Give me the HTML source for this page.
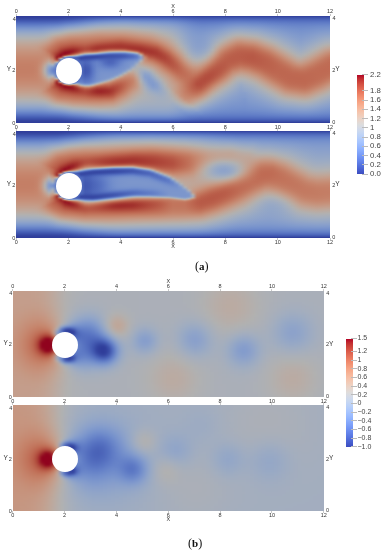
<!DOCTYPE html><html><head><meta charset="utf-8"><style>
*{margin:0;padding:0}
html,body{width:386px;height:550px;background:#fff;overflow:hidden}
body{position:relative;font-family:"Liberation Sans",Arial,sans-serif}
.fw{position:absolute;overflow:hidden}
.fi{position:absolute}
.fi i{position:absolute;left:0;right:0;display:block}
.cyl{position:absolute;background:#fff;border-radius:50%}
.t{position:absolute;white-space:nowrap}
.k{position:absolute}
.cap .p{font-size:12.2px}
.cap{position:absolute;font-family:"Liberation Serif","Times New Roman",serif;font-size:11px;line-height:11px;color:#111;white-space:nowrap}
</style></head><body>
<div class="fw" style="left:16px;top:16px;width:314px;height:107px">
<div class="fi" style="left:-3px;top:-3px;width:320px;height:113px;filter:blur(0.6px)">
<i style="top:0px;height:1px;background:linear-gradient(90deg,#2f3d9a,#2f3d9a,#2f3d9a,#2f3d9a,#2f3d9a,#2f3d9a,#2f3d9a,#2f3d9a,#2f3d9a,#2f3d9a,#2f3d9a,#2f3d9a,#2f3d9a,#2f3d9a,#2f3d9a,#2f3d9a,#2f3d9a,#2f3d9a,#2f3d9a,#2f3d9a,#2f3d9a,#2f3d9a,#2f3d9a,#2f3d9a,#2f3d9a,#2f3d9a,#2f3d9a,#2f3d9a,#2f3d9a,#2f3d9a,#2f3d9a,#2f3d9a,#2f3d9a,#2f3d9a,#2f3d9a,#2f3d9a,#2f3d9a,#2f3d9a,#2f3d9a,#2f3d9a,#2f3d9a,#2f3d9a,#2f3d9a,#2f3d9a,#2f3d9a,#2f3d9a,#2f3d9a,#2f3d9a,#2f3d9a,#2f3d9a,#2f3d9a,#2f3d9a,#2f3d9a,#2f3d9a,#2f3d9a,#2f3d9a,#2f3d9a,#2f3d9a,#2f3d9a,#2f3d9a,#2f3d9a,#2f3d9a,#2f3d9a,#2f3d9a,#2f3d9a,#2f3d9a,#2f3d9a,#2f3d9a,#2f3d9a,#2f3d9a,#2f3d9a,#2f3d9a,#2f3d9a,#2f3d9a,#2f3d9a,#2f3d9a,#2f3d9a,#2f3d9a,#2f3d9a,#2f3d9a,#2f3d9a)"></i>
<i style="top:1px;height:1px;background:linear-gradient(90deg,#2f3d9a,#2f3d9a,#2f3d9a,#2f3d9a,#2f3d9a,#2f3d9a,#2f3d9a,#2f3d9a,#2f3d9a,#2f3d9a,#2f3d9a,#2f3d9a,#2f3d9a,#2f3d9a,#2f3d9a,#2f3d9a,#2f3d9a,#2f3d9a,#2f3d9a,#2f3d9a,#2f3d9a,#2f3d9a,#2f3d9a,#2f3d9a,#2f3d9a,#2f3d9a,#2f3d9a,#2f3d9a,#2f3d9a,#2f3d9a,#2f3d9a,#2f3d9a,#2f3d9a,#2f3d9a,#2f3d9a,#2f3d9a,#2f3d9a,#2f3d9a,#2f3d9a,#2f3d9a,#2f3d9a,#2f3d9a,#2f3d9a,#2f3d9a,#2f3d9a,#2f3d9a,#2f3d9a,#2f3d9a,#2f3d9a,#2f3d9a,#2f3d9a,#2f3d9a,#2f3d9a,#2f3d9a,#2f3d9a,#2f3d9a,#2f3d9a,#2f3d9a,#2f3d9a,#2f3d9a,#2f3d9a,#2f3d9a,#2f3d9a,#2f3d9a,#2f3d9a,#2f3d9a,#2f3d9a,#2f3d9a,#2f3d9a,#2f3d9a,#2f3d9a,#2f3d9a,#2f3d9a,#2f3d9a,#2f3d9a,#2f3d9a,#2f3d9a,#2f3d9a,#2f3d9a,#2f3d9a,#2f3d9a)"></i>
<i style="top:2px;height:1px;background:linear-gradient(90deg,#2f3d9a,#2f3d9a,#2f3d9a,#2f3d9a,#2f3d9a,#2f3d9a,#2f3d9a,#2f3d9a,#2f3d9a,#2f3d9a,#2f3d9a,#2f3d9a,#2f3d9a,#2f3d9a,#2f3d9a,#2f3d9a,#2f3d9a,#2f3d9a,#2f3d9a,#2f3d9a,#2f3d9a,#2f3d9a,#2f3d9a,#2f3d9a,#2f3d9a,#2f3d9a,#2f3d9a,#2f3d9a,#2f3d9a,#2f3d9a,#2f3d9a,#2f3d9a,#2f3d9a,#2f3d9a,#2f3d9a,#2f3d9a,#2f3d9a,#2f3d9a,#2f3d9a,#2f3d9a,#2f3d9a,#2f3d9a,#2f3d9a,#2f3d9a,#2f3d9a,#2f3d9a,#2f3d9a,#2f3d9a,#2f3d9a,#2f3d9a,#2f3d9a,#2f3d9a,#2f3d9a,#2f3d9a,#2f3d9a,#2f3d9a,#2f3d9a,#2f3d9a,#2f3d9a,#2f3d9a,#2f3d9a,#2f3d9a,#2f3d9a,#2f3d9a,#2f3d9a,#2f3d9a,#2f3d9a,#2f3d9a,#2f3d9a,#2f3d9a,#2f3d9a,#2f3d9a,#2f3d9a,#2f3d9a,#2f3d9a,#2f3d9a,#2f3d9a,#2f3d9a,#2f3d9a,#2f3d9a,#2f3d9a)"></i>
<i style="top:3px;height:1px;background:linear-gradient(90deg,#303d9a,#303d9a,#303d9a,#303d9a,#303d9a,#303d9a,#303d9a,#303d9a,#303d9a,#303d9a,#303d9a,#303e9a,#303e9b,#303e9b,#313f9b,#31409c,#32409d,#32419e,#33429e,#33439f,#3444a0,#3545a1,#3546a1,#3546a2,#3647a2,#3648a3,#3648a3,#3748a3,#3748a3,#3748a3,#3648a3,#3648a3,#3648a3,#3648a3,#3648a3,#3648a3,#3648a3,#3648a3,#3648a3,#3647a3,#3647a2,#3647a2,#3546a2,#3546a1,#3545a1,#3445a0,#3444a0,#3444a0,#3444a0,#3444a0,#3444a0,#3444a0,#3444a0,#3444a0,#3444a0,#3444a0,#3445a0,#3445a0,#3444a0,#3444a0,#3444a0,#3444a0,#3444a0,#3444a0,#3444a0,#3444a0,#3444a0,#3444a0,#3444a0,#3444a0,#3444a0,#3444a0,#3444a0,#3444a0,#3444a0,#3444a0,#3444a0,#3444a0,#3444a0,#3444a0,#3444a0)"></i>
<i style="top:4px;height:1px;background:linear-gradient(90deg,#32419d,#32419d,#32419d,#32419d,#32419d,#32419d,#32419d,#32419d,#32419d,#32419d,#32419d,#32429e,#33429e,#3444a0,#3545a1,#3647a3,#3749a4,#394ca6,#3a4ea8,#3c51aa,#3e53ac,#3f55ae,#4157af,#4259b0,#435ab1,#445bb2,#445cb3,#455cb3,#455db3,#455db3,#455cb3,#445cb3,#445cb3,#445cb2,#445bb2,#445bb2,#445bb2,#435bb2,#435bb2,#435ab1,#4259b1,#4158b0,#4057af,#3f55ae,#3e54ad,#3d53ac,#3d52ab,#3c51aa,#3c51aa,#3c51aa,#3c51aa,#3c51aa,#3d52ab,#3d52ab,#3d52ab,#3d53ac,#3d53ac,#3d53ac,#3d53ac,#3d53ab,#3d52ab,#3d52ab,#3d52ab,#3d52ab,#3d51ab,#3c51aa,#3c51aa,#3c51aa,#3c51aa,#3c51aa,#3c51aa,#3c50aa,#3c50aa,#3c50aa,#3c51aa,#3c51aa,#3c51aa,#3c51aa,#3c51aa,#3c51aa,#3c51aa)"></i>
<i style="top:5px;height:1px;background:linear-gradient(90deg,#3647a2,#3647a2,#3647a2,#3647a2,#3647a2,#3647a2,#3647a2,#3647a2,#3647a2,#3647a2,#3647a3,#3648a3,#3749a4,#394ca6,#3a4ea8,#3c51aa,#3e54ac,#4057af,#435ab1,#465eb4,#4861b6,#4b64b8,#4d67ba,#4f69bc,#506abd,#526cbd,#526dbe,#536ebe,#536ebf,#536ebf,#536dbe,#526dbe,#526cbe,#526cbe,#526cbd,#516cbd,#516bbd,#516bbd,#506abd,#506abc,#4f69bc,#4d67ba,#4c65b9,#4a62b7,#4860b6,#465eb4,#455db3,#445cb2,#445bb2,#445cb2,#445cb3,#455cb3,#455db3,#455db4,#465eb4,#465fb5,#475fb5,#475fb5,#475fb5,#465eb5,#465eb4,#465eb4,#465eb4,#455db4,#455db3,#455cb3,#445cb3,#445cb3,#445bb2,#445bb2,#445bb2,#445bb2,#445bb2,#445bb2,#445bb2,#445bb2,#445bb2,#445bb2,#445cb2,#445cb2,#445cb2)"></i>
<i style="top:6px;height:1px;background:linear-gradient(90deg,#3a4ea8,#3a4ea8,#3a4ea8,#3a4ea8,#3a4ea8,#3a4ea8,#3a4ea8,#3a4ea8,#3a4ea8,#3b4fa8,#3b4fa9,#3b50a9,#3d52ab,#3f55ad,#4157af,#435ab2,#465eb4,#4962b7,#4d66ba,#506abc,#536ebf,#5672c1,#5974c2,#5b77c3,#5d79c4,#5e7ac5,#607cc6,#607cc6,#617dc6,#607cc6,#607cc6,#5f7bc6,#5f7bc5,#5e7ac5,#5e7ac5,#5d79c5,#5d79c4,#5c78c4,#5c78c4,#5b77c3,#5a75c3,#5773c1,#5570c0,#536dbe,#516bbd,#4f68bb,#4d66ba,#4c65b9,#4c65b9,#4c65b9,#4c65b9,#4d66ba,#4d67ba,#4e68bb,#4f69bc,#4f69bc,#506abc,#506abc,#5069bc,#4f69bc,#4f69bc,#4f68bb,#4e68bb,#4e67bb,#4d67ba,#4d66ba,#4c66ba,#4c65b9,#4c65b9,#4b64b9,#4b64b9,#4b64b8,#4b64b8,#4b64b8,#4b64b9,#4b64b9,#4c65b9,#4c65b9,#4c65b9,#4c65b9,#4c65b9)"></i>
<i style="top:7px;height:1px;background:linear-gradient(90deg,#4056ae,#4056ae,#4056ae,#4056ae,#4056ae,#4056ae,#4056ae,#4056ae,#4057af,#4157af,#4158af,#4258b0,#435bb2,#465eb5,#4961b7,#4c65b9,#4f69bc,#536dbe,#5772c1,#5a76c3,#5e7ac5,#627ec7,#6581c8,#6783c8,#6985c9,#6b87ca,#6c88ca,#6d89ca,#6d89ca,#6d89ca,#6c88ca,#6b87ca,#6a86c9,#6a86c9,#6985c9,#6985c9,#6884c9,#6783c9,#6783c8,#6682c8,#6480c7,#617dc6,#5e7ac5,#5b77c3,#5873c2,#5570c0,#536ebf,#526dbe,#526cbe,#526dbe,#536dbe,#536ebf,#546fbf,#5570c0,#5672c1,#5772c1,#5873c1,#5873c2,#5773c1,#5772c1,#5772c1,#5671c1,#5671c0,#5570c0,#546fbf,#546ebf,#536ebe,#536dbe,#526dbe,#526cbe,#526cbe,#516cbd,#516cbd,#516cbd,#526cbd,#526cbe,#526cbe,#526dbe,#526dbe,#536dbe,#536dbe)"></i>
<i style="top:8px;height:1px;background:linear-gradient(90deg,#465eb5,#465eb5,#465eb5,#465eb5,#465eb5,#465eb5,#465eb5,#475fb5,#475fb5,#4860b6,#4861b6,#4962b7,#4c65b9,#4f69bc,#526cbe,#5570c0,#5874c2,#5d78c4,#617dc6,#6581c8,#6985c9,#6d89ca,#708ccb,#738ecb,#7590cc,#7691cc,#7792cc,#7893cc,#7993cc,#7893cc,#7792cc,#7691cc,#7590cc,#7490cc,#748fcb,#738fcb,#728ecb,#718dcb,#708ccb,#6f8bcb,#6c88ca,#6a86c9,#6682c8,#627ec7,#5f7bc5,#5c77c4,#5975c2,#5873c2,#5873c2,#5874c2,#5974c2,#5a75c3,#5b77c3,#5c78c4,#5e7ac5,#5f7bc5,#607cc6,#607cc6,#5f7bc6,#5f7bc5,#5e7ac5,#5e7ac5,#5d79c4,#5c78c4,#5b77c3,#5a76c3,#5975c2,#5974c2,#5874c2,#5873c1,#5773c1,#5772c1,#5772c1,#5772c1,#5772c1,#5873c1,#5873c2,#5874c2,#5874c2,#5974c2,#5974c2)"></i>
<i style="top:9px;height:1px;background:linear-gradient(90deg,#4e67bb,#4e67bb,#4e67bb,#4e67bb,#4e67bb,#4e67bb,#4e67bb,#4e68bb,#4f68bb,#4f69bc,#506abc,#516bbd,#546ebf,#5873c1,#5b77c3,#5e7ac5,#627ec7,#6783c8,#6c88ca,#708ccb,#7490cc,#7893cc,#7b95cc,#7e97cc,#7f99cc,#819acc,#829bcc,#839ccc,#839ccc,#839bcc,#819acc,#8099cc,#7f99cc,#7e98cc,#7d97cc,#7c96cc,#7b95cc,#7a94cc,#7993cc,#7792cc,#7490cc,#718dcb,#6d89ca,#6985c9,#6581c8,#627ec6,#5f7bc5,#5e79c5,#5d79c5,#5e7ac5,#5f7bc5,#607cc6,#617dc6,#637fc7,#6581c8,#6682c8,#6783c8,#6783c8,#6783c8,#6682c8,#6581c8,#6581c8,#6480c7,#627ec7,#617dc6,#607cc6,#5f7bc6,#5e7ac5,#5e7ac5,#5d79c4,#5d78c4,#5c78c4,#5c78c4,#5c78c4,#5d78c4,#5d79c4,#5d79c5,#5e7ac5,#5e7ac5,#5e7ac5,#5e7ac5)"></i>
<i style="top:10px;height:1px;background:linear-gradient(90deg,#5570c0,#5570c0,#5570c0,#5570c0,#5570c0,#5570c0,#5570c0,#5570c0,#5671c0,#5772c1,#5873c2,#5975c2,#5d78c4,#617dc6,#6581c8,#6884c9,#6d89ca,#718dcb,#7691cc,#7a95cc,#7f98cc,#839ccc,#869ecb,#889fcb,#8aa0cb,#8ba1ca,#8ca2ca,#8da2ca,#8da2ca,#8ca2ca,#8ba1ca,#8aa0cb,#889fcb,#879ecb,#869dcb,#859dcc,#839ccc,#829bcc,#8099cc,#7e98cc,#7b95cc,#7892cc,#738fcb,#6f8bcb,#6a86c9,#6783c8,#6480c7,#627ec7,#627ec7,#637fc7,#6480c7,#6581c8,#6783c8,#6985c9,#6b87ca,#6d89ca,#6e8aca,#6e8aca,#6e8aca,#6d89ca,#6c88ca,#6b87ca,#6a86c9,#6985c9,#6783c8,#6682c8,#6581c8,#6480c7,#637fc7,#627ec7,#617dc6,#617dc6,#617dc6,#617dc6,#617dc6,#627ec7,#627ec7,#637fc7,#637fc7,#637fc7,#6480c7)"></i>
<i style="top:11px;height:1px;background:linear-gradient(90deg,#5c78c4,#5c78c4,#5c78c4,#5c78c4,#5c78c4,#5c78c4,#5c78c4,#5d79c4,#5e7ac5,#5f7bc6,#617dc6,#627ec7,#6682c8,#6b87ca,#6f8bcb,#738ecb,#7792cc,#7b95cc,#8099cc,#859dcc,#89a0cb,#8da2ca,#90a4c9,#91a5c8,#93a6c7,#94a7c7,#95a7c6,#96a8c6,#96a8c6,#95a7c6,#93a6c7,#92a5c8,#90a4c8,#8fa4c9,#8ea3c9,#8da2ca,#8ba1ca,#899fcb,#879ecb,#859dcc,#829bcc,#7e97cc,#7993cc,#748fcb,#6f8bcb,#6b87ca,#6884c9,#6783c8,#6783c8,#6884c9,#6985c9,#6a86c9,#6c88ca,#6f8bcb,#728dcb,#748fcb,#7590cc,#7590cc,#7490cc,#738fcb,#728ecb,#718dcb,#708ccb,#6e8aca,#6c88ca,#6b87ca,#6985c9,#6884c9,#6783c9,#6682c8,#6682c8,#6581c8,#6581c8,#6581c8,#6682c8,#6682c8,#6783c8,#6783c9,#6884c9,#6884c9,#6884c9)"></i>
<i style="top:12px;height:1px;background:linear-gradient(90deg,#6480c7,#6480c7,#6480c7,#6480c7,#6480c7,#6480c7,#6480c7,#6581c8,#6682c8,#6884c9,#6985c9,#6c88ca,#6f8bcb,#7590cc,#7994cc,#7d97cc,#819acc,#869dcb,#8aa0cb,#8fa3c9,#93a6c7,#97a8c6,#99a9c4,#9aaac4,#9cabc3,#9dabc2,#9dabc2,#9eabc2,#9eabc2,#9dabc2,#9baac3,#99a9c4,#98a9c5,#96a8c6,#95a7c6,#94a7c7,#92a5c8,#8fa4c9,#8da2ca,#8ba1ca,#879ecb,#839bcc,#7d97cc,#7893cc,#738fcb,#6f8bcb,#6c88ca,#6b87ca,#6b87ca,#6c88ca,#6d89ca,#6f8bcb,#718dcb,#7490cc,#7792cc,#7a94cc,#7b95cc,#7b95cc,#7b95cc,#7994cc,#7893cc,#7792cc,#7691cc,#748fcb,#718dcb,#708ccb,#6e8aca,#6d89ca,#6b87ca,#6a86c9,#6985c9,#6985c9,#6884c9,#6985c9,#6985c9,#6a86c9,#6b87ca,#6c88ca,#6c88ca,#6d89ca,#6d89ca)"></i>
<i style="top:13px;height:1px;background:linear-gradient(90deg,#6b87ca,#6b87ca,#6b87ca,#6b87ca,#6b87ca,#6b87ca,#6c88ca,#6c88ca,#6e8aca,#708ccb,#728ecb,#7590cc,#7994cc,#7f98cc,#849ccc,#879ecb,#8ca1ca,#8fa4c9,#94a7c7,#98a9c5,#9cabc3,#9facc1,#a2adbf,#a3adbf,#a4aebe,#a4aebd,#a5aebd,#a5aebc,#a5aebc,#a4aebd,#a3adbf,#a1adc0,#9facc1,#9dabc2,#9cabc3,#9aaac4,#98a9c5,#95a7c6,#93a6c7,#90a4c8,#8ca2ca,#889ecb,#829bcc,#7c96cc,#7792cc,#728ecb,#708ccb,#6e8aca,#6e8acb,#708ccb,#718dcb,#738fcb,#7691cc,#7994cc,#7d97cc,#8099cc,#819acc,#829bcc,#819acc,#8099cc,#7e98cc,#7d97cc,#7b95cc,#7993cc,#7691cc,#7490cc,#728ecb,#718dcb,#6f8bcb,#6e8aca,#6d89ca,#6c88ca,#6c88ca,#6c88ca,#6d89ca,#6e8aca,#6f8bcb,#708ccb,#708ccb,#718dcb,#718dcb)"></i>
<i style="top:14px;height:1px;background:linear-gradient(90deg,#738fcb,#738fcb,#738fcb,#738fcb,#738fcb,#738fcb,#738fcb,#748fcb,#7691cc,#7893cc,#7b95cc,#7e98cc,#839bcc,#899fcb,#8ea3c9,#91a5c8,#95a7c6,#99a9c5,#9dabc2,#a1adc0,#a4aebe,#a7afbb,#a9afb9,#aaafb8,#abafb7,#abafb7,#acb0b6,#acb0b6,#acb0b6,#abafb7,#a9afb9,#a7aebb,#a5aebc,#a4aebe,#a2adbf,#a0acc0,#9dabc2,#9aaac4,#98a9c5,#95a7c6,#91a5c8,#8ca1ca,#869dcb,#7f99cc,#7a94cc,#7691cc,#738ecb,#718dcb,#728ecb,#738fcb,#7590cc,#7792cc,#7b95cc,#7e98cc,#829bcc,#869dcb,#889fcb,#889fcb,#879ecb,#859dcb,#849ccc,#839bcc,#809acc,#7e97cc,#7b95cc,#7893cc,#7691cc,#7590cc,#738ecb,#718dcb,#708ccb,#6f8bcb,#6e8acb,#6f8bcb,#708ccb,#718dcb,#728ecb,#738fcb,#7490cc,#7590cc,#7590cc)"></i>
<i style="top:15px;height:1px;background:linear-gradient(90deg,#7a95cc,#7a95cc,#7a95cc,#7a95cc,#7a95cc,#7a95cc,#7a95cc,#7b95cc,#7d97cc,#819acc,#849ccc,#889fcb,#8ca1ca,#92a6c8,#97a8c5,#9aaac4,#9eacc2,#a2adbf,#a5aebd,#a9afba,#acb0b7,#aeb0b3,#b0b1b2,#b1b1b1,#b1b1b0,#b1b0b0,#b2b0af,#b2b0af,#b2b0af,#b1b1b1,#afb0b3,#adb0b5,#abafb7,#a9afb9,#a8afba,#a6aebc,#a3adbf,#9facc1,#9cabc2,#99a9c4,#95a7c6,#8fa4c9,#899fcb,#839bcc,#7d97cc,#7893cc,#7591cc,#7490cc,#7590cc,#7792cc,#7993cc,#7b95cc,#7f98cc,#839ccc,#889fcb,#8ba1ca,#8da2c9,#8ea3c9,#8da2ca,#8ba1ca,#8aa0cb,#889fcb,#869dcb,#829bcc,#7f99cc,#7d96cc,#7a95cc,#7893cc,#7691cc,#7490cc,#738ecb,#728ecb,#718dcb,#728ecb,#738ecb,#748fcb,#7591cc,#7792cc,#7892cc,#7893cc,#7993cc)"></i>
<i style="top:16px;height:1px;background:linear-gradient(90deg,#819acc,#819acc,#819acc,#819acc,#819acc,#819acc,#819acc,#829bcc,#859dcc,#899fcb,#8da2ca,#90a4c8,#95a7c6,#9baac3,#a1adc0,#a4aebe,#a7aebb,#aaafb9,#adb0b6,#afb0b2,#b2b0af,#b5aeab,#b6ada9,#b7ada8,#b7ada8,#b7ada7,#b7ada7,#b7ada7,#b7ada7,#b6ada9,#b4afac,#b2b0af,#b0b1b1,#afb0b3,#adb0b5,#abafb7,#a7afbb,#a4aebe,#a1adc0,#9dabc2,#99a9c5,#93a6c7,#8ca1ca,#859dcb,#7f99cc,#7b95cc,#7893cc,#7792cc,#7892cc,#7a94cc,#7c96cc,#7f99cc,#839ccc,#889fcb,#8da2ca,#91a5c8,#93a6c7,#93a7c7,#92a6c8,#91a5c8,#8fa4c9,#8da2ca,#8ba1ca,#879ecb,#849ccc,#819acc,#7e98cc,#7c96cc,#7994cc,#7792cc,#7691cc,#7490cc,#738fcb,#7490cc,#7591cc,#7792cc,#7993cc,#7a94cc,#7b95cc,#7c96cc,#7c96cc)"></i>
<i style="top:17px;height:1px;background:linear-gradient(90deg,#889fcb,#889fcb,#889fcb,#889fcb,#889fcb,#889fcb,#889fcb,#899fcb,#8ca1ca,#90a4c8,#95a7c6,#99a9c4,#9eabc2,#a4aebe,#a9afb9,#acafb7,#aeb0b4,#b1b1b1,#b3afad,#b6aea9,#b8aca5,#baaaa2,#bcaaa0,#bca99f,#bca99f,#bca99f,#bca99f,#bca99e,#bca99f,#bbaaa1,#b9aba4,#b7ada7,#b5aeaa,#b3afad,#b2b0b0,#afb0b2,#acb0b6,#a8afba,#a5aebd,#a1adc0,#9cabc3,#96a8c6,#8fa3c9,#889fcb,#829acc,#7d97cc,#7a94cc,#7994cc,#7a94cc,#7d96cc,#8099cc,#839bcc,#879ecb,#8ca2ca,#91a5c8,#96a8c6,#99a9c5,#99a9c4,#98a9c5,#96a8c6,#94a7c7,#92a6c8,#8fa4c9,#8ca1ca,#889fcb,#859dcc,#829bcc,#7f98cc,#7c96cc,#7a94cc,#7893cc,#7792cc,#7691cc,#7792cc,#7893cc,#7a94cc,#7c96cc,#7d97cc,#7f98cc,#8099cc,#8099cc)"></i>
<i style="top:18px;height:1px;background:linear-gradient(90deg,#8ea3c9,#8ea3c9,#8ea3c9,#8ea3c9,#8ea3c9,#8fa3c9,#8fa3c9,#8fa4c9,#92a6c8,#98a9c5,#9dabc2,#a1adbf,#a6aebc,#acb0b7,#b0b1b1,#b3b0ae,#b5aeab,#b7ada7,#b9aba4,#bbaaa0,#bda89c,#bfa699,#c0a597,#c0a597,#c0a597,#c0a597,#c0a596,#c0a596,#c0a597,#bfa699,#bda89c,#bcaaa0,#baaba3,#b8aca6,#b6ada9,#b4afac,#b0b1b2,#acb0b6,#a9afba,#a5aebd,#9facc1,#99a9c5,#91a5c8,#8aa0cb,#839ccc,#7f98cc,#7c96cc,#7b95cc,#7c96cc,#7f99cc,#839bcc,#869ecb,#8ba1ca,#91a5c8,#96a8c6,#9baac3,#9eacc1,#9facc1,#9dabc2,#9baac3,#99aac4,#97a9c5,#94a7c7,#90a4c9,#8ca1ca,#889fcb,#859dcb,#829bcc,#7f98cc,#7c96cc,#7a95cc,#7993cc,#7892cc,#7993cc,#7a95cc,#7c96cc,#7e98cc,#809acc,#829bcc,#839ccc,#839ccc)"></i>
<i style="top:19px;height:1px;background:linear-gradient(90deg,#94a7c7,#94a7c7,#94a7c7,#94a7c7,#94a7c7,#94a7c7,#95a7c7,#95a7c6,#98a9c5,#9eacc1,#a4aebe,#a9afb9,#adb0b5,#b3b0ae,#b7ada7,#b9aba4,#bbaaa1,#bda99e,#bea79b,#c0a597,#c1a394,#c2a191,#c3a08f,#c3a08f,#c3a08f,#c3a08f,#c3a08e,#c3a08e,#c2a08f,#c2a292,#c0a495,#bfa698,#bea89c,#bca99f,#baaba2,#b8aca6,#b4afac,#b0b1b2,#acb0b6,#a8afba,#a3adbf,#9baac3,#93a7c7,#8ca1ca,#859dcb,#809acc,#7e97cc,#7d97cc,#7f98cc,#829bcc,#869dcb,#8aa0cb,#8fa4c9,#95a7c6,#9baac3,#a1adc0,#a4aebe,#a4aebd,#a3adbf,#a1adc0,#9facc1,#9dabc2,#99a9c4,#94a7c7,#90a4c8,#8ca2ca,#899fcb,#859dcb,#829bcc,#7f98cc,#7d96cc,#7b95cc,#7a94cc,#7b95cc,#7d96cc,#7f98cc,#819acc,#849ccc,#859dcb,#879ecb,#879ecb)"></i>
<i style="top:20px;height:1px;background:linear-gradient(90deg,#9aaac4,#9aaac4,#9aaac4,#9aaac4,#9aaac4,#9aaac4,#9aaac4,#9baac3,#9eacc1,#a5aebd,#abafb7,#b0b1b2,#b4afac,#b9aca4,#bda89d,#bea79a,#bfa597,#c1a495,#c2a292,#c3a08f,#c49e8c,#c49b88,#c59a87,#c59a87,#c59a87,#c59a87,#c59a86,#c59a86,#c59b87,#c49d8a,#c39f8e,#c2a191,#c1a495,#bfa698,#bea79b,#bcaaa0,#b8ada7,#b3afad,#afb0b2,#abafb7,#a6aebc,#9eabc2,#96a8c6,#8ea3c9,#879ecb,#829bcc,#7f99cc,#7f98cc,#809acc,#849ccc,#889fcb,#8da2ca,#93a6c7,#99a9c4,#a0acc1,#a6aebc,#a9afb9,#aaafb9,#a8afba,#a6aebc,#a4aebe,#a2adbf,#9dabc2,#98a9c5,#94a7c7,#90a4c9,#8ca2ca,#889fcb,#859dcc,#819acc,#7f98cc,#7d97cc,#7b96cc,#7d97cc,#7f98cc,#819acc,#849ccc,#879ecb,#899fcb,#8aa0cb,#8aa0cb)"></i>
<i style="top:21px;height:1px;background:linear-gradient(90deg,#9facc1,#9facc1,#9facc1,#9facc1,#9facc1,#9facc1,#a0acc1,#a0adc0,#a4aebe,#aaafb8,#b1b1b1,#b6ada9,#baaba2,#bea79b,#c1a393,#c2a191,#c39f8e,#c49e8c,#c49c8a,#c59a86,#c59883,#c69680,#c6957f,#c6957f,#c6957f,#c6947f,#c6947e,#c6947e,#c6957f,#c59782,#c59a86,#c49d8a,#c39f8e,#c2a191,#c1a495,#bfa69a,#bbaaa1,#b7ada8,#b2b0ae,#aeb0b4,#a8afba,#a0acc0,#98a9c5,#8fa4c9,#889fcb,#839ccc,#819acc,#8099cc,#829bcc,#869ecb,#8ba1ca,#90a4c8,#96a8c6,#9dabc2,#a4aebd,#abafb8,#aeb0b4,#afb0b3,#adb0b5,#abafb7,#a9afb9,#a7aebb,#a2adbf,#9dabc2,#98a9c5,#94a7c7,#90a4c9,#8ca1ca,#879ecb,#849ccc,#819acc,#7f98cc,#7d97cc,#7f98cc,#819acc,#849ccc,#879ecb,#8aa0cb,#8ca1ca,#8da2c9,#8ea3c9)"></i>
<i style="top:22px;height:1px;background:linear-gradient(90deg,#a4aebd,#a4aebd,#a4aebd,#a4aebd,#a4aebd,#a4aebd,#a5aebd,#a6aebc,#a9afba,#afb0b3,#b7ada8,#bca99f,#bfa699,#c2a191,#c49d8a,#c49b87,#c59985,#c59883,#c59681,#c6947e,#c6927c,#c69079,#c68f78,#c68f78,#c68f78,#c68e77,#c68e77,#c68d76,#c68f77,#c6917b,#c6947e,#c59782,#c59a86,#c49d8a,#c39f8e,#c1a393,#bea79b,#baaba3,#b6aea9,#b1b1b1,#abafb7,#a3adbf,#9aaac4,#91a5c8,#8aa0cb,#849dcc,#829bcc,#829bcc,#849ccc,#889fcb,#8ea3c9,#94a7c7,#9aaac4,#a2adbf,#a9afba,#afb0b3,#b3b0ae,#b4afac,#b2b0af,#b0b1b2,#aeb0b4,#abafb7,#a7aebb,#a1adc0,#9cabc3,#97a8c5,#93a6c7,#8ea3c9,#8aa0cb,#869ecb,#839ccc,#819acc,#7f98cc,#819acc,#839ccc,#869ecb,#8aa0cb,#8da2ca,#8fa4c9,#91a5c8,#91a5c8)"></i>
<i style="top:23px;height:1px;background:linear-gradient(90deg,#a9afba,#a9afba,#a9afba,#a9afb9,#a9afb9,#a9afb9,#a9afb9,#aaafb8,#adb0b5,#b3afad,#bcaaa0,#c0a496,#c2a08f,#c49b88,#c59681,#c6947e,#c6937d,#c6927b,#c6907a,#c68f78,#c68c75,#c68a73,#c68971,#c68971,#c68870,#c6886f,#c6876e,#c6866e,#c6886f,#c68b73,#c68e77,#c6917b,#c6957f,#c59883,#c59a87,#c39f8d,#c0a495,#bda99d,#b9aca5,#b4afac,#adb0b5,#a5aebd,#9cabc3,#92a6c8,#8ba1ca,#869dcb,#839ccc,#839bcc,#859dcc,#8aa0cb,#90a4c8,#97a8c5,#9eacc1,#a6aebc,#adb0b5,#b4afad,#b8aca6,#b9aca5,#b7ada8,#b5aeab,#b3b0ae,#b0b1b2,#abafb7,#a6aebc,#a0acc0,#9baac3,#96a8c6,#91a5c8,#8da2ca,#899fcb,#859dcb,#829bcc,#819acc,#839bcc,#859dcb,#899fcb,#8ca2ca,#90a4c9,#93a6c7,#94a7c7,#95a7c6)"></i>
<i style="top:24px;height:1px;background:linear-gradient(90deg,#adb0b5,#adb0b5,#adb0b5,#adb0b5,#adb0b5,#adb0b5,#adb0b5,#aeb0b3,#b1b0b0,#b8aca6,#bfa598,#c39e8d,#c59a86,#c6957f,#c69079,#c68e77,#c68d75,#c68c74,#c68b73,#c68971,#c6876e,#c6856c,#c5836a,#c5826a,#c58269,#c58068,#c47f66,#c47e66,#c48068,#c5846b,#c6886f,#c68b74,#c68f78,#c6927c,#c69580,#c59a87,#c2a08f,#bfa598,#bcaaa0,#b7ada8,#b0b1b2,#a7afbb,#9dabc2,#94a7c7,#8ca1ca,#879ecb,#849ccc,#849ccc,#869ecb,#8ca1ca,#92a6c8,#9aaac4,#a2adbf,#aaafb8,#b1b1b0,#b8aca6,#bca99f,#bda99d,#bbaaa0,#b9aba4,#b7ada7,#b5aeab,#afb0b2,#aaafb8,#a4aebd,#9facc1,#9aaac4,#94a7c7,#8fa4c9,#8ba1ca,#879ecb,#849ccc,#829bcc,#859dcc,#889ecb,#8ba1ca,#8fa3c9,#93a6c7,#96a8c6,#98a9c5,#98a9c5)"></i>
<i style="top:25px;height:1px;background:linear-gradient(90deg,#b0b1b1,#b0b1b1,#b0b1b1,#b0b1b1,#b0b1b1,#b1b1b1,#b1b1b0,#b2b0ae,#b5aeaa,#bca99f,#c2a191,#c59884,#c6937d,#c68e77,#c68971,#c6876f,#c6866e,#c6866d,#c6856c,#c5836a,#c58168,#c47f66,#c47d64,#c37c63,#c37a62,#c37960,#c2775e,#c2765d,#c37860,#c37c63,#c48067,#c5846c,#c68870,#c68c75,#c69079,#c69580,#c49c89,#c1a292,#bea79b,#b9aba4,#b2b0af,#aaafb9,#9facc1,#95a7c6,#8da2ca,#889ecb,#859dcc,#849dcc,#879ecb,#8da2ca,#95a7c7,#9dabc2,#a6aebc,#aeb0b4,#b5aeaa,#bca99f,#c0a597,#c0a495,#bfa699,#bda89c,#bcaa9f,#b9aca4,#b4afad,#aeb0b4,#a9afba,#a3aebe,#9eabc2,#97a9c5,#92a6c8,#8ea2c9,#8aa0cb,#869ecb,#849ccc,#879ecb,#8aa0cb,#8da2c9,#92a5c8,#96a8c6,#9aaac4,#9cabc3,#9cabc3)"></i>
<i style="top:26px;height:1px;background:linear-gradient(90deg,#b4afac,#b4afac,#b4afac,#b4afac,#b4afac,#b4afac,#b5aeab,#b6ada9,#b9aba4,#bfa699,#c49c8a,#c6927c,#c68c75,#c6876f,#c5836a,#c58168,#c48067,#c48067,#c48067,#c47e65,#c37b62,#c37860,#c2765e,#c2745c,#c1725a,#c17058,#c06e56,#bf6d55,#c07058,#c2745c,#c37860,#c47d64,#c58168,#c6856d,#c68971,#c69079,#c59782,#c39e8c,#c0a496,#bca99f,#b5aeab,#acb0b7,#a1adbf,#97a8c5,#8ea3c9,#889fcb,#859dcb,#859dcb,#889fcb,#8ea3c9,#97a8c5,#a1adc0,#aaafb9,#b2b0af,#b9aba3,#bfa598,#c2a08f,#c39f8e,#c2a191,#c1a394,#bfa598,#bda89d,#b8aca6,#b2b0af,#adb0b6,#a7aebb,#a1adc0,#9baac3,#95a7c6,#90a4c9,#8ca1ca,#889fcb,#869dcb,#899fcb,#8ca1ca,#90a4c9,#94a7c7,#99a9c4,#9dabc2,#a0acc1,#a0acc0)"></i>
<i style="top:27px;height:1px;background:linear-gradient(90deg,#b7ada7,#b7ada7,#b7ada7,#b7ada7,#b7ada7,#b7ada7,#b8aca6,#baaba3,#bda99e,#c1a292,#c59782,#c68c74,#c6856d,#c58168,#c37c63,#c37a61,#c37a61,#c37a61,#c37a61,#c2785f,#c2755d,#c1725a,#c06f57,#bf6c55,#be6a53,#bd6751,#bc644e,#bc634d,#bd6750,#bf6b54,#c07058,#c2745c,#c37960,#c47e65,#c5836a,#c68a72,#c6917b,#c59a86,#c2a191,#bea79b,#b7ada7,#aeb0b4,#a3aebe,#98a9c5,#8fa4c9,#89a0cb,#869ecb,#869dcb,#899fcb,#90a4c9,#99a9c4,#a4aebe,#adb0b5,#b6aea9,#bda89d,#c2a191,#c49b88,#c59985,#c49c89,#c39e8d,#c2a190,#c0a496,#bca99f,#b6ada9,#b0b1b1,#abafb7,#a5aebd,#9eacc2,#98a9c5,#92a6c8,#8ea3c9,#8aa0cb,#879ecb,#8ba0cb,#8ea3c9,#92a6c8,#97a8c5,#9dabc2,#a1adc0,#a4aebe,#a4aebd)"></i>
<i style="top:28px;height:1px;background:linear-gradient(90deg,#baaba3,#baaba3,#baaba3,#baaba3,#baaba3,#baaba2,#bbaaa1,#bda99e,#bfa597,#c49e8c,#c6927b,#c6856d,#c47e66,#c37a62,#c2765d,#c1745b,#c1745c,#c2745c,#c2755c,#c1725a,#c06e57,#be6a53,#bd6750,#bc644e,#ba614b,#b95e49,#b85b47,#b75946,#b95d49,#bb624c,#bd6750,#bf6b54,#c17058,#c2765d,#c37b62,#c5836a,#c68b74,#c6957f,#c49d8b,#c0a596,#b9aba4,#b0b1b2,#a5aebc,#9aaac4,#90a4c8,#8aa0cb,#879ecb,#869ecb,#8aa0cb,#91a5c8,#9baac3,#a7aebb,#b1b1b1,#baaba3,#c0a496,#c49c8a,#c6957f,#c6937d,#c59681,#c59984,#c49b88,#c39f8e,#bfa698,#baaba2,#b4afab,#afb0b3,#a9afba,#a1adbf,#9baac3,#95a7c6,#90a4c8,#8ca1ca,#89a0cb,#8da2ca,#90a4c8,#95a7c6,#9aaac4,#a0acc0,#a5aebd,#a8afbb,#a8afba)"></i>
<i style="top:29px;height:1px;background:linear-gradient(90deg,#bca99e,#bca99e,#bca99e,#bca99e,#bda99e,#bda99e,#bda89c,#bfa698,#c2a191,#c59985,#c68c75,#c48067,#c2785f,#c1745c,#c06f58,#bf6d55,#c06d56,#c06f57,#c06f57,#bf6c55,#bd6750,#bb624c,#b95d49,#b75a47,#b65744,#b55442,#b35140,#b34f3f,#b55442,#b75845,#b95d49,#bb624c,#bd6750,#bf6d56,#c1735b,#c37b63,#c5846b,#c68f78,#c59985,#c2a292,#bcaaa0,#b2b0af,#a7afbb,#9babc3,#91a5c8,#8ba1ca,#879ecb,#879ecb,#8ba0cb,#92a6c8,#9eabc2,#aaafb8,#b4afab,#bda89d,#c2a08f,#c59782,#c68f78,#c68d76,#c69079,#c6937d,#c69680,#c59a87,#c2a191,#bea89b,#b8aca5,#b3b0ae,#acb0b6,#a5aebd,#9eabc2,#98a9c5,#92a6c7,#8ea3c9,#8ba1ca,#8fa3c9,#93a6c7,#98a9c5,#9dabc2,#a4aebe,#a9afba,#abafb7,#acb0b6)"></i>
<i style="top:30px;height:1px;background:linear-gradient(90deg,#bea79a,#bea79a,#bea79a,#bea79a,#bea79a,#bfa699,#bfa598,#c1a393,#c49d8b,#c6947f,#c6876e,#c37a61,#c17159,#bf6d56,#be6852,#bd664f,#bd6750,#be6852,#be6952,#bd654f,#ba5f4a,#b75846,#b55442,#b35040,#b24d3e,#b04a3c,#af483a,#ae4739,#b04a3c,#b24e3f,#b45342,#b65845,#b95d49,#bc644e,#be6a53,#c1735b,#c37c64,#c68971,#c6957f,#c39e8d,#bea89b,#b5aeab,#aaafb9,#9dabc2,#93a6c7,#8ca1ca,#889fcb,#889fcb,#8ba1ca,#93a6c7,#a0acc0,#adb0b5,#b8aca5,#c0a496,#c49b88,#c6917b,#c68971,#c6876e,#c68a72,#c68d75,#c68f79,#c6957f,#c49d8a,#c1a495,#bca99f,#b7ada8,#afb0b2,#a8afba,#a1adc0,#9baac4,#95a7c6,#90a4c8,#8da2ca,#91a5c8,#95a7c6,#9baac3,#a1adc0,#a7aebb,#acb0b6,#afb0b3,#b0b1b2)"></i>
<i style="top:31px;height:1px;background:linear-gradient(90deg,#c0a496,#c0a496,#c0a496,#c0a496,#c0a496,#c0a495,#c1a393,#c3a08f,#c59985,#c68f79,#c58169,#c2755d,#bf6b54,#bd6650,#bb614c,#b95e49,#ba5f4a,#bb614c,#bc634d,#b95e4a,#b65644,#b24f3f,#b04a3c,#ae4739,#ad4438,#ac4236,#aa4035,#aa3f34,#ac4236,#ae4639,#b04a3b,#b24e3e,#b45342,#b75a47,#bb614c,#be6a53,#c1745c,#c5826a,#c68f79,#c49b88,#c0a597,#b7ada8,#acb0b7,#9facc1,#94a7c7,#8ca2ca,#899fcb,#899fcb,#8ca2ca,#95a7c6,#a3adbf,#b0b1b1,#bca99f,#c2a08f,#c69680,#c68c74,#c5836a,#c58168,#c5836a,#c6866e,#c68971,#c68f78,#c59783,#c39f8e,#bfa698,#baaba2,#b3afae,#abafb7,#a4aebd,#9dabc2,#97a9c5,#92a6c8,#8fa4c9,#93a6c7,#98a9c5,#9eabc2,#a4aebe,#abafb8,#b0b1b2,#b3afad,#b4afac)"></i>
<i style="top:32px;height:1px;background:linear-gradient(90deg,#c1a292,#c1a292,#c1a292,#c1a292,#c1a292,#c2a292,#c2a08f,#c49d8a,#c69580,#c68a72,#c37c64,#c07058,#bc654f,#b95e4a,#b75845,#b55443,#b65644,#b75a47,#b85c48,#b65644,#b24d3e,#ad4538,#ab4136,#aa3f34,#a93d33,#a83c32,#a73a31,#a73931,#a83c32,#a93e34,#ab4136,#ad4538,#b0493b,#b35140,#b75845,#bb614c,#bf6b53,#c37b62,#c68a72,#c59782,#c1a293,#b9aba4,#aeb0b4,#a2adbf,#96a8c6,#8da2ca,#89a0cb,#89a0cb,#8da2ca,#96a8c6,#a5aebd,#b4afac,#bfa699,#c49b88,#c6907a,#c6866d,#c47d64,#c37b62,#c47d64,#c48067,#c5836a,#c68971,#c6927c,#c59a87,#c2a191,#bea89c,#b7ada8,#afb0b3,#a8afbb,#a1adc0,#9aaac4,#95a7c6,#91a5c8,#95a8c6,#9baac3,#a1adc0,#a7afbb,#aeb0b4,#b4afad,#b7ada7,#b8aca6)"></i>
<i style="top:33px;height:1px;background:linear-gradient(90deg,#c39f8e,#c39f8e,#c39f8e,#c39f8e,#c39f8e,#c39f8e,#c49e8c,#c59986,#c6917b,#c6856d,#c2775f,#bf6b54,#b95e49,#b65644,#b24e3f,#b04a3c,#b24d3e,#b45241,#b55543,#b34f3f,#ad4538,#a93d33,#a73a32,#a73931,#a73931,#a63931,#a63830,#a53730,#a63830,#a63830,#a73a31,#a93d33,#ab4135,#af483a,#b34f3f,#b65845,#bb614c,#c1735b,#c5846b,#c6927c,#c39f8e,#bcaaa0,#b0b1b2,#a4aebe,#97a9c5,#8ea3c9,#8aa0cb,#8aa0cb,#8fa3c9,#98a9c5,#a8afbb,#b7ada7,#c1a292,#c59681,#c68a73,#c48067,#c2775f,#c2755c,#c2775e,#c37961,#c37c63,#c5836a,#c68c75,#c6957f,#c49d8b,#c0a495,#baaba3,#b2b0af,#abafb8,#a4aebe,#9dabc2,#97a8c5,#94a7c7,#98a9c5,#9eabc2,#a4aebe,#abafb8,#b1b1b0,#b8ada7,#bbaaa1,#bcaa9f)"></i>
<i style="top:34px;height:1px;background:linear-gradient(90deg,#c49d8b,#c49d8b,#c49d8b,#c49d8b,#c49d8b,#c49d8b,#c49c89,#c59781,#c68e77,#c58168,#c1735b,#bd664f,#b65644,#b14c3d,#ad4437,#aa4035,#ac4337,#b04a3c,#b24f3f,#b0493b,#aa3f34,#a63830,#a63830,#a63931,#a83b32,#a83c32,#a83b32,#a73b32,#a73931,#a5362f,#a5352f,#a53730,#a73931,#ab4035,#ae473a,#b24f3f,#b75845,#bf6b54,#c47d64,#c68d76,#c49b88,#bea79b,#b3b0ae,#a6aebc,#99a9c4,#90a4c9,#8ba1ca,#8ca1ca,#90a4c8,#9aaac4,#aaafb8,#baaba2,#c49e8c,#c6917a,#c6856c,#c37a62,#c1725a,#c07058,#c17159,#c1735b,#c2765e,#c47d64,#c6866e,#c68f79,#c59883,#c2a08f,#bda89d,#b6aeaa,#aeb0b4,#a7aebb,#a0acc0,#9aaac4,#96a8c6,#9baac3,#a1adc0,#a7aebb,#aeb0b4,#b5aeab,#bbaaa1,#bea79a,#bfa699)"></i>
<i style="top:35px;height:1px;background:linear-gradient(90deg,#c49b87,#c49b87,#c49b87,#c49b87,#c49b87,#c59b87,#c59a86,#c6957f,#c68a73,#c47d64,#c06f57,#ba614b,#b24d3e,#ab4136,#a63830,#a4342e,#a73a31,#ad4438,#b14b3c,#ae4739,#a83c33,#a63730,#a83c32,#ab4035,#ae4639,#af483a,#af473a,#ae473a,#ac4437,#a83b32,#a5362f,#a4342e,#a4342e,#a73a31,#aa4035,#ae4739,#b35040,#bc634d,#c2765e,#c6886f,#c59783,#c0a597,#b5aeaa,#a9afb9,#9baac3,#91a5c8,#8da2ca,#8da2ca,#92a5c8,#9dabc2,#adb0b5,#bda89d,#c59985,#c68b74,#c47f66,#c2755d,#c06d56,#bf6b54,#bf6c55,#c06e56,#c17058,#c2775e,#c48067,#c68a72,#c6937c,#c49c89,#c0a597,#b9aca4,#b1b1b0,#aaafb8,#a3aebe,#9cabc2,#99a9c5,#9dabc2,#a4aebe,#aaafb8,#b1b1b1,#b8aca6,#bea79b,#c1a394,#c1a292)"></i>
<i style="top:36px;height:1px;background:linear-gradient(90deg,#c59884,#c59884,#c59884,#c59884,#c59884,#c59884,#c59883,#c6947e,#c6886f,#c37960,#be6a53,#b85b47,#ad4438,#a4352f,#9f2b2a,#9e2829,#a3322d,#ab4136,#b14c3d,#b0493b,#ab4135,#aa3f34,#af493b,#b45141,#b85c48,#ba604b,#ba604b,#ba604b,#b85b48,#b14c3d,#ab4035,#a63830,#a3322d,#a4352f,#a73a32,#ab4035,#af483b,#b85b48,#c06f57,#c58169,#c6937d,#c1a292,#b8aca6,#abafb7,#9dabc2,#93a6c7,#8ea3c9,#8fa3c9,#94a7c7,#a0acc1,#b0b1b2,#c0a597,#c6947e,#c6866d,#c37961,#c17058,#be6952,#bd6751,#be6851,#be6952,#bf6b54,#c1725a,#c37b62,#c5846b,#c68d76,#c59782,#c2a191,#bca99f,#b5aeab,#adb0b5,#a6aebc,#9facc1,#9baac3,#a0acc0,#a7aebb,#adb0b5,#b4afab,#bbaaa0,#c1a394,#c39e8d,#c49d8b)"></i>
<i style="top:37px;height:1px;background:linear-gradient(90deg,#c59681,#c59681,#c59681,#c59681,#c59681,#c69681,#c69680,#c6927c,#c68870,#c2765e,#bd6650,#b55443,#a73b32,#9e2829,#991f25,#992026,#a12f2c,#ad4438,#b55342,#b55443,#b24e3e,#b45141,#bb634d,#c17059,#c47f66,#c5846b,#c6866d,#c6866e,#c58269,#c07058,#b85c48,#af493b,#a4352f,#a3332e,#a5362f,#a83b32,#ac4337,#b55442,#bd6751,#c37b62,#c68e77,#c39f8d,#bbaaa1,#aeb0b4,#a0acc1,#95a7c6,#90a4c8,#91a5c8,#96a8c6,#a3adbf,#b3b0ae,#c2a292,#c68f78,#c48067,#c2745c,#bf6c54,#bd6650,#bc644e,#bc644e,#bd654f,#bd6650,#bf6d55,#c2755d,#c47e65,#c6876f,#c6927c,#c49d8b,#bfa699,#b8aca6,#b0b1b1,#a9afb9,#a2adbf,#9eacc1,#a4aebe,#aaafb8,#b1b1b1,#b8aca6,#bea79a,#c39f8e,#c59a86,#c59884)"></i>
<i style="top:38px;height:1px;background:linear-gradient(90deg,#c6947e,#c6947e,#c6947e,#c6947e,#c6947e,#c6947e,#c6937d,#c6917b,#c68971,#c2755d,#bb624c,#b24d3e,#a2312d,#981a24,#951322,#991d25,#a4342e,#b35140,#bd6650,#bf6b54,#be6a53,#c1735a,#c68870,#c59883,#c0a596,#bca99f,#baaba2,#b9aba4,#bcaaa0,#c49d8a,#c68971,#c06e56,#ab4135,#a4352f,#a4352f,#a63830,#aa3f34,#b24d3e,#ba604b,#c1745b,#c68971,#c49b88,#bda89c,#b0b1b1,#a2adbf,#97a8c5,#92a6c8,#93a6c7,#99a9c4,#a6aebc,#b6ada9,#c39e8c,#c68a72,#c37a62,#c07058,#be6851,#bc634d,#bb614c,#bb614c,#bb624c,#bb634d,#be6852,#c17058,#c37960,#c58269,#c68d76,#c59984,#c1a393,#bbaaa0,#b3afad,#acb0b6,#a5aebc,#a1adc0,#a7aebb,#adb0b5,#b4afac,#bbaaa1,#c1a394,#c49b88,#c6957f,#c6937d)"></i>
<i style="top:39px;height:1px;background:linear-gradient(90deg,#c6927b,#c6927b,#c6927b,#c6927b,#c6927b,#c6927b,#c6917b,#c69079,#c68971,#c37860,#b95d49,#ad4538,#9d2628,#930e21,#941022,#9d2829,#ad4438,#be6a53,#c6866d,#c68e77,#c6917b,#c49c8a,#b8aca5,#a9afb9,#99a9c4,#91a5c8,#8ea3c9,#8da2ca,#90a4c8,#a2adbf,#b3afad,#c49c89,#b85b47,#a73a32,#a53730,#a63730,#a83c32,#af473a,#b75946,#bf6c55,#c5846b,#c59782,#bfa597,#b3afae,#a5aebd,#9aaac4,#95a7c6,#95a7c6,#9cabc2,#aaafb9,#baaba3,#c59a86,#c6856c,#c2755d,#bf6b54,#bc654f,#bb614c,#ba5f4b,#ba5f4a,#ba5f4a,#ba5f4b,#bc654f,#bf6c54,#c1745b,#c37c64,#c6886f,#c6947e,#c39f8d,#bea79b,#b7ada8,#afb0b2,#a8afba,#a4aebd,#aaafb8,#b0b1b1,#b7ada7,#bea79b,#c3a08f,#c59681,#c68f79,#c68e77)"></i>
<i style="top:40px;height:1px;background:linear-gradient(90deg,#c69079,#c69079,#c69079,#c69079,#c69079,#c69079,#c68f79,#c68e77,#c68a72,#c37c63,#b85c48,#a83c33,#981a24,#930b20,#981c25,#aa3f34,#bc644e,#c68f78,#bda89d,#b4afac,#aeb0b4,#a0acc0,#8aa0cb,#7792cc,#6985c9,#6480c7,#627ec7,#627ec7,#6682c8,#7591cc,#879ecb,#a5aebd,#c58168,#ad4438,#a83b32,#a73931,#a83b32,#ac4337,#b45241,#bd664f,#c47e65,#c6927c,#c1a292,#b6aea9,#a8afba,#9dabc2,#98a9c5,#98a9c5,#a0acc0,#adb0b5,#bda99d,#c69680,#c48067,#c17159,#be6851,#bb624d,#ba5f4b,#b95e4a,#b95d49,#b95d49,#b95d49,#bb624c,#be6851,#c06f57,#c2775f,#c5836a,#c68f78,#c59a87,#c0a495,#baaba2,#b3b0ae,#abafb7,#a8afbb,#adb0b5,#b3afad,#bbaaa2,#c0a495,#c49b88,#c6927b,#c68a72,#c68870)"></i>
<i style="top:41px;height:1px;background:linear-gradient(90deg,#c68e77,#c68e77,#c68e77,#c68e77,#c68e77,#c68e77,#c68e76,#c68d76,#c68a72,#c48067,#b95d49,#a3332d,#940f21,#981b24,#a83c33,#bd6751,#c68f78,#b2b0b0,#91a5c8,#829bcc,#7892cc,#6a86c9,#5b76c3,#516bbd,#4b64b8,#4962b7,#4a62b7,#4b64b9,#4f69bc,#5975c2,#6581c8,#7f98cc,#c0a495,#b55342,#ab4236,#a93e34,#a83c32,#ab4135,#b24d3d,#ba604b,#c2785f,#c68d76,#c39e8d,#b8aca5,#abafb7,#a0acc0,#9baac3,#9cabc3,#a4aebe,#b1b1b0,#c0a597,#c6917a,#c37b63,#bf6c55,#bc654f,#ba604b,#b95e4a,#b95d49,#b85c48,#b85b48,#b85b48,#ba5f4b,#bc654f,#bf6b54,#c1735a,#c47e65,#c68a72,#c69680,#c2a08f,#bda89d,#b6aea9,#aeb0b3,#abafb8,#b0b1b1,#b7ada8,#bda89c,#c2a08f,#c59782,#c68d76,#c6856c,#c5836a)"></i>
<i style="top:42px;height:1px;background:linear-gradient(90deg,#c68c74,#c68c74,#c68c74,#c68c74,#c68c74,#c68c74,#c68c74,#c68c74,#c68b73,#c5846b,#bb614c,#9f2a2a,#930c21,#b24d3e,#c68a72,#c2a090,#aeb0b4,#7f98cc,#5d79c4,#536dbe,#4c65b9,#455db4,#4158b0,#3f55ae,#3e54ad,#3f55ad,#4057af,#4259b1,#465eb4,#4e68bb,#5671c1,#6884c9,#a8afba,#bd6650,#b04a3c,#ad4438,#aa3f34,#aa4035,#af493b,#b75a47,#c1725a,#c68870,#c49b88,#bbaaa0,#aeb0b4,#a4aebe,#9eacc1,#a0acc1,#a8afba,#b5aeaa,#c2a191,#c68c75,#c2775e,#be6952,#bb624d,#ba5f4a,#b95d49,#b95d49,#b85b48,#b85a47,#b75a47,#b95e49,#bb624d,#be6851,#c06e57,#c37960,#c6856c,#c6917b,#c49c89,#bfa597,#b9aba4,#b2b0b0,#aeb0b4,#b4afad,#baaba2,#c0a596,#c49c8a,#c6927c,#c68870,#c48067,#c47e65)"></i>
<i style="top:43px;height:1px;background:linear-gradient(90deg,#c68a72,#c68a72,#c68a72,#c68a72,#c68a72,#c68a72,#c68a72,#c68b73,#c68c75,#c68870,#be6851,#9a2126,#9b2327,#bfa698,#89a0cb,#859dcc,#7691cc,#506abc,#3f55ad,#3b4fa9,#394ca7,#394ba6,#3a4da7,#3b50a9,#3c51aa,#3d53ac,#3f55ad,#4158b0,#455db3,#4c65b9,#526dbe,#607cc6,#93a6c7,#c37860,#b55443,#b14c3d,#ac4337,#ab4035,#ae4639,#b55544,#bf6c55,#c5836a,#c59782,#bea89c,#b1b1b1,#a7aebb,#a2adbf,#a4aebe,#acb0b6,#b9aba4,#c49c8a,#c6876f,#c1735b,#bd6650,#ba614b,#b95e49,#b95d49,#b85c48,#b85b47,#b75a46,#b75946,#b95c48,#ba604b,#bd654f,#bf6b54,#c2755c,#c48067,#c68c75,#c59883,#c2a191,#bca99e,#b5aeab,#b1b0b0,#b7ada7,#bda89d,#c2a191,#c59883,#c68e77,#c5846b,#c37c63,#c37a61)"></i>
<i style="top:44px;height:1px;background:linear-gradient(90deg,#c68870,#c68870,#c68870,#c68870,#c68870,#c68870,#c68971,#c68a72,#c68e77,#c68e77,#c17058,#9a2026,#ba5f4a,#748fcb,#6682c8,#5974c2,#4c65b9,#3a4da7,#3648a3,#3648a3,#3749a4,#394ca6,#3b50a9,#3d53ac,#3f55ad,#4056af,#4259b1,#455db4,#4a63b8,#506abc,#5571c0,#617dc6,#8aa0cb,#c6856c,#ba5f4a,#b55543,#af493b,#ac4337,#ad4538,#b45241,#bd6750,#c47d65,#c6937d,#c0a597,#b4afac,#abafb8,#a6aebc,#a8afba,#b0b1b2,#bda89d,#c59783,#c58269,#c06f57,#bc644e,#ba5f4a,#b95d49,#b95d49,#b95c48,#b85b47,#b75946,#b75946,#b85c48,#ba5f4a,#bc634d,#be6851,#c17159,#c37c63,#c6876f,#c6937d,#c49e8b,#bfa699,#b8aca5,#b5aeaa,#baaaa2,#bfa597,#c49d8b,#c6937d,#c68971,#c47f66,#c2775f,#c2765d)"></i>
<i style="top:45px;height:1px;background:linear-gradient(90deg,#c6876e,#c6876e,#c6876e,#c6876e,#c6876e,#c6876f,#c6876f,#c68a72,#c69079,#c6947e,#c37a61,#9f2b2a,#b9aca4,#6a86c9,#6480c7,#546fbf,#465eb4,#3648a3,#384aa5,#3a4da7,#3d52ab,#4057af,#4259b0,#435ab1,#435ab1,#445cb3,#4860b6,#4d66ba,#526dbe,#5873c2,#5d79c5,#6783c9,#8da2ca,#c68b74,#be6a53,#ba5f4a,#b35040,#ae4639,#ad4538,#b34f3f,#bb624d,#c2785f,#c68f78,#c2a191,#b8aca6,#aeb0b4,#aaafb8,#acb0b6,#b4afac,#c0a496,#c6927c,#c37c64,#bf6b54,#bb624c,#b95e4a,#b95d49,#b95d49,#b95d49,#b85b48,#b75a46,#b75946,#b85b48,#b95e4a,#bb614c,#bd6650,#c06d56,#c2775f,#c5836a,#c68f78,#c59985,#c1a393,#bbaaa0,#b9aca5,#bea89c,#c2a291,#c59984,#c68f78,#c6856c,#c37b62,#c2745c,#c1725a)"></i>
<i style="top:46px;height:1px;background:linear-gradient(90deg,#c6856d,#c6856d,#c6856d,#c6856d,#c6856d,#c6866d,#c6866e,#c68a72,#c6927c,#c49b87,#c6856c,#aa4035,#7a94cc,#6985c9,#627ec6,#536dbe,#506abc,#3b50a9,#3d53ac,#4057af,#465fb5,#4c65b9,#4b64b8,#4861b6,#475fb5,#4861b6,#4e67bb,#556fc0,#5c78c4,#627ec7,#6783c8,#708ccb,#98a9c5,#c68e77,#c2745c,#be6952,#b75946,#b14c3d,#ae473a,#b24d3e,#b95e4a,#c1735b,#c68a72,#c49e8c,#bbaaa1,#b2b0af,#aeb0b4,#b0b1b1,#b9aca4,#c3a08f,#c68c75,#c2775f,#be6851,#ba604b,#b95e49,#b95d49,#b95d49,#b95e4a,#b85c48,#b75a47,#b75a46,#b85b48,#b95d49,#ba604b,#bc644e,#bf6b54,#c1735b,#c47e65,#c68a72,#c6957f,#c39f8d,#bea79a,#bca99f,#c0a496,#c49e8c,#c6947e,#c68a72,#c48067,#c2785f,#c17159,#c07058)"></i>
<i style="top:47px;height:1px;background:linear-gradient(90deg,#c5846b,#c5846b,#c5846b,#c5846b,#c5846b,#c5846c,#c6856d,#c68a72,#c69680,#c2a191,#c69079,#bd6650,#6a86c9,#6783c9,#5f7bc6,#536ebe,#536dbe,#445cb3,#445bb2,#4860b6,#516bbd,#5671c1,#536dbe,#4d66ba,#4962b7,#4b64b8,#526dbe,#5c77c4,#6581c8,#6b87ca,#6f8bcb,#7993cc,#a7aebb,#c69079,#c47e65,#c1725a,#bb614c,#b45241,#b04a3c,#b24d3e,#b85b47,#c06f57,#c6856d,#c59a86,#bea79b,#b6aeaa,#b2b0af,#b5aeab,#bda99d,#c49b88,#c6866e,#c1725a,#bc644e,#ba5f4a,#b95d49,#b95d49,#b95e4a,#ba5f4b,#b95d49,#b85b48,#b85a47,#b85b48,#b95d49,#ba604b,#bc634d,#be6852,#c17058,#c37a61,#c6856c,#c69079,#c59b87,#c1a394,#bfa699,#c2a090,#c59985,#c69079,#c6856d,#c37c63,#c2745c,#c06f57,#c06e56)"></i>
<i style="top:48px;height:1px;background:linear-gradient(90deg,#c5836a,#c5836a,#c5836a,#c5836a,#c5836a,#c5836a,#c6856c,#c68b73,#c59985,#bea79b,#c59782,#c59884,#6884c9,#6682c8,#5d79c5,#546fbf,#546ebf,#4e68bb,#4961b7,#4d67ba,#5874c2,#5f7bc5,#5974c2,#506abc,#4b63b8,#4d66ba,#5671c0,#617dc6,#6b87ca,#718dcb,#7691cc,#839bcc,#b2b0af,#c6937d,#c6866e,#c37b62,#be6a53,#b75a47,#b24e3f,#b24d3e,#b75845,#bf6b53,#c58168,#c69680,#c0a496,#b9aba4,#b6aea9,#b9aca4,#c0a496,#c69680,#c58068,#c06d56,#bb624c,#b95d49,#b95d49,#b95e4a,#ba604b,#bb624c,#ba5f4a,#b95d49,#b85b48,#b85c48,#b95d49,#ba604b,#bb624d,#bd6750,#bf6d56,#c2765d,#c48067,#c68b74,#c59681,#c39f8e,#c1a292,#c49c8a,#c6947f,#c68b73,#c58168,#c27860,#c1725a,#c06e56,#bf6c55)"></i>
<i style="top:49px;height:1px;background:linear-gradient(90deg,#c58269,#c58269,#c58269,#c58269,#c58269,#c58269,#c5846b,#c68c75,#c49d8b,#b8aca6,#c39f8e,#a6aebc,#6682c8,#6480c7,#5b77c4,#5570c0,#5570c0,#536dbe,#4b64b8,#4f69bc,#5d78c4,#6480c7,#5e79c5,#536dbe,#4c65b9,#4f68bb,#5974c2,#6581c8,#6f8bcb,#7691cc,#7a94cc,#8ea3c9,#b9aba4,#c59883,#c68e77,#c5836a,#c1735b,#bb624c,#b45342,#b24f3f,#b65744,#bd6750,#c37c63,#c6917b,#c2a090,#bda99e,#baaba3,#bda89d,#c39f8e,#c68f78,#c37b62,#be6952,#ba5f4b,#b95c48,#b95e4a,#ba5f4a,#bb624c,#bc654f,#bb624c,#ba5f4a,#b95d49,#b95d49,#b95e49,#ba604b,#bb624c,#bd654f,#bf6b54,#c1725a,#c37c63,#c6866e,#c6917b,#c49b87,#c49e8c,#c59883,#c69079,#c6866e,#c47d64,#c2755d,#c07058,#bf6c55,#bf6c54)"></i>
<i style="top:50px;height:1px;background:linear-gradient(90deg,#c58168,#c58168,#c58168,#c58168,#c58168,#c58169,#c5846b,#c68d76,#c2a191,#b0b1b2,#bcaaa0,#8099cc,#6480c7,#637fc7,#5a76c3,#5672c1,#5671c0,#546fbf,#4a63b8,#4f69bc,#5e7ac5,#6783c8,#617dc6,#5570c0,#4f69bc,#516bbd,#5b77c4,#6884c9,#728ecb,#7893cc,#7d97cc,#99a9c4,#bbaaa0,#c49d8b,#c6957f,#c68a72,#c37b62,#be6a53,#b75946,#b35141,#b65644,#bc644e,#c2785f,#c68d75,#c49d8a,#bfa598,#bda89c,#c0a496,#c59a86,#c68971,#c2755c,#bc654f,#b95d49,#b85c48,#ba5f4a,#bb614c,#bc654e,#be6851,#bd654f,#bb624d,#ba5f4b,#b95e4a,#b95e4a,#ba604b,#bb624c,#bc654e,#be6952,#c07058,#c2785f,#c58269,#c68d75,#c69680,#c59985,#c6937d,#c68b73,#c58269,#c37960,#c1725a,#c06e56,#bf6c54,#bf6b54)"></i>
<i style="top:51px;height:1px;background:linear-gradient(90deg,#c48067,#c48067,#c48067,#c48067,#c48067,#c58168,#c5846b,#c68f78,#bfa597,#a7aebb,#adb0b5,#6b87c9,#627ec7,#627ec6,#5975c2,#5772c1,#5671c1,#556fc0,#4860b6,#4d67ba,#5e7ac5,#6884c9,#6480c7,#5974c2,#526dbe,#5570c0,#5f7bc5,#6b87ca,#748fcb,#7994cc,#829bcc,#a3aebe,#baaba2,#c1a293,#c49b87,#c6917a,#c5836a,#c1725a,#ba5f4b,#b55543,#b65644,#bb614c,#c2745c,#c68870,#c59884,#c2a292,#c0a496,#c3a08f,#c6947e,#c58269,#c06f57,#bb614c,#b85b48,#b85b48,#ba604b,#bc644e,#be6851,#bf6c55,#be6952,#bd664f,#bb624d,#ba604b,#ba5f4b,#ba604b,#bb624c,#bc644e,#be6851,#bf6d56,#c2745c,#c47d64,#c68870,#c6907a,#c6947e,#c68e77,#c6866d,#c47e65,#c2755d,#c07058,#bf6d55,#bf6b54,#bf6b54)"></i>
<i style="top:52px;height:1px;background:linear-gradient(90deg,#c48067,#c48067,#c48067,#c48067,#c48067,#c48067,#c5846b,#c6907a,#bda99d,#9eabc2,#9aaac4,#607cc6,#617dc6,#617dc6,#5974c2,#5873c1,#5672c1,#556fc0,#465eb4,#4b64b8,#5d79c5,#6985c9,#6682c8,#5d79c4,#5772c1,#5975c2,#627ec7,#6d89ca,#7590cc,#7a95cc,#8aa0cb,#aaafb8,#b7ada7,#bea79b,#c2a08f,#c59782,#c68a72,#c37961,#bd6650,#b75946,#b65745,#ba604b,#c17159,#c5846b,#c6947e,#c49e8c,#c3a08f,#c49b88,#c68e77,#c37b62,#be6a53,#b95e4a,#b75a47,#b85b48,#bb614c,#bd6750,#bf6c55,#c17159,#c06e56,#be6a53,#bd664f,#bb624d,#bb614c,#bb614c,#bb624c,#bc644e,#bd6750,#bf6b54,#c17159,#c37960,#c5836a,#c68b73,#c68e77,#c68971,#c58168,#c37a61,#c1735a,#c06e56,#bf6c54,#bf6b54,#bf6a53)"></i>
<i style="top:53px;height:1px;background:linear-gradient(90deg,#c47f66,#c47f66,#c47f66,#c47f66,#c47f66,#c48067,#c5846b,#c6927b,#baaba3,#95a7c6,#889fcb,#5d79c4,#617dc6,#617dc6,#5974c2,#5873c2,#5772c1,#556fc0,#445bb2,#4962b7,#5d78c4,#6a86c9,#6985c9,#627ec7,#5d78c4,#5f7ac5,#6682c8,#708ccb,#7691cc,#7c96cc,#93a6c7,#aeb0b4,#b4afac,#b9aba4,#bfa597,#c49d8a,#c69079,#c48067,#bf6d56,#b95e4a,#b75946,#ba5f4b,#c06e56,#c47f67,#c68f78,#c59985,#c49b88,#c59681,#c6876f,#c2745c,#bc644e,#b85b48,#b75946,#b85c48,#bc634d,#bf6b54,#c17159,#c2775e,#c1735b,#c06f58,#be6953,#bd654f,#bb634d,#bb624d,#bb624d,#bc644e,#bd6650,#be6a53,#c06e56,#c2755d,#c47e66,#c6856d,#c68971,#c5846b,#c37c64,#c2765e,#c17058,#bf6d55,#bf6b54,#bf6a53,#bf6a53)"></i>
<i style="top:54px;height:1px;background:linear-gradient(90deg,#c47f66,#c47f66,#c47f66,#c47f66,#c47f66,#c47f67,#c5846b,#c6937d,#b7ada7,#8ea3c9,#7994cc,#5c77c4,#607cc6,#607cc6,#5974c2,#5873c2,#5772c1,#546fbf,#4259b0,#4760b5,#5c78c4,#6b87ca,#6c88ca,#6682c8,#627ec7,#6480c7,#6a86c9,#728ecb,#7892cc,#8099cc,#9facc1,#afb0b3,#b0b1b2,#b4afad,#bcaaa0,#c2a292,#c69580,#c6866e,#c1745c,#bc644e,#b85c48,#ba5f4b,#bf6b54,#c37c63,#c68b73,#c6957f,#c59681,#c6917a,#c58168,#c06e56,#ba604b,#b75946,#b75846,#b85c48,#bd664f,#c07058,#c2765e,#c47c64,#c37960,#c2755d,#c06e56,#be6952,#bd654f,#bc634d,#bb634d,#bc644e,#bd6650,#be6952,#bf6c55,#c1725a,#c37a61,#c48067,#c5836b,#c47f66,#c37860,#c1735b,#c06e57,#bf6c54,#bf6b54,#bf6a53,#bf6b53)"></i>
<i style="top:55px;height:1px;background:linear-gradient(90deg,#c47f66,#c47f66,#c47f66,#c47f66,#c47f66,#c47f67,#c5846b,#c6947e,#b5aeab,#899fcb,#708ccb,#5a76c3,#607cc6,#607cc6,#5974c2,#5873c2,#5772c1,#546fbf,#4158af,#465eb4,#5b77c4,#6c88ca,#6f8bcb,#6b87ca,#6884c9,#6985c9,#6e8aca,#748fcb,#7994cc,#889fcb,#aaafb9,#afb0b2,#abafb7,#aeb0b4,#b6ada8,#bfa699,#c59a86,#c68c74,#c37b62,#be6a53,#ba604b,#ba604b,#be6a53,#c2785f,#c6866e,#c69079,#c6927c,#c68b73,#c37a61,#be6851,#b85c48,#b65745,#b75845,#b95e49,#be6952,#c2755d,#c37c63,#c5836a,#c47f66,#c37b62,#c1735b,#bf6d55,#be6851,#bc654f,#bc644e,#bc644e,#bd6650,#be6851,#be6a53,#c06f57,#c2765e,#c37b62,#c47e65,#c37b62,#c2745c,#c17058,#bf6d55,#bf6b54,#bf6a53,#bf6a53,#bf6b54)"></i>
<i style="top:56px;height:1px;background:linear-gradient(90deg,#c47e66,#c47e66,#c47e66,#c47e66,#c47f66,#c47f66,#c5846b,#c6957f,#b3afad,#859dcb,#6a86c9,#5a75c3,#607cc6,#607cc6,#5974c2,#5873c2,#5672c1,#546fbf,#4057af,#455db4,#5b77c3,#6d89ca,#718dcb,#6f8bcb,#6d89ca,#6e8aca,#728dcb,#7691cc,#7d97cc,#94a7c7,#b2b0af,#b0b1b1,#a7afbb,#a8afbb,#b0b1b2,#bbaaa1,#c39e8d,#c6917a,#c58168,#c17058,#bc644e,#bb624c,#be6952,#c2755d,#c58269,#c68b73,#c68d76,#c6856c,#c1735b,#bb624d,#b75846,#b65644,#b75845,#ba604b,#bf6c55,#c37b62,#c58269,#c68970,#c6856d,#c58168,#c37860,#c17159,#bf6c54,#bd6750,#bc654f,#bc654f,#bd6650,#bd6751,#be6952,#bf6c55,#c1735a,#c2765e,#c37961,#c2775e,#c17159,#c06e56,#bf6c55,#bf6b54,#be6a53,#bf6a53,#bf6b54)"></i>
<i style="top:57px;height:1px;background:linear-gradient(90deg,#c47f66,#c47f66,#c47f66,#c47f66,#c47f66,#c47f67,#c5846b,#c6957f,#b3afae,#849ccc,#6985c9,#5a75c3,#607cc6,#607cc6,#5974c2,#5873c2,#5672c1,#546fbf,#4057af,#455db3,#5b77c4,#6e8aca,#748fcb,#728ecb,#718dcb,#728dcb,#7490cc,#7893cc,#839ccc,#a4aebe,#b8aca6,#b2b0af,#a4aebe,#a1adc0,#aaafb9,#b7ada8,#c1a293,#c69680,#c6876e,#c2775e,#be6952,#bc644e,#be6952,#c1735b,#c47e66,#c6876e,#c68870,#c47e65,#bf6c55,#b95d49,#b55644,#b55543,#b75946,#bb624d,#c17159,#c58168,#c68870,#c68f79,#c68c74,#c6876e,#c47e65,#c2765e,#c07058,#be6952,#bd6650,#bd654f,#bd6650,#bd6750,#be6851,#bf6b53,#c07058,#c1725a,#c2755d,#c1735b,#c06f57,#bf6c55,#bf6b54,#bf6a53,#bf6a53,#bf6b54,#bf6c54)"></i>
<i style="top:58px;height:1px;background:linear-gradient(90deg,#c47f66,#c47f66,#c47f66,#c47f66,#c47f66,#c48067,#c5846b,#c6957f,#b3afad,#869dcb,#6b87ca,#5a75c3,#607cc6,#607cc6,#5974c2,#5873c2,#5672c1,#546fbf,#4157af,#455db4,#5c77c4,#6e8acb,#7590cc,#7590cc,#7490cc,#7590cc,#7792cc,#7b95cc,#8fa4c9,#b3b0ae,#bda99e,#b4afac,#a2adbf,#9aaac4,#a2adbf,#b2b0ae,#bfa698,#c59a86,#c68c75,#c47d64,#c06e57,#bd6750,#be6952,#c17159,#c37b62,#c5836a,#c5836a,#c2785f,#bd6650,#b75946,#b55342,#b55543,#b85a47,#bd664f,#c2755d,#c6876f,#c68e77,#c6957f,#c6927b,#c68d75,#c5846b,#c37c63,#c2745c,#bf6c55,#be6851,#bd6650,#bd6750,#bd6750,#bd6751,#be6952,#bf6d56,#c06f57,#c17159,#c17058,#bf6d55,#bf6b54,#bf6b54,#bf6a53,#bf6a53,#bf6b54,#bf6d55)"></i>
<i style="top:59px;height:1px;background:linear-gradient(90deg,#c47f66,#c47f66,#c47f66,#c47f66,#c47f67,#c48067,#c5846c,#c6947e,#b5aeab,#89a0cb,#718dcb,#5b76c3,#607cc6,#607cc6,#5974c2,#5873c2,#5772c1,#546fbf,#4158b0,#465eb5,#5c78c4,#6f8bcb,#7792cc,#7792cc,#7792cc,#7792cc,#7993cc,#819acc,#a0acc0,#bea89c,#c0a597,#b5aeaa,#a0acc0,#95a7c6,#9aaac4,#aeb0b4,#bca99e,#c39e8c,#c6927b,#c5836a,#c1745b,#be6a53,#be6a53,#c17058,#c2785f,#c48067,#c47e65,#c17159,#ba604b,#b55543,#b45241,#b55543,#b85c48,#be6952,#c37b62,#c68c75,#c6947e,#c59a87,#c59783,#c6927c,#c68a72,#c58168,#c37960,#c07058,#be6a53,#bd6751,#bd6751,#bd6750,#bd6750,#be6852,#bf6b54,#bf6c55,#c06e56,#c06d56,#bf6b54,#bf6b53,#bf6b53,#bf6a53,#bf6b54,#bf6c55,#c06e57)"></i>
<i style="top:60px;height:1px;background:linear-gradient(90deg,#c48067,#c48067,#c48067,#c48067,#c48067,#c58068,#c6856c,#c6937d,#b7ada7,#8fa3c9,#7b95cc,#5c77c4,#607cc6,#607cc6,#5974c2,#5873c2,#5772c1,#546fbf,#4259b1,#4860b6,#5d79c5,#708ccb,#7892cc,#7993cc,#7993cc,#7993cc,#7c96cc,#8ba1ca,#b1b1b1,#c39f8d,#c2a090,#b8aca6,#a0acc0,#90a4c8,#94a7c7,#a9afb9,#b9aca4,#c2a191,#c59781,#c68970,#c37960,#c06e56,#bf6b54,#c06f58,#c2765d,#c37c63,#c37860,#bf6b53,#b85b47,#b45241,#b35141,#b55644,#ba5f4a,#c06e56,#c48067,#c6917b,#c59a86,#c39f8e,#c49d8a,#c59883,#c68f79,#c6876f,#c47e65,#c1745b,#bf6d55,#be6952,#be6851,#bd6750,#bd6750,#be6851,#be6953,#bf6a53,#bf6c54,#bf6c54,#be6a53,#be6a53,#bf6b53,#bf6b53,#bf6b54,#bf6d55,#c17058)"></i>
<i style="top:61px;height:1px;background:linear-gradient(90deg,#c58068,#c58068,#c58068,#c58068,#c58168,#c58168,#c6856c,#c6927c,#baaba2,#96a8c6,#8aa0cb,#5d79c5,#617dc6,#617dc6,#5974c2,#5873c2,#5772c1,#556fc0,#445cb2,#4a62b7,#5e7ac5,#718dcb,#7893cc,#7a94cc,#7a94cc,#7b95cc,#819acc,#9baac3,#bea79a,#c59782,#c49b88,#baaaa2,#a0adc0,#8ca2ca,#8fa4c9,#a4aebe,#b5aeaa,#c0a597,#c49b87,#c68e77,#c47e66,#c1725a,#c06d56,#c06f57,#c2745c,#c37860,#c1735b,#bc654f,#b65644,#b34f3f,#b35140,#b65745,#bb624d,#c1735b,#c6856d,#c59681,#c39f8d,#c0a495,#c2a191,#c49d8a,#c6957f,#c68d75,#c5836a,#c2785f,#c07058,#bf6b54,#be6952,#bd6751,#bd6750,#bd6751,#be6852,#be6952,#be6a53,#be6a53,#be6953,#be6a53,#bf6a53,#bf6b54,#bf6c54,#c06e57,#c1725a)"></i>
<i style="top:62px;height:1px;background:linear-gradient(90deg,#c58168,#c58168,#c58168,#c58168,#c58169,#c58269,#c6856c,#c6917b,#bda89d,#9facc1,#9cabc3,#617dc6,#627ec6,#617dc6,#5975c2,#5873c2,#5772c1,#5570c0,#465eb5,#4c65b9,#607cc6,#718dcb,#7993cc,#7b95cc,#7b95cc,#7d97cc,#8ca1ca,#aeb0b4,#c49b88,#c6917a,#c59681,#bda89d,#a2adbf,#89a0cb,#8ba1ca,#9eacc1,#b1b1b0,#bea89c,#c39e8d,#c6927c,#c5846b,#c2765e,#c07058,#c06f58,#c1735b,#c2755c,#c06d56,#ba5f4a,#b45241,#b24e3e,#b45141,#b75a47,#bd6650,#c2785f,#c68b73,#c49b88,#c1a394,#bea89c,#bfa698,#c2a191,#c59a86,#c6927c,#c6886f,#c47d64,#c1735b,#bf6d56,#be6a53,#be6851,#bd6750,#bd6751,#be6851,#be6851,#be6952,#be6952,#be6952,#be6a53,#bf6b53,#bf6b54,#bf6d55,#c17058,#c2755d)"></i>
<i style="top:63px;height:1px;background:linear-gradient(90deg,#c58269,#c58269,#c58269,#c58269,#c58269,#c5836a,#c6856d,#c69079,#bfa597,#a8afba,#aeb0b4,#6d89ca,#637fc7,#637fc7,#5a76c3,#5873c2,#5772c1,#5570c0,#4962b7,#4e68bb,#617dc6,#728ecb,#7994cc,#7b95cc,#7c96cc,#849ccc,#9eabc2,#bea79b,#c6917b,#c68b74,#c6927b,#bfa598,#a4aebe,#889fcb,#889fcb,#99a9c4,#adb0b5,#bbaaa1,#c2a291,#c59681,#c68870,#c37b62,#c1725a,#c17058,#c1725a,#c17159,#be6851,#b75a47,#b35040,#b24d3e,#b45342,#b95d49,#bf6b54,#c47e65,#c69079,#c39f8e,#bda89d,#baaba2,#bca99f,#c0a597,#c39f8d,#c59782,#c68d76,#c58169,#c2775f,#c07058,#bf6b54,#be6852,#bd6751,#bd6751,#bd6751,#be6851,#be6851,#be6852,#be6952,#be6a53,#bf6b54,#bf6c54,#c06e56,#c1735a,#c37960)"></i>
<i style="top:64px;height:1px;background:linear-gradient(90deg,#c5836b,#c5836b,#c5836b,#c5836b,#c5836b,#c5846b,#c6866d,#c68f78,#c2a191,#b1b1b1,#bca99e,#859dcb,#6581c8,#6480c7,#5c77c4,#5873c2,#5772c1,#5671c0,#4c66ba,#516bbd,#637fc7,#738ecb,#7a94cc,#7c96cc,#7f99cc,#90a4c8,#b2b0af,#c59984,#c68971,#c6866e,#c68d76,#c1a293,#a6aebc,#889fcb,#859dcb,#94a7c7,#a8afba,#b7ada7,#c0a496,#c59a86,#c68d75,#c47f66,#c2755c,#c1725a,#c17159,#bf6d56,#bc634d,#b65644,#b24e3e,#b24d3e,#b55543,#bb614c,#c17159,#c5836b,#c69580,#c1a394,#b8aca5,#b7ada8,#b9aca5,#bda99d,#c1a393,#c49c89,#c6927b,#c6866e,#c37c63,#c1735b,#bf6d56,#be6952,#be6851,#bd6751,#bd6751,#bd6751,#bd6851,#be6851,#be6952,#be6a53,#bf6b54,#bf6d55,#c07058,#c2755d,#c37c64)"></i>
<i style="top:65px;height:1px;background:linear-gradient(90deg,#c6856c,#c6856c,#c6856c,#c6856c,#c6856c,#c6856c,#c6876e,#c68e77,#c49e8c,#b8aca5,#c39e8d,#adb0b5,#6783c9,#6682c8,#5e7ac5,#5874c2,#5772c1,#5873c2,#506abc,#546fbf,#6581c8,#738fcb,#7a94cc,#7e98cc,#889fcb,#a4aebe,#c1a293,#c68b74,#c58269,#c58169,#c68972,#c3a08f,#a9afb9,#8aa0cb,#839ccc,#8fa4c9,#a4aebe,#b3afad,#bea79a,#c49d8a,#c6917a,#c5836a,#c2785f,#c1735b,#c17058,#be6952,#b95e4a,#b45241,#b14d3d,#b24e3f,#b65845,#bd6650,#c2775f,#c68971,#c59a86,#bea79a,#b5aeab,#b3b0ae,#b5aeab,#baaba3,#bea79a,#c2a090,#c59681,#c68b74,#c48067,#c2775e,#c07058,#bf6b54,#be6852,#bd6751,#bd6751,#bd6751,#bd6751,#be6851,#be6952,#be6a53,#bf6c54,#c06e56,#c1725a,#c37960,#c58068)"></i>
<i style="top:66px;height:1px;background:linear-gradient(90deg,#c6866d,#c6866d,#c6866d,#c6866d,#c6866d,#c6866e,#c6876f,#c68d76,#c59a86,#bea79a,#c59681,#c68f78,#6985c9,#6884c9,#617dc6,#5975c2,#5772c1,#5c77c4,#536ebe,#5772c1,#6783c8,#7490cc,#7c96cc,#859dcb,#98a9c5,#b8aca5,#c6917b,#c58068,#c37c63,#c47e65,#c6866e,#c49d8b,#abafb7,#8da2ca,#829bcc,#8ba1ca,#9eacc1,#b0b1b2,#bda99e,#c39f8e,#c6947e,#c6876e,#c37c63,#c2745c,#c06f58,#bd6650,#b75a47,#b35040,#b14c3d,#b35040,#b85c48,#bf6c54,#c47d65,#c68f78,#c39e8d,#bcaa9f,#b2b0af,#afb0b3,#b1b1b1,#b6ada9,#bcaaa0,#c0a495,#c49b88,#c69079,#c6856c,#c37b62,#c1725a,#bf6d55,#be6952,#be6851,#bd6851,#bd6751,#bd6751,#be6851,#be6952,#be6a53,#bf6c55,#c07058,#c2755d,#c47d64,#c6856c)"></i>
<i style="top:67px;height:1px;background:linear-gradient(90deg,#c6876f,#c6876f,#c6876f,#c6876f,#c6876f,#c6876f,#c68870,#c68d75,#c59782,#c2a191,#c69079,#b85b48,#6b87ca,#6985c9,#6480c7,#5b76c3,#5773c1,#607cc6,#5772c1,#5a76c3,#6985c9,#7792cc,#839bcc,#95a7c7,#aeb0b4,#c49b88,#c58269,#c2775f,#c2765d,#c37a62,#c5846b,#c49b88,#adb0b5,#90a4c9,#829bcc,#889fcb,#99a9c4,#acb0b6,#bbaaa1,#c2a191,#c59782,#c68a72,#c47f66,#c2765d,#c06e57,#bc634e,#b65644,#b24e3e,#b24d3e,#b45342,#ba604b,#c1725a,#c5846b,#c6947e,#c1a393,#b9aca5,#afb0b3,#abafb7,#adb0b5,#b3b0ae,#b8aca6,#bea79b,#c39f8e,#c6957f,#c68a72,#c47f66,#c2765d,#c06f57,#bf6b53,#be6852,#be6851,#be6851,#be6851,#be6851,#be6952,#bf6b54,#c06e56,#c1725a,#c37860,#c58168,#c68a72)"></i>
<i style="top:68px;height:1px;background:linear-gradient(90deg,#c68971,#c68971,#c68971,#c68971,#c68971,#c68971,#c68a72,#c68d75,#c6947e,#c49c89,#c68971,#a63931,#859dcc,#6a86c9,#6682c8,#5d79c5,#5c77c4,#6581c8,#5b76c3,#5e7ac5,#6c88ca,#7e97cc,#91a5c8,#abafb7,#c0a496,#c68971,#c2765e,#c06f58,#c17159,#c27860,#c5836a,#c59a86,#b0b1b2,#93a6c7,#839ccc,#859dcc,#95a7c7,#a9afba,#b9aca5,#c1a394,#c59986,#c68e77,#c58269,#c2775e,#c06e56,#bb614c,#b45342,#b24d3e,#b24e3e,#b65644,#bd6650,#c37860,#c68a72,#c59985,#bfa699,#b5aeaa,#acafb7,#a8afba,#aaafb8,#afb0b3,#b5aeab,#bbaaa1,#c1a394,#c59986,#c68f78,#c5846b,#c37a61,#c1725a,#bf6c55,#be6952,#be6952,#be6851,#be6851,#be6851,#be6a53,#bf6c55,#c07058,#c2745c,#c37c63,#c6856d,#c68e77)"></i>
<i style="top:69px;height:1px;background:linear-gradient(90deg,#c68b73,#c68b73,#c68b73,#c68b73,#c68b73,#c68b73,#c68b73,#c68d76,#c6927c,#c69681,#c47f66,#9d2729,#c39f8e,#6b87ca,#6884c9,#617dc6,#718dcb,#6c88ca,#617dc6,#6480c7,#7490cc,#8da2ca,#a9afba,#c0a597,#c6907a,#c37961,#bf6c54,#be6851,#bf6d56,#c2775e,#c5836a,#c59984,#b2b0ae,#96a8c6,#849ccc,#839bcc,#90a4c8,#a5aebd,#b7ada8,#c0a597,#c49b88,#c6917b,#c5846b,#c2785f,#bf6d55,#ba5f4b,#b35140,#b24d3e,#b35040,#b85b47,#bf6c55,#c47f66,#c6907a,#c39e8d,#bca99f,#b2b0af,#a8afba,#a2adbf,#a7aebb,#acb0b6,#b1b1b0,#b8aca6,#bfa699,#c49e8c,#c6937d,#c68970,#c47e65,#c2755d,#c06e57,#bf6b53,#be6a53,#be6952,#be6952,#be6952,#bf6b53,#c06e56,#c1725a,#c2785f,#c48067,#c68a72,#c6937d)"></i>
<i style="top:70px;height:1px;background:linear-gradient(90deg,#c68c75,#c68c75,#c68c75,#c68c75,#c68c75,#c68c75,#c68d75,#c68e77,#c6917a,#c6907a,#c2765d,#9b2427,#b24d3e,#819acc,#6a86c9,#738fcb,#9aaac4,#7c96cc,#6e8aca,#708ccb,#859dcb,#a7aebb,#bfa598,#c68e76,#c47e65,#bf6d55,#bb634d,#bb624d,#bf6a53,#c2765e,#c5846b,#c59883,#b5aeab,#9aaac4,#869ecb,#829bcc,#8ca2ca,#a2adbf,#b4afac,#bfa699,#c49d8b,#c6947e,#c6866e,#c37960,#bf6c55,#b95e4a,#b34f3f,#b24d3e,#b45342,#ba604b,#c1735b,#c6866d,#c59681,#c1a393,#b9aca4,#afb0b3,#a5aebc,#9facc1,#a4aebe,#a9afba,#aeb0b4,#b5aeab,#bca99f,#c2a292,#c59884,#c68d76,#c5836a,#c37960,#c17159,#bf6c55,#bf6b54,#be6a53,#be6a53,#be6952,#bf6c55,#c07058,#c2755d,#c37c63,#c6856c,#c68f78,#c59883)"></i>
<i style="top:71px;height:1px;background:linear-gradient(90deg,#c68e77,#c68e77,#c68e77,#c68e77,#c68e77,#c68e77,#c68e77,#c68f78,#c69079,#c68b74,#c06e56,#9f2b2a,#991e25,#c6927c,#a3aebe,#bea79a,#bfa69a,#98a9c5,#869dcb,#879ecb,#a1adc0,#c0a597,#c68b73,#c2765e,#c07058,#bb624c,#b85b47,#b95e49,#be6952,#c2775e,#c6856c,#c59883,#b6ada8,#9dabc2,#899fcb,#819acc,#8aa0cb,#9facc1,#b2b0af,#bea79b,#c39f8e,#c6957f,#c6886f,#c37a61,#bf6c55,#b95d49,#b34f3f,#b24e3f,#b65644,#bd664f,#c37a61,#c68d75,#c49c89,#bea79a,#b6aea9,#acafb7,#a2adbf,#9aaac4,#a0acc0,#a5aebc,#abafb8,#b1b0b0,#b9aca4,#bfa597,#c49c8a,#c6927c,#c6876f,#c47d64,#c2745c,#c06f57,#bf6d56,#bf6c55,#bf6b54,#bf6b53,#c06e56,#c1725a,#c37860,#c48067,#c68971,#c6947e,#c49c89)"></i>
<i style="top:72px;height:1px;background:linear-gradient(90deg,#c6907a,#c6907a,#c6907a,#c6907a,#c6907a,#c6907a,#c6907a,#c69079,#c68f78,#c6876f,#bd6750,#a4342e,#961523,#a63931,#bd6750,#b75946,#c58169,#b8aca5,#a7aebb,#a7aebb,#bea89c,#c6876e,#c06f58,#bc644e,#bb624c,#b65745,#b55443,#b85b47,#be6952,#c2785f,#c6876e,#c59883,#b8aca6,#a0acc0,#8ca1ca,#829bcc,#89a0cb,#9cabc3,#afb0b3,#bda89d,#c2a191,#c59681,#c68971,#c37a62,#bf6c55,#b95d49,#b35141,#b35040,#b85b47,#bf6c54,#c58168,#c6937c,#c2a090,#bbaaa0,#b2b0af,#a8afba,#9facc1,#98a9c5,#9dabc2,#a2adbf,#a7afbb,#aeb0b4,#b6aea9,#bda89d,#c2a090,#c59782,#c68c75,#c58169,#c2785f,#c1725a,#c07058,#c06e57,#bf6d55,#bf6c55,#c17058,#c2765d,#c47d64,#c6856c,#c68e77,#c59884,#c2a08f)"></i>
<i style="top:73px;height:1px;background:linear-gradient(90deg,#c6927c,#c6927c,#c6927c,#c6927c,#c6927c,#c6927c,#c6927c,#c6927b,#c68f78,#c5836a,#bb614c,#a93e33,#9a2026,#951222,#9b2327,#a12e2b,#b85b48,#c68e77,#c1a292,#c1a292,#c68971,#bd6750,#b75946,#b55442,#b55543,#b24e3f,#b34f3f,#b75a46,#be6a53,#c37a61,#c68971,#c59884,#b9aca5,#a3aebe,#8fa4c9,#849ccc,#89a0cb,#9aaac4,#adb0b5,#bca99f,#c2a191,#c59782,#c68971,#c37b62,#bf6c55,#b95e4a,#b55442,#b45342,#ba5f4b,#c1725a,#c6876f,#c59884,#c0a596,#b8aca6,#afb0b3,#a5aebc,#9dabc2,#95a7c6,#9baac4,#9facc1,#a4aebd,#abafb7,#b2b0ae,#baaba3,#c0a496,#c49b88,#c6917a,#c6866e,#c37c63,#c2755d,#c1735b,#c17159,#c06f58,#c06f57,#c1735b,#c37961,#c58168,#c68971,#c6937d,#c49d8a,#c0a495)"></i>
<i style="top:74px;height:1px;background:linear-gradient(90deg,#c6957f,#c6957f,#c6957f,#c6957f,#c6957f,#c6947f,#c6947e,#c6937d,#c68e77,#c48067,#ba5f4a,#ae4739,#9f2b2a,#961423,#951122,#9a2026,#ab4136,#bf6c55,#c5846b,#c5836a,#be6851,#b24e3f,#af483a,#ae4739,#b04a3b,#ae473a,#b24d3d,#b75a47,#bf6b54,#c47d64,#c68c75,#c59a86,#b9aba4,#a6aebc,#92a6c8,#879ecb,#8aa0cb,#98a9c5,#abafb8,#b9aba4,#c2a292,#c59782,#c68a72,#c37c63,#bf6d55,#ba5f4b,#b65744,#b65744,#bd654f,#c37960,#c68e76,#c49e8c,#bda89d,#b4afac,#abafb7,#a3adbf,#9aaac4,#93a6c7,#98a9c5,#9cabc3,#a1adc0,#a8afba,#afb0b3,#b7ada8,#bea79b,#c39f8e,#c69680,#c68b73,#c58068,#c37a61,#c2775e,#c2755c,#c1725a,#c1725a,#c2765e,#c47e65,#c6866d,#c68e77,#c59783,#c2a190,#bea79b)"></i>
<i style="top:75px;height:1px;background:linear-gradient(90deg,#c59782,#c59782,#c59782,#c59782,#c59782,#c59782,#c59681,#c6957f,#c68e77,#c37c63,#bb634d,#b34f3f,#a5362f,#9b2227,#971924,#991d25,#a4342e,#b55443,#be6952,#bd6650,#b35040,#a93e34,#a73a32,#a83b32,#aa4035,#ab4236,#b14c3d,#b85c48,#c06e56,#c48067,#c68f79,#c49c8a,#b9aba4,#a8afba,#96a8c6,#8ba1ca,#8ca1ca,#97a8c5,#a8afba,#b6ada8,#c1a292,#c59883,#c68a72,#c47d64,#c06e56,#bb614c,#b75a47,#b85b47,#bf6b54,#c48067,#c6937d,#c1a292,#baaba3,#b0b1b1,#a8afba,#a0acc1,#97a8c5,#91a5c8,#95a7c6,#99a9c4,#9eacc1,#a5aebd,#acb0b6,#b3afad,#bbaaa1,#c1a394,#c59a87,#c69079,#c6856d,#c47e66,#c37b63,#c37960,#c2765e,#c2755d,#c37a62,#c5826a,#c68b73,#c6937d,#c49c89,#c0a496,#bbaaa1)"></i>
<i style="top:76px;height:1px;background:linear-gradient(90deg,#c59985,#c59985,#c59985,#c59985,#c59985,#c59985,#c59984,#c59781,#c68e77,#c37960,#bd6751,#b65744,#aa4035,#a12f2c,#9c2628,#9b2327,#a2302c,#af473a,#b65845,#b45342,#ab4136,#a3322d,#a1302c,#a3322d,#a53730,#aa3f34,#b14c3d,#b95e4a,#c17259,#c5846b,#c6937d,#c39f8e,#b9aba4,#a9afb9,#99a9c4,#8fa4c9,#8ea3c9,#97a8c5,#a6aebb,#b4afab,#c1a393,#c59883,#c68a73,#c47d65,#c06f57,#bc644e,#b95e4a,#ba614b,#c17159,#c6866e,#c59985,#bfa699,#b6ada9,#adb0b5,#a5aebd,#9dabc2,#95a7c6,#8fa4c9,#93a6c7,#97a8c5,#9cabc3,#a2adbf,#a9afb9,#b0b1b2,#b8aca6,#bea79a,#c39e8d,#c6957f,#c68a72,#c5846b,#c48068,#c47d65,#c37b62,#c37a61,#c47f66,#c6876f,#c69079,#c59884,#c2a08f,#bea89c,#b8aca6)"></i>
<i style="top:77px;height:1px;background:linear-gradient(90deg,#c49b88,#c49b88,#c49b88,#c49b88,#c49b88,#c49b88,#c49b88,#c59884,#c68d76,#c37b62,#bf6c54,#b95d49,#b0493b,#a83c32,#a3332d,#a02d2b,#a3332d,#ac4337,#b24e3e,#af483a,#a63831,#9f2b2a,#9e2829,#a02c2b,#a3322d,#a93e34,#b34f3f,#bb624d,#c2765d,#c6886f,#c59681,#c2a191,#b9aba4,#abafb8,#9dabc2,#93a7c7,#91a5c8,#98a9c5,#a5aebd,#b3b0ae,#c0a596,#c59883,#c68b73,#c47e65,#c17159,#bd6750,#bb624d,#bd6750,#c27860,#c68d76,#c39e8c,#bca99f,#b2b0af,#aaafb9,#a1adc0,#9aaac4,#93a6c7,#8da2ca,#91a5c8,#94a7c7,#99a9c4,#9facc1,#a6aebc,#adb0b5,#b4afac,#bcaaa0,#c1a293,#c59985,#c68f78,#c68971,#c6866d,#c5836a,#c48067,#c47e66,#c5846b,#c68c75,#c6957f,#c49d8b,#c0a495,#bbaaa1,#b4afac)"></i>
<i style="top:78px;height:1px;background:linear-gradient(90deg,#c49e8c,#c49e8c,#c49e8c,#c49e8c,#c49e8c,#c49e8c,#c49d8b,#c59a86,#c68d76,#c47e65,#c07058,#bb634d,#b45241,#ae473a,#aa3f34,#a63830,#a73931,#ac4337,#b04a3b,#ac4337,#a4352f,#9e2929,#9d2628,#9f2b2a,#a2312d,#aa3f34,#b45342,#bd6751,#c37a62,#c68c74,#c59a86,#c0a495,#b9aca5,#acb0b7,#a0acc0,#98a9c5,#94a7c7,#99a9c5,#a3aebe,#b1b1b0,#bea79a,#c59883,#c68b74,#c47e66,#c1735b,#be6a53,#bd6751,#c06e56,#c47f66,#c6937d,#c1a393,#b8aca5,#afb0b3,#a6aebc,#9eacc2,#97a8c5,#91a5c8,#8ca1ca,#8fa3c9,#92a6c8,#97a8c6,#9cabc3,#a3adbf,#aaafb8,#b1b1b1,#b8aca5,#bfa699,#c49e8c,#c6947f,#c68f78,#c68b74,#c68870,#c6856c,#c5846b,#c68971,#c6927b,#c59a86,#c2a191,#bea89b,#b7ada7,#b1b1b1)"></i>
<i style="top:79px;height:1px;background:linear-gradient(90deg,#c2a08f,#c2a08f,#c2a08f,#c2a08f,#c2a08f,#c2a08f,#c39f8e,#c49b88,#c6907a,#c5826a,#c2745c,#be6851,#b85a47,#b45241,#b04a3c,#ac4337,#ab4236,#ae473a,#b04a3c,#ac4337,#a5362f,#a02c2b,#9e2929,#a12e2b,#a4342e,#ac4337,#b75846,#bf6d55,#c47f66,#c6907a,#c49d8b,#bfa699,#b8aca6,#acb0b6,#a3aebe,#9cabc3,#98a9c5,#9aaac4,#a2adbf,#b0b1b2,#bda99d,#c59984,#c68c75,#c47f67,#c2765e,#c06e57,#bf6d55,#c2755c,#c6866d,#c59985,#bea79a,#b5aeab,#abafb7,#a3adbf,#9baac3,#94a7c7,#8fa3c9,#8aa0cb,#8aa0cb,#90a4c9,#94a7c7,#9aaac4,#a0acc0,#a7aebb,#aeb0b4,#b5aeab,#bca99f,#c2a292,#c59985,#c6947e,#c6917a,#c68e77,#c68a73,#c68971,#c68e77,#c59781,#c39e8d,#bfa597,#bbaaa1,#b4afac,#aeb0b4)"></i>
<i style="top:80px;height:1px;background:linear-gradient(90deg,#c1a393,#c1a393,#c1a393,#c1a393,#c1a393,#c1a393,#c2a292,#c49d8a,#c6947e,#c6876f,#c37960,#bf6d55,#bb624c,#b85b48,#b55443,#b24e3e,#b14b3c,#b24d3e,#b24d3e,#ae4639,#a83c32,#a3332e,#a2312d,#a4352f,#a73a31,#af483a,#ba5f4a,#c1735b,#c6846c,#c6947f,#c2a08f,#bda89d,#b7ada8,#adb0b5,#a5aebc,#9facc1,#9baac3,#9cabc3,#a2adbf,#afb0b3,#bbaaa1,#c49b88,#c68d76,#c58168,#c37961,#c1735b,#c1735b,#c37c63,#c68d75,#c39e8c,#bbaaa0,#b1b1b1,#a8afba,#9facc1,#98a9c5,#92a5c8,#8da2ca,#889fcb,#889fcb,#8ea3c9,#92a6c8,#97a8c5,#9dabc2,#a4aebe,#aaafb8,#b1b0b0,#b9aca4,#bfa598,#c39e8c,#c59986,#c59681,#c6937d,#c69079,#c68f78,#c6937d,#c49b88,#c1a393,#bda99d,#b7ada7,#b0b1b1,#aaafb8)"></i>
<i style="top:81px;height:1px;background:linear-gradient(90deg,#c0a597,#c0a597,#c0a597,#c0a597,#c0a597,#c0a597,#c0a495,#c3a08e,#c59883,#c68c75,#c47e65,#c1725a,#be6851,#bc634e,#b95e4a,#b75845,#b55543,#b55543,#b45342,#b14b3d,#ac4337,#a93d33,#a73b32,#a93e34,#ab4236,#b24e3f,#bd664f,#c37961,#c68971,#c59884,#c1a394,#bbaaa0,#b5aeab,#adb0b5,#a7aebb,#a2adbf,#9eacc2,#9dabc2,#a3adbf,#adb0b5,#b9aba4,#c39f8d,#c68e77,#c5836a,#c37c64,#c2775f,#c37960,#c5836a,#c6937d,#c1a394,#b8ada7,#adb0b5,#a4aebe,#9cabc3,#95a7c6,#90a4c9,#8ba1ca,#879ecb,#879ecb,#8ca1ca,#90a4c9,#94a7c7,#9aaac4,#a0acc0,#a7aebb,#aeb0b4,#b5aeaa,#bda99e,#c1a293,#c39f8d,#c49c89,#c59984,#c69680,#c6957f,#c59984,#c2a08f,#bea69a,#b9aba4,#b3afad,#adb0b5,#a7aebb)"></i>
<i style="top:82px;height:1px;background:linear-gradient(90deg,#bea79b,#bea79b,#bea79b,#bea79b,#bea79b,#bea79b,#bfa698,#c1a393,#c49c89,#c6917b,#c5836b,#c2775f,#c06e57,#bf6b54,#bd6650,#bb614c,#b95e4a,#b95d49,#b85b47,#b45342,#b14c3d,#ae473a,#ad4538,#af483a,#b04b3c,#b65644,#c06d56,#c48067,#c68e77,#c49c89,#bfa698,#b9aba4,#b3afad,#adb0b5,#a8afba,#a4aebe,#a0adc0,#9facc1,#a3aebe,#acb0b6,#b7ada7,#c1a292,#c68f78,#c6856c,#c47f66,#c47d64,#c48067,#c68a72,#c59986,#bea79b,#b3afad,#aaafb9,#a0adc0,#99a9c4,#92a6c8,#8da2ca,#89a0cb,#859dcb,#859dcb,#8aa0cb,#8ea3c9,#92a6c8,#97a8c5,#9dabc2,#a4aebe,#abafb8,#b2b0af,#b9aba4,#bea69a,#c1a394,#c2a090,#c49e8c,#c49b88,#c59a86,#c49e8c,#c0a496,#bbaaa0,#b6aeaa,#b0b0b2,#aaafb9,#a4aebe)"></i>
<i style="top:83px;height:1px;background:linear-gradient(90deg,#bcaaa0,#bcaaa0,#bcaaa0,#bcaaa0,#bcaaa0,#bca99f,#bda89d,#bfa698,#c2a08f,#c59782,#c68971,#c47d64,#c2755c,#c1725a,#c06e56,#be6a53,#bd6750,#bd654f,#bb634d,#b85c48,#b65744,#b45241,#b35140,#b45242,#b55543,#ba5f4a,#c2755d,#c6866e,#c6937d,#c39f8e,#bda89c,#b7ada7,#b2b0b0,#adb0b5,#a9afb9,#a6aebc,#a2adbf,#a0acc0,#a4aebe,#abafb7,#b5aeaa,#c0a597,#c6927c,#c6876f,#c5836a,#c58269,#c6866e,#c6917a,#c39f8e,#baaaa2,#afb0b2,#a6aebc,#9dabc2,#96a8c6,#90a4c9,#8ba1ca,#879ecb,#849ccc,#849ccc,#889fcb,#8ca1ca,#90a4c9,#95a7c7,#9aaac4,#a0adc0,#a7afbb,#aeb0b4,#b6aea9,#bbaaa0,#bea79b,#c0a597,#c1a393,#c2a08f,#c39f8e,#c1a293,#bda89c,#b8aca6,#b2b0af,#acb0b6,#a6aebc,#a0acc0)"></i>
<i style="top:84px;height:1px;background:linear-gradient(90deg,#b9aca4,#b9aca4,#b9aca4,#b9aca4,#b9aba4,#b9aba3,#baaba2,#bda99e,#c0a496,#c49c89,#c68f78,#c5826a,#c37b63,#c37960,#c2755d,#c17159,#c06e57,#c06d56,#bf6b53,#bd654f,#bb614c,#b95e49,#b85c48,#b95e4a,#ba604b,#be6852,#c37c64,#c68c75,#c59883,#c1a293,#bbaaa0,#b5aeaa,#b0b1b2,#acb0b6,#a9afb9,#a6aebb,#a4aebe,#a2adbf,#a4aebe,#aaafb8,#b3afae,#bea89b,#c59783,#c68a72,#c6866e,#c6886f,#c68d76,#c59883,#c0a496,#b6ada9,#acafb7,#a2adbf,#99a9c4,#93a6c7,#8da2ca,#899fcb,#869dcb,#839bcc,#839bcc,#879ecb,#8aa0cb,#8ea3c9,#92a6c8,#97a8c5,#9dabc2,#a4aebe,#abafb7,#b2b0af,#b7ada7,#baaba2,#bda99e,#bea79a,#c0a496,#c0a495,#bfa699,#baaba3,#b4afac,#aeb0b4,#a8afba,#a3adbf,#9dabc2)"></i>
<i style="top:85px;height:1px;background:linear-gradient(90deg,#b6aea9,#b6aea9,#b6aea9,#b6aea9,#b6ada9,#b6ada8,#b7ada7,#baaba3,#bda89c,#c2a190,#c6957f,#c68970,#c58269,#c47f67,#c37c63,#c37860,#c2765d,#c2755c,#c1725a,#c06e56,#bf6b54,#be6952,#bd6851,#be6952,#bf6a53,#c1725a,#c5846b,#c6927b,#c49c8a,#bfa598,#b9aba4,#b3afad,#afb0b3,#acb0b6,#a9afb9,#a7aebb,#a4aebe,#a3adbf,#a4aebd,#a9afb9,#b1b1b1,#bbaaa0,#c49c8a,#c68d75,#c68a72,#c68e76,#c6947e,#c39e8c,#bda99d,#b2b0af,#a7afbb,#9eabc2,#96a8c6,#90a4c9,#8ba1ca,#879ecb,#849ccc,#819acc,#7f99cc,#859dcc,#889fcb,#8ca1ca,#90a4c9,#94a7c7,#9aaac4,#a0acc0,#a7afbb,#aeb0b4,#b3afad,#b6ada9,#b9aca5,#bbaaa1,#bda99d,#bda89c,#bbaaa0,#b6ada9,#b0b1b2,#aaafb8,#a5aebd,#9facc1,#9aaac4)"></i>
<i style="top:86px;height:1px;background:linear-gradient(90deg,#b3b0ae,#b3b0ae,#b3b0ae,#b3b0ae,#b3b0ae,#b3afad,#b4afac,#b6aea9,#baaba3,#bfa597,#c59a87,#c68f78,#c68971,#c6866e,#c5836a,#c47f66,#c47d64,#c37c63,#c37a61,#c2765e,#c2745c,#c1735b,#c1725a,#c1735b,#c2755c,#c37b62,#c68a72,#c59782,#c2a090,#bda89c,#b7ada8,#b1b1b0,#adb0b5,#abafb8,#a9afba,#a7aebb,#a4aebd,#a3aebe,#a4aebd,#a8afba,#afb0b3,#b8aca5,#c2a190,#c6917b,#c68f78,#c6937d,#c59a86,#c1a394,#b9aca5,#aeb0b5,#a3aebe,#9aaac4,#93a6c7,#8da2ca,#899fcb,#859dcc,#829bcc,#8099cc,#7e98cc,#849ccc,#869ecb,#8aa0cb,#8da2ca,#92a5c8,#97a8c5,#9dabc2,#a4aebe,#aaafb8,#afb0b3,#b2b0af,#b4afac,#b7ada8,#b9aca4,#b9aba3,#b7ada7,#b2b0af,#acb0b6,#a6aebb,#a1adc0,#9baac3,#97a8c5)"></i>
<i style="top:87px;height:1px;background:linear-gradient(90deg,#afb0b3,#afb0b3,#afb0b3,#afb0b3,#afb0b2,#b0b0b2,#b0b1b1,#b2b0af,#b6aeaa,#bca99f,#c2a08f,#c69680,#c6907a,#c68d76,#c68a72,#c6866d,#c5846b,#c5836a,#c58168,#c47e66,#c47d64,#c37c63,#c37b63,#c47d64,#c47e65,#c5836a,#c6907a,#c49b88,#c0a495,#bbaaa1,#b4afab,#afb0b3,#acafb7,#aaafb9,#a8afba,#a6aebc,#a4aebd,#a3aebe,#a4aebe,#a6aebc,#acb0b6,#b5aeab,#bfa597,#c59883,#c6937d,#c59884,#c3a08f,#bda89d,#b4afac,#a9afb9,#9facc1,#96a8c6,#90a4c9,#8ba0cb,#869ecb,#839ccc,#819acc,#7f98cc,#7d97cc,#829bcc,#849ccc,#879ecb,#8ba1ca,#8fa4c9,#94a7c7,#9aaac4,#a0acc0,#a6aebc,#abafb7,#aeb0b4,#b0b1b2,#b2b0af,#b4afab,#b5aeaa,#b3b0ae,#aeb0b4,#a8afba,#a3adbf,#9dabc2,#98a9c5,#94a7c7)"></i>
<i style="top:88px;height:1px;background:linear-gradient(90deg,#acafb7,#acafb7,#acafb7,#acafb7,#acb0b7,#acb0b6,#acb0b6,#aeb0b4,#b1b1b1,#b8aca6,#c0a597,#c49c8a,#c59883,#c6947f,#c6917a,#c68d75,#c68b73,#c68a72,#c68870,#c6866d,#c6856c,#c5846b,#c5846b,#c6856d,#c6876e,#c68b73,#c59681,#c3a08f,#bea79b,#b8aca5,#b2b0af,#adb0b5,#aaafb8,#a8afba,#a7aebb,#a6aebc,#a4aebe,#a3aebe,#a4aebe,#a6aebc,#a9afba,#b1b1b0,#bca99f,#c39f8d,#c59883,#c49d8b,#c0a597,#b8aca5,#afb0b3,#a5aebd,#9baac3,#93a6c7,#8da2ca,#889fcb,#849ccc,#819acc,#7f99cc,#7e97cc,#7c96cc,#809acc,#839bcc,#859dcb,#899fcb,#8da2ca,#91a5c8,#96a8c6,#9cabc3,#a2adbf,#a7aebb,#a9afb9,#acafb7,#aeb0b4,#b0b1b2,#b1b1b1,#aeb0b3,#aaafb8,#a4aebd,#9facc1,#99a9c4,#95a7c6,#91a5c8)"></i>
<i style="top:89px;height:1px;background:linear-gradient(90deg,#a7afbb,#a7afbb,#a7afbb,#a7afbb,#a7afbb,#a8afba,#a8afba,#aaafb9,#acb0b6,#b3afae,#bca99f,#c1a393,#c39f8d,#c49b88,#c59783,#c6937d,#c6917b,#c6907a,#c68f78,#c68d76,#c68c75,#c68c74,#c68c74,#c68d76,#c68f78,#c6927b,#c49b88,#c0a495,#bbaaa0,#b6aea9,#b0b0b2,#abafb7,#a8afba,#a6aebc,#a5aebc,#a4aebd,#a3aebe,#a3adbf,#a3aebe,#a5aebd,#a5aebd,#adb0b5,#b8ada7,#c0a596,#c49d8a,#c1a293,#bca99f,#b3afad,#aaafb8,#a0acc0,#97a8c5,#8fa4c9,#8aa0cb,#859dcb,#829bcc,#7f99cc,#7e97cc,#7c96cc,#7b95cc,#7f98cc,#819acc,#839ccc,#869ecb,#8aa0cb,#8ea3c9,#93a6c7,#99a9c4,#9eacc1,#a2adbf,#a5aebd,#a7aebb,#a9afb9,#acafb7,#acb0b6,#aaafb8,#a6aebc,#a0acc0,#9baac3,#96a8c6,#92a5c8,#8ea3c9)"></i>
<i style="top:90px;height:1px;background:linear-gradient(90deg,#a3adbf,#a3adbf,#a3adbf,#a3adbf,#a3adbf,#a3aebe,#a4aebe,#a5aebd,#a7afbb,#aeb0b4,#b7ada7,#bda89d,#c0a597,#c2a292,#c39e8c,#c59a86,#c59884,#c59782,#c69680,#c6947e,#c6937d,#c6937d,#c6937c,#c6947e,#c69680,#c59884,#c2a08f,#bea79b,#b8aca5,#b3b0ae,#adb0b5,#a9afb9,#a6aebc,#a5aebd,#a4aebe,#a3aebe,#a2adbf,#a2adbf,#a2adbf,#a3aebf,#a1adc0,#a8afba,#b2b0af,#bbaaa0,#c1a495,#bea79a,#b7ada7,#aeb0b4,#a5aebd,#9baac3,#93a6c7,#8ca2ca,#879ecb,#839ccc,#8099cc,#7e97cc,#7c96cc,#7b95cc,#7a94cc,#7d97cc,#7f99cc,#819acc,#849ccc,#889ecb,#8ca1ca,#90a4c8,#95a7c6,#9aaac4,#9eabc2,#a0acc0,#a3adbf,#a5aebd,#a7aebb,#a7afbb,#a6aebc,#a1adc0,#9cabc3,#97a8c5,#92a6c8,#8ea3c9,#8ba1ca)"></i>
<i style="top:91px;height:1px;background:linear-gradient(90deg,#9eabc2,#9eabc2,#9eabc2,#9eabc2,#9eabc2,#9eabc2,#9eacc1,#9facc1,#a2adbf,#a9afba,#b1b0b0,#b7ada7,#bbaaa1,#bea89b,#c0a496,#c2a090,#c39f8d,#c49d8b,#c49c8a,#c49b87,#c59a86,#c59985,#c59985,#c59b87,#c49c89,#c39e8c,#c0a496,#bbaaa1,#b5aeab,#b0b0b2,#abafb8,#a6aebb,#a4aebe,#a3adbf,#a2adbf,#a2adbf,#a1adc0,#a1adc0,#a1adbf,#a1adc0,#9eacc1,#a3aebe,#adb0b5,#b5aeaa,#baaba2,#baaba2,#b2b0af,#a9afba,#9facc1,#96a8c6,#8fa3c9,#899fcb,#849ccc,#809acc,#7e97cc,#7c96cc,#7b95cc,#7a94cc,#7993cc,#7c96cc,#7d97cc,#7f99cc,#829bcc,#859dcc,#899fcb,#8da2ca,#92a5c8,#96a8c6,#99aac4,#9cabc3,#9eabc2,#a0acc0,#a2adbf,#a3adbf,#a1adc0,#9dabc2,#98a9c5,#93a6c7,#8fa3c9,#8ba1ca,#889fcb)"></i>
<i style="top:92px;height:1px;background:linear-gradient(90deg,#98a9c5,#98a9c5,#98a9c5,#98a9c5,#98a9c5,#98a9c5,#99a9c4,#99aac4,#9cabc3,#a3adbf,#abafb7,#b1b1b1,#b4afac,#b8aca6,#bcaa9f,#bfa699,#c0a597,#c1a495,#c1a293,#c2a191,#c2a08f,#c39f8e,#c39f8e,#c2a090,#c2a292,#c1a394,#bda89d,#b7ada7,#b1b0b0,#acb0b6,#a8afba,#a4aebe,#a2adbf,#a1adc0,#a0acc0,#a0acc1,#9facc1,#9facc1,#a0acc0,#9facc1,#9cabc3,#9eabc2,#a7aebb,#afb0b3,#b3afad,#b5aeaa,#adb0b6,#a3aebe,#9aaac4,#92a6c8,#8ba1ca,#859dcb,#819acc,#7e98cc,#7c96cc,#7a94cc,#7994cc,#7893cc,#7892cc,#7a94cc,#7b96cc,#7d97cc,#8099cc,#829bcc,#869dcb,#8aa0cb,#8ea3c9,#92a6c8,#95a7c6,#97a8c5,#99a9c4,#9baac3,#9dabc2,#9eabc2,#9cabc3,#98a9c5,#94a7c7,#8fa4c9,#8ca1ca,#889fcb,#859dcb)"></i>
<i style="top:93px;height:1px;background:linear-gradient(90deg,#93a6c7,#93a6c7,#93a6c7,#93a6c7,#93a6c7,#93a6c7,#93a6c7,#94a7c7,#96a8c6,#9cabc3,#a4aebd,#aaafb9,#adb0b5,#b1b1b0,#b6aeaa,#baaba3,#bbaaa0,#bca99e,#bda89c,#bea79a,#bfa698,#bfa597,#c0a596,#bfa698,#bea79a,#bda89c,#b9aba3,#b3afad,#aeb0b4,#a9afb9,#a5aebd,#a1adbf,#9facc1,#9eacc1,#9eabc2,#9eabc2,#9dabc2,#9dabc2,#9eabc2,#9dabc2,#9aaac4,#98a9c5,#a0adc0,#a8afba,#acb0b6,#b0b1b2,#a7aebb,#9dabc2,#94a7c7,#8ea2c9,#879ecb,#829bcc,#7e98cc,#7c96cc,#7a94cc,#7893cc,#7792cc,#7792cc,#7691cc,#7893cc,#7a94cc,#7b95cc,#7d97cc,#8099cc,#839bcc,#869ecb,#8ba0cb,#8ea3c9,#91a5c8,#93a6c7,#94a7c7,#96a8c6,#98a9c5,#99a9c5,#97a8c5,#94a7c7,#90a4c9,#8ca1ca,#889fcb,#859dcc,#829bcc)"></i>
<i style="top:94px;height:1px;background:linear-gradient(90deg,#8da2ca,#8da2ca,#8da2ca,#8da2ca,#8da2ca,#8da2ca,#8da2ca,#8da2c9,#90a4c9,#96a8c6,#9cabc3,#a2adbf,#a5aebc,#aaafb8,#afb0b3,#b3afae,#b5aeab,#b6ada8,#b8aca6,#b9aba3,#baaba2,#bbaaa0,#bca99f,#bbaaa1,#baaba2,#b9aba4,#b5aeaa,#afb0b2,#aaafb8,#a5aebc,#a2adbf,#9eacc1,#9dabc2,#9cabc3,#9baac3,#9baac3,#9baac3,#9baac3,#9baac3,#9aaac4,#98a9c5,#94a7c7,#9aaac4,#a1adc0,#a5aebd,#a7aebb,#a1adc0,#97a8c5,#8fa4c9,#899fcb,#839ccc,#7f98cc,#7c96cc,#7994cc,#7892cc,#7691cc,#7691cc,#7590cc,#7590cc,#7791cc,#7892cc,#7993cc,#7b95cc,#7d97cc,#8099cc,#839ccc,#879ecb,#8aa0cb,#8da2ca,#8ea3c9,#90a4c9,#92a5c8,#93a6c7,#94a7c7,#92a6c8,#90a4c9,#8ca1ca,#889fcb,#849dcc,#829acc,#7f99cc)"></i>
<i style="top:95px;height:1px;background:linear-gradient(90deg,#869ecb,#869ecb,#869ecb,#869ecb,#869ecb,#869ecb,#869ecb,#879ecb,#89a0cb,#8fa3c9,#94a7c7,#99a9c4,#9dabc2,#a2adbf,#a7aebb,#acb0b7,#aeb0b4,#b0b0b2,#b1b0b0,#b3afad,#b4afab,#b6aeaa,#b6ada8,#b6aea9,#b5aeab,#b4afac,#b1b1b1,#abafb7,#a6aebc,#a2adbf,#9eacc1,#9baac3,#9aaac4,#99a9c4,#99a9c4,#99a9c5,#99a9c5,#99a9c5,#99a9c5,#98a9c5,#95a7c6,#91a5c8,#93a6c7,#99a9c4,#9dabc2,#9cabc3,#9baac3,#92a5c8,#8aa0cb,#849ccc,#7f99cc,#7b96cc,#7993cc,#7792cc,#7590cc,#7490cc,#748fcb,#738fcb,#738ecb,#7590cc,#7591cc,#7792cc,#7893cc,#7a94cc,#7d96cc,#8099cc,#839ccc,#869dcb,#889fcb,#8aa0cb,#8ba1ca,#8da2ca,#8ea3c9,#8fa3c9,#8ea2c9,#8ba1ca,#889ecb,#849ccc,#819acc,#7e98cc,#7c96cc)"></i>
<i style="top:96px;height:1px;background:linear-gradient(90deg,#7f99cc,#7f99cc,#7f99cc,#7f99cc,#7f99cc,#7f99cc,#7f99cc,#8099cc,#829bcc,#879ecb,#8ca1ca,#90a4c8,#94a7c7,#99a9c4,#9eacc1,#a4aebe,#a6aebc,#a8afba,#aaafb8,#acb0b6,#aeb0b4,#afb0b3,#b0b1b1,#b0b1b2,#afb0b3,#afb0b3,#acb0b6,#a7aebb,#a2adbf,#9dabc2,#9baac4,#98a9c5,#97a8c5,#96a8c6,#96a8c6,#96a8c6,#96a8c6,#96a8c6,#96a8c6,#95a7c6,#92a6c8,#8fa3c9,#8ca2ca,#92a6c8,#95a7c6,#94a7c7,#94a7c7,#8ca1ca,#859dcc,#8099cc,#7b96cc,#7893cc,#7691cc,#7490cc,#738fcb,#728ecb,#728dcb,#718dcb,#718dcb,#728ecb,#738fcb,#7490cc,#7691cc,#7792cc,#7994cc,#7c96cc,#7f98cc,#829bcc,#849ccc,#859dcc,#879ecb,#889fcb,#8aa0cb,#8aa0cb,#899fcb,#869ecb,#839ccc,#8099cc,#7d97cc,#7b95cc,#7994cc)"></i>
<i style="top:97px;height:1px;background:linear-gradient(90deg,#7893cc,#7893cc,#7893cc,#7893cc,#7893cc,#7893cc,#7893cc,#7993cc,#7b95cc,#7f99cc,#839ccc,#879ecb,#8ba0cb,#8fa4c9,#95a7c6,#9aaac4,#9dabc2,#a0acc1,#a2adbf,#a5aebd,#a7aebb,#a8afba,#aaafb9,#aaafb9,#a9afb9,#a9afb9,#a6aebc,#a2adbf,#9dabc2,#99a9c4,#97a8c5,#95a7c7,#93a6c7,#93a6c7,#93a6c7,#93a6c7,#93a6c7,#93a6c7,#92a6c7,#92a5c8,#8fa4c9,#8ba1ca,#879ecb,#8ba1ca,#8ea3c9,#8da2ca,#8ea3c9,#869ecb,#8099cc,#7b95cc,#7892cc,#7590cc,#738ecb,#718dcb,#708ccb,#708ccb,#6f8bcb,#6f8bcb,#6f8bcb,#708ccb,#718dcb,#728dcb,#738ecb,#7490cc,#7691cc,#7993cc,#7b95cc,#7d97cc,#7f98cc,#8099cc,#829bcc,#839ccc,#849ccc,#859dcc,#849ccc,#829acc,#7f98cc,#7c96cc,#7994cc,#7792cc,#7691cc)"></i>
<i style="top:98px;height:1px;background:linear-gradient(90deg,#718dcb,#718dcb,#718dcb,#718dcb,#718dcb,#718dcb,#718dcb,#718dcb,#738fcb,#7792cc,#7a94cc,#7d97cc,#819acc,#869dcb,#8ba1ca,#91a5c8,#93a6c7,#96a8c6,#99a9c4,#9cabc3,#9eacc1,#a1adc0,#a2adbf,#a3adbf,#a3adbf,#a2adbf,#a0acc0,#9cabc3,#98a9c5,#95a7c7,#92a6c8,#91a5c8,#90a4c9,#8fa4c9,#8fa3c9,#8fa3c9,#8fa3c9,#8fa3c9,#8fa3c9,#8ea3c9,#8ca1ca,#889fcb,#839ccc,#849ccc,#869ecb,#859dcb,#859dcc,#8099cc,#7a95cc,#7792cc,#748fcb,#718dcb,#708ccb,#6e8acb,#6e8aca,#6d89ca,#6d89ca,#6c88ca,#6c88ca,#6d89ca,#6e8aca,#6f8bcb,#708ccb,#718dcb,#738ecb,#7590cc,#7792cc,#7993cc,#7a95cc,#7b95cc,#7d96cc,#7e97cc,#7f98cc,#7f99cc,#7e98cc,#7d96cc,#7a94cc,#7892cc,#7591cc,#748fcb,#728ecb)"></i>
<i style="top:99px;height:1px;background:linear-gradient(90deg,#6985c9,#6985c9,#6985c9,#6985c9,#6985c9,#6985c9,#6985c9,#6a86c9,#6b87ca,#6e8aca,#718dcb,#748fcb,#7792cc,#7c96cc,#819acc,#869ecb,#8aa0cb,#8da2ca,#90a4c9,#93a6c7,#95a8c6,#98a9c5,#9aaac4,#9baac4,#9baac3,#9baac3,#9aaac4,#96a8c6,#93a6c7,#90a4c9,#8ea3c9,#8da2ca,#8ca1ca,#8ba1ca,#8ba1ca,#8ba1ca,#8ba1ca,#8ba1ca,#8ba1ca,#8aa0cb,#889ecb,#849ccc,#7f99cc,#7d97cc,#7f98cc,#7e98cc,#7b95cc,#7a95cc,#7590cc,#728ecb,#6f8bcb,#6e8aca,#6c88ca,#6b87ca,#6b87c9,#6a86c9,#6a86c9,#6a86c9,#6985c9,#6a86c9,#6b87ca,#6b87ca,#6c88ca,#6d89ca,#6f8bcb,#718dcb,#738ecb,#7490cc,#7591cc,#7691cc,#7792cc,#7993cc,#7a94cc,#7a94cc,#7994cc,#7892cc,#7591cc,#738fcb,#718dcb,#708ccb,#6f8bcb)"></i>
<i style="top:100px;height:1px;background:linear-gradient(90deg,#627ec6,#627ec6,#627ec6,#627ec6,#627ec6,#627ec6,#627ec6,#627ec7,#6480c7,#6682c8,#6884c9,#6a86c9,#6d89ca,#718dcb,#7792cc,#7c96cc,#7f98cc,#839bcc,#869ecb,#89a0cb,#8ca2ca,#8fa4c9,#91a5c8,#92a6c8,#93a6c7,#93a7c7,#93a6c7,#90a4c9,#8da2ca,#8aa0cb,#899fcb,#879ecb,#879ecb,#869ecb,#869ecb,#869ecb,#869ecb,#869ecb,#869ecb,#859dcb,#839bcc,#7f99cc,#7b95cc,#7792cc,#7893cc,#7792cc,#7490cc,#7490cc,#708ccb,#6d89ca,#6b87ca,#6a86c9,#6884c9,#6884c9,#6783c8,#6783c8,#6783c8,#6682c8,#6682c8,#6783c8,#6783c9,#6884c9,#6985c9,#6a86c9,#6b87ca,#6c88ca,#6e8aca,#6f8bcb,#708ccb,#718dcb,#728ecb,#738fcb,#748fcb,#7490cc,#748fcb,#728ecb,#708ccb,#6f8bcb,#6d89ca,#6c88ca,#6b87c9)"></i>
<i style="top:101px;height:1px;background:linear-gradient(90deg,#5a75c3,#5a75c3,#5a75c3,#5a75c3,#5a75c3,#5a75c3,#5a75c3,#5a76c3,#5c77c4,#5d79c4,#5f7bc5,#617dc6,#637fc7,#6783c9,#6c88ca,#718dcb,#7590cc,#7893cc,#7c96cc,#7f99cc,#839bcc,#869dcb,#889fcb,#8aa0cb,#8ba1ca,#8ca1ca,#8ba1ca,#899fcb,#869ecb,#849ccc,#839bcc,#829bcc,#819acc,#819acc,#819acc,#819acc,#819acc,#819acc,#819acc,#8099cc,#7e97cc,#7a94cc,#7691cc,#728ecb,#718dcb,#708ccb,#6e8aca,#6e8aca,#6a86c9,#6884c9,#6783c8,#6581c8,#6480c7,#6480c7,#637fc7,#637fc7,#637fc7,#637fc7,#637fc7,#637fc7,#6480c7,#6480c7,#6581c8,#6682c8,#6783c8,#6884c9,#6985c9,#6a86c9,#6b87ca,#6c88ca,#6d89ca,#6d89ca,#6e8aca,#6e8acb,#6e8aca,#6d89ca,#6b87ca,#6a86c9,#6884c9,#6783c8,#6682c8)"></i>
<i style="top:102px;height:1px;background:linear-gradient(90deg,#536dbe,#536dbe,#536dbe,#536dbe,#536dbe,#536dbe,#536dbe,#536dbe,#546fbf,#5570c0,#5671c1,#5873c1,#5a75c3,#5e7ac5,#627ec7,#6783c8,#6a86c9,#6e8aca,#718dcb,#7590cc,#7893cc,#7c96cc,#7e98cc,#8099cc,#829acc,#839bcc,#839bcc,#819acc,#7f98cc,#7d97cc,#7c96cc,#7b95cc,#7b95cc,#7b95cc,#7a95cc,#7a95cc,#7a95cc,#7a95cc,#7a95cc,#7a94cc,#7892cc,#7490cc,#718dcb,#6d89ca,#6a86c9,#6985c9,#6783c9,#6682c8,#6581c8,#637fc7,#627ec6,#617dc6,#607cc6,#5f7bc6,#5f7bc6,#5f7bc5,#5f7bc5,#5f7bc5,#5f7bc5,#5f7bc6,#5f7bc6,#607cc6,#607cc6,#617dc6,#627ec7,#637fc7,#6480c7,#6581c8,#6682c8,#6682c8,#6783c8,#6783c9,#6884c9,#6884c9,#6884c9,#6783c8,#6682c8,#6480c7,#637fc7,#627ec7,#617dc6)"></i>
<i style="top:103px;height:1px;background:linear-gradient(90deg,#4b64b9,#4b64b9,#4b64b9,#4b64b9,#4b64b9,#4b64b9,#4b65b9,#4c65b9,#4d66ba,#4d67ba,#4e68bb,#4f69bc,#516cbd,#546fbf,#5874c2,#5c78c4,#607cc6,#637fc7,#6783c8,#6a86c9,#6e8aca,#718dcb,#7490cc,#7691cc,#7893cc,#7994cc,#7994cc,#7993cc,#7792cc,#7591cc,#7490cc,#748fcb,#748fcb,#738fcb,#738fcb,#738fcb,#738fcb,#738fcb,#738fcb,#738ecb,#718dcb,#6e8aca,#6a86c9,#6783c8,#637fc7,#627ec7,#617dc6,#5f7bc5,#5f7bc5,#5d79c5,#5c78c4,#5c77c4,#5b77c3,#5b76c3,#5a76c3,#5a76c3,#5a76c3,#5a76c3,#5a76c3,#5a76c3,#5b76c3,#5b77c3,#5b77c3,#5c78c4,#5d78c4,#5d79c5,#5e7ac5,#5f7bc5,#607cc6,#607cc6,#617dc6,#617dc6,#627ec6,#627ec7,#617dc6,#617dc6,#607cc6,#5f7bc5,#5e79c5,#5d79c4,#5c78c4)"></i>
<i style="top:104px;height:1px;background:linear-gradient(90deg,#445cb3,#445cb3,#445cb3,#445cb3,#445cb3,#445cb3,#445cb3,#445cb3,#455db3,#465db4,#465eb5,#475fb5,#4962b7,#4c65b9,#5069bc,#536dbe,#5671c0,#5974c2,#5c78c4,#607cc6,#637fc7,#6783c8,#6a86c9,#6c88ca,#6d89ca,#6f8bcb,#6f8bcb,#6f8bcb,#6e8aca,#6d89ca,#6c88ca,#6c88ca,#6b87ca,#6b87ca,#6b87ca,#6b87ca,#6b87ca,#6b87ca,#6b87ca,#6b87c9,#6985c9,#6682c8,#637fc7,#607cc6,#5d78c4,#5b77c3,#5a75c3,#5873c2,#5874c2,#5772c1,#5672c1,#5671c0,#5571c0,#5570c0,#5570c0,#5570c0,#5570c0,#5570c0,#5570c0,#5570c0,#5570c0,#5571c0,#5671c0,#5671c1,#5772c1,#5773c1,#5873c2,#5974c2,#5974c2,#5975c2,#5a75c3,#5a76c3,#5b76c3,#5b76c3,#5a76c3,#5a75c3,#5975c2,#5874c2,#5873c1,#5772c1,#5672c1)"></i>
<i style="top:105px;height:1px;background:linear-gradient(90deg,#3e54ac,#3e54ac,#3e54ac,#3e54ac,#3e54ac,#3e54ac,#3e54ac,#3e54ad,#3e54ad,#3f55ad,#3f55ae,#4056ae,#4158b0,#445bb2,#475fb5,#4a63b7,#4d66ba,#5069bc,#536dbe,#5671c0,#5974c2,#5c78c4,#5f7bc5,#617dc6,#637fc7,#6480c7,#6581c8,#6581c8,#6480c7,#637fc7,#637fc7,#627ec7,#627ec7,#627ec7,#627ec7,#627ec7,#627ec7,#627ec7,#627ec7,#617dc6,#607cc6,#5e7ac5,#5b77c3,#5874c2,#5671c0,#546fbf,#536dbe,#516cbd,#526cbd,#516bbd,#506abd,#506abc,#506abc,#5069bc,#5069bc,#4f69bc,#4f69bc,#4f69bc,#4f69bc,#5069bc,#506abc,#506abc,#506abc,#506abd,#516bbd,#516bbd,#526cbd,#526cbe,#526dbe,#536dbe,#536dbe,#536ebf,#536ebf,#536ebf,#536ebf,#536dbe,#526dbe,#526cbe,#516bbd,#516bbd,#516bbd)"></i>
<i style="top:106px;height:1px;background:linear-gradient(90deg,#394ca6,#394ca6,#394ca6,#394ca6,#394ca6,#394ca6,#394ca6,#394ca6,#394ca6,#394ca7,#3a4da7,#3a4da7,#3b4fa9,#3d52ab,#3f55ad,#4158b0,#445bb2,#465eb4,#4962b7,#4c65b9,#4f68bb,#516bbd,#536ebf,#5570c0,#5772c1,#5874c2,#5974c2,#5975c2,#5974c2,#5873c2,#5873c2,#5873c1,#5773c1,#5773c1,#5773c1,#5773c1,#5773c1,#5773c1,#5773c1,#5772c1,#5671c0,#546fbf,#526dbe,#506abc,#4e68bb,#4c65b9,#4b64b8,#4a63b8,#4a63b8,#4a62b7,#4962b7,#4962b7,#4961b7,#4961b7,#4961b7,#4961b6,#4961b6,#4961b6,#4961b6,#4961b7,#4961b7,#4962b7,#4962b7,#4962b7,#4a62b7,#4a63b8,#4a63b8,#4b64b8,#4b64b8,#4b64b8,#4b64b9,#4c65b9,#4c65b9,#4c65b9,#4c65b9,#4b64b9,#4b64b8,#4a63b8,#4a63b8,#4a62b7,#4962b7)"></i>
<i style="top:107px;height:1px;background:linear-gradient(90deg,#3445a0,#3445a0,#3445a0,#3445a0,#3445a0,#3445a0,#3445a0,#3445a1,#3445a1,#3545a1,#3546a1,#3546a1,#3647a2,#3749a4,#394ba6,#3a4ea8,#3c50aa,#3e53ac,#4056ae,#4259b0,#445bb2,#465eb4,#4860b6,#4a62b7,#4b64b8,#4c65b9,#4d66ba,#4d67ba,#4d66ba,#4d66ba,#4c66ba,#4c65b9,#4c65b9,#4c65b9,#4c65b9,#4c65b9,#4c65b9,#4c65b9,#4c65b9,#4c65b9,#4b64b8,#4a62b7,#4861b6,#465fb5,#455db3,#435bb2,#435ab1,#4259b0,#4259b0,#4259b0,#4258b0,#4158b0,#4158b0,#4158b0,#4158b0,#4158b0,#4158b0,#4158b0,#4158b0,#4158b0,#4158b0,#4158b0,#4158b0,#4258b0,#4259b0,#4259b0,#4259b1,#4259b1,#4259b1,#435ab1,#435ab1,#435ab1,#435ab1,#435ab1,#435ab1,#435ab1,#435ab1,#4259b1,#4259b0,#4259b0,#4258b0)"></i>
<i style="top:108px;height:1px;background:linear-gradient(90deg,#31409c,#31409c,#31409c,#31409c,#31409c,#31409c,#31409c,#31409c,#31409c,#31409c,#31409c,#31409c,#32419d,#32429e,#33439f,#3445a1,#3546a2,#3748a3,#384aa5,#394ca6,#3a4ea8,#3b50a9,#3c51aa,#3d53ac,#3e54ac,#3f55ad,#3f55ae,#3f56ae,#3f56ae,#3f55ae,#3f55ae,#3f55ad,#3f55ad,#3f55ad,#3f55ad,#3f55ad,#3f55ad,#3f55ad,#3f55ad,#3f55ad,#3e54ad,#3e53ac,#3d52ab,#3c51aa,#3b50a9,#3b4fa8,#3a4ea8,#3a4da7,#3a4da7,#3a4da7,#3a4da7,#3a4da7,#394da7,#394da7,#394da7,#394da7,#394da7,#394da7,#394da7,#394da7,#394da7,#3a4da7,#3a4da7,#3a4da7,#3a4da7,#3a4da7,#3a4da7,#3a4ea8,#3a4ea8,#3a4ea8,#3a4ea8,#3a4ea8,#3a4ea8,#3a4ea8,#3a4ea8,#3a4ea8,#3a4ea8,#3a4da8,#3a4da7,#3a4da7,#3a4da7)"></i>
<i style="top:109px;height:1px;background:linear-gradient(90deg,#2f3d9a,#2f3d9a,#2f3d9a,#2f3d9a,#2f3d9a,#2f3d9a,#2f3d9a,#2f3d9a,#2f3d9a,#2f3d9a,#2f3d9a,#2f3d9a,#2f3d9a,#303d9a,#303e9a,#303e9b,#303e9b,#303f9b,#313f9b,#313f9c,#31409c,#31409c,#31409d,#32419d,#32419d,#32419d,#32419d,#32419d,#32419d,#32419d,#32419d,#32419d,#32419d,#32419d,#32419d,#32419d,#32419d,#32419d,#32419d,#32419d,#32419d,#32419d,#32419d,#32409d,#31409c,#31409c,#31409c,#31409c,#31409c,#31409c,#31409c,#31409c,#31409c,#31409c,#31409c,#31409c,#31409c,#31409c,#31409c,#31409c,#31409c,#31409c,#31409c,#31409c,#31409c,#31409c,#31409c,#31409c,#31409c,#31409c,#31409c,#31409c,#31409c,#31409c,#31409c,#31409c,#31409c,#31409c,#31409c,#31409c,#31409c)"></i>
<i style="top:110px;height:1px;background:linear-gradient(90deg,#2f3d9a,#2f3d9a,#2f3d9a,#2f3d9a,#2f3d9a,#2f3d9a,#2f3d9a,#2f3d9a,#2f3d9a,#2f3d9a,#2f3d9a,#2f3d9a,#2f3d9a,#2f3d9a,#2f3d9a,#2f3d9a,#2f3d9a,#2f3d9a,#2f3d9a,#2f3d9a,#2f3d9a,#2f3d9a,#2f3d9a,#2f3d9a,#2f3d9a,#2f3d9a,#2f3d9a,#2f3d9a,#2f3d9a,#2f3d9a,#2f3d9a,#2f3d9a,#2f3d9a,#2f3d9a,#2f3d9a,#2f3d9a,#2f3d9a,#2f3d9a,#2f3d9a,#2f3d9a,#2f3d9a,#2f3d9a,#2f3d9a,#2f3d9a,#2f3d9a,#2f3d9a,#2f3d9a,#2f3d9a,#2f3d9a,#2f3d9a,#2f3d9a,#2f3d9a,#2f3d9a,#2f3d9a,#2f3d9a,#2f3d9a,#2f3d9a,#2f3d9a,#2f3d9a,#2f3d9a,#2f3d9a,#2f3d9a,#2f3d9a,#2f3d9a,#2f3d9a,#2f3d9a,#2f3d9a,#2f3d9a,#2f3d9a,#2f3d9a,#2f3d9a,#2f3d9a,#2f3d9a,#2f3d9a,#2f3d9a,#2f3d9a,#2f3d9a,#2f3d9a,#2f3d9a,#2f3d9a,#2f3d9a)"></i>
<i style="top:111px;height:1px;background:linear-gradient(90deg,#2f3d9a,#2f3d9a,#2f3d9a,#2f3d9a,#2f3d9a,#2f3d9a,#2f3d9a,#2f3d9a,#2f3d9a,#2f3d9a,#2f3d9a,#2f3d9a,#2f3d9a,#2f3d9a,#2f3d9a,#2f3d9a,#2f3d9a,#2f3d9a,#2f3d9a,#2f3d9a,#2f3d9a,#2f3d9a,#2f3d9a,#2f3d9a,#2f3d9a,#2f3d9a,#2f3d9a,#2f3d9a,#2f3d9a,#2f3d9a,#2f3d9a,#2f3d9a,#2f3d9a,#2f3d9a,#2f3d9a,#2f3d9a,#2f3d9a,#2f3d9a,#2f3d9a,#2f3d9a,#2f3d9a,#2f3d9a,#2f3d9a,#2f3d9a,#2f3d9a,#2f3d9a,#2f3d9a,#2f3d9a,#2f3d9a,#2f3d9a,#2f3d9a,#2f3d9a,#2f3d9a,#2f3d9a,#2f3d9a,#2f3d9a,#2f3d9a,#2f3d9a,#2f3d9a,#2f3d9a,#2f3d9a,#2f3d9a,#2f3d9a,#2f3d9a,#2f3d9a,#2f3d9a,#2f3d9a,#2f3d9a,#2f3d9a,#2f3d9a,#2f3d9a,#2f3d9a,#2f3d9a,#2f3d9a,#2f3d9a,#2f3d9a,#2f3d9a,#2f3d9a,#2f3d9a,#2f3d9a,#2f3d9a)"></i>
<i style="top:112px;height:1px;background:linear-gradient(90deg,#2f3d9a,#2f3d9a,#2f3d9a,#2f3d9a,#2f3d9a,#2f3d9a,#2f3d9a,#2f3d9a,#2f3d9a,#2f3d9a,#2f3d9a,#2f3d9a,#2f3d9a,#2f3d9a,#2f3d9a,#2f3d9a,#2f3d9a,#2f3d9a,#2f3d9a,#2f3d9a,#2f3d9a,#2f3d9a,#2f3d9a,#2f3d9a,#2f3d9a,#2f3d9a,#2f3d9a,#2f3d9a,#2f3d9a,#2f3d9a,#2f3d9a,#2f3d9a,#2f3d9a,#2f3d9a,#2f3d9a,#2f3d9a,#2f3d9a,#2f3d9a,#2f3d9a,#2f3d9a,#2f3d9a,#2f3d9a,#2f3d9a,#2f3d9a,#2f3d9a,#2f3d9a,#2f3d9a,#2f3d9a,#2f3d9a,#2f3d9a,#2f3d9a,#2f3d9a,#2f3d9a,#2f3d9a,#2f3d9a,#2f3d9a,#2f3d9a,#2f3d9a,#2f3d9a,#2f3d9a,#2f3d9a,#2f3d9a,#2f3d9a,#2f3d9a,#2f3d9a,#2f3d9a,#2f3d9a,#2f3d9a,#2f3d9a,#2f3d9a,#2f3d9a,#2f3d9a,#2f3d9a,#2f3d9a,#2f3d9a,#2f3d9a,#2f3d9a,#2f3d9a,#2f3d9a,#2f3d9a,#2f3d9a)"></i>
</div></div>
<div class="fw" style="left:16px;top:131px;width:314px;height:107px">
<div class="fi" style="left:-3px;top:-3px;width:320px;height:113px;filter:blur(0.6px)">
<i style="top:0px;height:1px;background:linear-gradient(90deg,#2f3d9a,#2f3d9a,#2f3d9a,#2f3d9a,#2f3d9a,#2f3d9a,#2f3d9a,#2f3d9a,#2f3d9a,#2f3d9a,#2f3d9a,#2f3d9a,#2f3d9a,#2f3d9a,#2f3d9a,#2f3d9a,#2f3d9a,#2f3d9a,#2f3d9a,#2f3d9a,#2f3d9a,#2f3d9a,#2f3d9a,#2f3d9a,#2f3d9a,#2f3d9a,#2f3d9a,#2f3d9a,#2f3d9a,#2f3d9a,#2f3d9a,#2f3d9a,#2f3d9a,#2f3d9a,#2f3d9a,#2f3d9a,#2f3d9a,#2f3d9a,#2f3d9a,#2f3d9a,#2f3d9a,#2f3d9a,#2f3d9a,#2f3d9a,#2f3d9a,#2f3d9a,#2f3d9a,#2f3d9a,#2f3d9a,#2f3d9a,#2f3d9a,#2f3d9a,#2f3d9a,#2f3d9a,#2f3d9a,#2f3d9a,#2f3d9a,#2f3d9a,#2f3d9a,#2f3d9a,#2f3d9a,#2f3d9a,#2f3d9a,#2f3d9a,#2f3d9a,#2f3d9a,#2f3d9a,#2f3d9a,#2f3d9a,#2f3d9a,#2f3d9a,#2f3d9a,#2f3d9a,#2f3d9a,#2f3d9a,#2f3d9a,#2f3d9a,#2f3d9a,#2f3d9a,#2f3d9a,#2f3d9a)"></i>
<i style="top:1px;height:1px;background:linear-gradient(90deg,#2f3d9a,#2f3d9a,#2f3d9a,#2f3d9a,#2f3d9a,#2f3d9a,#2f3d9a,#2f3d9a,#2f3d9a,#2f3d9a,#2f3d9a,#2f3d9a,#2f3d9a,#2f3d9a,#2f3d9a,#2f3d9a,#2f3d9a,#2f3d9a,#2f3d9a,#2f3d9a,#2f3d9a,#2f3d9a,#2f3d9a,#2f3d9a,#2f3d9a,#2f3d9a,#2f3d9a,#2f3d9a,#2f3d9a,#2f3d9a,#2f3d9a,#2f3d9a,#2f3d9a,#2f3d9a,#2f3d9a,#2f3d9a,#2f3d9a,#2f3d9a,#2f3d9a,#2f3d9a,#2f3d9a,#2f3d9a,#2f3d9a,#2f3d9a,#2f3d9a,#2f3d9a,#2f3d9a,#2f3d9a,#2f3d9a,#2f3d9a,#2f3d9a,#2f3d9a,#2f3d9a,#2f3d9a,#2f3d9a,#2f3d9a,#2f3d9a,#2f3d9a,#2f3d9a,#2f3d9a,#2f3d9a,#2f3d9a,#2f3d9a,#2f3d9a,#2f3d9a,#2f3d9a,#2f3d9a,#2f3d9a,#2f3d9a,#2f3d9a,#2f3d9a,#2f3d9a,#2f3d9a,#2f3d9a,#2f3d9a,#2f3d9a,#2f3d9a,#2f3d9a,#2f3d9a,#2f3d9a,#2f3d9a)"></i>
<i style="top:2px;height:1px;background:linear-gradient(90deg,#2f3d9a,#2f3d9a,#2f3d9a,#2f3d9a,#2f3d9a,#2f3d9a,#2f3d9a,#2f3d9a,#2f3d9a,#2f3d9a,#2f3d9a,#2f3d9a,#2f3d9a,#2f3d9a,#2f3d9a,#2f3d9a,#2f3d9a,#2f3d9a,#2f3d9a,#2f3d9a,#2f3d9a,#2f3d9a,#2f3d9a,#2f3d9a,#2f3d9a,#2f3d9a,#2f3d9a,#2f3d9a,#2f3d9a,#2f3d9a,#2f3d9a,#2f3d9a,#2f3d9a,#2f3d9a,#2f3d9a,#2f3d9a,#2f3d9a,#2f3d9a,#2f3d9a,#2f3d9a,#2f3d9a,#2f3d9a,#2f3d9a,#2f3d9a,#2f3d9a,#2f3d9a,#2f3d9a,#2f3d9a,#2f3d9a,#2f3d9a,#2f3d9a,#2f3d9a,#2f3d9a,#2f3d9a,#2f3d9a,#2f3d9a,#2f3d9a,#2f3d9a,#2f3d9a,#2f3d9a,#2f3d9a,#2f3d9a,#2f3d9a,#2f3d9a,#2f3d9a,#2f3d9a,#2f3d9a,#2f3d9a,#2f3d9a,#2f3d9a,#2f3d9a,#2f3d9a,#2f3d9a,#2f3d9a,#2f3d9a,#2f3d9a,#2f3d9a,#2f3d9a,#2f3d9a,#2f3d9a,#2f3d9a)"></i>
<i style="top:3px;height:1px;background:linear-gradient(90deg,#303d9a,#303d9a,#303d9a,#303d9a,#303d9a,#303d9a,#303d9a,#303d9a,#303d9a,#303d9a,#303d9a,#303e9a,#303e9b,#303e9b,#313f9b,#31409c,#32419d,#32419e,#33429e,#33439f,#3444a0,#3445a0,#3546a1,#3546a2,#3647a2,#3648a3,#3648a3,#3748a3,#3748a3,#3748a3,#3748a4,#3748a4,#3749a4,#3749a4,#3749a4,#3749a4,#3749a4,#3748a4,#3748a4,#3748a3,#3748a3,#3748a3,#3648a3,#3648a3,#3648a3,#3648a3,#3648a3,#3647a3,#3647a2,#3647a2,#3547a2,#3546a2,#3546a1,#3546a1,#3546a1,#3545a1,#3545a1,#3545a1,#3545a1,#3545a1,#3545a1,#3545a1,#3545a1,#3545a1,#3545a1,#3545a1,#3545a1,#3545a1,#3545a1,#3445a1,#3445a1,#3445a1,#3445a1,#3445a1,#3445a1,#3445a1,#3445a1,#3445a1,#3445a1,#3445a1,#3445a1)"></i>
<i style="top:4px;height:1px;background:linear-gradient(90deg,#32419d,#32419d,#32419d,#32419d,#32419d,#32419d,#32419d,#32419d,#32419d,#32419d,#32419d,#32429e,#33429e,#3444a0,#3545a1,#3647a3,#374aa4,#394ca6,#3a4ea8,#3c50aa,#3d53ab,#3f55ad,#4056ae,#4158b0,#435ab1,#445bb2,#445cb3,#455db3,#455db3,#455db4,#455db4,#455db4,#455db4,#465eb4,#465eb4,#465eb4,#465eb4,#455db4,#455db4,#455db4,#455db3,#455db3,#455cb3,#445cb3,#445cb2,#445bb2,#445bb2,#435ab1,#435ab1,#4259b0,#4158b0,#4157af,#4057af,#4056ae,#3f55ae,#3f55ad,#3f55ad,#3f54ad,#3f54ad,#3f54ad,#3f55ad,#3f55ad,#3f54ad,#3f54ad,#3f54ad,#3e54ad,#3e54ad,#3e54ad,#3e54ad,#3e54ad,#3e54ad,#3e54ac,#3e54ac,#3e54ac,#3e54ac,#3e54ac,#3e54ac,#3e54ac,#3e54ac,#3e54ac,#3e54ac)"></i>
<i style="top:5px;height:1px;background:linear-gradient(90deg,#3647a2,#3647a2,#3647a2,#3647a2,#3647a2,#3647a2,#3647a2,#3647a2,#3647a2,#3647a2,#3647a3,#3648a3,#3749a4,#394ca6,#3a4ea8,#3c51aa,#3e54ad,#4157af,#435ab2,#455db4,#4860b6,#4a63b8,#4c65b9,#4e68bb,#506abc,#516cbd,#526dbe,#536ebf,#546ebf,#546ebf,#546fbf,#546fbf,#546fbf,#556fbf,#5570c0,#5570c0,#546fbf,#546fbf,#546fbf,#546ebf,#536ebf,#536ebe,#536dbe,#536dbe,#526cbe,#526cbd,#516bbd,#506abc,#4f69bc,#4f68bb,#4e67bb,#4d66ba,#4c65b9,#4b64b8,#4a63b8,#4962b7,#4962b7,#4961b7,#4961b7,#4961b7,#4961b7,#4961b7,#4961b6,#4961b6,#4861b6,#4861b6,#4861b6,#4861b6,#4860b6,#4860b6,#4860b6,#4860b6,#4860b6,#4760b5,#4760b5,#4760b5,#4760b5,#475fb5,#4760b5,#4760b5,#4760b5)"></i>
<i style="top:6px;height:1px;background:linear-gradient(90deg,#3a4ea8,#3a4ea8,#3a4ea8,#3a4ea8,#3a4ea8,#3a4ea8,#3a4ea8,#3a4ea8,#3a4ea8,#3b4fa8,#3b4fa9,#3b50a9,#3d52ab,#3f55ad,#4157af,#435bb2,#465fb5,#4a63b8,#4d67ba,#506abc,#526dbe,#5570c0,#5773c1,#5a75c3,#5c78c4,#5e7ac5,#607cc6,#617dc6,#617dc6,#617dc6,#627ec6,#627ec7,#627ec7,#637fc7,#637fc7,#637fc7,#627ec7,#627ec7,#627ec6,#617dc6,#617dc6,#607cc6,#607cc6,#5f7bc6,#5e7ac5,#5e7ac5,#5d79c4,#5c78c4,#5b76c3,#5975c2,#5873c2,#5772c1,#5671c0,#556fc0,#546fbf,#536ebf,#526dbe,#526dbe,#526cbe,#526cbe,#526cbe,#526cbe,#526cbe,#526cbe,#526cbd,#526cbd,#516bbd,#516bbd,#516bbd,#516bbd,#516bbd,#506abd,#506abd,#506abc,#506abc,#506abc,#506abc,#506abc,#506abc,#506abc,#506abc)"></i>
<i style="top:7px;height:1px;background:linear-gradient(90deg,#4056ae,#4056ae,#4056ae,#4056ae,#4056ae,#4056ae,#4056ae,#4056ae,#4057af,#4157af,#4158af,#4258b0,#435bb2,#465eb5,#4962b7,#4c65b9,#506abc,#536ebf,#5772c1,#5a75c3,#5d79c4,#607cc6,#637fc7,#6682c8,#6884c9,#6a86c9,#6c88ca,#6d89ca,#6e8aca,#6e8aca,#6e8acb,#6f8bcb,#6f8bcb,#708ccb,#708ccb,#708ccb,#6f8bcb,#6f8bcb,#6e8aca,#6e8aca,#6d89ca,#6c88ca,#6c88ca,#6b87ca,#6a86c9,#6985c9,#6884c9,#6783c8,#6581c8,#6480c7,#627ec7,#617dc6,#5f7bc6,#5e7ac5,#5d79c4,#5c78c4,#5b77c3,#5b76c3,#5a76c3,#5a76c3,#5b76c3,#5a76c3,#5a76c3,#5a75c3,#5a75c3,#5975c2,#5975c2,#5974c2,#5974c2,#5874c2,#5873c2,#5873c2,#5873c1,#5773c1,#5773c1,#5772c1,#5772c1,#5772c1,#5772c1,#5772c1,#5772c1)"></i>
<i style="top:8px;height:1px;background:linear-gradient(90deg,#465eb5,#465eb5,#465eb5,#465eb5,#465eb5,#465eb5,#465eb5,#475fb5,#475fb5,#4860b6,#4861b6,#4962b7,#4c65b9,#4f69bc,#526cbe,#5570c0,#5974c2,#5d79c5,#617dc6,#6581c8,#6884c9,#6b87ca,#6e8aca,#718dcb,#738fcb,#7691cc,#7792cc,#7993cc,#7994cc,#7a94cc,#7a94cc,#7b95cc,#7b95cc,#7c96cc,#7c96cc,#7c96cc,#7b95cc,#7b95cc,#7a94cc,#7994cc,#7993cc,#7892cc,#7792cc,#7691cc,#7590cc,#748fcb,#738ecb,#718dcb,#6f8bcb,#6d89ca,#6c88ca,#6a86c9,#6884c9,#6783c8,#6682c8,#6581c8,#637fc7,#637fc7,#637fc7,#627ec7,#637fc7,#627ec7,#627ec7,#627ec6,#617dc6,#617dc6,#617dc6,#607cc6,#607cc6,#607cc6,#5f7bc6,#5f7bc5,#5f7bc5,#5e7ac5,#5e7ac5,#5e7ac5,#5e7ac5,#5e7ac5,#5e7ac5,#5e7ac5,#5e7ac5)"></i>
<i style="top:9px;height:1px;background:linear-gradient(90deg,#4e67bb,#4e67bb,#4e67bb,#4e67bb,#4e67bb,#4e67bb,#4e67bb,#4e68bb,#4f68bb,#4f69bc,#506abc,#516bbd,#546ebf,#5873c1,#5b77c3,#5f7bc5,#637fc7,#6884c9,#6c88ca,#6f8bcb,#728ecb,#7691cc,#7993cc,#7b96cc,#7e98cc,#8099cc,#829bcc,#839ccc,#849ccc,#859dcc,#859dcb,#869dcb,#869ecb,#879ecb,#879ecb,#879ecb,#869ecb,#869dcb,#859dcc,#849ccc,#839ccc,#829bcc,#819acc,#809acc,#7e98cc,#7d97cc,#7c96cc,#7a94cc,#7893cc,#7691cc,#7490cc,#728ecb,#718dcb,#6f8bcb,#6e8aca,#6d89ca,#6b87ca,#6b87c9,#6a86c9,#6a86c9,#6a86c9,#6a86c9,#6985c9,#6985c9,#6884c9,#6884c9,#6783c9,#6783c8,#6682c8,#6682c8,#6682c8,#6581c8,#6581c8,#6581c8,#6480c7,#6480c7,#6480c7,#6480c7,#6480c7,#6480c7,#6480c7)"></i>
<i style="top:10px;height:1px;background:linear-gradient(90deg,#5570c0,#5570c0,#5570c0,#5570c0,#5570c0,#5570c0,#5570c0,#5570c0,#5671c0,#5772c1,#5873c2,#5975c2,#5d78c4,#617dc6,#6581c8,#6985c9,#6d89ca,#728ecb,#7791cc,#7a94cc,#7d97cc,#8099cc,#839bcc,#869dcb,#889fcb,#8aa0cb,#8ca1ca,#8da2ca,#8ea3c9,#8fa3c9,#8fa4c9,#90a4c9,#90a4c8,#91a5c8,#91a5c8,#91a5c8,#90a4c8,#8fa4c9,#8fa3c9,#8ea3c9,#8da2ca,#8ca1ca,#8ba1ca,#8aa0cb,#889fcb,#869ecb,#859dcc,#839bcc,#8099cc,#7e98cc,#7c96cc,#7a95cc,#7993cc,#7792cc,#7691cc,#7590cc,#738ecb,#728ecb,#718dcb,#718dcb,#718dcb,#708ccb,#6f8bcb,#6f8bcb,#6f8bcb,#6e8aca,#6e8aca,#6d89ca,#6c88ca,#6c88ca,#6b87ca,#6b87ca,#6a86c9,#6a86c9,#6a86c9,#6985c9,#6985c9,#6985c9,#6985c9,#6985c9,#6985c9)"></i>
<i style="top:11px;height:1px;background:linear-gradient(90deg,#5c78c4,#5c78c4,#5c78c4,#5c78c4,#5c78c4,#5c78c4,#5c78c4,#5d79c4,#5e7ac5,#5f7bc6,#617dc6,#627ec7,#6682c8,#6b87ca,#6f8bcb,#738fcb,#7893cc,#7d97cc,#819acc,#849ccc,#879ecb,#8aa0cb,#8ca2ca,#8fa3c9,#91a5c8,#93a6c7,#95a7c6,#96a8c6,#97a8c5,#97a9c5,#98a9c5,#99a9c4,#99a9c4,#9aaac4,#9baac4,#9aaac4,#99a9c4,#98a9c5,#97a8c5,#96a8c6,#96a8c6,#94a7c7,#93a6c7,#92a6c8,#90a4c9,#8fa3c9,#8da2ca,#8ba0cb,#889fcb,#869dcb,#849ccc,#829bcc,#8099cc,#7f98cc,#7d97cc,#7c96cc,#7a94cc,#7993cc,#7893cc,#7792cc,#7892cc,#7792cc,#7591cc,#7590cc,#7490cc,#748fcb,#738fcb,#728ecb,#728ecb,#718dcb,#718dcb,#708ccb,#6f8bcb,#6f8bcb,#6e8acb,#6e8aca,#6e8aca,#6e8aca,#6e8aca,#6e8aca,#6e8aca)"></i>
<i style="top:12px;height:1px;background:linear-gradient(90deg,#6480c7,#6480c7,#6480c7,#6480c7,#6480c7,#6480c7,#6480c7,#6581c8,#6682c8,#6884c9,#6985c9,#6c88ca,#6f8bcb,#7590cc,#7994cc,#7e97cc,#829bcc,#879ecb,#8ba1ca,#8ea3c9,#90a4c8,#93a6c7,#95a7c6,#97a9c5,#9aaac4,#9cabc3,#9dabc2,#9eacc1,#9facc1,#a0acc0,#a1adc0,#a1adc0,#a2adbf,#a3adbf,#a3aebe,#a3aebf,#a2adbf,#a1adc0,#a0acc0,#9facc1,#9eabc2,#9cabc3,#9baac3,#9aaac4,#97a8c5,#96a8c6,#94a7c7,#92a5c8,#8fa3c9,#8da2ca,#8ba1ca,#899fcb,#879ecb,#869dcb,#859dcc,#839ccc,#819acc,#7f99cc,#7e98cc,#7e97cc,#7e97cc,#7d96cc,#7b95cc,#7a95cc,#7a94cc,#7994cc,#7893cc,#7792cc,#7792cc,#7691cc,#7590cc,#7590cc,#748fcb,#738fcb,#738ecb,#728ecb,#728ecb,#728ecb,#728ecb,#728ecb,#728ecb)"></i>
<i style="top:13px;height:1px;background:linear-gradient(90deg,#6b87ca,#6b87ca,#6b87ca,#6b87ca,#6b87ca,#6b87ca,#6c88ca,#6c88ca,#6e8aca,#708ccb,#728ecb,#7590cc,#7994cc,#7f98cc,#849ccc,#889fcb,#8da2ca,#91a5c8,#95a7c6,#97a8c5,#99a9c4,#9baac3,#9eabc2,#a0acc0,#a2adbf,#a4aebe,#a5aebd,#a6aebc,#a7aebb,#a8afbb,#a8afba,#a9afb9,#aaafb9,#aaafb8,#abafb8,#aaafb8,#a9afb9,#a8afba,#a7afbb,#a6aebc,#a5aebd,#a4aebe,#a2adbf,#a1adc0,#9facc1,#9dabc2,#9baac3,#98a9c5,#95a8c6,#93a6c7,#91a5c8,#90a4c9,#8ea3c9,#8da2ca,#8ca1ca,#8aa0cb,#889fcb,#869dcb,#859dcc,#849ccc,#849ccc,#829bcc,#8099cc,#7f99cc,#7f98cc,#7e98cc,#7d97cc,#7c96cc,#7b95cc,#7a95cc,#7a94cc,#7993cc,#7892cc,#7792cc,#7691cc,#7691cc,#7691cc,#7591cc,#7691cc,#7691cc,#7691cc)"></i>
<i style="top:14px;height:1px;background:linear-gradient(90deg,#738fcb,#738fcb,#738fcb,#738fcb,#738fcb,#738fcb,#738fcb,#748fcb,#7691cc,#7893cc,#7b95cc,#7e98cc,#839bcc,#899fcb,#8ea3c9,#92a5c8,#96a8c6,#9aaac4,#9eabc2,#a0acc0,#a2adbf,#a4aebe,#a5aebc,#a7afbb,#a9afb9,#aaafb8,#acb0b7,#adb0b5,#adb0b5,#aeb0b4,#afb0b3,#afb0b2,#b0b1b2,#b1b1b1,#b1b1b0,#b1b1b1,#b0b1b2,#afb0b3,#aeb0b4,#adb0b5,#acb0b7,#aaafb8,#a9afb9,#a8afba,#a6aebc,#a3aebe,#a1adc0,#9facc1,#9cabc3,#99a9c4,#97a9c5,#96a8c6,#94a7c7,#93a6c7,#92a6c8,#91a5c8,#8ea3c9,#8ca1ca,#8ba0cb,#8aa0cb,#8aa0cb,#879ecb,#859dcb,#849ccc,#849ccc,#839bcc,#829bcc,#809acc,#7f99cc,#7f98cc,#7e97cc,#7c96cc,#7b95cc,#7a95cc,#7a94cc,#7994cc,#7993cc,#7993cc,#7993cc,#7993cc,#7993cc)"></i>
<i style="top:15px;height:1px;background:linear-gradient(90deg,#7a95cc,#7a95cc,#7a95cc,#7a95cc,#7a95cc,#7a95cc,#7a95cc,#7b95cc,#7d97cc,#819acc,#849ccc,#889ecb,#8ca1ca,#92a6c8,#97a8c5,#9baac3,#9facc1,#a3aebe,#a6aebc,#a8afba,#a9afb9,#abafb8,#acb0b6,#aeb0b4,#afb0b3,#b1b1b1,#b2b0af,#b3b0ae,#b4afad,#b4afac,#b5aeaa,#b6aea9,#b6ada8,#b7ada8,#b8ada7,#b7ada7,#b6ada9,#b5aeab,#b4afac,#b3b0ae,#b2b0b0,#b0b1b2,#afb0b3,#aeb0b4,#acb0b7,#a9afb9,#a7aebb,#a5aebd,#a2adbf,#9facc1,#9dabc2,#9cabc3,#9aaac4,#99a9c4,#99a9c4,#97a8c5,#94a7c7,#92a5c8,#90a4c8,#8fa4c9,#8fa4c9,#8ca2ca,#8aa0cb,#899fcb,#889fcb,#879ecb,#869dcb,#859dcc,#839ccc,#829bcc,#819acc,#8099cc,#7f98cc,#7e97cc,#7d97cc,#7c96cc,#7c96cc,#7c96cc,#7c96cc,#7c96cc,#7c96cc)"></i>
<i style="top:16px;height:1px;background:linear-gradient(90deg,#819acc,#819acc,#819acc,#819acc,#819acc,#819acc,#819acc,#829bcc,#859dcc,#899fcb,#8da2ca,#90a4c8,#95a7c6,#9baac3,#a1adc0,#a4aebe,#a8afba,#abafb7,#aeb0b4,#afb0b3,#b0b1b2,#b1b1b0,#b2b0ae,#b4afac,#b5aeaa,#b6ada8,#b8ada7,#b8aca5,#b9aba4,#baaba3,#bbaaa1,#bbaaa0,#bca99f,#bca99e,#bda99d,#bda99e,#bcaaa0,#bbaaa2,#b9aba3,#b8aca5,#b7ada7,#b6aeaa,#b4afac,#b3afae,#b1b1b1,#aeb0b3,#acb0b6,#aaafb8,#a7aebb,#a5aebd,#a3aebe,#a2adbf,#a0acc0,#9facc1,#9facc1,#9dabc2,#9aaac4,#97a8c5,#95a8c6,#94a7c7,#94a7c7,#91a5c8,#8ea3c9,#8da2ca,#8da2ca,#8ca1ca,#8aa0cb,#899fcb,#879ecb,#869ecb,#859dcc,#839ccc,#829bcc,#819acc,#8099cc,#7f98cc,#7e98cc,#7e98cc,#7e98cc,#7e98cc,#7e98cc)"></i>
<i style="top:17px;height:1px;background:linear-gradient(90deg,#889fcb,#889fcb,#889fcb,#889fcb,#889fcb,#889fcb,#889fcb,#899fcb,#8ca1ca,#90a4c8,#95a7c6,#99a9c4,#9eabc2,#a4aebe,#a9afb9,#acb0b6,#afb0b3,#b2b0af,#b4afab,#b5aeaa,#b6ada9,#b7ada7,#b8aca5,#b9aba3,#bbaaa2,#bcaaa0,#bda99e,#bda89c,#bea79b,#bea69a,#bfa698,#c0a597,#c0a496,#c0a495,#c1a394,#c0a495,#c0a596,#bfa699,#bea79b,#bda89d,#bca99f,#bbaaa1,#b9aba3,#b8aca6,#b6aea9,#b3afad,#b1b1b0,#afb0b3,#acb0b6,#aaafb9,#a8afba,#a7aebb,#a6aebc,#a5aebd,#a5aebd,#a3aebe,#a0acc1,#9dabc2,#9baac3,#99a9c4,#99a9c4,#95a7c6,#93a6c7,#91a5c8,#91a5c8,#8fa4c9,#8ea3c9,#8ca2ca,#8ba1ca,#8aa0cb,#889fcb,#869ecb,#859dcc,#839ccc,#829bcc,#819acc,#819acc,#819acc,#819acc,#819acc,#819acc)"></i>
<i style="top:18px;height:1px;background:linear-gradient(90deg,#8ea3c9,#8ea3c9,#8ea3c9,#8ea3c9,#8ea3c9,#8fa3c9,#8fa3c9,#8fa4c9,#92a6c8,#98a9c5,#9dabc2,#a1adbf,#a6aebc,#acb0b7,#b0b1b1,#b3afad,#b6aea9,#b8aca5,#baaba2,#bbaaa1,#bcaa9f,#bca99e,#bda89d,#bea79b,#bfa699,#bfa597,#c0a495,#c1a394,#c1a292,#c2a191,#c2a08f,#c39f8e,#c39e8d,#c39e8c,#c49d8b,#c49e8c,#c39f8d,#c2a090,#c1a292,#c1a394,#c0a596,#bfa699,#bea89b,#bda99e,#bbaaa1,#b8aca5,#b6aea9,#b3afad,#b1b1b1,#aeb0b4,#adb0b5,#acb0b6,#abafb7,#aaafb8,#aaafb8,#a8afba,#a5aebd,#a2adbf,#a0acc0,#9eacc1,#9eabc2,#99a9c4,#97a8c6,#95a7c6,#95a7c6,#93a6c7,#91a5c8,#90a4c9,#8ea3c9,#8da2ca,#8ba1ca,#899fcb,#879ecb,#869dcb,#859dcc,#849ccc,#839bcc,#839bcc,#839bcc,#839bcc,#839ccc)"></i>
<i style="top:19px;height:1px;background:linear-gradient(90deg,#94a7c7,#94a7c7,#94a7c7,#94a7c7,#94a7c7,#94a7c7,#95a7c7,#95a7c6,#98a9c5,#9eacc1,#a4aebe,#a9afb9,#adb0b5,#b2b0ae,#b7ada7,#baaba3,#bcaa9f,#bea89c,#bfa698,#bfa598,#c0a597,#c0a496,#c1a394,#c1a292,#c2a191,#c3a08f,#c39e8d,#c49d8b,#c49c89,#c49b87,#c59985,#c59884,#c59883,#c59782,#c59781,#c59782,#c59884,#c59a87,#c49c89,#c49e8c,#c39f8e,#c2a191,#c1a394,#c0a496,#bea69a,#bda99e,#baaba2,#b8aca6,#b5aeab,#b2b0af,#b1b1b0,#b0b1b2,#afb0b3,#afb0b3,#afb0b3,#adb0b5,#aaafb8,#a7aebb,#a5aebd,#a3aebe,#a2adbf,#9dabc2,#9baac4,#99a9c4,#99a9c4,#97a8c5,#95a7c6,#93a6c7,#91a5c8,#90a4c9,#8ea3c9,#8ca1ca,#8aa0cb,#889fcb,#879ecb,#869dcb,#859dcc,#859dcc,#859dcc,#859dcc,#859dcc)"></i>
<i style="top:20px;height:1px;background:linear-gradient(90deg,#9aaac4,#9aaac4,#9aaac4,#9aaac4,#9aaac4,#9aaac4,#9aaac4,#9baac3,#9eacc2,#a4aebd,#abafb7,#b0b1b2,#b4afac,#b9aca4,#bda89d,#bfa699,#c0a496,#c1a293,#c2a090,#c3a08f,#c39f8e,#c39f8d,#c39e8c,#c49d8a,#c49b88,#c59a86,#c59884,#c59782,#c69580,#c6947e,#c6927c,#c6917b,#c6907a,#c69079,#c68f78,#c69079,#c6917b,#c6947e,#c69680,#c59883,#c59985,#c49c89,#c49e8c,#c39f8e,#c1a292,#c0a597,#bea79b,#bcaaa0,#b9aca4,#b6ada9,#b5aeaa,#b4afac,#b3afad,#b3afad,#b3afad,#b1b0b0,#aeb0b4,#abafb7,#a9afb9,#a8afbb,#a6aebc,#a1adbf,#9eacc1,#9dabc2,#9dabc2,#9baac3,#99a9c4,#97a8c6,#95a7c7,#93a6c7,#91a5c8,#8ea3c9,#8ca1ca,#8aa0cb,#899fcb,#889fcb,#879ecb,#869ecb,#879ecb,#879ecb,#879ecb)"></i>
<i style="top:21px;height:1px;background:linear-gradient(90deg,#9facc1,#9facc1,#9facc1,#9facc1,#9facc1,#9facc1,#a0acc1,#a0adc0,#a4aebe,#aaafb8,#b1b1b1,#b6ada9,#baaba2,#bea79b,#c1a393,#c2a190,#c39e8d,#c49c8a,#c59a87,#c59a86,#c59986,#c59985,#c59883,#c59681,#c6957f,#c6937d,#c6917b,#c69079,#c68e77,#c68c75,#c68a72,#c68971,#c68870,#c68870,#c6876f,#c68870,#c68a72,#c68c75,#c68f78,#c6917a,#c6937d,#c69680,#c59883,#c59a86,#c49d8b,#c2a090,#c1a394,#bfa699,#bca99e,#baaba3,#b9aca5,#b8aca6,#b7ada7,#b7ada8,#b7ada7,#b5aeaa,#b2b0af,#afb0b3,#adb0b5,#acb0b7,#aaafb9,#a5aebd,#a2adbf,#a2adbf,#a1adc0,#9facc1,#9dabc2,#9aaac4,#98a9c5,#96a8c6,#93a6c7,#91a5c8,#8ea3c9,#8ca2ca,#8ba1ca,#89a0cb,#889fcb,#889fcb,#889fcb,#889fcb,#899fcb)"></i>
<i style="top:22px;height:1px;background:linear-gradient(90deg,#a4aebd,#a4aebd,#a4aebd,#a4aebd,#a4aebd,#a4aebd,#a5aebd,#a6aebc,#a9afba,#afb0b3,#b7ada8,#bca99f,#bfa699,#c2a191,#c49d8a,#c59a87,#c59884,#c59681,#c6947e,#c6947e,#c6937d,#c6937c,#c6917b,#c69079,#c68e77,#c68c74,#c68a72,#c68870,#c6866d,#c5846b,#c58169,#c48067,#c48067,#c48067,#c47f66,#c48067,#c58269,#c6856c,#c6876f,#c68a72,#c68c75,#c68f78,#c6927c,#c6957f,#c59883,#c49c89,#c39f8e,#c1a393,#bfa699,#bda99d,#bcaa9f,#bbaaa1,#baaba2,#baaba2,#baaba2,#b9aca5,#b5aeaa,#b3b0ae,#b0b1b1,#afb0b3,#adb0b5,#a9afb9,#a6aebc,#a6aebc,#a5aebd,#a3aebe,#a0acc0,#9eabc2,#9baac3,#99a9c4,#96a8c6,#93a6c7,#90a4c8,#8ea3c9,#8da2ca,#8ba1ca,#8aa0cb,#8aa0cb,#8aa0cb,#8aa0cb,#8aa0cb)"></i>
<i style="top:23px;height:1px;background:linear-gradient(90deg,#a9afba,#a9afba,#a9afba,#a9afb9,#a9afb9,#a9afb9,#a9afb9,#aaafb8,#adb0b5,#b3afad,#bcaaa0,#c0a496,#c2a08f,#c49b88,#c59681,#c6947e,#c6927b,#c69079,#c68e77,#c68e76,#c68d75,#c68c74,#c68b73,#c68870,#c6866e,#c5846b,#c58269,#c47f66,#c47d64,#c37b62,#c2785f,#c2775e,#c2775e,#c2775e,#c2775e,#c2785f,#c37a61,#c47d64,#c48067,#c5826a,#c6856c,#c68971,#c68c74,#c68f78,#c6927c,#c59782,#c49b88,#c39f8e,#c1a393,#bfa699,#bea79b,#bda89d,#bda99e,#bda99e,#bda99e,#bbaaa1,#b8aca5,#b6aea9,#b4afac,#b3b0ae,#b0b1b2,#acb0b6,#aaafb8,#aaafb9,#a9afb9,#a7aebb,#a4aebd,#a1adc0,#9eacc1,#9cabc3,#99a9c4,#95a7c6,#93a6c7,#90a4c8,#8ea3c9,#8da2ca,#8ca1ca,#8ba1ca,#8ca1ca,#8ca1ca,#8ca1ca)"></i>
<i style="top:24px;height:1px;background:linear-gradient(90deg,#adb0b5,#adb0b5,#adb0b5,#adb0b5,#adb0b5,#adb0b5,#adb0b5,#aeb0b3,#b1b1b0,#b8aca6,#bfa698,#c39f8d,#c59a86,#c6957f,#c69079,#c68d76,#c68b73,#c68971,#c6876f,#c6876e,#c6866d,#c6856c,#c5836a,#c58168,#c47e65,#c37b63,#c37960,#c2765e,#c1745b,#c17159,#c06e57,#c06d56,#c06d56,#c06e56,#c06e56,#c06f57,#c17159,#c2755c,#c2785f,#c37b62,#c47e65,#c58269,#c6856d,#c68971,#c68d76,#c6927c,#c59782,#c49c89,#c3a08f,#c1a394,#c0a597,#bfa699,#bea79a,#bea79a,#bea79a,#bda89d,#bbaaa1,#b8aca5,#b7ada8,#b6aea9,#b2b0ae,#afb0b3,#adb0b5,#aeb0b5,#adb0b5,#abafb7,#a8afba,#a5aebd,#a2adbf,#9facc1,#9baac3,#98a9c5,#95a7c6,#92a6c8,#90a4c8,#8ea3c9,#8da2ca,#8da2ca,#8da2ca,#8da2ca,#8da2ca)"></i>
<i style="top:25px;height:1px;background:linear-gradient(90deg,#b0b1b1,#b0b1b1,#b0b1b1,#b0b1b1,#b0b1b1,#b1b1b1,#b1b1b0,#b2b0ae,#b5aeaa,#bcaaa0,#c2a191,#c59984,#c6937d,#c68e77,#c68971,#c6866e,#c5846c,#c5836a,#c58168,#c48067,#c47f66,#c47d64,#c37b62,#c27860,#c2755d,#c1725a,#c06f57,#bf6c55,#be6a53,#bd6750,#bc644e,#bc634e,#bc644e,#bc654f,#bd654f,#bd6750,#be6952,#bf6d55,#c17058,#c1735b,#c2775e,#c37b62,#c47f66,#c5836a,#c6876f,#c68e77,#c6937d,#c59884,#c49d8b,#c2a191,#c1a394,#c0a596,#bfa598,#bfa598,#bfa598,#bea79a,#bda99e,#bbaaa2,#b9aba4,#b8aca5,#b5aeaa,#b2b0ae,#b1b1b1,#b1b0b0,#b1b1b1,#afb0b3,#acb0b6,#a8afba,#a5aebd,#a2adbf,#9eacc1,#9aaac4,#97a8c5,#94a7c7,#92a5c8,#90a4c9,#8fa3c9,#8ea3c9,#8fa3c9,#8fa3c9,#8fa3c9)"></i>
<i style="top:26px;height:1px;background:linear-gradient(90deg,#b4afac,#b4afac,#b4afac,#b4afac,#b4afac,#b4afac,#b5aeab,#b6ada9,#b9aba4,#bfa699,#c49d8a,#c6927c,#c68c75,#c6886f,#c5836a,#c47f66,#c47d65,#c37c63,#c37a61,#c37960,#c2775f,#c2755d,#c1735b,#c06f58,#bf6c55,#be6952,#bd664f,#bb634d,#ba604b,#b95d49,#b85a47,#b75a47,#b85b47,#b85c48,#b95d49,#ba5f4a,#bb614c,#bd654f,#be6952,#bf6c55,#c07058,#c2755c,#c37961,#c47e65,#c58269,#c68a72,#c69079,#c69680,#c49b88,#c3a08f,#c1a292,#c1a495,#c0a496,#c0a597,#c0a596,#bfa699,#bea89c,#bca99f,#bbaaa1,#bbaaa1,#b8aca6,#b6aea9,#b5aeab,#b5aeaa,#b5aeab,#b3b0ae,#afb0b2,#acb0b6,#a9afba,#a5aebd,#a1adc0,#9dabc2,#99a9c4,#96a8c6,#93a7c7,#91a5c8,#90a4c8,#90a4c9,#90a4c8,#90a4c8,#90a4c8)"></i>
<i style="top:27px;height:1px;background:linear-gradient(90deg,#b7ada7,#b7ada7,#b7ada7,#b7ada7,#b7ada7,#b7ada7,#b8aca6,#baaba3,#bda99e,#c1a292,#c59783,#c68c75,#c6866d,#c58168,#c37c63,#c37860,#c2765e,#c2755c,#c1735b,#c1725a,#c07058,#bf6d56,#be6a53,#bd6650,#bb624d,#ba5f4a,#b85c48,#b75946,#b65644,#b45342,#b35140,#b35140,#b45241,#b55442,#b55543,#b65745,#b75a47,#b95e4a,#bb624c,#bd664f,#be6952,#c06f57,#c2745c,#c37960,#c47e65,#c6866d,#c68d75,#c6937d,#c59986,#c39f8d,#c2a191,#c1a394,#c0a496,#c0a597,#c0a596,#bfa698,#bea79b,#bda89d,#bda99e,#bda99e,#baaba2,#b9aca5,#b8aca5,#b9aba4,#b9aca5,#b7ada8,#b3afad,#afb0b2,#acb0b6,#a8afba,#a4aebe,#9facc1,#9baac3,#98a9c5,#95a7c6,#93a6c7,#91a5c8,#91a5c8,#92a5c8,#92a5c8,#92a6c8)"></i>
<i style="top:28px;height:1px;background:linear-gradient(90deg,#baaba3,#baaba3,#baaba3,#baaba3,#baaba3,#baaba2,#bbaaa1,#bda99e,#bfa598,#c39e8c,#c6927c,#c6866d,#c47f66,#c37b62,#c2765d,#c17159,#c06f57,#c06e56,#bf6c55,#bf6b54,#be6851,#bc654f,#bb614c,#b95d49,#b75946,#b55543,#b45241,#b34f3f,#b24d3e,#b04a3c,#af493b,#af493b,#b04b3c,#b14c3d,#b24e3f,#b35040,#b45342,#b65845,#b85c48,#ba5f4b,#bc634e,#be6952,#c06f57,#c2755c,#c37a61,#c5836a,#c68a73,#c6927b,#c59984,#c39e8c,#c2a291,#c0a495,#bfa597,#bfa598,#bfa598,#bfa699,#bea79a,#bea79b,#bea89c,#bea79b,#bca99f,#bcaaa0,#bca99f,#bda99d,#bca99e,#baaaa2,#b7ada7,#b3afae,#afb0b3,#abafb7,#a7aebb,#a2adbf,#9eabc2,#9aaac4,#97a8c5,#95a7c7,#93a6c7,#93a6c7,#93a6c7,#93a7c7,#94a7c7)"></i>
<i style="top:29px;height:1px;background:linear-gradient(90deg,#bca99e,#bca99e,#bca99e,#bca99e,#bda99e,#bda99e,#bda89c,#bfa698,#c2a191,#c59986,#c68d76,#c48068,#c37960,#c2755c,#c06f58,#be6a53,#bd6750,#bd6650,#bd654f,#bc644e,#ba604b,#b95d49,#b75946,#b55443,#b35040,#b14c3d,#b0493b,#ae4739,#ad4538,#ac4337,#ab4136,#ab4236,#ad4438,#ae4639,#af483b,#b04b3c,#b24e3e,#b45241,#b65644,#b75a47,#b95e4a,#bc654f,#bf6b54,#c17159,#c2775e,#c58068,#c68971,#c6917a,#c59884,#c39f8d,#c1a293,#bfa597,#bea79a,#bea79b,#bea79a,#bea79b,#bea79b,#bea79b,#bea79a,#bfa699,#bea79b,#bea79b,#bfa699,#c0a597,#bfa598,#bea79b,#bbaaa1,#b7ada8,#b3b0ae,#aeb0b3,#aaafb9,#a5aebd,#a0acc0,#9cabc3,#99a9c4,#96a8c6,#95a7c6,#94a7c7,#95a7c6,#95a7c6,#95a7c6)"></i>
<i style="top:30px;height:1px;background:linear-gradient(90deg,#bea79a,#bea79a,#bea79a,#bea79a,#bea79a,#bfa699,#bfa598,#c1a393,#c49e8c,#c6957f,#c6876f,#c37b62,#c1735b,#c06f57,#be6952,#bb624c,#b95e4a,#ba5f4a,#ba5f4a,#b95d49,#b75946,#b55543,#b35140,#b14c3d,#af483b,#ad4438,#ab4136,#aa3f34,#a93e33,#a83c33,#a83b32,#a83c33,#aa3f34,#ab4136,#ad4437,#ae4639,#b0493b,#b24d3e,#b45241,#b55644,#b75a47,#bb614c,#be6851,#c06e57,#c2755c,#c47f66,#c68870,#c6917a,#c59985,#c3a08e,#c0a495,#bea79a,#bda99e,#bca99f,#bda99e,#bda99e,#bda89d,#bea79b,#bfa699,#bfa597,#bfa598,#c0a495,#c1a292,#c2a090,#c2a191,#c1a394,#bea79b,#baaba2,#b6aea9,#b2b0b0,#acb0b6,#a7aebb,#a3adbf,#9eacc1,#9baac3,#98a9c5,#96a8c6,#96a8c6,#97a8c6,#97a8c5,#97a8c5)"></i>
<i style="top:31px;height:1px;background:linear-gradient(90deg,#c0a496,#c0a496,#c0a496,#c0a496,#c0a496,#c0a495,#c1a393,#c3a08f,#c59a86,#c69079,#c58269,#c2765e,#c06e56,#be6952,#bb624c,#b75946,#b55644,#b65745,#b75846,#b65745,#b45342,#b24f3f,#b04a3c,#ae4639,#ac4236,#a93e34,#a83b32,#a63931,#a63830,#a53730,#a53730,#a63830,#a83b32,#a93e33,#ab4035,#ac4337,#ae4639,#b04a3c,#b24e3e,#b45241,#b65644,#b95e49,#bd654f,#bf6c55,#c1735b,#c47e65,#c6886f,#c6917b,#c59a86,#c2a191,#bfa699,#bca99f,#baaba3,#b9aba4,#baaba3,#baaba2,#bca99f,#bea89c,#bfa698,#c0a496,#c1a394,#c2a190,#c49d8b,#c49c89,#c49d8a,#c39f8d,#c1a394,#bda89c,#b9aba3,#b5aeab,#afb0b3,#aaafb8,#a5aebd,#a1adc0,#9dabc2,#9aaac4,#98a9c5,#98a9c5,#98a9c5,#99a9c4,#99a9c4)"></i>
<i style="top:32px;height:1px;background:linear-gradient(90deg,#c1a292,#c1a292,#c1a292,#c1a292,#c1a292,#c2a292,#c2a08f,#c49d8a,#c69680,#c68b73,#c47d64,#c17259,#be6952,#bb634d,#b75a47,#b35040,#b14d3d,#b35040,#b45342,#b45342,#b24f3f,#b04a3c,#ae4639,#ab4136,#a93d33,#a73931,#a5362f,#a4352f,#a4342e,#a4342e,#a4352f,#a5362f,#a63931,#a83b32,#a93e34,#ab4135,#ad4437,#af483a,#b14b3d,#b34f3f,#b55442,#b85b48,#bc634d,#bf6b53,#c1725a,#c47d64,#c6886f,#c6927c,#c49c89,#c1a394,#bda99e,#b9aca5,#b6aea9,#b5aeaa,#b6ada9,#b8aca6,#baaba2,#bda89d,#bfa598,#c1a394,#c2a190,#c49d8b,#c59984,#c59782,#c59783,#c59a86,#c39f8e,#c0a496,#bda99e,#b8aca6,#b2b0af,#acb0b6,#a7afbb,#a3aebe,#9facc1,#9cabc3,#9aaac4,#9aaac4,#9aaac4,#9baac3,#9baac3)"></i>
<i style="top:33px;height:1px;background:linear-gradient(90deg,#c39f8e,#c39f8e,#c39f8e,#c39f8e,#c39f8e,#c39f8e,#c49e8c,#c59a86,#c6927b,#c6866d,#c37860,#bf6d56,#bc644e,#b85c48,#b35140,#ae4739,#ad4438,#b04a3c,#b35040,#b45141,#b24d3e,#af483b,#ad4437,#aa3f34,#a83b32,#a53730,#a4352f,#a4342e,#a4342e,#a4352f,#a5362f,#a53730,#a63931,#a83b32,#a93d33,#aa4035,#ac4337,#ae4639,#b04a3c,#b24e3e,#b45241,#b75a47,#bb624c,#be6a53,#c1725a,#c47d64,#c68870,#c6937d,#c49e8c,#bfa698,#baaba3,#b5aeab,#b1b0b0,#b1b1b1,#b2b0af,#b4afac,#b8aca6,#bca99f,#bfa598,#c1a293,#c39f8d,#c59985,#c6947e,#c6927b,#c6927c,#c6957f,#c59a87,#c2a190,#bfa698,#bbaaa1,#b5aeab,#afb0b3,#aaafb8,#a5aebc,#a1adc0,#9eabc2,#9cabc3,#9cabc3,#9cabc3,#9dabc2,#9dabc2)"></i>
<i style="top:34px;height:1px;background:linear-gradient(90deg,#c49d8b,#c49d8b,#c49d8b,#c49d8b,#c49d8b,#c49d8b,#c49c89,#c59781,#c68e77,#c58168,#c2745c,#be6952,#ba5f4a,#b55443,#ae473a,#a93d33,#a83c33,#ae4639,#b35040,#b45241,#b24f3f,#b04a3b,#ad4538,#ab4035,#a83c33,#a73931,#a63830,#a63730,#a63831,#a73a32,#a83c33,#a83b32,#a83c32,#a93d33,#aa3f34,#ab4135,#ac4337,#ae4639,#b0493b,#b24d3e,#b35140,#b75946,#bb614c,#be6952,#c17159,#c47d64,#c68971,#c6957f,#c2a08f,#bda89d,#b6aea9,#b0b1b1,#acb0b6,#acafb7,#adb0b5,#b0b1b1,#b5aeaa,#bbaaa1,#bfa598,#c2a191,#c49c89,#c69580,#c68f78,#c68c75,#c68d76,#c68f78,#c69680,#c49c8a,#c1a292,#bea89c,#b8aca6,#b2b0af,#adb0b6,#a8afba,#a4aebe,#a0acc0,#9eacc1,#9eabc2,#9eacc1,#9facc1,#9facc1)"></i>
<i style="top:35px;height:1px;background:linear-gradient(90deg,#c49b87,#c49b87,#c49b87,#c49b87,#c49b87,#c59b87,#c59a86,#c6957f,#c68a73,#c47d64,#c17058,#bc654f,#b75946,#b14c3d,#a83c33,#a3332e,#a5362f,#ad4538,#b45342,#b65745,#b55442,#b24f3f,#b04a3c,#ae4639,#ac4337,#ab4236,#ab4136,#ac4236,#ad4437,#ae4639,#af483a,#ad4438,#ac4236,#ab4236,#ac4236,#ac4337,#ad4538,#ae473a,#b04a3c,#b24d3e,#b35040,#b75946,#bb614c,#be6952,#c1725a,#c47d65,#c68a73,#c59782,#c1a293,#baaba2,#b2b0af,#abafb7,#a7aebb,#a6aebc,#a8afba,#adb0b6,#b3b0ae,#b9aba3,#bfa698,#c2a090,#c59986,#c6917b,#c68971,#c6876f,#c6886f,#c68a72,#c6917a,#c59883,#c39e8c,#c0a596,#bbaaa1,#b5aeab,#afb0b3,#aaafb8,#a6aebc,#a2adbf,#a0acc0,#a0acc0,#a1adc0,#a1adc0,#a2adbf)"></i>
<i style="top:36px;height:1px;background:linear-gradient(90deg,#c59884,#c59884,#c59884,#c59884,#c59884,#c59884,#c59883,#c6947e,#c68870,#c37a61,#bf6d55,#bb614c,#b45241,#ac4236,#a2312d,#9e2a2a,#a3332d,#af473a,#b75a46,#ba604b,#b95d49,#b75946,#b55543,#b45241,#b35141,#b45342,#b55443,#b65644,#b75946,#b85c48,#b95d49,#b55443,#b24e3e,#b04a3c,#af493b,#af483a,#af483a,#b04a3b,#b14c3d,#b24e3f,#b45141,#b75946,#bb614c,#be6953,#c1725a,#c47e65,#c68c75,#c59985,#c0a597,#b7ada7,#aeb0b4,#a6aebc,#a2adbf,#a1adc0,#a3aebe,#a9afba,#b0b1b2,#b8aca5,#bfa698,#c39f8e,#c59782,#c68d76,#c6846c,#c58269,#c5826a,#c6856c,#c68c74,#c6937d,#c59a86,#c2a191,#bda89c,#b8aca6,#b2b0af,#adb0b5,#a8afba,#a4aebd,#a3adbf,#a3adbf,#a3aebe,#a4aebe,#a4aebe)"></i>
<i style="top:37px;height:1px;background:linear-gradient(90deg,#c59681,#c59681,#c59681,#c59681,#c59681,#c69681,#c69680,#c6927c,#c68870,#c2775e,#be6a53,#b95d49,#b04a3b,#a63830,#9c2528,#9b2327,#a3342e,#b24e3f,#bd654f,#c06e56,#bf6c55,#be6a53,#be6851,#be6952,#bf6c54,#c17159,#c2745c,#c2765e,#c37a61,#c47d64,#c47d64,#c06e56,#bb624c,#b75a46,#b55443,#b35040,#b24d3e,#b24d3e,#b24f3f,#b35140,#b45342,#b85b47,#bb634d,#bf6b54,#c1735b,#c48067,#c68e77,#c49c89,#bea79b,#b4afac,#aaafb9,#a1adbf,#9cabc3,#9baac3,#9eacc1,#a5aebd,#adb0b5,#b7ada7,#bfa699,#c39e8c,#c6947e,#c68971,#c48067,#c47d64,#c47e65,#c48067,#c6876e,#c68f78,#c69680,#c49e8c,#c0a597,#baaba2,#b5aeab,#afb0b3,#abafb8,#a7aebb,#a5aebd,#a5aebd,#a5aebc,#a6aebc,#a6aebc)"></i>
<i style="top:38px;height:1px;background:linear-gradient(90deg,#c6947e,#c6947e,#c6947e,#c6947e,#c6947e,#c6947e,#c6937d,#c6917b,#c68970,#c2765e,#bd6750,#b75946,#ab4135,#a02c2b,#981a24,#9a2226,#a73a31,#b85b47,#c2755d,#c48067,#c58269,#c5836a,#c6856d,#c68b73,#c6927c,#c59a86,#c49d8b,#c39f8e,#c2a191,#c1a394,#c1a292,#c69079,#c47e65,#c17058,#bd664f,#b85c48,#b55543,#b45342,#b45342,#b55443,#b65644,#b95d49,#bc654f,#bf6c55,#c2755d,#c58169,#c69079,#c39e8c,#bca99f,#b0b1b1,#a6aebc,#9dabc2,#97a8c5,#96a8c6,#9aaac4,#a1adbf,#abafb7,#b6aea9,#bfa698,#c49d8a,#c6917b,#c6856c,#c37c63,#c37960,#c37961,#c37b62,#c58269,#c68a72,#c6917b,#c59a86,#c1a292,#bda89d,#b7ada7,#b2b0af,#adb0b5,#a9afb9,#a8afbb,#a7afbb,#a8afba,#a9afba,#a9afb9)"></i>
<i style="top:39px;height:1px;background:linear-gradient(90deg,#c6927b,#c6927b,#c6927b,#c6927b,#c6927b,#c6927b,#c6917b,#c69079,#c68971,#c37961,#bc644e,#b55442,#a53730,#9a2026,#951322,#9e2929,#af473a,#c06e56,#c68b73,#c59883,#c39e8c,#c1a394,#bda89d,#b6aea9,#acb0b6,#a2adbf,#9eabc2,#9cabc2,#9aaac4,#99a9c4,#9baac3,#b3afad,#c2a090,#c68e77,#c47f66,#c06d56,#ba5f4a,#b75a47,#b75946,#b75946,#b85a47,#bb614c,#be6851,#c06f57,#c2785f,#c5846b,#c6937c,#c2a090,#baaba3,#aeb0b4,#a2adbf,#99a9c4,#94a7c7,#93a6c7,#96a8c6,#9eacc1,#aaafb9,#b5aeaa,#bfa598,#c49b87,#c68e77,#c58169,#c2785f,#c2755d,#c2755d,#c2775f,#c47e65,#c6866d,#c68d76,#c69681,#c39e8d,#bfa698,#baaba2,#b5aeab,#b0b0b2,#acb0b6,#aaafb8,#aaafb8,#abafb8,#abafb7,#acafb7)"></i>
<i style="top:40px;height:1px;background:linear-gradient(90deg,#c69079,#c69079,#c69079,#c69079,#c69079,#c69079,#c68f79,#c68e77,#c68971,#c37c63,#bd6650,#b24e3e,#a02e2b,#951322,#971823,#a73a31,#ba5f4a,#c68870,#c0a495,#b4afad,#a7aebb,#9baac4,#90a4c9,#839ccc,#7792cc,#6c88ca,#6985c9,#6985c9,#6884c9,#6884c9,#6b87ca,#869dcb,#a1adc0,#b8aca6,#c49e8c,#c5846b,#bf6d56,#bc634e,#ba604b,#ba5f4a,#ba5f4b,#bd654f,#bf6c54,#c1735b,#c37b62,#c6866e,#c6957f,#c1a393,#b8ada7,#abafb7,#9facc1,#96a8c6,#91a5c8,#90a4c9,#94a7c7,#9cabc2,#a9afba,#b5aeaa,#c0a597,#c59985,#c68b74,#c47e65,#c2745c,#c1725a,#c1725a,#c1745b,#c37a62,#c58169,#c68971,#c6927c,#c49b87,#c1a393,#bda99d,#b8ada7,#b2b0af,#aeb0b4,#adb0b6,#acb0b6,#adb0b5,#aeb0b4,#aeb0b4)"></i>
<i style="top:41px;height:1px;background:linear-gradient(90deg,#c68e77,#c68e77,#c68e77,#c68e77,#c68e77,#c68e77,#c68e76,#c68d76,#c68a72,#c47f66,#be6952,#af483b,#9c2528,#940f21,#9f2c2a,#b65845,#c58168,#bfa699,#a3aebe,#89a0cb,#748fcb,#6783c8,#5d79c4,#5570c0,#4f69bc,#4a63b8,#4962b7,#4a63b7,#4b63b8,#4b64b9,#4e68bb,#5d79c5,#738fcb,#8fa3c9,#a8afba,#c39f8e,#c47f66,#c06f57,#be6852,#bd6650,#bd664f,#bf6b54,#c17159,#c2775e,#c47e65,#c68971,#c59883,#c0a596,#b6aeaa,#a9afb9,#9dabc2,#94a7c7,#8fa4c9,#8ea3c9,#92a6c8,#9baac3,#a8afba,#b6aea9,#c0a495,#c59781,#c68870,#c37b62,#c1725a,#c07058,#c07058,#c17159,#c2775f,#c47e65,#c6856c,#c68e77,#c59782,#c39f8e,#bfa699,#baaba2,#b5aeab,#b1b1b0,#afb0b3,#afb0b3,#b0b1b2,#b0b1b1,#b1b1b1)"></i>
<i style="top:42px;height:1px;background:linear-gradient(90deg,#c68c74,#c68c74,#c68c74,#c68c74,#c68c74,#c68c74,#c68c74,#c68c74,#c68a72,#c58269,#bf6b54,#ae4639,#981c25,#a12e2b,#bc644e,#c68971,#bea79b,#99a9c4,#738ecb,#5b76c3,#4c65b9,#465eb4,#4259b0,#3f55ae,#3d53ac,#3c51aa,#3c51aa,#3e53ac,#3f55ad,#4157af,#435ab1,#4a63b8,#5570c0,#6682c8,#7d97cc,#abafb7,#c69680,#c47e65,#c1725a,#c06e56,#bf6c55,#c17159,#c2765e,#c37c63,#c58269,#c68c75,#c59a87,#bfa699,#b4afac,#a8afba,#9dabc2,#94a7c7,#8fa3c9,#8ea3c9,#92a6c8,#9cabc3,#a9afb9,#b7ada8,#c1a292,#c6947e,#c6856d,#c37960,#c07058,#c06e56,#c06e56,#c06f57,#c2745c,#c37b62,#c58168,#c68a72,#c6937d,#c49c89,#c1a394,#bda99d,#b8ada7,#b4afac,#b2b0af,#b2b0af,#b3b0ae,#b3afad,#b4afac)"></i>
<i style="top:43px;height:1px;background:linear-gradient(90deg,#c68a72,#c68a72,#c68a72,#c68a72,#c68a72,#c68a72,#c68a72,#c68b73,#c68b74,#c6856d,#bf6d55,#ab4236,#991d25,#c47f66,#aeb0b4,#a4aebd,#8fa3c9,#6581c8,#4c65b9,#4056ae,#3b4ea8,#394ca6,#384ba6,#384ba5,#384aa5,#384ba5,#394da7,#3b50a9,#3d53ac,#4056ae,#4259b0,#445cb3,#4a62b7,#516cbd,#5e79c5,#849dcc,#b9aca4,#c68f79,#c47e65,#c2775e,#c1745b,#c2775f,#c37c63,#c58168,#c6876e,#c69079,#c49d8a,#bea89c,#b3afad,#a8afba,#9dabc2,#94a7c7,#8fa4c9,#8fa3c9,#93a6c7,#9dabc2,#abafb8,#b9aca5,#c2a08f,#c6917b,#c5836a,#c2765e,#c06e56,#bf6c55,#bf6c55,#c06e56,#c1735a,#c2785f,#c47e65,#c6866e,#c68f78,#c59884,#c3a08f,#bfa699,#baaba2,#b7ada8,#b5aeab,#b5aeab,#b5aeaa,#b6ada9,#b7ada8)"></i>
<i style="top:44px;height:1px;background:linear-gradient(90deg,#c68870,#c68870,#c68870,#c68870,#c68870,#c68870,#c68971,#c68a72,#c68d75,#c68b73,#c06e56,#a83c33,#ab4136,#91a5c8,#6884c9,#6480c7,#5975c2,#435bb2,#3a4ea8,#3749a4,#3648a3,#3648a3,#3749a4,#384ba5,#394da7,#3b4fa8,#3d52ab,#3f55ae,#4259b1,#455db3,#475fb5,#465eb4,#4760b5,#4b64b8,#506abd,#6581c8,#99a9c4,#c0a495,#c68c75,#c58068,#c37b63,#c47e65,#c58269,#c6866e,#c68b73,#c6937d,#c39f8d,#bda99e,#b3b0ae,#a8afba,#9eabc2,#96a8c6,#91a5c8,#91a5c8,#95a7c6,#9facc1,#adb0b5,#bbaaa1,#c49d8b,#c68e77,#c48067,#c2745c,#bf6d55,#bf6b54,#bf6c54,#c06d56,#c17159,#c2765e,#c37b63,#c5836a,#c68b74,#c6947e,#c49c8a,#c1a394,#bda99e,#baaba3,#b8aca6,#b8aca6,#b8aca5,#b9aba4,#b9aba3)"></i>
<i style="top:45px;height:1px;background:linear-gradient(90deg,#c6876e,#c6876e,#c6876e,#c6876e,#c6876e,#c6876f,#c6876f,#c68971,#c68e77,#c6917a,#c17059,#a5362f,#c69079,#6b87ca,#6682c8,#5671c0,#465eb4,#384aa5,#3648a3,#3648a3,#384ba5,#3a4ea8,#3c50aa,#3e54ac,#4057af,#435ab1,#455db4,#4962b7,#4c66b9,#4f69bc,#506abd,#4d67ba,#4b65b9,#4b64b9,#4d66ba,#5570c0,#7691cc,#abafb8,#c49d8b,#c68c74,#c5836b,#c6856c,#c6886f,#c68b74,#c68f79,#c59681,#c2a190,#bca99f,#b2b0ae,#a9afb9,#9facc1,#98a9c5,#94a7c7,#94a7c7,#99a9c4,#a3aebe,#b0b1b1,#bea89c,#c59a86,#c68b73,#c47d64,#c1735a,#bf6c55,#bf6b53,#bf6b54,#bf6d55,#c17058,#c2745c,#c37960,#c48067,#c6886f,#c6907a,#c59984,#c2a08f,#bfa699,#bda99e,#bbaaa1,#bbaaa2,#bbaaa0,#bca99f,#bca99e)"></i>
<i style="top:46px;height:1px;background:linear-gradient(90deg,#c6856d,#c6856d,#c6856d,#c6856d,#c6856d,#c6866d,#c6866e,#c68971,#c6917a,#c59883,#c37a61,#a3332d,#92a6c8,#6a86c9,#6480c7,#536ebe,#4d66ba,#3749a4,#384aa5,#3a4ea8,#3e54ac,#4258b0,#445cb3,#4860b6,#4c65b9,#4f69bc,#526cbe,#5570c0,#5874c2,#5b77c3,#5c77c4,#5772c1,#546ebf,#516bbd,#506abc,#506abd,#5f7bc5,#899fcb,#b6ada8,#c59985,#c68c74,#c68b73,#c68d76,#c6907a,#c6947e,#c59985,#c1a293,#bbaaa0,#b3b0ae,#aaafb8,#a2adbf,#9cabc3,#98a9c5,#99a9c4,#9eabc2,#a8afba,#b5aeab,#c0a496,#c59681,#c6886f,#c37b62,#c17159,#bf6c54,#bf6a53,#bf6b54,#bf6d55,#c07058,#c1735b,#c2775f,#c47d64,#c5846c,#c68d75,#c6957f,#c49d8a,#c1a394,#bfa699,#bda89d,#bda89d,#bea79b,#bea79a,#bfa699)"></i>
<i style="top:47px;height:1px;background:linear-gradient(90deg,#c5846b,#c5846b,#c5846b,#c5846b,#c5846b,#c5846c,#c6856d,#c68a72,#c6947e,#c39e8d,#c6866e,#aa4035,#6d89ca,#6985c9,#627ec7,#536dbe,#526cbe,#3c51ab,#3c51aa,#3f56ae,#455db4,#4a63b8,#4e68bb,#536dbe,#5772c1,#5b76c3,#5e7ac5,#627ec7,#6480c7,#6783c8,#6783c8,#627ec7,#5e7ac5,#5a75c3,#5772c1,#516cbd,#5570c0,#6c88ca,#9baac3,#bea79b,#c6957f,#c6917a,#c6927c,#c6957f,#c59883,#c49c89,#c0a495,#bbaaa1,#b4afad,#acb0b6,#a5aebd,#a0acc0,#9dabc2,#9eacc1,#a4aebe,#adb0b5,#b9aba4,#c2a08f,#c6927b,#c5846b,#c37860,#c17058,#bf6b54,#bf6b53,#bf6b54,#c06d56,#c07058,#c1735b,#c2765d,#c37b62,#c58168,#c68971,#c6917b,#c59985,#c2a08f,#c1a394,#bfa597,#bfa597,#c0a596,#c0a495,#c1a394)"></i>
<i style="top:48px;height:1px;background:linear-gradient(90deg,#c5836a,#c5836a,#c5836a,#c5836a,#c5836a,#c5836a,#c6856c,#c68a72,#c59783,#c0a597,#c6927c,#c06f58,#6b87ca,#6884c9,#5f7bc6,#536ebf,#536dbe,#465eb4,#4158b0,#445cb3,#4b65b9,#516bbd,#5570c0,#5b76c3,#607cc6,#6581c8,#6985c9,#6c88ca,#6e8aca,#6f8bcb,#6f8bcb,#6c88ca,#6884c9,#6480c7,#607cc6,#5672c1,#536ebf,#5c78c4,#7c96cc,#abafb7,#c39e8d,#c59782,#c59782,#c59985,#c49b88,#c39e8c,#c0a597,#bbaaa1,#b5aeab,#aeb0b4,#a9afba,#a5aebd,#a3aebe,#a5aebd,#abafb8,#b3afad,#bea79b,#c49b88,#c68d76,#c58168,#c2765e,#c06f57,#bf6c54,#bf6b54,#bf6c55,#c06e56,#c07058,#c1725a,#c2755c,#c37960,#c47e66,#c6866d,#c68d76,#c69580,#c49d8a,#c3a08e,#c1a292,#c1a292,#c2a191,#c2a090,#c2a08f)"></i>
<i style="top:49px;height:1px;background:linear-gradient(90deg,#c58269,#c58269,#c58269,#c58269,#c58269,#c58269,#c5846b,#c68b74,#c49b88,#baaba2,#c49d8a,#c1a394,#6b87ca,#6783c8,#5d79c4,#556fbf,#546fbf,#4e68bb,#455db3,#4860b6,#4f68bb,#546fbf,#5a75c3,#607cc6,#6783c8,#6c88ca,#708ccb,#738ecb,#7490cc,#7591cc,#7591cc,#738fcb,#708ccb,#6d89ca,#6985c9,#5e7ac5,#5671c0,#5671c1,#6682c8,#8fa4c9,#bda89d,#c49d8a,#c49b88,#c49d8a,#c39e8c,#c2a08f,#bfa698,#bbaaa1,#b6ada9,#b1b1b1,#adb0b6,#aaafb9,#a9afb9,#acb0b7,#b1b1b0,#baaba3,#c1a292,#c69580,#c68870,#c47d64,#c2745c,#c06f57,#bf6c55,#bf6c55,#bf6d55,#c06f57,#c17058,#c1725a,#c2745c,#c2775f,#c37c63,#c5826a,#c68a72,#c6927b,#c59985,#c49c89,#c39f8d,#c39f8d,#c39e8c,#c49d8b,#c49d8a)"></i>
<i style="top:50px;height:1px;background:linear-gradient(90deg,#c58168,#c58168,#c58168,#c58168,#c58168,#c58169,#c5846b,#c68d75,#c39f8e,#b3b0ae,#bfa699,#9aaac4,#6985c9,#6682c8,#5b76c3,#5671c0,#5570c0,#526dbe,#465eb5,#4861b6,#5069bc,#5570c0,#5b77c3,#637fc7,#6a86c9,#708ccb,#7490cc,#7792cc,#7893cc,#7993cc,#7993cc,#7792cc,#7691cc,#738fcb,#708ccb,#6682c8,#5c78c4,#5772c1,#5b77c3,#7591cc,#b0b1b2,#c1a293,#c39f8e,#c39f8e,#c2a190,#c2a292,#bfa699,#bcaaa0,#b8aca6,#b4afac,#b1b1b1,#afb0b3,#afb0b2,#b2b0ae,#b8aca6,#bfa699,#c49c89,#c68f79,#c5846b,#c37a61,#c1735b,#c06e57,#bf6c55,#bf6d56,#c06e57,#c17058,#c17159,#c1725a,#c1745b,#c2765e,#c37a61,#c48067,#c6866e,#c68e77,#c69580,#c59884,#c49b88,#c49b88,#c59a87,#c59985,#c59985)"></i>
<i style="top:51px;height:1px;background:linear-gradient(90deg,#c48067,#c48067,#c48067,#c48067,#c48067,#c58168,#c5836b,#c68e77,#c1a495,#abafb7,#b8aca6,#7b95cc,#6783c9,#6480c7,#5975c2,#5772c1,#5671c0,#546ebf,#465eb4,#4860b6,#4f69bc,#556fc0,#5b77c3,#637fc7,#6b87ca,#728ecb,#7691cc,#7993cc,#7a94cc,#7b95cc,#7b95cc,#7a94cc,#7993cc,#7892cc,#7591cc,#6e8aca,#6480c7,#5b77c3,#5974c2,#6581c8,#9cabc3,#bda99d,#c1a393,#c1a292,#c1a393,#c1a394,#bfa699,#bca99e,#baaba3,#b7ada7,#b5aeaa,#b4afab,#b6aea9,#b9aba4,#bea79a,#c39f8e,#c6957f,#c68971,#c47f66,#c2775f,#c1725a,#c06e57,#c06d56,#c06f57,#c07058,#c17159,#c1725a,#c1735b,#c1745b,#c2755d,#c37960,#c47d64,#c5836b,#c68b73,#c6917b,#c6947e,#c59782,#c59782,#c59681,#c69680,#c69580)"></i>
<i style="top:52px;height:1px;background:linear-gradient(90deg,#c48067,#c48067,#c48067,#c48067,#c48067,#c48067,#c5836b,#c68f79,#bea79b,#a3adbf,#b4afad,#6a86c9,#6581c8,#637fc7,#5974c2,#5772c1,#5671c1,#546fbf,#455db3,#475fb5,#4e68bb,#546ebf,#5a76c3,#637fc7,#6c88ca,#738ecb,#7792cc,#7a94cc,#7b95cc,#7b95cc,#7b95cc,#7b95cc,#7b95cc,#7a94cc,#7993cc,#748fcb,#6b87ca,#617dc6,#5b77c3,#5f7bc6,#869ecb,#b5aeab,#bfa698,#c0a496,#c0a496,#c0a495,#bfa699,#bda89d,#bcaa9f,#baaaa2,#baaba3,#baaba2,#bca99f,#bfa698,#c2a08f,#c59883,#c68e77,#c5836b,#c37b62,#c2755c,#c17159,#c06f57,#c06f57,#c17159,#c1725a,#c1735b,#c1735b,#c1735b,#c1745b,#c2755d,#c2775f,#c37b63,#c58168,#c6876f,#c68d76,#c6907a,#c6937d,#c6937d,#c6937d,#c6927c,#c6927b)"></i>
<i style="top:53px;height:1px;background:linear-gradient(90deg,#c47f66,#c47f66,#c47f66,#c47f66,#c47f66,#c48067,#c5836b,#c6917a,#bbaaa1,#9aaac4,#acb0b6,#6480c7,#637fc7,#627ec6,#5974c2,#5873c1,#5671c1,#546fbf,#445bb2,#465eb4,#4d66ba,#526dbe,#5974c2,#627ec7,#6b87ca,#738ecb,#7792cc,#7a94cc,#7b95cc,#7c96cc,#7c96cc,#7c96cc,#7b96cc,#7b95cc,#7a95cc,#7792cc,#718dcb,#6985c9,#607cc6,#5f7bc6,#7591cc,#a8afba,#bda99e,#bfa698,#bfa598,#c0a496,#bfa699,#bea79a,#bea79b,#bea89c,#bea79b,#bfa699,#c1a495,#c39f8d,#c59883,#c69079,#c6876e,#c47e65,#c2775e,#c1735a,#c17058,#c06f57,#c17159,#c1735b,#c2755c,#c2755d,#c2755c,#c2745c,#c2745c,#c2755d,#c2775e,#c37a61,#c47e65,#c5846b,#c68a72,#c68d75,#c69079,#c69079,#c68f78,#c68f78,#c68e77)"></i>
<i style="top:54px;height:1px;background:linear-gradient(90deg,#c47f66,#c47f66,#c47f66,#c47f66,#c47f66,#c47f67,#c5836b,#c6927c,#b8aca6,#92a6c8,#9facc1,#627ec7,#627ec7,#617dc6,#5874c2,#5873c1,#5671c1,#546fbf,#435ab1,#455cb3,#4c65b9,#516cbd,#5873c2,#617dc6,#6b87ca,#738ecb,#7892cc,#7a94cc,#7b95cc,#7c96cc,#7c96cc,#7c96cc,#7c96cc,#7c96cc,#7b95cc,#7a94cc,#7691cc,#6f8bcb,#6783c8,#627ec7,#6d89ca,#96a8c6,#b8aca5,#bea79a,#bfa699,#c0a597,#bfa598,#bfa598,#c0a597,#c0a495,#c1a393,#c2a090,#c49d8a,#c59782,#c69079,#c68870,#c48067,#c37960,#c1745c,#c17159,#c17058,#c17058,#c1735b,#c2765e,#c37860,#c2775f,#c2775e,#c2765d,#c2755c,#c2755d,#c2765e,#c37960,#c37c64,#c58269,#c6866e,#c68971,#c68c75,#c68c75,#c68c74,#c68b74,#c68b73)"></i>
<i style="top:55px;height:1px;background:linear-gradient(90deg,#c47f66,#c47f66,#c47f66,#c47f66,#c47f66,#c47f66,#c5846b,#c6937d,#b6aeaa,#8ca1ca,#8fa3c9,#607cc6,#617dc6,#617dc6,#5874c2,#5873c1,#5671c1,#546fbf,#4259b0,#445cb2,#4b64b9,#516bbd,#5773c1,#617dc6,#6b87c9,#728ecb,#7792cc,#7a94cc,#7b95cc,#7c96cc,#7c96cc,#7c96cc,#7c96cc,#7c96cc,#7c96cc,#7b95cc,#7993cc,#7490cc,#6d89ca,#6783c8,#6b87ca,#859dcc,#b1b1b1,#bea89c,#bea79a,#c0a597,#c0a496,#c1a495,#c2a292,#c3a08f,#c49d8b,#c59a86,#c6957f,#c68e77,#c6876f,#c48067,#c37a62,#c2755c,#c17159,#c17058,#c17159,#c1725a,#c2755d,#c37a61,#c37c63,#c37a62,#c37960,#c2775f,#c2765d,#c2755d,#c2765e,#c2785f,#c37b62,#c47f66,#c5836b,#c6866d,#c68971,#c68971,#c68970,#c68870,#c68870)"></i>
<i style="top:56px;height:1px;background:linear-gradient(90deg,#c47e66,#c47e66,#c47e66,#c47e66,#c47f66,#c47f66,#c5846b,#c6947e,#b4afac,#879ecb,#8099cc,#5e79c5,#607cc6,#617dc6,#5874c2,#5873c1,#5671c1,#546fbf,#4258b0,#445bb2,#4b64b8,#506abc,#5772c1,#607cc6,#6a86c9,#728ecb,#7792cc,#7a94cc,#7b95cc,#7b95cc,#7b95cc,#7b95cc,#7b95cc,#7c96cc,#7c96cc,#7b95cc,#7a95cc,#7892cc,#728ecb,#6d89ca,#6c88ca,#7a94cc,#a5aebd,#bda99e,#bea79a,#c0a596,#c1a394,#c2a191,#c39e8d,#c49b88,#c59782,#c6927c,#c68d76,#c6866d,#c47f66,#c37961,#c2755d,#c17159,#c06f58,#c06f58,#c17259,#c2745c,#c37860,#c47e65,#c48067,#c47e65,#c37c63,#c37960,#c2775f,#c2765e,#c2765e,#c2775f,#c37a61,#c47d65,#c58168,#c5836a,#c6866d,#c6866d,#c6866d,#c6866d,#c6866d)"></i>
<i style="top:57px;height:1px;background:linear-gradient(90deg,#c47f66,#c47f66,#c47f66,#c47f66,#c47f66,#c47f67,#c5846b,#c6957f,#b3afae,#859dcc,#7993cc,#5c78c4,#607cc6,#617dc6,#5874c2,#5873c1,#5671c1,#546fbf,#4158b0,#435bb2,#4b64b8,#506abc,#5672c1,#607cc6,#6a86c9,#728ecb,#7792cc,#7994cc,#7a95cc,#7b95cc,#7a95cc,#7a95cc,#7b95cc,#7b95cc,#7b95cc,#7b95cc,#7b95cc,#7a94cc,#7691cc,#728dcb,#6f8bcb,#7590cc,#96a8c6,#baaba3,#bea69a,#c0a495,#c2a191,#c39e8d,#c59a87,#c69680,#c6917a,#c68b73,#c6856c,#c47d65,#c2775f,#c1735b,#c17159,#c06f57,#c06e57,#c07058,#c1735b,#c2775e,#c37c63,#c5826a,#c5846b,#c58269,#c47f66,#c37b63,#c37960,#c2775f,#c2775e,#c2775f,#c37960,#c37c63,#c47f66,#c58168,#c5836a,#c5846b,#c5836b,#c5836b,#c5846b)"></i>
<i style="top:58px;height:1px;background:linear-gradient(90deg,#c47f66,#c47f66,#c47f66,#c47f66,#c47f66,#c48067,#c5846b,#c6957f,#b3afad,#869dcb,#7b95cc,#5d79c4,#607cc6,#617dc6,#5874c2,#5873c1,#5671c1,#546fbf,#4158b0,#435bb2,#4b64b8,#506abc,#5672c1,#607cc6,#6a86c9,#718dcb,#7691cc,#7893cc,#7994cc,#7993cc,#7893cc,#7893cc,#7993cc,#7994cc,#7a94cc,#7a94cc,#7a95cc,#7a95cc,#7993cc,#7591cc,#738ecb,#7590cc,#899fcb,#b4afad,#bfa699,#c1a393,#c39f8e,#c49b88,#c69680,#c69079,#c68a72,#c5836a,#c47c64,#c2765d,#c17159,#c06e57,#c06e56,#bf6d56,#c06e56,#c17058,#c2755d,#c37a61,#c48067,#c6876f,#c68970,#c6866d,#c5836a,#c47e65,#c37b62,#c37960,#c2775f,#c2775f,#c37860,#c37b62,#c47d64,#c47f66,#c58168,#c58169,#c58269,#c58269,#c58269)"></i>
<i style="top:59px;height:1px;background:linear-gradient(90deg,#c47f66,#c47f66,#c47f66,#c47f66,#c47f67,#c48067,#c6846c,#c6957f,#b4afac,#899fcb,#869ecb,#5e7ac5,#607cc6,#617dc6,#5874c2,#5873c1,#5671c1,#546fbf,#4258b0,#445bb2,#4b64b8,#506abd,#5772c1,#607cc6,#6985c9,#708ccb,#7590cc,#7691cc,#7691cc,#7691cc,#7590cc,#7590cc,#7691cc,#7792cc,#7892cc,#7893cc,#7994cc,#7a95cc,#7a94cc,#7893cc,#7691cc,#7691cc,#8099cc,#a8afba,#bfa699,#c2a191,#c49d8a,#c59782,#c6917a,#c68971,#c5826a,#c37b63,#c2755d,#c06f57,#bf6c54,#bf6b53,#bf6b54,#bf6c55,#c06e56,#c1725a,#c2775f,#c47e65,#c6856c,#c68c74,#c68e77,#c68a73,#c6876e,#c58269,#c47d64,#c37a62,#c37860,#c2785f,#c37860,#c37a61,#c37c63,#c47d65,#c47f66,#c48067,#c48067,#c48068,#c58168)"></i>
<i style="top:60px;height:1px;background:linear-gradient(90deg,#c48067,#c48067,#c48067,#c48067,#c48067,#c58068,#c6856c,#c6947e,#b6ada9,#8ea3c9,#96a8c6,#617dc6,#617dc6,#617dc6,#5874c2,#5873c1,#5671c1,#546fbf,#4259b1,#445cb3,#4b65b9,#516bbd,#5772c1,#607cc6,#6884c9,#6e8aca,#718dcb,#728ecb,#728ecb,#718dcb,#6f8bcb,#6f8bcb,#718dcb,#738ecb,#7490cc,#7591cc,#7792cc,#7994cc,#7a95cc,#7a94cc,#7893cc,#7893cc,#7d97cc,#99a9c5,#bda89c,#c39f8e,#c59985,#c6937d,#c68b73,#c5836a,#c37b63,#c2745c,#c06e56,#be6953,#bd6851,#be6851,#be6a53,#bf6c55,#c06f57,#c1745b,#c37a62,#c58269,#c68971,#c6917a,#c6927c,#c68f78,#c68b74,#c6856d,#c48067,#c37c64,#c37a61,#c37860,#c37860,#c37a61,#c37b62,#c37c63,#c47e65,#c47e66,#c47f66,#c47f67,#c48067)"></i>
<i style="top:61px;height:1px;background:linear-gradient(90deg,#c58068,#c58068,#c58068,#c58068,#c58168,#c58168,#c6856c,#c6937d,#b9aca4,#95a7c6,#a5aebc,#637fc7,#627ec7,#617dc6,#5874c2,#5873c1,#5671c1,#546fbf,#435ab1,#455db3,#4c65b9,#516bbd,#5772c1,#5f7bc5,#6682c8,#6a86c9,#6c88ca,#6c88ca,#6b87ca,#6985c9,#6884c9,#6884c9,#6b87ca,#6d89ca,#6f8bcb,#718dcb,#748fcb,#7792cc,#7a94cc,#7b95cc,#7a94cc,#7994cc,#7c96cc,#8aa0cb,#b7ada7,#c49d8b,#c69680,#c68e77,#c6856d,#c37c63,#c2745c,#c06e56,#be6852,#bd654f,#bc644e,#bd6650,#be6952,#bf6c55,#c17058,#c2765e,#c47e65,#c6866e,#c68e77,#c69680,#c59782,#c6947e,#c69079,#c68a72,#c5846b,#c47f66,#c37b63,#c37961,#c37960,#c37961,#c37a62,#c37c63,#c47d64,#c47e65,#c47e65,#c47f66,#c47f66)"></i>
<i style="top:62px;height:1px;background:linear-gradient(90deg,#c58168,#c58168,#c58168,#c58168,#c58169,#c58269,#c6856c,#c6927b,#bcaa9f,#9dabc2,#afb0b2,#6581c8,#6480c7,#627ec7,#5974c2,#5773c1,#5671c1,#546fbf,#445bb2,#465eb4,#4d66ba,#516cbd,#5671c1,#5c78c4,#617dc6,#6480c7,#6480c7,#637fc7,#627ec7,#607cc6,#5f7bc6,#607cc6,#6480c7,#6783c8,#6a86c9,#6c88ca,#708ccb,#7590cc,#7993cc,#7b95cc,#7b95cc,#7a95cc,#7c96cc,#819acc,#abafb7,#c49b88,#c6917b,#c68970,#c47f66,#c2765d,#c06e57,#be6851,#bc644e,#bb614c,#bb624d,#bc654f,#be6952,#bf6d56,#c1725a,#c37961,#c58269,#c68b73,#c6937d,#c59a87,#c49c89,#c59985,#c6957f,#c68e77,#c6876f,#c58269,#c47d65,#c37b62,#c37961,#c37961,#c37a61,#c37b62,#c37c63,#c47d64,#c47e65,#c47e66,#c47f66)"></i>
<i style="top:63px;height:1px;background:linear-gradient(90deg,#c58269,#c58269,#c58269,#c58269,#c58269,#c5836a,#c6866d,#c6917a,#bea79a,#a5aebc,#b5aeab,#708ccb,#6682c8,#6480c7,#5975c2,#5772c1,#5671c0,#546ebf,#445cb2,#465eb4,#4c66ba,#506abd,#546fbf,#5873c1,#5a76c3,#5a76c3,#5a75c3,#5974c2,#5873c2,#5773c1,#5773c1,#5975c2,#5d79c5,#617dc6,#6480c7,#6783c9,#6c88ca,#728ecb,#7792cc,#7b95cc,#7b95cc,#7b95cc,#7c96cc,#7d97cc,#9baac4,#c49b87,#c68c75,#c5836a,#c37960,#c06f58,#be6952,#bc634e,#ba604b,#ba5f4a,#bb614c,#bc654e,#be6952,#c06f57,#c2755d,#c47d64,#c6866e,#c69079,#c59883,#c39f8d,#c2a090,#c39e8c,#c59a86,#c6937d,#c68c74,#c6856c,#c48067,#c37c63,#c37a61,#c37a61,#c37a61,#c37b62,#c37c63,#c47d64,#c47d65,#c47e65,#c47f66)"></i>
<i style="top:64px;height:1px;background:linear-gradient(90deg,#c5836b,#c5836b,#c5836b,#c5836b,#c5836b,#c5846b,#c6866e,#c68f79,#c1a394,#adb0b5,#baaba3,#859dcb,#6884c9,#6581c8,#5b76c3,#5671c1,#5570c0,#526dbe,#445bb2,#455db3,#4b64b8,#4e67bb,#4f69bc,#516bbd,#516bbd,#506abd,#5069bc,#5069bc,#506abc,#516bbd,#536dbe,#5571c0,#5975c2,#5d79c4,#607cc6,#6480c7,#6985c9,#708ccb,#7691cc,#7b95cc,#7c96cc,#7c96cc,#7c96cc,#7c96cc,#8ca1ca,#c39e8c,#c6876f,#c47d64,#c1735b,#be6a53,#bc644e,#ba604b,#b95e49,#b95d49,#ba604b,#bc654f,#be6a53,#c17159,#c2785f,#c58168,#c68b73,#c6947e,#c49c8a,#c1a394,#c0a597,#c1a393,#c39e8d,#c59883,#c69079,#c68971,#c5836a,#c47e65,#c37b62,#c37a61,#c37a62,#c37b62,#c37c63,#c47d64,#c47d65,#c47e65,#c47f66)"></i>
<i style="top:65px;height:1px;background:linear-gradient(90deg,#c6856c,#c6856c,#c6856c,#c6856c,#c6856c,#c6856c,#c6876e,#c68e77,#c39f8e,#b5aeab,#c1a394,#abafb7,#6a86c9,#6783c8,#5d78c4,#5570c0,#546fbf,#4f69bc,#4158b0,#4259b1,#475fb5,#4861b6,#4861b6,#4860b6,#4760b5,#465fb5,#475fb5,#4961b6,#4b64b8,#4f68bb,#536dbe,#5672c1,#5a75c3,#5d79c4,#607cc6,#637fc7,#6884c9,#6f8bcb,#7590cc,#7b95cc,#7c96cc,#7c96cc,#7c96cc,#7c96cc,#829bcc,#bfa698,#c58169,#c2775e,#bf6d56,#bd654f,#ba604b,#b95d49,#b85c48,#b95d49,#ba614c,#bd664f,#bf6c55,#c1735b,#c37c63,#c6856d,#c68f79,#c59985,#c2a190,#bea79a,#bda99d,#bea79a,#c1a393,#c49c8a,#c6957f,#c68d76,#c6866d,#c48067,#c47c64,#c37b62,#c37b62,#c37b62,#c37c63,#c47d64,#c47e65,#c47e66,#c47f66)"></i>
<i style="top:66px;height:1px;background:linear-gradient(90deg,#c6866d,#c6866d,#c6866d,#c6866d,#c6866d,#c6866e,#c6886f,#c68e77,#c49c89,#bcaaa0,#c59986,#c6917a,#6b87ca,#6985c9,#5f7bc6,#546fbf,#536ebe,#475fb5,#3d53ac,#3e54ac,#4157af,#4158af,#4057af,#4056ae,#4056ae,#4057af,#435ab1,#475fb5,#4c66ba,#536ebe,#5a76c3,#607cc6,#627ec7,#6480c7,#6783c8,#6884c9,#6c88ca,#718dcb,#7691cc,#7c96cc,#7c96cc,#7c96cc,#7c96cc,#7c96cc,#7e98cc,#b4afab,#c47d64,#c17159,#be6851,#bb614c,#b95d49,#b85b48,#b85b48,#b95d49,#bb614c,#bd6751,#c06e57,#c2775e,#c48067,#c68a72,#c6947e,#c49d8b,#c0a596,#bbaaa0,#b9aba4,#bbaaa1,#bea79a,#c2a191,#c59985,#c6917b,#c68971,#c5836a,#c47e65,#c37c63,#c37c63,#c37c63,#c37c63,#c47d64,#c47e65,#c47f66,#c48067)"></i>
<i style="top:67px;height:1px;background:linear-gradient(90deg,#c6876f,#c6876f,#c6876f,#c6876f,#c6876f,#c6876f,#c68970,#c68d76,#c59884,#c0a495,#c68d76,#b75846,#6c88ca,#6a86c9,#627ec6,#536ebe,#526cbe,#3d52ab,#394ca6,#394da7,#3b4fa8,#3b4fa8,#3b4fa8,#3b50a9,#3d52ab,#4056ae,#455db3,#4e67bb,#5773c1,#6480c7,#708ccb,#7792cc,#7893cc,#7893cc,#7b95cc,#7994cc,#7994cc,#7b95cc,#7e98cc,#819acc,#7f98cc,#7d97cc,#7c96cc,#7c96cc,#7d97cc,#a9afba,#c37960,#bf6b54,#bc634e,#b95e49,#b85b47,#b85a47,#b85b48,#b95e49,#bc634d,#be6a53,#c17259,#c37a62,#c5846b,#c68e77,#c59884,#c2a191,#bda89c,#b8aca6,#b5aeaa,#b7ada7,#bbaaa1,#bfa597,#c39e8c,#c69680,#c68d76,#c6856d,#c48067,#c47d64,#c47d64,#c47d64,#c47d64,#c47e65,#c47f66,#c48067,#c48067)"></i>
<i style="top:68px;height:1px;background:linear-gradient(90deg,#c68971,#c68971,#c68971,#c68971,#c68971,#c68971,#c68a72,#c68d76,#c69680,#c49e8c,#c48067,#a63831,#7591cc,#6b87ca,#6480c7,#536dbe,#506abd,#3749a4,#3648a3,#3648a3,#3748a4,#374aa4,#394ca6,#3c51aa,#4157af,#4860b6,#536dbe,#617dc6,#738fcb,#869dcb,#94a7c7,#9cabc3,#9cabc3,#9cabc3,#9dabc2,#98a9c5,#95a8c6,#93a6c7,#93a6c7,#92a6c8,#89a0cb,#849ccc,#7f98cc,#7d97cc,#819acc,#a7aebb,#c2745c,#bd6650,#ba604b,#b85c48,#b75a47,#b75a47,#b85c48,#ba5f4a,#bc654f,#bf6c55,#c2755d,#c47e66,#c68870,#c6937d,#c49d8a,#c0a597,#baaba2,#b4afac,#b1b1b0,#b3b0ae,#b7ada8,#bda99e,#c1a292,#c59a86,#c6917a,#c68970,#c58269,#c47f66,#c47e65,#c47e65,#c47e65,#c47f66,#c48067,#c58068,#c58169)"></i>
<i style="top:69px;height:1px;background:linear-gradient(90deg,#c68b73,#c68b73,#c68b73,#c68b73,#c68b73,#c68b73,#c68b74,#c68e76,#c6937d,#c59681,#c2755d,#a5362f,#aeb0b4,#6b87ca,#6581c8,#546fbf,#4a63b8,#394ca6,#384aa5,#3749a4,#3749a4,#394ca7,#3e53ac,#465eb4,#516cbd,#607cc6,#728ecb,#879ecb,#9baac3,#acb0b6,#b7ada8,#bcaaa0,#bca99f,#bca99f,#bca99f,#b9aca5,#b6ada9,#b4afac,#b1b1b1,#aeb0b4,#a2adbf,#95a7c6,#8aa0cb,#859dcc,#90a4c8,#b7ada8,#c06f57,#bb624d,#b95d49,#b75a47,#b75946,#b85a47,#b95d49,#bb614c,#bd6851,#c07058,#c37960,#c5836a,#c68d76,#c59782,#c2a190,#bda89d,#b7ada8,#b0b1b2,#adb0b5,#afb0b3,#b3b0ae,#b9aca5,#bfa699,#c39e8c,#c6957f,#c68c75,#c6856c,#c58168,#c48067,#c47f66,#c47f66,#c48067,#c58168,#c58269,#c5836a)"></i>
<i style="top:70px;height:1px;background:linear-gradient(90deg,#c68c75,#c68c75,#c68c75,#c68c75,#c68c75,#c68c75,#c68d75,#c68e77,#c6917b,#c69079,#c06f57,#a83c33,#c07058,#6f8bcb,#6783c8,#5874c2,#536ebe,#4860b6,#4158b0,#3f55ad,#3f54ad,#445cb3,#506abc,#617dc6,#7590cc,#89a0cb,#9eabc2,#afb0b3,#bca99f,#c39f8d,#c69680,#c6917a,#c6917a,#c6907a,#c6917a,#c6947e,#c69680,#c59782,#c49c89,#c39f8d,#bda89d,#b1b1b0,#a3aebe,#99a9c4,#acafb7,#c59883,#be6952,#ba5f4a,#b85b48,#b75946,#b75946,#b85b48,#ba5f4a,#bc644e,#bf6b54,#c2745c,#c47e65,#c6886f,#c6927b,#c49b89,#c0a496,#baaba2,#b3afae,#adb0b5,#aaafb9,#abafb8,#afb0b3,#b5aeab,#bca99f,#c1a292,#c59985,#c69079,#c6886f,#c5846b,#c58269,#c58168,#c58168,#c58169,#c5826a,#c5846b,#c6856c)"></i>
<i style="top:71px;height:1px;background:linear-gradient(90deg,#c68e77,#c68e77,#c68e77,#c68e77,#c68e77,#c68e77,#c68e77,#c68f78,#c69079,#c68a72,#c06e56,#ac4337,#a4342e,#b5aeaa,#7b95cc,#7d97cc,#839ccc,#6e8aca,#5d79c4,#5772c1,#5671c1,#627ec7,#7691cc,#8da2ca,#a2adbf,#b2b0b0,#bea79a,#c59a87,#c68f78,#c5846b,#c37c63,#c2785f,#c37860,#c37961,#c37a62,#c47c64,#c47e65,#c48067,#c6856c,#c68870,#c6917a,#c49c89,#bfa699,#b6aeaa,#c39f8e,#c47d64,#bc644e,#b95d49,#b75a47,#b75946,#b75a47,#b95d49,#bb614c,#bd6750,#c06f57,#c37860,#c5826a,#c68c75,#c59681,#c39f8e,#bea79b,#b7ada8,#afb0b2,#a9afb9,#a6aebc,#a7aebb,#abafb7,#b1b1b1,#b8aca5,#bfa698,#c49d8a,#c6937d,#c68b73,#c6876e,#c6856c,#c5836b,#c5836a,#c5846b,#c6856c,#c6866d,#c6876e)"></i>
<i style="top:72px;height:1px;background:linear-gradient(90deg,#c6907a,#c6907a,#c6907a,#c6907a,#c6907a,#c6907a,#c6907a,#c6907a,#c68f78,#c6866d,#bf6d55,#af483a,#9d2728,#b65644,#c59884,#c0a496,#b9aca5,#a1adc0,#89a0cb,#8099cc,#819acc,#90a4c9,#a4aebe,#b4afac,#c0a496,#c59883,#c68a72,#c47d64,#c1725a,#be6a53,#bc644e,#bb634d,#bc644e,#bd6650,#be6952,#bf6b54,#c06e56,#c17159,#c2765e,#c37a62,#c58168,#c6866e,#c68d76,#c59782,#c5846b,#c06d56,#ba614c,#b85b47,#b75a46,#b75a46,#b85b47,#ba5f4a,#bc644e,#bf6b54,#c1735b,#c47d65,#c6876f,#c6917a,#c59a87,#c1a394,#bbaaa1,#b3afad,#acb0b6,#a6aebc,#a3adbf,#a3aebe,#a7aebb,#adb0b5,#b5aeab,#bda99e,#c2a090,#c59782,#c68f78,#c68a72,#c6886f,#c6866e,#c6856c,#c6866d,#c6876f,#c68870,#c68971)"></i>
<i style="top:73px;height:1px;background:linear-gradient(90deg,#c6927c,#c6927c,#c6927c,#c6927c,#c6927c,#c6927c,#c6927c,#c6927b,#c68e77,#c5836a,#bf6b53,#b14b3c,#a12e2b,#9a2026,#ac4337,#be6953,#c6866e,#c1a394,#afb0b3,#a8afba,#abafb7,#b6ada9,#c0a495,#c59782,#c68870,#c37a61,#bf6c55,#bb614c,#b75946,#b55442,#b35140,#b45141,#b55443,#b65845,#b85b48,#ba5f4a,#bc634d,#be6851,#c06f57,#c2745c,#c37a61,#c37b62,#c47d64,#c58168,#c2745c,#be6851,#ba5f4a,#b85a47,#b75a47,#b85b47,#b95d49,#bb614c,#bd6751,#c06f57,#c37860,#c5826a,#c68c75,#c69680,#c39e8c,#bfa699,#b8aca6,#b0b1b1,#a9afb9,#a3aebf,#9facc1,#a0acc0,#a4aebe,#aaafb9,#b1b1b1,#baaba3,#c0a495,#c49b87,#c6927c,#c68e77,#c68b73,#c68971,#c68870,#c68971,#c68a72,#c68b74,#c68c75)"></i>
<i style="top:74px;height:1px;background:linear-gradient(90deg,#c6957f,#c6957f,#c6957f,#c6957f,#c6957f,#c6947f,#c6947e,#c6937d,#c68e77,#c47f67,#be6851,#b45141,#a63830,#971824,#9a2026,#ac4236,#bb624d,#c68870,#c2a08f,#c0a597,#c2a190,#c59782,#c68b73,#c37c63,#bf6d55,#b95e4a,#b45342,#b04a3c,#ae4639,#ac4337,#ac4236,#ad4538,#b0493b,#b24e3e,#b45241,#b65745,#b85c48,#bb624c,#be6a53,#c17159,#c2775e,#c2775e,#c2775f,#c2775f,#c06f57,#bd6650,#b95e4a,#b75a47,#b85b47,#b85c48,#ba5f4a,#bc644e,#bf6b54,#c2745c,#c47e65,#c6886f,#c6917b,#c59a86,#c2a292,#bca99e,#b5aeaa,#adb0b5,#a6aebc,#a0acc0,#9dabc2,#9dabc2,#a0acc0,#a6aebc,#aeb0b4,#b6ada8,#bea79a,#c39e8d,#c69681,#c6927b,#c68f78,#c68d75,#c68b74,#c68c75,#c68d76,#c68f78,#c69079)"></i>
<i style="top:75px;height:1px;background:linear-gradient(90deg,#c59782,#c59782,#c59782,#c59782,#c59782,#c59782,#c59681,#c6957f,#c68e76,#c47d64,#bd6650,#b65845,#ab4135,#9b2226,#971824,#a12f2c,#b04a3c,#c17058,#c68b74,#c6917b,#c68b73,#c48067,#c1745c,#bd664f,#b65644,#b0493b,#ab4135,#a73b32,#a63831,#a63830,#a63831,#a93d33,#ac4236,#af483a,#b24d3e,#b45342,#b75846,#ba5f4a,#bd6751,#c06f57,#c2755d,#c2755d,#c2755d,#c2755c,#c06d56,#bd6650,#b95e4a,#b85b47,#b85c48,#b95e4a,#bb624c,#be6851,#c17058,#c37961,#c5836a,#c68d76,#c59681,#c39e8c,#bfa597,#baaba3,#b2b0af,#abafb8,#a4aebe,#9eabc2,#9aaac4,#9baac4,#9eabc2,#a3aebe,#abafb8,#b3afad,#bcaa9f,#c2a292,#c59a86,#c69680,#c6937c,#c6907a,#c68f78,#c69079,#c6917a,#c6927c,#c6937d)"></i>
<i style="top:76px;height:1px;background:linear-gradient(90deg,#c59985,#c59985,#c59985,#c59985,#c59985,#c59985,#c59984,#c59681,#c68d76,#c37961,#be6952,#b95d49,#af493b,#9f2c2a,#992026,#9d2829,#a93e34,#b95e4a,#c37960,#c47f66,#c37860,#c06e56,#bb624c,#b55443,#ae473a,#a83c33,#a4352f,#a2312d,#a2302c,#a2312d,#a3332d,#a63830,#aa3f34,#ad4538,#b04b3c,#b35140,#b65745,#b95e49,#bd6650,#c06f57,#c2755c,#c2755c,#c2755c,#c2745c,#c06d56,#bd6650,#ba5f4b,#b85c48,#b95e4a,#bb614c,#bd664f,#bf6c55,#c2755d,#c47f66,#c68970,#c6927c,#c49b87,#c1a292,#bda89c,#b7ada8,#afb0b2,#a8afba,#a1adc0,#9baac3,#98a9c5,#98a9c5,#9baac3,#a0acc0,#a8afba,#b0b1b1,#b9aca4,#c0a597,#c49e8b,#c59985,#c59781,#c6947e,#c6937c,#c6937d,#c6957f,#c69680,#c59782)"></i>
<i style="top:77px;height:1px;background:linear-gradient(90deg,#c49b88,#c49b88,#c49b88,#c49b88,#c49b88,#c49b88,#c49b87,#c59883,#c68d75,#c37a61,#bf6c54,#bb614c,#b35140,#a5362f,#9e2a2a,#9f2a2a,#a73931,#b45342,#be6952,#c07058,#be6952,#ba604b,#b55543,#b04a3b,#a93e34,#a4352f,#a12f2c,#a02d2b,#a02d2b,#a12f2c,#a2312d,#a53730,#a93e34,#ad4538,#b04b3c,#b35141,#b65745,#b95e4a,#bd6750,#c06f57,#c2755c,#c2755c,#c2755c,#c2745c,#c06e57,#bd6851,#bb614c,#b95e49,#ba604b,#bc654e,#be6a53,#c17259,#c37b62,#c6856c,#c68e77,#c59782,#c39f8d,#bfa598,#bbaaa1,#b4afac,#adb0b5,#a6aebc,#9facc1,#9aaac4,#96a8c6,#97a8c5,#99a9c4,#9eacc1,#a5aebd,#aeb0b4,#b6ada9,#bea89b,#c2a191,#c49d8b,#c59a87,#c59884,#c59781,#c59783,#c59884,#c59a86,#c49b87)"></i>
<i style="top:78px;height:1px;background:linear-gradient(90deg,#c49e8c,#c49e8c,#c49e8c,#c49e8c,#c49e8c,#c49e8c,#c49d8b,#c59985,#c68c75,#c47d64,#c06f57,#bd664f,#b65845,#ab4135,#a5362f,#a3332d,#a73a32,#b14c3d,#b95e4a,#bc644e,#ba5f4a,#b65644,#b24e3e,#ad4438,#a73a32,#a3332e,#a12f2c,#a12e2b,#a12f2c,#a2312d,#a4342e,#a73a31,#ab4035,#ae4739,#b24d3e,#b45342,#b75946,#ba604b,#be6851,#c07058,#c2755d,#c2755d,#c2755d,#c2755d,#c06f58,#be6952,#bc634d,#ba604b,#bc644e,#be6952,#c06f57,#c2775e,#c58168,#c68a73,#c6937d,#c49c89,#c1a393,#bda89d,#b8aca6,#b1b1b1,#aaafb8,#a3aebe,#9dabc2,#98a9c5,#95a7c6,#95a7c6,#98a9c5,#9cabc3,#a3aebf,#abafb7,#b3afad,#bbaaa0,#c0a496,#c2a191,#c39e8d,#c49c89,#c59a87,#c49b88,#c49c8a,#c49d8b,#c39e8d)"></i>
<i style="top:79px;height:1px;background:linear-gradient(90deg,#c2a08f,#c2a08f,#c2a08f,#c2a08f,#c2a08f,#c2a08f,#c39f8e,#c59a87,#c68f78,#c58168,#c1735b,#be6a53,#b95e4a,#b14b3c,#ab4236,#a83c33,#aa3f34,#b04b3c,#b65744,#b85c48,#b75846,#b45241,#b14b3c,#ac4337,#a83c32,#a5362f,#a3342e,#a3332e,#a4352f,#a53730,#a73931,#aa3f34,#ad4538,#b04a3c,#b35040,#b65644,#b85c48,#bb624d,#be6a53,#c17159,#c2775e,#c2775e,#c2775e,#c2765e,#c17159,#bf6b54,#bd664f,#bc634d,#be6851,#c06d56,#c2745c,#c47d64,#c6876e,#c69079,#c59884,#c2a08f,#bfa699,#baaba2,#b5aeab,#aeb0b4,#a8afba,#a1adc0,#9baac3,#97a8c5,#94a7c7,#94a7c7,#96a8c6,#9aaac4,#a1adc0,#a9afb9,#b1b1b1,#b9aca5,#bea79b,#c0a496,#c1a292,#c3a08f,#c39e8d,#c39f8e,#c2a08f,#c2a191,#c1a292)"></i>
<i style="top:80px;height:1px;background:linear-gradient(90deg,#c1a393,#c1a393,#c1a393,#c1a393,#c1a393,#c1a293,#c2a191,#c49c89,#c6937d,#c6856c,#c2785f,#c06e57,#bc644e,#b55543,#b14c3d,#ae4739,#ae4639,#b14d3d,#b55442,#b75946,#b65644,#b45141,#b14c3d,#ae4639,#ab4135,#a83d33,#a83b32,#a83b32,#a83d33,#aa3f34,#ab4135,#ad4538,#b04a3c,#b35040,#b55543,#b85a47,#ba5f4b,#bd654f,#bf6c55,#c1735b,#c2785f,#c2785f,#c2785f,#c2785f,#c1735b,#c06e56,#be6952,#bd6750,#bf6c55,#c1735b,#c37a62,#c5836a,#c68d75,#c69580,#c49d8b,#c0a495,#bca99f,#b7ada7,#b2b0b0,#acb0b6,#a5aebc,#9facc1,#9aaac4,#95a8c6,#93a6c7,#93a6c7,#95a7c6,#99a9c4,#9facc1,#a6aebb,#aeb0b4,#b6aea9,#bbaaa0,#bea89b,#bfa598,#c1a394,#c1a292,#c1a393,#c1a495,#c0a496,#bfa597)"></i>
<i style="top:81px;height:1px;background:linear-gradient(90deg,#c0a597,#c0a597,#c0a597,#c0a597,#c0a597,#c0a597,#c1a394,#c39f8e,#c59782,#c68a72,#c47d64,#c1735b,#be6a53,#b95e4a,#b65745,#b45141,#b24f3f,#b45141,#b55543,#b75946,#b65745,#b55442,#b35040,#b14c3d,#af483a,#ad4538,#ad4438,#ad4438,#ae4639,#af473a,#b0493b,#b24d3e,#b45241,#b65644,#b85b47,#ba5f4a,#bc644e,#be6952,#c06f57,#c2755d,#c37a61,#c37a61,#c37a61,#c37a61,#c2765d,#c17159,#bf6d56,#bf6c54,#c1725a,#c37960,#c58168,#c68971,#c6927c,#c59a87,#c2a191,#bea79b,#b9aba4,#b4afac,#afb0b3,#a9afb9,#a3aebe,#9dabc2,#98a9c5,#94a7c7,#92a6c8,#93a6c7,#94a7c7,#98a9c5,#9dabc2,#a4aebd,#acb0b6,#b3afad,#b8aca5,#bbaaa1,#bda89d,#bea79a,#bfa598,#bfa699,#bea79a,#bea89c,#bda89d)"></i>
<i style="top:82px;height:1px;background:linear-gradient(90deg,#bea79b,#bea79b,#bea79b,#bea79b,#bea79b,#bea79b,#bfa698,#c1a292,#c49b87,#c68f78,#c5836a,#c37960,#c07058,#bd6650,#bb614c,#b85c48,#b75845,#b65845,#b75846,#b85c48,#b85b48,#b75946,#b65644,#b45342,#b35040,#b24e3f,#b24e3e,#b24e3f,#b35040,#b35141,#b45342,#b65644,#b75a46,#b95d49,#bb614c,#bc654f,#be6852,#bf6d56,#c1735a,#c27860,#c37c63,#c37c63,#c37c63,#c37c63,#c37960,#c2755d,#c1725a,#c17159,#c2785f,#c47f66,#c6876e,#c68f78,#c59783,#c39f8e,#bfa597,#bbaaa1,#b6aea9,#b1b1b1,#acb0b6,#a7aebb,#a1adc0,#9baac3,#97a8c5,#93a7c7,#91a5c8,#92a6c8,#94a7c7,#97a8c5,#9cabc3,#a3adbf,#aaafb9,#b0b1b1,#b5aeaa,#b8aca6,#baaba2,#bcaa9f,#bda99d,#bca99e,#bcaaa0,#bbaaa1,#baaba2)"></i>
<i style="top:83px;height:1px;background:linear-gradient(90deg,#bcaaa0,#bcaaa0,#bcaaa0,#bcaaa0,#bcaa9f,#bca99f,#bda89d,#bfa597,#c39f8e,#c6957f,#c68971,#c47f66,#c2765e,#c06e56,#be6a53,#bd654f,#bb614c,#ba5f4b,#b95e4a,#bb614c,#bb614c,#ba604b,#b95e4a,#b85c48,#b75a47,#b75946,#b75846,#b75946,#b75a47,#b85b48,#b95d49,#ba5f4a,#bb624d,#bc654f,#be6851,#bf6b54,#c06e56,#c1725a,#c2765e,#c37b63,#c47f66,#c47f66,#c47f66,#c47f66,#c47d64,#c37a61,#c2775f,#c2775e,#c47e65,#c6856d,#c68d76,#c6957f,#c49c8a,#c1a394,#bda99d,#b8aca6,#b2b0ae,#aeb0b4,#a9afb9,#a4aebd,#9facc1,#9aaac4,#96a8c6,#93a6c7,#91a5c8,#91a5c8,#93a6c7,#96a8c6,#9baac4,#a1adc0,#a7afbb,#aeb0b4,#b2b0af,#b5aeab,#b7ada8,#b9aca5,#baaba3,#b9aba4,#b8aca5,#b8ada6,#b7ada8)"></i>
<i style="top:84px;height:1px;background:linear-gradient(90deg,#b9aca4,#b9aca4,#b9aca4,#b9aca4,#b9aba4,#b9aba3,#bbaaa1,#bda89d,#c1a394,#c59a87,#c69079,#c6856c,#c37c63,#c2755d,#c1725a,#c06e56,#be6a53,#bd6851,#bd654f,#be6851,#be6851,#bd6751,#bd6650,#bc654f,#bc644e,#bb634d,#bb634d,#bc634d,#bc644e,#bd654f,#bd6750,#be6852,#bf6a53,#bf6d55,#c06f57,#c17159,#c1745b,#c2775e,#c37b62,#c47f66,#c58269,#c58269,#c58269,#c5826a,#c58168,#c47f66,#c47d64,#c47d64,#c5846c,#c68c74,#c6937d,#c59a86,#c2a191,#bea79a,#baaba3,#b4afab,#afb0b3,#abafb8,#a6aebc,#a2adbf,#9cabc2,#98a9c5,#94a7c7,#92a5c8,#90a4c8,#91a5c8,#92a6c8,#95a7c6,#99a9c4,#9facc1,#a5aebd,#abafb7,#afb0b3,#b1b0b0,#b3afad,#b5aeaa,#b6ada8,#b6aea9,#b5aeab,#b4afac,#b3afad)"></i>
<i style="top:85px;height:1px;background:linear-gradient(90deg,#b6aea9,#b6aea9,#b6aea9,#b6aea9,#b6ada9,#b7ada8,#b8ada7,#baaba2,#bea79a,#c3a08f,#c59681,#c68c74,#c5836a,#c37c63,#c37961,#c2765e,#c1735a,#c07058,#bf6d55,#c06f57,#c06f58,#c06f57,#c06e57,#c06d56,#bf6d55,#bf6c55,#bf6c55,#bf6d56,#c06e56,#c06f57,#c17058,#c17159,#c1735b,#c2745c,#c2765e,#c2785f,#c37a61,#c47c64,#c48067,#c5836a,#c6866d,#c6866d,#c6866e,#c6866e,#c6856d,#c5846b,#c5836b,#c5846b,#c68b73,#c6927b,#c59984,#c39f8d,#bfa597,#bbaaa0,#b6ada9,#b1b1b1,#acb0b6,#a8afba,#a3aebe,#9facc1,#9aaac4,#96a8c6,#93a6c7,#91a5c8,#8fa4c9,#90a4c8,#92a5c8,#94a7c7,#98a9c5,#9dabc2,#a3adbf,#a8afba,#acb0b6,#aeb0b4,#b0b1b2,#b2b0af,#b3afae,#b2b0af,#b2b0b0,#b1b1b1,#b0b1b2)"></i>
<i style="top:86px;height:1px;background:linear-gradient(90deg,#b3b0ae,#b3b0ae,#b3b0ae,#b3b0ae,#b3b0ae,#b3afad,#b4afac,#b7ada8,#bbaaa1,#c0a597,#c49d8a,#c6937c,#c68971,#c5836b,#c58168,#c47e65,#c37b62,#c2775f,#c2755c,#c2765e,#c2775e,#c2775e,#c2765e,#c2765d,#c2755d,#c2755d,#c2755d,#c2765e,#c2775e,#c2785f,#c37960,#c37a61,#c37b62,#c37c63,#c47d65,#c47f66,#c48067,#c5826a,#c6856c,#c68870,#c68a72,#c68a72,#c68a73,#c68b73,#c68b73,#c68a72,#c68a72,#c68a73,#c6917a,#c59883,#c39e8c,#c1a394,#bda99e,#b8aca6,#b2b0ae,#aeb0b4,#a9afb9,#a5aebd,#a0adc0,#9dabc2,#98a9c5,#95a7c6,#92a5c8,#90a4c9,#8fa3c9,#8fa4c9,#91a5c8,#93a6c7,#97a8c5,#9baac3,#a0acc0,#a6aebc,#a9afb9,#abafb7,#adb0b5,#aeb0b3,#afb0b2,#afb0b3,#aeb0b4,#adb0b5,#adb0b5)"></i>
<i style="top:87px;height:1px;background:linear-gradient(90deg,#afb0b3,#afb0b3,#afb0b3,#afb0b3,#afb0b2,#b0b0b2,#b0b1b1,#b3b0ae,#b7ada8,#bcaa9f,#c1a293,#c59985,#c69079,#c68b73,#c68870,#c6856d,#c58269,#c47f66,#c47c64,#c47e65,#c47e65,#c47e65,#c47e65,#c47d65,#c47d64,#c47d64,#c47e65,#c47e66,#c47f66,#c48067,#c58168,#c58269,#c5836a,#c5846b,#c6856c,#c6866d,#c6876e,#c68870,#c68b73,#c68d76,#c68f78,#c68f78,#c68f78,#c69079,#c69079,#c69079,#c69079,#c6917a,#c59782,#c49d8b,#c1a293,#bea79b,#b9aba4,#b4afac,#afb0b3,#aaafb8,#a5aebc,#a1adc0,#9dabc2,#9aaac4,#96a8c6,#93a6c7,#91a5c8,#8fa3c9,#8ea3c9,#8fa3c9,#90a4c8,#92a6c8,#95a7c6,#99a9c4,#9eacc1,#a3adbf,#a6aebc,#a8afba,#aaafb9,#abafb7,#acb0b6,#acafb7,#abafb7,#aaafb8,#aaafb9)"></i>
<i style="top:88px;height:1px;background:linear-gradient(90deg,#acafb7,#acafb7,#acafb7,#acafb7,#acb0b7,#acb0b6,#adb0b6,#aeb0b4,#b2b0af,#b7ada8,#bea89c,#c39f8e,#c59782,#c6927c,#c68f79,#c68d75,#c68972,#c6866e,#c5846b,#c6856c,#c6856c,#c6856c,#c6856c,#c6856c,#c6846c,#c6856c,#c6856d,#c6866d,#c6876e,#c6886f,#c68870,#c68971,#c68a72,#c68b73,#c68b74,#c68c75,#c68d76,#c68e77,#c69079,#c6927c,#c6937d,#c6947e,#c6947e,#c6957f,#c69580,#c69580,#c69681,#c59782,#c49c8a,#c2a292,#bea79a,#baaba2,#b5aeaa,#b0b1b2,#abafb7,#a7aebb,#a2adbf,#9eacc2,#9baac4,#97a9c5,#94a7c7,#91a5c8,#8fa4c9,#8ea2c9,#8da2ca,#8ea3c9,#8fa3c9,#91a5c8,#94a7c7,#97a8c5,#9cabc3,#a0acc0,#a3adbf,#a5aebd,#a6aebc,#a8afba,#a9afba,#a8afba,#a7afbb,#a7aebb,#a6aebc)"></i>
<i style="top:89px;height:1px;background:linear-gradient(90deg,#a7afbb,#a7afbb,#a7afbb,#a7afbb,#a7afbb,#a8afba,#a8afba,#aaafb8,#adb0b5,#b1b1b0,#b9aca5,#bfa597,#c49d8b,#c59985,#c59781,#c6947e,#c6917a,#c68e76,#c68b74,#c68c74,#c68c74,#c68c74,#c68c74,#c68b74,#c68b74,#c68c74,#c68c75,#c68d76,#c68e77,#c68f78,#c68f78,#c69079,#c6917a,#c6917b,#c6927b,#c6927c,#c6937d,#c6947e,#c69680,#c59782,#c59884,#c59984,#c59985,#c59986,#c59a87,#c49b87,#c49c89,#c49d8a,#c2a191,#bfa699,#bbaaa1,#b7ada8,#b1b0b0,#acb0b6,#a8afba,#a3aebe,#9eacc1,#9baac3,#98a9c5,#95a7c6,#92a6c8,#90a4c9,#8ea3c9,#8ca2ca,#8ca1ca,#8da2ca,#8ea3c9,#90a4c9,#92a6c8,#95a8c6,#99a9c4,#9dabc2,#9facc1,#a1adc0,#a3adbf,#a4aebd,#a5aebd,#a5aebd,#a4aebe,#a3aebe,#a3adbf)"></i>
<i style="top:90px;height:1px;background:linear-gradient(90deg,#a3adbf,#a3adbf,#a3adbf,#a3adbf,#a3adbf,#a3aebe,#a4aebe,#a5aebd,#a8afba,#acb0b6,#b3afad,#bbaaa1,#c1a495,#c2a08f,#c49d8b,#c59a87,#c59783,#c6947f,#c6927c,#c6927c,#c6927c,#c6927c,#c6927c,#c6927c,#c6927b,#c6927c,#c6937c,#c6937d,#c6947e,#c6957f,#c69680,#c59681,#c59782,#c59782,#c59883,#c59884,#c59985,#c59a86,#c49b88,#c49c8a,#c49d8b,#c49e8c,#c39e8c,#c39e8d,#c39f8e,#c3a08f,#c2a190,#c1a292,#bfa698,#bcaaa0,#b7ada7,#b2b0ae,#aeb0b4,#a9afba,#a4aebe,#9facc1,#9baac3,#98a9c5,#95a7c6,#93a6c7,#90a4c8,#8ea3c9,#8ca2ca,#8ba1ca,#8aa0cb,#8ba1ca,#8da2ca,#8ea3c9,#91a5c8,#93a6c7,#97a8c5,#9aaac4,#9cabc3,#9eabc2,#9facc1,#a1adc0,#a1adbf,#a1adc0,#a0acc0,#a0acc1,#9facc1)"></i>
<i style="top:91px;height:1px;background:linear-gradient(90deg,#9eabc2,#9eabc2,#9eabc2,#9eabc2,#9eabc2,#9eabc2,#9eacc1,#a0acc1,#a2adbf,#a6aebc,#adb0b5,#b5aeaa,#bca99f,#bfa699,#c0a495,#c2a191,#c39e8c,#c49b88,#c59985,#c59985,#c59985,#c59984,#c59884,#c59884,#c59883,#c59884,#c59984,#c59985,#c59a86,#c49b87,#c49b88,#c49c89,#c49d8a,#c49d8b,#c49d8b,#c39e8c,#c39e8d,#c39f8e,#c2a08f,#c2a191,#c2a292,#c1a292,#c1a393,#c1a394,#c0a495,#c0a496,#bfa598,#bea79a,#bcaa9f,#b8ada7,#b3afae,#aeb0b4,#aaafb9,#a5aebd,#a0acc0,#9cabc3,#98a9c5,#95a7c7,#92a6c8,#90a4c8,#8ea3c9,#8ca1ca,#8ba0cb,#89a0cb,#899fcb,#8aa0cb,#8ba1ca,#8da2ca,#8fa3c9,#91a5c8,#94a7c7,#97a8c5,#99a9c4,#9aaac4,#9cabc3,#9dabc2,#9eabc2,#9dabc2,#9dabc2,#9cabc3,#9baac3)"></i>
<i style="top:92px;height:1px;background:linear-gradient(90deg,#98a9c5,#98a9c5,#98a9c5,#98a9c5,#98a9c5,#98a9c5,#99a9c4,#9aaac4,#9cabc3,#a0acc1,#a7aebb,#afb0b3,#b6ada9,#b9aba4,#bca99f,#bea79a,#c0a496,#c2a191,#c39f8e,#c39f8e,#c39f8d,#c39f8d,#c39e8c,#c39e8c,#c49e8c,#c49e8c,#c39e8d,#c39f8d,#c39f8e,#c2a08f,#c2a190,#c2a191,#c2a292,#c1a292,#c1a393,#c1a394,#c1a394,#c0a495,#c0a597,#bfa598,#bfa699,#bfa699,#bea79a,#bea79b,#bda89c,#bda99d,#bca99f,#bbaaa1,#b8aca6,#b3afad,#afb0b3,#aaafb8,#a6aebc,#a1adc0,#9cabc3,#98a9c5,#94a7c7,#91a5c8,#8fa4c9,#8da2c9,#8ca1ca,#8aa0cb,#899fcb,#889ecb,#879ecb,#889fcb,#89a0cb,#8ba1ca,#8da2ca,#8fa3c9,#92a5c8,#94a7c7,#96a8c6,#97a8c5,#98a9c5,#99a9c4,#9aaac4,#99aac4,#99a9c4,#98a9c5,#98a9c5)"></i>
<i style="top:93px;height:1px;background:linear-gradient(90deg,#93a6c7,#93a6c7,#93a6c7,#93a6c7,#93a6c7,#93a6c7,#93a6c7,#94a7c7,#95a7c6,#99a9c4,#a0acc1,#a8afba,#afb0b3,#b2b0ae,#b6aeaa,#b9aca5,#bcaaa0,#bea79b,#bfa597,#c0a597,#c0a596,#c0a496,#c0a495,#c1a394,#c1a394,#c1a394,#c1a495,#c0a495,#c0a496,#c0a597,#bfa598,#bfa699,#bfa699,#bea79a,#bea79b,#bea89b,#bda89c,#bda89d,#bda99e,#bca99f,#bbaaa0,#bbaaa1,#bbaaa1,#baaba2,#b9aba4,#b9aca5,#b8aca6,#b6ada9,#b3afad,#afb0b3,#abafb8,#a6aebc,#a1adc0,#9cabc3,#98a9c5,#94a7c7,#91a5c8,#8ea3c9,#8da2ca,#8ba1ca,#89a0cb,#889fcb,#869ecb,#869dcb,#859dcb,#869ecb,#879ecb,#899fcb,#8aa0cb,#8da2ca,#8fa3c9,#91a5c8,#92a6c8,#93a7c7,#95a7c7,#96a8c6,#96a8c6,#96a8c6,#95a7c6,#95a7c6,#94a7c7)"></i>
<i style="top:94px;height:1px;background:linear-gradient(90deg,#8da2ca,#8da2ca,#8da2ca,#8da2ca,#8da2ca,#8da2ca,#8da2ca,#8ea3c9,#8fa3c9,#92a6c8,#98a9c5,#a1adc0,#a7afbb,#abafb7,#aeb0b3,#b2b0af,#b5aeaa,#b9aca5,#bbaaa1,#bbaaa0,#bcaa9f,#bca99f,#bda99e,#bda89d,#bda89c,#bda89c,#bda89d,#bda99d,#bda99e,#bca99f,#bcaaa0,#bbaaa0,#bbaaa1,#baaba2,#baaba3,#baaba3,#b9aba4,#b9aca5,#b8aca6,#b8ada7,#b7ada7,#b7ada8,#b6ada8,#b6aea9,#b5aeab,#b4afac,#b3afae,#b1b0b0,#afb0b3,#aaafb8,#a6aebc,#a1adbf,#9dabc2,#98a9c5,#94a7c7,#91a5c8,#8ea2c9,#8ba1ca,#8aa0cb,#889fcb,#879ecb,#859dcb,#849ccc,#839ccc,#839ccc,#849ccc,#859dcc,#869ecb,#889fcb,#8aa0cb,#8ca1ca,#8ea3c9,#8fa3c9,#90a4c8,#91a5c8,#92a5c8,#92a6c8,#92a6c8,#92a5c8,#91a5c8,#91a5c8)"></i>
<i style="top:95px;height:1px;background:linear-gradient(90deg,#869ecb,#869ecb,#869ecb,#869ecb,#869ecb,#869ecb,#869ecb,#879ecb,#889fcb,#8ba1ca,#91a5c8,#99a9c4,#9facc1,#a3adbf,#a7aebb,#abafb8,#aeb0b4,#b2b0af,#b4afac,#b5aeaa,#b6aea9,#b7ada8,#b7ada7,#b8aca6,#b9aca5,#b9aca5,#b9aca5,#b8aca5,#b8aca6,#b7ada7,#b7ada8,#b6ada8,#b6aea9,#b6aeaa,#b5aeaa,#b5aeab,#b4afac,#b4afac,#b3afad,#b3b0ae,#b2b0af,#b2b0af,#b1b0b0,#b1b1b0,#b0b1b2,#afb0b3,#aeb0b4,#adb0b5,#aaafb8,#a6aebc,#a1adc0,#9dabc2,#98a9c5,#94a7c7,#90a4c8,#8da2ca,#8aa0cb,#889fcb,#869ecb,#859dcc,#849ccc,#839bcc,#829bcc,#819acc,#819acc,#829bcc,#839bcc,#849ccc,#859dcb,#879ecb,#899fcb,#8ba0cb,#8ca1ca,#8ca2ca,#8da2ca,#8ea3c9,#8fa3c9,#8ea3c9,#8ea3c9,#8da2c9,#8da2ca)"></i>
<i style="top:96px;height:1px;background:linear-gradient(90deg,#7f99cc,#7f99cc,#7f99cc,#7f99cc,#7f99cc,#7f99cc,#7f99cc,#8099cc,#819acc,#839ccc,#899fcb,#90a4c8,#96a8c6,#99a9c4,#9eabc2,#a2adbf,#a7aebb,#abafb8,#adb0b5,#aeb0b4,#afb0b2,#b0b1b1,#b1b1b0,#b2b0af,#b3afae,#b3afad,#b3afad,#b3b0ae,#b2b0ae,#b2b0af,#b1b0b0,#b1b1b1,#b1b1b1,#b0b1b2,#b0b1b2,#afb0b2,#afb0b3,#afb0b3,#aeb0b4,#aeb0b4,#adb0b5,#adb0b5,#adb0b6,#acb0b6,#abafb7,#aaafb8,#a9afb9,#a8afbb,#a5aebd,#a0adc0,#9cabc3,#98a9c5,#94a7c7,#90a4c9,#8ca1ca,#899fcb,#869ecb,#849ccc,#839ccc,#829bcc,#819acc,#8099cc,#7f99cc,#7f98cc,#7f98cc,#7f99cc,#8099cc,#819acc,#829bcc,#849ccc,#859dcb,#879ecb,#889fcb,#899fcb,#89a0cb,#8aa0cb,#8ba1ca,#8aa0cb,#8aa0cb,#8aa0cb,#89a0cb)"></i>
<i style="top:97px;height:1px;background:linear-gradient(90deg,#7893cc,#7893cc,#7893cc,#7893cc,#7893cc,#7893cc,#7893cc,#7993cc,#7994cc,#7c96cc,#809acc,#879ecb,#8ca2ca,#90a4c9,#94a7c7,#99a9c4,#9eabc2,#a2adbf,#a5aebc,#a7aebb,#a8afba,#aaafb9,#abafb8,#acb0b6,#adb0b5,#adb0b5,#adb0b5,#adb0b5,#adb0b5,#acb0b6,#acb0b6,#abafb7,#abafb7,#abafb8,#aaafb8,#aaafb8,#aaafb9,#a9afb9,#a9afba,#a8afba,#a8afba,#a7afbb,#a7aebb,#a7aebb,#a6aebc,#a5aebd,#a4aebe,#a2adbf,#9facc1,#9baac3,#97a8c5,#93a6c7,#8fa3c9,#8ba1ca,#889fcb,#859dcc,#829bcc,#819acc,#7f99cc,#7e98cc,#7e97cc,#7d97cc,#7c96cc,#7c96cc,#7c96cc,#7c96cc,#7d97cc,#7e98cc,#7f98cc,#809acc,#829bcc,#839ccc,#849ccc,#859dcc,#859dcb,#869dcb,#869ecb,#869ecb,#869dcb,#859dcb,#859dcc)"></i>
<i style="top:98px;height:1px;background:linear-gradient(90deg,#718dcb,#718dcb,#718dcb,#718dcb,#718dcb,#718dcb,#718dcb,#718dcb,#728dcb,#748fcb,#7893cc,#7e97cc,#829bcc,#869dcb,#8ba0cb,#8fa4c9,#94a7c7,#99a9c4,#9cabc3,#9eacc1,#a0acc0,#a2adbf,#a3aebe,#a5aebd,#a6aebc,#a7aebb,#a7aebb,#a7aebb,#a7aebb,#a6aebc,#a6aebc,#a5aebd,#a5aebd,#a5aebd,#a4aebe,#a4aebe,#a3aebe,#a3aebe,#a3adbf,#a2adbf,#a2adbf,#a1adbf,#a1adc0,#a1adc0,#a0acc1,#9facc1,#9eabc2,#9cabc3,#99aac4,#95a7c6,#92a5c8,#8ea3c9,#8aa0cb,#869ecb,#839ccc,#8099cc,#7e98cc,#7d96cc,#7c96cc,#7b95cc,#7a95cc,#7a94cc,#7994cc,#7993cc,#7993cc,#7994cc,#7a94cc,#7b95cc,#7b96cc,#7d97cc,#7e98cc,#7f98cc,#8099cc,#8099cc,#819acc,#829acc,#829bcc,#829bcc,#819acc,#819acc,#819acc)"></i>
<i style="top:99px;height:1px;background:linear-gradient(90deg,#6985c9,#6985c9,#6985c9,#6985c9,#6985c9,#6985c9,#6985c9,#6985c9,#6a86c9,#6c88ca,#6f8bcb,#7490cc,#7893cc,#7c96cc,#8099cc,#859dcc,#8aa0cb,#8fa4c9,#93a6c7,#95a7c6,#97a8c5,#99a9c4,#9baac3,#9dabc2,#9eacc1,#9facc1,#a0acc1,#a0acc0,#9facc1,#9facc1,#9facc1,#9eacc1,#9eabc2,#9eabc2,#9dabc2,#9dabc2,#9cabc2,#9cabc3,#9cabc3,#9baac3,#9baac3,#9baac3,#9aaac4,#9aaac4,#99a9c4,#98a9c5,#97a8c5,#96a8c6,#93a6c7,#90a4c9,#8ca1ca,#889fcb,#859dcc,#819acc,#7e98cc,#7c96cc,#7a94cc,#7893cc,#7892cc,#7792cc,#7691cc,#7691cc,#7591cc,#7590cc,#7590cc,#7691cc,#7691cc,#7792cc,#7892cc,#7993cc,#7a94cc,#7b95cc,#7b95cc,#7c96cc,#7c96cc,#7d97cc,#7d97cc,#7d97cc,#7d96cc,#7c96cc,#7c96cc)"></i>
<i style="top:100px;height:1px;background:linear-gradient(90deg,#627ec6,#627ec6,#627ec6,#627ec6,#627ec6,#627ec6,#627ec6,#627ec7,#627ec7,#6480c7,#6783c8,#6b87ca,#6e8aca,#718dcb,#7691cc,#7b95cc,#8099cc,#859dcb,#899fcb,#8ba1ca,#8ea3c9,#90a4c8,#92a6c8,#94a7c7,#96a8c6,#97a8c5,#98a9c5,#98a9c5,#98a9c5,#97a9c5,#97a8c5,#97a8c5,#96a8c6,#96a8c6,#96a8c6,#95a8c6,#95a7c6,#95a7c6,#95a7c7,#94a7c7,#94a7c7,#94a7c7,#93a6c7,#93a6c7,#92a6c8,#92a5c8,#91a5c8,#8fa3c9,#8da2ca,#89a0cb,#869dcb,#829bcc,#7f98cc,#7c96cc,#7993cc,#7792cc,#7590cc,#748fcb,#738fcb,#738ecb,#728ecb,#728ecb,#718dcb,#718dcb,#718dcb,#728ecb,#728ecb,#738ecb,#738fcb,#7490cc,#7590cc,#7691cc,#7691cc,#7792cc,#7792cc,#7892cc,#7893cc,#7892cc,#7892cc,#7792cc,#7792cc)"></i>
<i style="top:101px;height:1px;background:linear-gradient(90deg,#5a75c3,#5a75c3,#5a75c3,#5a75c3,#5a75c3,#5a75c3,#5a75c3,#5a76c3,#5a76c3,#5c77c4,#5e7ac5,#617dc6,#6480c7,#6783c9,#6b87ca,#708ccb,#7590cc,#7a95cc,#7e98cc,#819acc,#849ccc,#879ecb,#89a0cb,#8ca1ca,#8da2c9,#8fa3c9,#8fa4c9,#90a4c9,#90a4c9,#8fa4c9,#8fa4c9,#8fa3c9,#8fa3c9,#8ea3c9,#8ea3c9,#8ea3c9,#8ea2c9,#8da2ca,#8da2ca,#8da2ca,#8da2ca,#8ca2ca,#8ca1ca,#8ca1ca,#8ba1ca,#8aa0cb,#89a0cb,#889fcb,#869dcb,#829bcc,#7f99cc,#7c96cc,#7993cc,#7691cc,#738fcb,#718dcb,#708ccb,#6f8bcb,#6f8bcb,#6e8aca,#6e8aca,#6d89ca,#6d89ca,#6d89ca,#6d89ca,#6d89ca,#6e8aca,#6e8aca,#6f8bcb,#6f8bcb,#708ccb,#718dcb,#718dcb,#718dcb,#728ecb,#728ecb,#728ecb,#728ecb,#728ecb,#728ecb,#728ecb)"></i>
<i style="top:102px;height:1px;background:linear-gradient(90deg,#536dbe,#536dbe,#536dbe,#536dbe,#536dbe,#536dbe,#536dbe,#536dbe,#536dbe,#546fbf,#5671c1,#5873c2,#5b76c3,#5d79c5,#617dc6,#6682c8,#6b87ca,#708ccb,#738fcb,#7691cc,#7994cc,#7c96cc,#7f99cc,#829bcc,#849ccc,#859dcb,#869ecb,#879ecb,#879ecb,#879ecb,#869ecb,#869ecb,#869dcb,#869dcb,#859dcb,#859dcb,#859dcc,#859dcc,#859dcc,#849ccc,#849ccc,#849ccc,#849ccc,#839ccc,#839ccc,#829bcc,#819acc,#8099cc,#7e98cc,#7b95cc,#7893cc,#7590cc,#728ecb,#708ccb,#6e8aca,#6c88ca,#6a86c9,#6a86c9,#6985c9,#6985c9,#6985c9,#6884c9,#6884c9,#6884c9,#6884c9,#6884c9,#6985c9,#6985c9,#6985c9,#6a86c9,#6b87ca,#6b87ca,#6b87ca,#6c88ca,#6c88ca,#6c88ca,#6d89ca,#6c88ca,#6c88ca,#6c88ca,#6c88ca)"></i>
<i style="top:103px;height:1px;background:linear-gradient(90deg,#4b64b9,#4b64b9,#4b64b9,#4b64b9,#4b64b9,#4b64b9,#4b65b9,#4b65b9,#4c65b9,#4d66ba,#4e68bb,#506abc,#526cbe,#546fbf,#5773c1,#5c77c4,#607cc6,#6581c8,#6985c9,#6c88ca,#6f8bcb,#728ecb,#7590cc,#7792cc,#7a94cc,#7b95cc,#7c96cc,#7d97cc,#7d97cc,#7d97cc,#7d97cc,#7d96cc,#7c96cc,#7c96cc,#7c96cc,#7c96cc,#7c96cc,#7b95cc,#7b95cc,#7b95cc,#7b95cc,#7b95cc,#7b95cc,#7a95cc,#7a94cc,#7994cc,#7893cc,#7792cc,#7691cc,#738fcb,#708ccb,#6e8aca,#6b87ca,#6985c9,#6783c8,#6581c8,#6480c7,#6480c7,#637fc7,#637fc7,#637fc7,#637fc7,#637fc7,#627ec7,#627ec7,#637fc7,#637fc7,#637fc7,#6480c7,#6480c7,#6581c8,#6581c8,#6581c8,#6581c8,#6682c8,#6682c8,#6682c8,#6682c8,#6682c8,#6682c8,#6682c8)"></i>
<i style="top:104px;height:1px;background:linear-gradient(90deg,#445cb3,#445cb3,#445cb3,#445cb3,#445cb3,#445cb3,#445cb3,#445cb3,#445cb3,#455db3,#465eb5,#4860b6,#4962b7,#4c65b9,#4f68bb,#526dbe,#5671c1,#5b76c3,#5e7ac5,#617dc6,#6480c7,#6783c9,#6a86c9,#6d89ca,#6f8bcb,#718dcb,#728ecb,#738ecb,#738ecb,#738ecb,#728ecb,#728ecb,#728ecb,#728ecb,#728ecb,#728dcb,#728dcb,#718dcb,#718dcb,#718dcb,#718dcb,#718dcb,#718dcb,#718dcb,#708ccb,#708ccb,#6f8bcb,#6e8aca,#6c88ca,#6a86c9,#6884c9,#6682c8,#6480c7,#627ec6,#607cc6,#5f7ac5,#5e79c5,#5d79c4,#5d79c4,#5d78c4,#5c78c4,#5c78c4,#5c78c4,#5c78c4,#5c78c4,#5c78c4,#5d78c4,#5d79c4,#5d79c4,#5d79c5,#5e7ac5,#5e7ac5,#5e7ac5,#5e7ac5,#5f7bc5,#5f7bc5,#5f7bc5,#5f7bc5,#5f7bc5,#5f7bc5,#5f7bc5)"></i>
<i style="top:105px;height:1px;background:linear-gradient(90deg,#3e54ac,#3e54ac,#3e54ac,#3e54ac,#3e54ac,#3e54ac,#3e54ac,#3e54ac,#3e54ac,#3f54ad,#3f56ae,#4057af,#4158b0,#435bb2,#465eb4,#4962b7,#4d66ba,#516bbd,#546ebf,#5672c1,#5975c2,#5c78c4,#5f7bc5,#617dc6,#6480c7,#6581c8,#6783c8,#6783c9,#6783c9,#6783c9,#6783c9,#6783c8,#6783c8,#6783c8,#6783c8,#6783c8,#6783c8,#6682c8,#6682c8,#6682c8,#6682c8,#6682c8,#6682c8,#6682c8,#6682c8,#6581c8,#6581c8,#6480c7,#627ec7,#617dc6,#5f7bc5,#5d79c4,#5b77c3,#5975c2,#5873c2,#5772c1,#5671c1,#5671c0,#5671c0,#5570c0,#5570c0,#5570c0,#5570c0,#5570c0,#5570c0,#5570c0,#5570c0,#5671c0,#5671c0,#5671c1,#5671c1,#5672c1,#5772c1,#5772c1,#5772c1,#5772c1,#5772c1,#5772c1,#5772c1,#5772c1,#5772c1)"></i>
<i style="top:106px;height:1px;background:linear-gradient(90deg,#394ca6,#394ca6,#394ca6,#394ca6,#394ca6,#394ca6,#394ca6,#394ca6,#394ca6,#394ca6,#3a4da7,#3a4ea8,#3b4fa9,#3c51aa,#3e54ad,#4157af,#445bb2,#475fb5,#4a63b7,#4c66ba,#4f69bc,#516cbd,#546ebf,#5671c0,#5873c1,#5975c2,#5a76c3,#5b77c3,#5b77c3,#5b77c3,#5b77c3,#5b77c3,#5b76c3,#5b76c3,#5b76c3,#5b76c3,#5b76c3,#5a76c3,#5a76c3,#5a76c3,#5a76c3,#5a76c3,#5a76c3,#5a76c3,#5a75c3,#5a75c3,#5974c2,#5874c2,#5773c1,#5671c0,#556fc0,#536ebf,#526cbe,#516bbd,#506abc,#4f69bc,#4e68bb,#4e68bb,#4e68bb,#4e67bb,#4e67bb,#4e67bb,#4e67bb,#4e67bb,#4e67bb,#4e67bb,#4e67bb,#4e68bb,#4e68bb,#4e68bb,#4f68bb,#4f68bb,#4f68bb,#4f69bc,#4f69bc,#4f69bc,#4f69bc,#4f69bc,#4f69bc,#4f69bc,#4f69bc)"></i>
<i style="top:107px;height:1px;background:linear-gradient(90deg,#3445a0,#3445a0,#3445a0,#3445a0,#3445a0,#3445a0,#3445a0,#3445a0,#3445a0,#3545a1,#3546a1,#3546a2,#3647a2,#3749a4,#384ba5,#3a4ea8,#3c51aa,#3e54ad,#4057af,#4259b1,#445cb2,#465eb4,#4860b6,#4a63b7,#4b65b9,#4d66ba,#4e67bb,#4e68bb,#4e68bb,#4e68bb,#4e68bb,#4e68bb,#4e68bb,#4e68bb,#4e68bb,#4e68bb,#4e68bb,#4e68bb,#4e67bb,#4e67bb,#4e67bb,#4e67bb,#4e67bb,#4e67bb,#4e67bb,#4d67ba,#4d66ba,#4c66ba,#4c65b9,#4b64b8,#4a62b7,#4961b6,#4860b6,#475fb5,#465eb4,#455db4,#455db3,#455db3,#455cb3,#455cb3,#455cb3,#455cb3,#455cb3,#445cb3,#455cb3,#455cb3,#455cb3,#455cb3,#455db3,#455db3,#455db3,#455db3,#455db4,#455db4,#455db4,#455db4,#455db4,#455db4,#455db4,#455db4,#455db4)"></i>
<i style="top:108px;height:1px;background:linear-gradient(90deg,#31409c,#31409c,#31409c,#31409c,#31409c,#31409c,#31409c,#31409c,#31409c,#31409c,#31409c,#31409d,#32419d,#32429e,#33439f,#3445a0,#3647a2,#3749a4,#384aa5,#394ca6,#3a4ea8,#3b50a9,#3c51aa,#3d53ac,#3e54ad,#3f55ad,#4056ae,#4056ae,#4056ae,#4056ae,#4056ae,#4056ae,#4056ae,#4056ae,#4056ae,#4056ae,#4056ae,#4056ae,#4056ae,#4056ae,#4056ae,#4056ae,#4056ae,#4056ae,#4056ae,#4056ae,#3f55ae,#3f55ad,#3f55ad,#3e54ad,#3e53ac,#3d52ab,#3d52ab,#3c51aa,#3c50aa,#3c50a9,#3b50a9,#3b50a9,#3b50a9,#3b50a9,#3b4fa9,#3b4fa9,#3b4fa9,#3b4fa9,#3b4fa9,#3b4fa9,#3b50a9,#3b50a9,#3b50a9,#3b50a9,#3b50a9,#3b50a9,#3b50a9,#3b50a9,#3c50a9,#3c50aa,#3c50aa,#3c50aa,#3c50a9,#3c50a9,#3c50a9)"></i>
<i style="top:109px;height:1px;background:linear-gradient(90deg,#2f3d9a,#2f3d9a,#2f3d9a,#2f3d9a,#2f3d9a,#2f3d9a,#2f3d9a,#2f3d9a,#2f3d9a,#2f3d9a,#2f3d9a,#2f3d9a,#2f3d9a,#303d9a,#303e9a,#303e9a,#303e9b,#303f9b,#313f9b,#313f9c,#31409c,#31409c,#31409d,#32419d,#32419d,#32419d,#32419d,#32419d,#32419d,#32419d,#32419d,#32419d,#32419d,#32419d,#32419d,#32419d,#32419d,#32419d,#32419d,#32419d,#32419d,#32419d,#32419d,#32419d,#32419d,#32419d,#32419d,#32419d,#32419d,#32419d,#32419d,#32419d,#32419d,#32409d,#31409d,#31409d,#31409c,#31409c,#31409c,#31409c,#31409c,#31409c,#31409c,#31409c,#31409c,#31409c,#31409c,#31409c,#31409c,#31409c,#31409c,#31409c,#31409c,#31409d,#31409d,#31409d,#31409d,#31409d,#31409d,#31409d,#31409d)"></i>
<i style="top:110px;height:1px;background:linear-gradient(90deg,#2f3d9a,#2f3d9a,#2f3d9a,#2f3d9a,#2f3d9a,#2f3d9a,#2f3d9a,#2f3d9a,#2f3d9a,#2f3d9a,#2f3d9a,#2f3d9a,#2f3d9a,#2f3d9a,#2f3d9a,#2f3d9a,#2f3d9a,#2f3d9a,#2f3d9a,#2f3d9a,#2f3d9a,#2f3d9a,#2f3d9a,#2f3d9a,#2f3d9a,#2f3d9a,#2f3d9a,#2f3d9a,#2f3d9a,#2f3d9a,#2f3d9a,#2f3d9a,#2f3d9a,#2f3d9a,#2f3d9a,#2f3d9a,#2f3d9a,#2f3d9a,#2f3d9a,#2f3d9a,#2f3d9a,#2f3d9a,#2f3d9a,#2f3d9a,#2f3d9a,#2f3d9a,#2f3d9a,#2f3d9a,#2f3d9a,#2f3d9a,#2f3d9a,#2f3d9a,#2f3d9a,#2f3d9a,#2f3d9a,#2f3d9a,#2f3d9a,#2f3d9a,#2f3d9a,#2f3d9a,#2f3d9a,#2f3d9a,#2f3d9a,#2f3d9a,#2f3d9a,#2f3d9a,#2f3d9a,#2f3d9a,#2f3d9a,#2f3d9a,#2f3d9a,#2f3d9a,#2f3d9a,#2f3d9a,#2f3d9a,#2f3d9a,#2f3d9a,#2f3d9a,#2f3d9a,#2f3d9a,#2f3d9a)"></i>
<i style="top:111px;height:1px;background:linear-gradient(90deg,#2f3d9a,#2f3d9a,#2f3d9a,#2f3d9a,#2f3d9a,#2f3d9a,#2f3d9a,#2f3d9a,#2f3d9a,#2f3d9a,#2f3d9a,#2f3d9a,#2f3d9a,#2f3d9a,#2f3d9a,#2f3d9a,#2f3d9a,#2f3d9a,#2f3d9a,#2f3d9a,#2f3d9a,#2f3d9a,#2f3d9a,#2f3d9a,#2f3d9a,#2f3d9a,#2f3d9a,#2f3d9a,#2f3d9a,#2f3d9a,#2f3d9a,#2f3d9a,#2f3d9a,#2f3d9a,#2f3d9a,#2f3d9a,#2f3d9a,#2f3d9a,#2f3d9a,#2f3d9a,#2f3d9a,#2f3d9a,#2f3d9a,#2f3d9a,#2f3d9a,#2f3d9a,#2f3d9a,#2f3d9a,#2f3d9a,#2f3d9a,#2f3d9a,#2f3d9a,#2f3d9a,#2f3d9a,#2f3d9a,#2f3d9a,#2f3d9a,#2f3d9a,#2f3d9a,#2f3d9a,#2f3d9a,#2f3d9a,#2f3d9a,#2f3d9a,#2f3d9a,#2f3d9a,#2f3d9a,#2f3d9a,#2f3d9a,#2f3d9a,#2f3d9a,#2f3d9a,#2f3d9a,#2f3d9a,#2f3d9a,#2f3d9a,#2f3d9a,#2f3d9a,#2f3d9a,#2f3d9a,#2f3d9a)"></i>
<i style="top:112px;height:1px;background:linear-gradient(90deg,#2f3d9a,#2f3d9a,#2f3d9a,#2f3d9a,#2f3d9a,#2f3d9a,#2f3d9a,#2f3d9a,#2f3d9a,#2f3d9a,#2f3d9a,#2f3d9a,#2f3d9a,#2f3d9a,#2f3d9a,#2f3d9a,#2f3d9a,#2f3d9a,#2f3d9a,#2f3d9a,#2f3d9a,#2f3d9a,#2f3d9a,#2f3d9a,#2f3d9a,#2f3d9a,#2f3d9a,#2f3d9a,#2f3d9a,#2f3d9a,#2f3d9a,#2f3d9a,#2f3d9a,#2f3d9a,#2f3d9a,#2f3d9a,#2f3d9a,#2f3d9a,#2f3d9a,#2f3d9a,#2f3d9a,#2f3d9a,#2f3d9a,#2f3d9a,#2f3d9a,#2f3d9a,#2f3d9a,#2f3d9a,#2f3d9a,#2f3d9a,#2f3d9a,#2f3d9a,#2f3d9a,#2f3d9a,#2f3d9a,#2f3d9a,#2f3d9a,#2f3d9a,#2f3d9a,#2f3d9a,#2f3d9a,#2f3d9a,#2f3d9a,#2f3d9a,#2f3d9a,#2f3d9a,#2f3d9a,#2f3d9a,#2f3d9a,#2f3d9a,#2f3d9a,#2f3d9a,#2f3d9a,#2f3d9a,#2f3d9a,#2f3d9a,#2f3d9a,#2f3d9a,#2f3d9a,#2f3d9a,#2f3d9a)"></i>
</div></div>
<div class="cyl" style="left:56px;top:57.65px;width:26px;height:26px"></div>
<div class="cyl" style="left:56px;top:172.65px;width:26px;height:26px"></div>
<div class="k" style="left:15.70px;top:13.80px;width:1px;height:2.2px;background:#c8c8c8"></div>
<div class="t" style="left:16.20px;top:12.00px;font-size:5.5px;line-height:5.5px;color:#333;transform:translate(-50%,-50%);">0</div>
<div class="k" style="left:68.00px;top:13.80px;width:1px;height:2.2px;background:#c8c8c8"></div>
<div class="t" style="left:68.50px;top:12.00px;font-size:5.5px;line-height:5.5px;color:#333;transform:translate(-50%,-50%);">2</div>
<div class="k" style="left:120.30px;top:13.80px;width:1px;height:2.2px;background:#c8c8c8"></div>
<div class="t" style="left:120.80px;top:12.00px;font-size:5.5px;line-height:5.5px;color:#333;transform:translate(-50%,-50%);">4</div>
<div class="k" style="left:172.60px;top:13.80px;width:1px;height:2.2px;background:#c8c8c8"></div>
<div class="t" style="left:173.10px;top:12.00px;font-size:5.5px;line-height:5.5px;color:#333;transform:translate(-50%,-50%);">6</div>
<div class="k" style="left:224.90px;top:13.80px;width:1px;height:2.2px;background:#c8c8c8"></div>
<div class="t" style="left:225.40px;top:12.00px;font-size:5.5px;line-height:5.5px;color:#333;transform:translate(-50%,-50%);">8</div>
<div class="k" style="left:277.20px;top:13.80px;width:1px;height:2.2px;background:#c8c8c8"></div>
<div class="t" style="left:277.70px;top:12.00px;font-size:5.5px;line-height:5.5px;color:#333;transform:translate(-50%,-50%);">10</div>
<div class="k" style="left:329.50px;top:13.80px;width:1px;height:2.2px;background:#c8c8c8"></div>
<div class="t" style="left:330.00px;top:12.00px;font-size:5.5px;line-height:5.5px;color:#333;transform:translate(-50%,-50%);">12</div>
<div class="t" style="left:173.10px;top:6.90px;font-size:5.5px;line-height:5.5px;color:#333;transform:translate(-50%,-50%);">X</div>
<div class="k" style="left:15.70px;top:128.80px;width:1px;height:2.2px;background:#c8c8c8"></div>
<div class="t" style="left:16.20px;top:127.60px;font-size:5.5px;line-height:5.5px;color:#333;transform:translate(-50%,-50%);">0</div>
<div class="k" style="left:68.00px;top:128.80px;width:1px;height:2.2px;background:#c8c8c8"></div>
<div class="t" style="left:68.50px;top:127.60px;font-size:5.5px;line-height:5.5px;color:#333;transform:translate(-50%,-50%);">2</div>
<div class="k" style="left:120.30px;top:128.80px;width:1px;height:2.2px;background:#c8c8c8"></div>
<div class="t" style="left:120.80px;top:127.60px;font-size:5.5px;line-height:5.5px;color:#333;transform:translate(-50%,-50%);">4</div>
<div class="k" style="left:172.60px;top:128.80px;width:1px;height:2.2px;background:#c8c8c8"></div>
<div class="t" style="left:173.10px;top:127.60px;font-size:5.5px;line-height:5.5px;color:#333;transform:translate(-50%,-50%);">6</div>
<div class="k" style="left:224.90px;top:128.80px;width:1px;height:2.2px;background:#c8c8c8"></div>
<div class="t" style="left:225.40px;top:127.60px;font-size:5.5px;line-height:5.5px;color:#333;transform:translate(-50%,-50%);">8</div>
<div class="k" style="left:277.20px;top:128.80px;width:1px;height:2.2px;background:#c8c8c8"></div>
<div class="t" style="left:277.70px;top:127.60px;font-size:5.5px;line-height:5.5px;color:#333;transform:translate(-50%,-50%);">10</div>
<div class="k" style="left:329.50px;top:128.80px;width:1px;height:2.2px;background:#c8c8c8"></div>
<div class="t" style="left:330.00px;top:127.60px;font-size:5.5px;line-height:5.5px;color:#333;transform:translate(-50%,-50%);">12</div>
<div class="k" style="left:15.70px;top:237.70px;width:1px;height:2.2px;background:#c8c8c8"></div>
<div class="t" style="left:16.20px;top:243.20px;font-size:5.5px;line-height:5.5px;color:#333;transform:translate(-50%,-50%);">0</div>
<div class="k" style="left:68.00px;top:237.70px;width:1px;height:2.2px;background:#c8c8c8"></div>
<div class="t" style="left:68.50px;top:243.20px;font-size:5.5px;line-height:5.5px;color:#333;transform:translate(-50%,-50%);">2</div>
<div class="k" style="left:120.30px;top:237.70px;width:1px;height:2.2px;background:#c8c8c8"></div>
<div class="t" style="left:120.80px;top:243.20px;font-size:5.5px;line-height:5.5px;color:#333;transform:translate(-50%,-50%);">4</div>
<div class="k" style="left:172.60px;top:237.70px;width:1px;height:2.2px;background:#c8c8c8"></div>
<div class="t" style="left:173.10px;top:243.20px;font-size:5.5px;line-height:5.5px;color:#333;transform:translate(-50%,-50%);">6</div>
<div class="k" style="left:224.90px;top:237.70px;width:1px;height:2.2px;background:#c8c8c8"></div>
<div class="t" style="left:225.40px;top:243.20px;font-size:5.5px;line-height:5.5px;color:#333;transform:translate(-50%,-50%);">8</div>
<div class="k" style="left:277.20px;top:237.70px;width:1px;height:2.2px;background:#c8c8c8"></div>
<div class="t" style="left:277.70px;top:243.20px;font-size:5.5px;line-height:5.5px;color:#333;transform:translate(-50%,-50%);">10</div>
<div class="k" style="left:329.50px;top:237.70px;width:1px;height:2.2px;background:#c8c8c8"></div>
<div class="t" style="left:330.00px;top:243.20px;font-size:5.5px;line-height:5.5px;color:#333;transform:translate(-50%,-50%);">12</div>
<div class="t" style="left:173.10px;top:246.90px;font-size:5.5px;line-height:5.5px;color:#333;transform:translate(-50%,-50%);">X</div>
<div class="t" style="left:15.80px;top:19.60px;font-size:5.5px;line-height:5.5px;color:#333;transform:translate(-100%,-50%);">4</div>
<div class="t" style="left:15.20px;top:70.95px;font-size:5.5px;line-height:5.5px;color:#333;transform:translate(-100%,-50%);">2</div>
<div class="t" style="left:11.20px;top:68.95px;font-size:6.5px;line-height:6.5px;color:#333;transform:translate(-100%,-50%);">Y</div>
<div class="t" style="left:15.20px;top:123.80px;font-size:5.5px;line-height:5.5px;color:#333;transform:translate(-100%,-50%);">0</div>
<div class="t" style="left:332.50px;top:18.90px;font-size:5.5px;line-height:5.5px;color:#333;transform:translate(0,-50%);">4</div>
<div class="t" style="left:332.20px;top:71.05px;font-size:5.5px;line-height:5.5px;color:#333;transform:translate(0,-50%);">2</div>
<div class="t" style="left:335.20px;top:69.25px;font-size:6.5px;line-height:6.5px;color:#333;transform:translate(0,-50%);">Y</div>
<div class="t" style="left:332.20px;top:123.00px;font-size:5.5px;line-height:5.5px;color:#333;transform:translate(0,-50%);">0</div>
<div class="t" style="left:15.80px;top:134.60px;font-size:5.5px;line-height:5.5px;color:#333;transform:translate(-100%,-50%);">4</div>
<div class="t" style="left:15.20px;top:185.95px;font-size:5.5px;line-height:5.5px;color:#333;transform:translate(-100%,-50%);">2</div>
<div class="t" style="left:11.20px;top:183.95px;font-size:6.5px;line-height:6.5px;color:#333;transform:translate(-100%,-50%);">Y</div>
<div class="t" style="left:15.20px;top:238.80px;font-size:5.5px;line-height:5.5px;color:#333;transform:translate(-100%,-50%);">0</div>
<div class="t" style="left:332.50px;top:133.90px;font-size:5.5px;line-height:5.5px;color:#333;transform:translate(0,-50%);">4</div>
<div class="t" style="left:332.20px;top:186.05px;font-size:5.5px;line-height:5.5px;color:#333;transform:translate(0,-50%);">2</div>
<div class="t" style="left:335.20px;top:184.25px;font-size:6.5px;line-height:6.5px;color:#333;transform:translate(0,-50%);">Y</div>
<div class="t" style="left:332.20px;top:238.00px;font-size:5.5px;line-height:5.5px;color:#333;transform:translate(0,-50%);">0</div>
<div class="k" style="left:357px;top:74.7px;width:7px;height:99.3px;background:linear-gradient(180deg,#b40426,#ba162b,#c0282f,#c63434,#cb3f38,#d0483d,#d55143,#da5948,#de614e,#e26953,#e67159,#e9795e,#ec8064,#ef876a,#f18e70,#f39576,#f49c7d,#f6a283,#f7a889,#f7ad8f,#f7b396,#f7b89c,#f7bda2,#f6c1a9,#f4c6af,#f2cab5,#f0cdbb,#edd1c2,#ead4c8,#e7d7ce,#e3d9d4,#dfdcda,#dbdcdf,#d7dbe4,#d3dae8,#ced9ec,#c9d8f0,#c4d6f3,#bfd3f6,#bad1f8,#b5cefa,#b0cafc,#aac7fe,#a5c3ff,#9fbfff,#9abaff,#94b6ff,#8eb1fe,#89acfd,#83a6fb,#7ea1f9,#789bf7,#7295f5,#6d8ff1,#6889ee,#6383ea,#5d7ce6,#5876e1,#526fdc,#4d68d7,#4961d2,#445acc,#4053c6,#3b4cc0)"></div>
<div class="k" style="left:362.00px;top:74.20px;width:5.5px;height:1px;background:#bbb"></div>
<div class="t" style="left:370.00px;top:74.70px;font-size:7.8px;line-height:7.8px;color:#444;transform:translate(0,-50%);">2.2</div>
<div class="k" style="left:362.00px;top:90.37px;width:5.5px;height:1px;background:#bbb"></div>
<div class="t" style="left:370.00px;top:90.87px;font-size:7.8px;line-height:7.8px;color:#444;transform:translate(0,-50%);">1.8</div>
<div class="k" style="left:362.00px;top:99.60px;width:5.5px;height:1px;background:#bbb"></div>
<div class="t" style="left:370.00px;top:100.10px;font-size:7.8px;line-height:7.8px;color:#444;transform:translate(0,-50%);">1.6</div>
<div class="k" style="left:362.00px;top:108.84px;width:5.5px;height:1px;background:#bbb"></div>
<div class="t" style="left:370.00px;top:109.34px;font-size:7.8px;line-height:7.8px;color:#444;transform:translate(0,-50%);">1.4</div>
<div class="k" style="left:362.00px;top:118.08px;width:5.5px;height:1px;background:#bbb"></div>
<div class="t" style="left:370.00px;top:118.58px;font-size:7.8px;line-height:7.8px;color:#444;transform:translate(0,-50%);">1.2</div>
<div class="k" style="left:362.00px;top:127.31px;width:5.5px;height:1px;background:#bbb"></div>
<div class="t" style="left:370.00px;top:127.81px;font-size:7.8px;line-height:7.8px;color:#444;transform:translate(0,-50%);">1</div>
<div class="k" style="left:362.00px;top:136.55px;width:5.5px;height:1px;background:#bbb"></div>
<div class="t" style="left:370.00px;top:137.05px;font-size:7.8px;line-height:7.8px;color:#444;transform:translate(0,-50%);">0.8</div>
<div class="k" style="left:362.00px;top:145.79px;width:5.5px;height:1px;background:#bbb"></div>
<div class="t" style="left:370.00px;top:146.29px;font-size:7.8px;line-height:7.8px;color:#444;transform:translate(0,-50%);">0.6</div>
<div class="k" style="left:362.00px;top:155.03px;width:5.5px;height:1px;background:#bbb"></div>
<div class="t" style="left:370.00px;top:155.53px;font-size:7.8px;line-height:7.8px;color:#444;transform:translate(0,-50%);">0.4</div>
<div class="k" style="left:362.00px;top:164.26px;width:5.5px;height:1px;background:#bbb"></div>
<div class="t" style="left:370.00px;top:164.76px;font-size:7.8px;line-height:7.8px;color:#444;transform:translate(0,-50%);">0.2</div>
<div class="k" style="left:362.00px;top:173.50px;width:5.5px;height:1px;background:#bbb"></div>
<div class="t" style="left:370.00px;top:174.00px;font-size:7.8px;line-height:7.8px;color:#444;transform:translate(0,-50%);">0.0</div>
<div class="cap" style="left:195px;top:261px"><span class="p">(</span><b>a</b><span class="p">)</span></div>
<div class="fw" style="left:13px;top:291px;width:311px;height:106px">
<div class="fi" style="left:-3px;top:-3px;width:317px;height:112px;filter:blur(0.9px)">
<i style="top:0px;height:2px;background:linear-gradient(90deg,#c39e8c,#c39e8c,#c39e8c,#c39e8c,#c39e8d,#c39f8d,#c39f8e,#c2a090,#c1a292,#c0a495,#bea79a,#bca99f,#b8aca5,#b5aeaa,#b2b0af,#b0b1b2,#aeb0b4,#adb0b5,#acb0b6,#acb0b7,#abafb7,#abafb7,#abafb7,#abafb7,#abafb7,#abafb7,#abafb7,#abafb7,#abafb7,#abafb7,#abafb7,#abafb7,#abafb7,#abafb8,#abafb8,#abafb8,#abafb8,#abafb8,#abafb8,#abafb8,#abafb8,#abafb7,#abafb7,#abafb7,#acafb7,#acb0b6,#adb0b5,#aeb0b4,#afb0b3,#b0b1b2,#b1b0b0,#b3b0ae,#b4afac,#b5aeaa,#b6aea9,#b7ada8,#b7ada8,#b6ada9,#b5aeaa,#b4afac,#b3b0ae,#b1b0b0,#b0b1b2,#afb0b3,#adb0b5,#acb0b6,#acb0b7,#abafb7,#abafb8,#aaafb8,#aaafb8,#aaafb9,#aaafb9,#a9afb9,#a9afb9,#a9afb9,#aaafb9,#aaafb9,#aaafb9,#aaafb9,#aaafb9)"></i>
<i style="top:2px;height:2px;background:linear-gradient(90deg,#c39e8c,#c39e8c,#c39e8c,#c39e8c,#c39e8d,#c39f8d,#c39f8e,#c2a090,#c2a292,#c0a495,#bea79a,#bca99f,#b8aca5,#b5aeaa,#b2b0af,#b0b1b2,#aeb0b4,#adb0b5,#acb0b6,#acb0b7,#abafb7,#abafb7,#abafb7,#abafb7,#abafb7,#abafb7,#abafb7,#abafb7,#abafb7,#abafb7,#abafb7,#abafb7,#abafb7,#abafb8,#abafb8,#abafb8,#abafb8,#abafb8,#abafb8,#abafb8,#abafb8,#abafb7,#abafb7,#abafb7,#acafb7,#acb0b6,#adb0b5,#aeb0b4,#afb0b3,#b0b1b2,#b1b0b0,#b3b0ae,#b4afac,#b5aeaa,#b6ada9,#b7ada8,#b7ada8,#b6ada8,#b6aeaa,#b4afab,#b3afad,#b2b0b0,#b0b1b2,#afb0b3,#adb0b5,#acb0b6,#acb0b7,#abafb7,#abafb8,#aaafb8,#aaafb9,#aaafb9,#aaafb9,#a9afb9,#a9afb9,#a9afb9,#a9afb9,#aaafb9,#aaafb9,#aaafb9,#aaafb9)"></i>
<i style="top:4px;height:2px;background:linear-gradient(90deg,#c39e8c,#c39e8c,#c39e8c,#c39e8c,#c39e8c,#c39e8d,#c39f8e,#c2a08f,#c2a292,#c0a495,#bfa69a,#bca99f,#b9aca5,#b5aeaa,#b2b0af,#b0b1b2,#aeb0b4,#adb0b5,#acb0b6,#acafb7,#abafb7,#abafb7,#abafb7,#abafb7,#abafb7,#abafb7,#abafb7,#abafb7,#abafb7,#abafb7,#abafb7,#abafb7,#abafb7,#abafb8,#abafb8,#abafb8,#abafb8,#abafb8,#abafb8,#abafb8,#abafb8,#abafb7,#abafb7,#abafb7,#acb0b7,#acb0b6,#adb0b5,#aeb0b4,#afb0b3,#b0b1b1,#b2b0af,#b3afad,#b5aeab,#b6aea9,#b7ada8,#b7ada7,#b8ada7,#b7ada7,#b6ada9,#b5aeaa,#b4afad,#b2b0af,#b0b1b1,#afb0b3,#aeb0b4,#adb0b6,#acb0b7,#abafb7,#aaafb8,#aaafb8,#aaafb9,#a9afb9,#a9afb9,#a9afb9,#a9afb9,#a9afb9,#a9afb9,#a9afb9,#a9afb9,#a9afb9,#a9afb9)"></i>
<i style="top:6px;height:2px;background:linear-gradient(90deg,#c49e8c,#c49e8c,#c49e8c,#c39e8c,#c39e8c,#c39e8d,#c39f8e,#c2a08f,#c2a191,#c1a495,#bfa699,#bca99f,#b9aca5,#b5aeaa,#b2b0af,#b0b0b2,#aeb0b4,#adb0b5,#acb0b6,#abafb7,#abafb7,#abafb7,#abafb7,#abafb7,#abafb7,#abafb7,#abafb7,#abafb7,#abafb7,#abafb7,#abafb7,#abafb7,#abafb7,#abafb8,#abafb8,#abafb8,#abafb8,#abafb8,#abafb8,#abafb8,#abafb8,#abafb7,#abafb7,#abafb7,#acb0b7,#acb0b6,#adb0b5,#aeb0b4,#afb0b3,#b1b1b1,#b2b0af,#b4afac,#b5aeaa,#b7ada8,#b8aca6,#b8aca6,#b8aca5,#b8aca6,#b7ada8,#b6aea9,#b4afac,#b2b0ae,#b1b1b1,#afb0b3,#aeb0b4,#adb0b5,#acb0b6,#abafb7,#aaafb8,#aaafb8,#a9afb9,#a9afb9,#a9afb9,#a9afb9,#a9afb9,#a9afb9,#a9afb9,#a9afb9,#a9afb9,#a9afb9,#a9afb9)"></i>
<i style="top:8px;height:2px;background:linear-gradient(90deg,#c49e8c,#c49e8c,#c49e8c,#c49e8c,#c39e8c,#c39e8c,#c39f8d,#c3a08f,#c2a191,#c1a394,#bfa699,#bca99e,#b9aca4,#b5aeaa,#b2b0af,#b0b0b2,#aeb0b4,#acb0b6,#acafb7,#abafb7,#abafb8,#abafb8,#abafb8,#abafb8,#abafb8,#abafb7,#abafb7,#abafb7,#abafb7,#abafb7,#abafb7,#abafb7,#abafb7,#abafb8,#abafb8,#abafb8,#abafb8,#abafb8,#abafb8,#abafb8,#abafb8,#abafb7,#abafb7,#abafb7,#acb0b6,#acb0b6,#adb0b5,#aeb0b4,#afb0b2,#b1b1b1,#b3b0ae,#b4afab,#b6aea9,#b7ada7,#b8aca5,#b9aca5,#b9aca4,#b8aca5,#b8ada7,#b6ada9,#b5aeab,#b3afae,#b1b1b0,#b0b0b2,#aeb0b4,#adb0b5,#acb0b6,#abafb7,#aaafb8,#aaafb9,#a9afb9,#a9afb9,#a9afb9,#a9afb9,#a9afb9,#a9afb9,#a9afb9,#a9afb9,#a9afb9,#a9afb9,#a9afb9)"></i>
<i style="top:10px;height:2px;background:linear-gradient(90deg,#c49e8c,#c49e8c,#c49e8c,#c49e8b,#c49e8c,#c49e8c,#c39e8d,#c39f8e,#c2a190,#c1a394,#bfa698,#bda99e,#b9aba4,#b5aeaa,#b2b0af,#afb0b2,#adb0b5,#acb0b6,#abafb7,#abafb8,#aaafb8,#aaafb8,#aaafb8,#abafb8,#abafb8,#abafb7,#abafb7,#abafb7,#abafb7,#abafb7,#abafb7,#abafb7,#abafb7,#abafb8,#abafb8,#abafb8,#abafb8,#abafb8,#abafb8,#abafb8,#abafb8,#abafb7,#abafb7,#abafb7,#acb0b6,#acb0b6,#adb0b5,#aeb0b4,#b0b1b2,#b1b1b0,#b3afae,#b5aeab,#b6ada8,#b8aca6,#b9aca5,#b9aba4,#b9aba4,#b9aca4,#b8aca6,#b7ada8,#b5aeaa,#b3afad,#b1b0b0,#b0b1b2,#aeb0b4,#adb0b5,#acb0b7,#abafb8,#aaafb8,#a9afb9,#a9afb9,#a9afba,#a8afba,#a8afba,#a9afba,#a9afb9,#a9afb9,#a9afb9,#a9afb9,#a9afb9,#a9afb9)"></i>
<i style="top:12px;height:2px;background:linear-gradient(90deg,#c49d8b,#c49d8b,#c49d8b,#c49d8b,#c49d8b,#c49d8b,#c39e8c,#c39f8d,#c2a08f,#c1a293,#bfa597,#bda99d,#b9aba4,#b6aeaa,#b2b0af,#afb0b2,#adb0b5,#acb0b7,#abafb8,#aaafb8,#aaafb9,#aaafb9,#aaafb8,#aaafb8,#abafb8,#abafb8,#abafb7,#abafb7,#abafb7,#abafb7,#abafb7,#abafb7,#abafb7,#abafb8,#abafb8,#abafb8,#abafb8,#abafb8,#abafb8,#abafb8,#abafb8,#abafb7,#abafb7,#abafb7,#acb0b6,#acb0b6,#adb0b5,#aeb0b4,#b0b1b2,#b1b0b0,#b3afad,#b5aeab,#b7ada8,#b8aca6,#b9aba4,#baaba3,#baaba3,#b9aba4,#b8aca5,#b7ada7,#b5aeaa,#b3afad,#b2b0b0,#b0b1b2,#aeb0b4,#adb0b5,#acb0b7,#abafb8,#aaafb9,#a9afb9,#a8afba,#a8afba,#a8afba,#a8afba,#a8afba,#a8afba,#a9afb9,#a9afb9,#a9afb9,#a9afb9,#a9afb9)"></i>
<i style="top:14px;height:2px;background:linear-gradient(90deg,#c49d8b,#c49d8b,#c49d8b,#c49d8b,#c49d8b,#c49d8b,#c49d8b,#c39e8c,#c3a08e,#c2a292,#c0a597,#bda89d,#baaba3,#b6aea9,#b2b0af,#afb0b3,#adb0b5,#abafb7,#aaafb8,#a9afb9,#a9afb9,#a9afb9,#a9afb9,#aaafb9,#aaafb8,#abafb8,#abafb7,#abafb7,#abafb7,#abafb7,#abafb7,#abafb7,#abafb7,#abafb8,#abafb8,#abafb8,#abafb8,#abafb8,#abafb8,#abafb8,#abafb8,#abafb7,#abafb7,#abafb7,#acb0b7,#acb0b6,#adb0b5,#aeb0b4,#b0b1b2,#b1b0b0,#b3afad,#b5aeaa,#b7ada8,#b8aca5,#b9aba4,#baaba3,#baaba2,#baaba3,#b9aca5,#b7ada7,#b6aeaa,#b4afad,#b2b0af,#b0b1b2,#aeb0b4,#adb0b5,#abafb7,#aaafb8,#a9afb9,#a8afba,#a8afbb,#a7aebb,#a7aebb,#a7aebb,#a8afbb,#a8afba,#a8afba,#a9afb9,#a9afb9,#a9afb9,#a9afb9)"></i>
<i style="top:16px;height:2px;background:linear-gradient(90deg,#c49d8b,#c49d8b,#c49d8b,#c49d8a,#c49c8a,#c49c8a,#c49d8a,#c49d8b,#c39f8d,#c2a191,#c0a496,#bea89c,#baaba2,#b6aea9,#b2b0af,#afb0b3,#acb0b6,#aaafb8,#a9afb9,#a8afba,#a7afbb,#a8afba,#a8afba,#a9afb9,#aaafb8,#abafb8,#abafb7,#acb0b7,#acb0b7,#abafb7,#abafb7,#abafb7,#abafb7,#abafb8,#abafb8,#abafb8,#abafb8,#abafb8,#abafb8,#abafb8,#abafb8,#abafb7,#abafb7,#abafb7,#acafb7,#acb0b6,#adb0b5,#aeb0b4,#b0b0b2,#b1b0b0,#b3afad,#b5aeaa,#b7ada7,#b8aca5,#b9aba3,#baaba2,#baaba2,#baaba3,#b9aca5,#b7ada7,#b6aeaa,#b4afac,#b2b0af,#b0b1b2,#aeb0b4,#adb0b6,#abafb7,#aaafb9,#a9afba,#a7afbb,#a7aebb,#a6aebc,#a6aebc,#a6aebc,#a7aebb,#a7afbb,#a8afba,#a9afba,#a9afb9,#a9afb9,#a9afb9)"></i>
<i style="top:18px;height:2px;background:linear-gradient(90deg,#c49d8b,#c49d8b,#c49d8a,#c49c89,#c49c89,#c49c89,#c49c89,#c49c8a,#c49e8c,#c2a08f,#c1a394,#bea79b,#baaba2,#b6ada9,#b2b0af,#aeb0b4,#abafb7,#a9afb9,#a7aebb,#a6aebc,#a6aebc,#a6aebc,#a7aebb,#a8afba,#aaafb9,#abafb7,#acb0b6,#acb0b6,#acb0b6,#acb0b6,#abafb7,#abafb7,#abafb7,#abafb8,#abafb8,#abafb8,#abafb8,#abafb8,#abafb8,#abafb8,#abafb8,#abafb8,#abafb7,#abafb7,#abafb7,#acb0b6,#adb0b5,#aeb0b4,#afb0b3,#b1b1b0,#b3afad,#b5aeaa,#b7ada8,#b8aca5,#b9aba3,#baaba2,#baaba2,#baaba3,#b9aca5,#b7ada7,#b6aeaa,#b4afac,#b2b0af,#b0b1b2,#aeb0b4,#acb0b6,#abafb8,#a9afb9,#a8afba,#a7aebb,#a6aebc,#a5aebd,#a5aebd,#a5aebd,#a6aebc,#a7aebb,#a7afbb,#a8afba,#a9afba,#a9afb9,#a9afb9)"></i>
<i style="top:20px;height:2px;background:linear-gradient(90deg,#c49d8a,#c49d8a,#c49c89,#c49c89,#c49b88,#c49b87,#c49b87,#c49b88,#c49d8a,#c39f8e,#c1a293,#bfa699,#bbaaa1,#b6ada8,#b2b0af,#aeb0b4,#aaafb8,#a7afbb,#a5aebd,#a4aebe,#a3aebe,#a4aebe,#a5aebd,#a7aebb,#a9afb9,#abafb7,#adb0b5,#adb0b5,#adb0b5,#adb0b6,#acb0b6,#abafb7,#abafb7,#abafb8,#abafb8,#abafb8,#abafb8,#abafb8,#abafb8,#abafb8,#abafb8,#abafb8,#abafb8,#abafb8,#abafb7,#abafb7,#acb0b6,#adb0b5,#afb0b3,#b1b1b1,#b3b0ae,#b5aeab,#b7ada8,#b8aca5,#b9aba4,#baaba3,#baaba2,#baaba3,#b9aca5,#b7ada7,#b6aeaa,#b4afad,#b2b0b0,#b0b1b2,#aeb0b4,#acb0b6,#aaafb8,#a9afba,#a7aebb,#a5aebc,#a4aebd,#a4aebe,#a4aebe,#a4aebe,#a5aebd,#a6aebc,#a7aebb,#a8afba,#a8afba,#a9afb9,#a9afb9)"></i>
<i style="top:22px;height:2px;background:linear-gradient(90deg,#c49c8a,#c49c8a,#c49c89,#c49b88,#c59a86,#c59986,#c59985,#c59a86,#c49b88,#c49e8c,#c2a191,#bfa698,#bbaaa0,#b7ada8,#b1b0b0,#adb0b5,#a9afba,#a5aebd,#a2adbf,#a1adc0,#a0acc0,#a1adc0,#a3aebe,#a6aebc,#a9afb9,#acb0b7,#aeb0b4,#afb0b3,#afb0b3,#aeb0b4,#acb0b6,#abafb7,#abafb7,#abafb8,#abafb8,#abafb8,#abafb8,#abafb8,#abafb8,#abafb8,#abafb8,#abafb8,#abafb8,#aaafb8,#abafb8,#abafb7,#acafb7,#adb0b6,#aeb0b4,#b0b1b2,#b2b0af,#b4afab,#b6ada8,#b8aca6,#b9aba4,#baaba3,#baaba3,#b9aba4,#b8aca5,#b7ada7,#b5aeaa,#b3afad,#b1b0b0,#afb0b2,#aeb0b4,#acb0b7,#aaafb9,#a8afba,#a6aebc,#a4aebe,#a3adbf,#a2adbf,#a2adbf,#a2adbf,#a4aebe,#a5aebd,#a6aebc,#a7afbb,#a8afba,#a9afba,#a9afb9)"></i>
<i style="top:24px;height:2px;background:linear-gradient(90deg,#c49c89,#c49c89,#c49b88,#c59a86,#c59985,#c59884,#c59883,#c59884,#c59986,#c49c89,#c2a08f,#c0a596,#bca99f,#b7ada8,#b1b1b1,#acb0b7,#a7aebb,#a2adbf,#9facc1,#9dabc2,#9cabc3,#9eabc2,#a0acc0,#a4aebe,#a8afba,#adb0b6,#b0b1b2,#b1b1b0,#b1b1b1,#afb0b3,#adb0b5,#acb0b6,#abafb7,#abafb8,#abafb8,#aaafb8,#abafb8,#abafb8,#abafb8,#abafb8,#abafb8,#aaafb8,#aaafb8,#aaafb8,#aaafb8,#aaafb8,#abafb8,#acb0b7,#adb0b5,#afb0b3,#b1b0b0,#b4afac,#b6aea9,#b8ada7,#b9aca5,#b9aba4,#b9aba4,#b9aca4,#b8aca6,#b7ada8,#b5aeab,#b3afad,#b1b1b0,#afb0b3,#adb0b5,#abafb7,#a9afb9,#a7aebb,#a5aebd,#a2adbf,#a1adc0,#a0acc0,#a0acc0,#a1adc0,#a2adbf,#a4aebe,#a5aebc,#a7aebb,#a8afba,#a9afba,#a9afba)"></i>
<i style="top:26px;height:2px;background:linear-gradient(90deg,#c49c89,#c49b88,#c59a87,#c59985,#c59883,#c59782,#c59681,#c59681,#c59783,#c59a87,#c39e8d,#c1a495,#bda99e,#b7ada8,#b0b1b1,#aaafb8,#a4aebd,#9facc1,#9baac3,#98a9c5,#98a9c5,#99a9c4,#9dabc2,#a2adbf,#a8afba,#aeb0b4,#b2b0af,#b4afac,#b3afad,#b1b1b1,#aeb0b4,#acb0b6,#abafb7,#aaafb8,#aaafb8,#aaafb8,#aaafb8,#aaafb8,#abafb8,#abafb8,#aaafb8,#aaafb8,#aaafb9,#a9afb9,#a9afb9,#a9afb9,#a9afb9,#aaafb8,#acb0b6,#aeb0b4,#b1b1b1,#b3afae,#b5aeaa,#b7ada8,#b8aca6,#b9aca5,#b9aca5,#b8aca5,#b7ada7,#b6aea9,#b4afac,#b3b0ae,#b1b1b1,#afb0b3,#adb0b5,#abafb8,#a8afba,#a6aebc,#a3aebe,#a1adc0,#9facc1,#9dabc2,#9eabc2,#9facc1,#a0acc0,#a2adbf,#a4aebd,#a6aebc,#a7afbb,#a8afba,#a8afba)"></i>
<i style="top:28px;height:2px;background:linear-gradient(90deg,#c49b88,#c49b87,#c59a86,#c59884,#c59681,#c6957f,#c6947e,#c6947e,#c6957f,#c59883,#c49d8a,#c1a293,#bda89d,#b7ada8,#afb0b2,#a8afba,#a1adc0,#9aaac4,#96a8c6,#93a6c7,#92a6c8,#94a7c7,#99a9c4,#a0acc1,#a8afbb,#afb0b3,#b5aeab,#b7ada7,#b6ada9,#b3b0ae,#afb0b3,#acb0b6,#abafb8,#aaafb8,#aaafb9,#aaafb9,#aaafb8,#aaafb8,#aaafb8,#aaafb8,#aaafb8,#aaafb8,#a9afb9,#a9afba,#a8afba,#a7afbb,#a8afba,#a9afba,#abafb8,#adb0b5,#afb0b2,#b2b0af,#b4afac,#b6ada9,#b7ada7,#b8aca6,#b8aca6,#b7ada7,#b7ada8,#b5aeaa,#b4afad,#b2b0af,#b0b1b2,#aeb0b4,#acb0b6,#aaafb8,#a7afbb,#a5aebd,#a1adbf,#9eacc1,#9cabc3,#9baac3,#9baac3,#9cabc3,#9eacc1,#a1adc0,#a3aebe,#a5aebc,#a7aebb,#a8afba,#a8afba)"></i>
<i style="top:30px;height:2px;background:linear-gradient(90deg,#c49b87,#c59a87,#c59984,#c59782,#c6957f,#c6937d,#c6927b,#c6917b,#c6927c,#c69680,#c59a87,#c2a190,#bea89b,#b7ada8,#aeb0b4,#a5aebd,#9cabc3,#95a7c6,#90a4c9,#8da2ca,#8ca1ca,#8fa3c9,#94a7c7,#9dabc2,#a7aebb,#b0b1b1,#b7ada7,#baaba2,#b9aba4,#b5aeab,#b0b1b1,#adb0b6,#aaafb8,#a9afb9,#a9afb9,#a9afb9,#a9afb9,#aaafb9,#aaafb8,#aaafb8,#aaafb8,#a9afb9,#a9afba,#a8afbb,#a6aebc,#a6aebc,#a6aebc,#a7aebb,#a8afba,#abafb7,#aeb0b4,#b1b1b1,#b3afad,#b5aeaa,#b6ada8,#b7ada7,#b7ada7,#b7ada8,#b6aeaa,#b4afac,#b3b0ae,#b1b1b0,#b0b0b2,#aeb0b4,#acb0b6,#a9afb9,#a7aebb,#a3aebe,#a0acc0,#9cabc3,#9aaac4,#98a9c5,#99a9c5,#9aaac4,#9cabc2,#9facc1,#a2adbf,#a5aebd,#a7aebb,#a8afba,#a8afba)"></i>
<i style="top:32px;height:2px;background:linear-gradient(90deg,#c59a86,#c59a86,#c59883,#c69680,#c6937d,#c6917a,#c68f78,#c68e77,#c68f79,#c6937c,#c59884,#c39f8e,#bea79a,#b6ada9,#acb0b6,#a0acc0,#96a8c6,#8ea3c9,#899fcb,#859dcb,#859dcc,#889fcb,#8fa4c9,#99aac4,#a6aebc,#b1b1b0,#baaba3,#bda99d,#bcaaa0,#b7ada8,#b1b1b0,#adb0b6,#aaafb9,#a8afba,#a8afbb,#a8afba,#a8afba,#a9afb9,#aaafb9,#aaafb8,#aaafb9,#a9afb9,#a8afba,#a6aebc,#a5aebd,#a4aebe,#a3aebe,#a4aebe,#a6aebc,#a9afb9,#acb0b6,#afb0b2,#b2b0af,#b4afac,#b5aeaa,#b6aea9,#b6aea9,#b5aeaa,#b4afac,#b3afad,#b2b0b0,#b0b1b1,#afb0b3,#adb0b5,#abafb7,#a9afba,#a6aebc,#a2adbf,#9eacc2,#9aaac4,#97a8c5,#96a8c6,#96a8c6,#98a9c5,#9aaac4,#9eabc2,#a1adc0,#a4aebe,#a6aebc,#a8afba,#a8afba)"></i>
<i style="top:34px;height:2px;background:linear-gradient(90deg,#c59985,#c59985,#c59782,#c6947e,#c6917b,#c68e77,#c68c75,#c68b73,#c68c74,#c68f78,#c69580,#c49d8b,#bfa699,#b4afac,#a7aebb,#98a9c5,#8ca2ca,#859dcc,#8099cc,#7d97cc,#7d97cc,#819acc,#8aa0cb,#96a8c6,#a4aebe,#b1b0b0,#bbaaa1,#bea79a,#bda89c,#b8aca5,#b2b0b0,#acb0b6,#a9afba,#a7aebb,#a6aebc,#a6aebc,#a7aebb,#a8afba,#a9afb9,#aaafb9,#a9afb9,#a9afba,#a7aebb,#a5aebd,#a3adbf,#a1adc0,#a0acc0,#a1adc0,#a3aebe,#a7aebb,#aaafb8,#aeb0b4,#b1b1b1,#b3b0ae,#b4afac,#b5aeab,#b5aeab,#b4afac,#b3b0ae,#b2b0b0,#b0b1b1,#afb0b3,#aeb0b4,#acb0b6,#abafb8,#a8afba,#a5aebd,#a1adc0,#9cabc3,#98a9c5,#95a7c6,#93a7c7,#94a7c7,#95a8c6,#99a9c4,#9cabc2,#a0acc0,#a4aebe,#a6aebc,#a7afbb,#a8afba)"></i>
<i style="top:36px;height:2px;background:linear-gradient(90deg,#c59985,#c59884,#c69680,#c6937c,#c68f78,#c68c74,#c68971,#c6876f,#c6886f,#c68b73,#c6917b,#c49b88,#bea79a,#aaafb8,#97a8c6,#889fcb,#7d97cc,#7993cc,#7792cc,#7590cc,#7691cc,#7a95cc,#849ccc,#91a5c8,#a1adbf,#b0b1b1,#bbaaa0,#bfa698,#bea79b,#b9aca4,#b2b0b0,#acafb7,#a7aebb,#a4aebd,#a3aebe,#a4aebe,#a5aebd,#a7aebb,#a9afba,#a9afb9,#a9afb9,#a8afba,#a6aebc,#a4aebe,#a1adc0,#9eacc2,#9dabc2,#9dabc2,#a0acc0,#a4aebe,#a8afba,#acb0b6,#afb0b3,#b2b0b0,#b3b0ae,#b3afad,#b3afae,#b2b0af,#b1b1b1,#b0b1b2,#afb0b3,#aeb0b4,#adb0b5,#acafb7,#aaafb9,#a7aebb,#a4aebe,#a0acc1,#9baac3,#96a8c6,#93a6c7,#91a5c8,#91a5c8,#93a7c7,#97a8c5,#9baac3,#9facc1,#a3adbf,#a5aebc,#a7aebb,#a7afbb)"></i>
<i style="top:38px;height:2px;background:linear-gradient(90deg,#c59884,#c59783,#c6957f,#c6917b,#c68d76,#c68971,#c6866d,#c5836a,#c5836a,#c6856d,#c68d75,#c59985,#bbaaa1,#8ea3c9,#718dcb,#6682c8,#6682c8,#6b87ca,#6d89ca,#6d89ca,#6e8aca,#738fcb,#7d97cc,#8ca2ca,#9dabc2,#aeb0b4,#baaba2,#bfa699,#bea89b,#b8aca5,#b1b1b1,#aaafb8,#a5aebd,#a1adc0,#a0acc1,#a1adc0,#a3aebe,#a6aebc,#a8afba,#a9afb9,#a9afba,#a7afbb,#a5aebd,#a2adbf,#9eacc1,#9baac3,#99a9c4,#9aaac4,#9cabc3,#a1adc0,#a6aebc,#aaafb8,#aeb0b4,#b0b1b2,#b1b0b0,#b2b0af,#b1b1b0,#b0b1b2,#afb0b3,#aeb0b4,#adb0b5,#acb0b6,#abafb7,#abafb8,#a9afb9,#a6aebc,#a3aebe,#9eacc1,#9aaac4,#95a7c6,#91a5c8,#8fa4c9,#90a4c9,#92a5c8,#96a8c6,#9aaac4,#9facc1,#a2adbf,#a5aebd,#a7aebb,#a7afbb)"></i>
<i style="top:40px;height:2px;background:linear-gradient(90deg,#c59783,#c59782,#c6937d,#c69079,#c68b73,#c6866e,#c58269,#c47e65,#c37c63,#c47e65,#c6866d,#c59985,#adb0b5,#6581c8,#4057af,#384aa5,#4860b6,#5d79c4,#637fc7,#6581c8,#6783c8,#6c88ca,#7792cc,#869ecb,#98a9c5,#aaafb8,#b7ada7,#bda99d,#bca99e,#b7ada7,#b0b1b2,#a8afba,#a2adbf,#9dabc2,#9baac3,#9dabc2,#a0acc0,#a4aebe,#a7aebb,#a8afba,#a8afba,#a7aebb,#a4aebe,#a0acc0,#9cabc3,#98a9c5,#96a8c6,#96a8c6,#99a9c4,#9eabc2,#a3aebe,#a8afba,#acb0b6,#afb0b3,#b0b1b2,#b0b1b2,#afb0b3,#aeb0b4,#acb0b6,#abafb7,#aaafb8,#aaafb8,#aaafb8,#a9afb9,#a8afba,#a6aebc,#a2adbf,#9eabc2,#99a9c5,#94a7c7,#90a4c9,#8ea3c9,#8ea3c9,#91a5c8,#95a7c7,#99a9c4,#9eabc2,#a2adbf,#a5aebd,#a7aebb,#a7aebb)"></i>
<i style="top:42px;height:2px;background:linear-gradient(90deg,#c59782,#c69681,#c6927c,#c68e77,#c68971,#c5836b,#c47e65,#c2785f,#c1735b,#c1725a,#c37b62,#c49c8a,#92a5c8,#526cbe,#2f3d9a,#2f3d9a,#33429e,#516cbd,#5b77c3,#5f7bc5,#617dc6,#6682c8,#708ccb,#7f98cc,#91a5c8,#a4aebe,#b2b0af,#b9aba4,#baaba3,#b5aeaa,#aeb0b4,#a6aebc,#9facc1,#99a9c4,#97a8c5,#98a9c5,#9dabc2,#a2adbf,#a6aebc,#a8afba,#a8afba,#a6aebc,#a3aebe,#9facc1,#99aac4,#95a7c6,#92a6c8,#92a6c8,#95a7c6,#9baac4,#a1adc0,#a6aebc,#abafb8,#adb0b5,#aeb0b4,#aeb0b4,#adb0b5,#abafb7,#a9afb9,#a8afba,#a7afbb,#a8afbb,#a8afba,#a8afba,#a7aebb,#a5aebd,#a2adbf,#9dabc2,#98a9c5,#93a6c7,#8fa4c9,#8da2ca,#8da2ca,#90a4c9,#94a7c7,#99a9c4,#9eabc2,#a2adbf,#a5aebd,#a7aebb,#a7aebb)"></i>
<i style="top:44px;height:2px;background:linear-gradient(90deg,#c59681,#c69580,#c6917b,#c68c75,#c6876e,#c48068,#c37961,#c17159,#bd6751,#bb624d,#bf6b54,#c49b87,#839ccc,#6783c8,#435bb2,#2f3d9a,#303e9b,#4b64b8,#5571c0,#5a75c3,#5b77c4,#607cc6,#6884c9,#7691cc,#889fcb,#9baac3,#abafb7,#b4afac,#b6aea9,#b2b0af,#acafb7,#a4aebe,#9baac3,#94a7c7,#92a5c8,#94a7c7,#99a9c4,#a0acc0,#a5aebd,#a7afbb,#a8afba,#a6aebc,#a2adbf,#9dabc2,#97a9c5,#92a6c8,#8fa4c9,#8fa4c9,#92a6c8,#98a9c5,#9eacc1,#a5aebd,#a9afb9,#acb0b6,#adb0b5,#acb0b6,#aaafb8,#a8afba,#a5aebc,#a4aebe,#a4aebe,#a5aebd,#a6aebc,#a6aebb,#a6aebc,#a5aebd,#a1adbf,#9dabc2,#98a9c5,#93a6c7,#8fa3c9,#8da2ca,#8da2ca,#90a4c9,#94a7c7,#99a9c4,#9eabc2,#a2adbf,#a5aebd,#a7aebb,#a7aebb)"></i>
<i style="top:46px;height:2px;background:linear-gradient(90deg,#c69680,#c6957f,#c6907a,#c68b73,#c6856c,#c47d65,#c2755c,#be6851,#b65745,#b14b3d,#b45342,#c68971,#9eabc2,#92a6c8,#6f8bcb,#3e54ac,#3c51aa,#4b64b8,#536ebe,#5671c1,#5772c1,#5a75c3,#607cc6,#6c88ca,#7d97cc,#90a4c8,#a2adbf,#adb0b5,#b1b1b1,#afb0b3,#a9afb9,#a1adc0,#98a9c5,#90a4c8,#8da2ca,#8fa4c9,#96a8c6,#9eabc2,#a4aebe,#a7aebb,#a7afbb,#a6aebc,#a2adbf,#9cabc3,#96a8c6,#90a4c8,#8da2ca,#8da2ca,#90a4c9,#96a8c6,#9cabc2,#a3aebe,#a8afba,#aaafb8,#abafb7,#aaafb9,#a7aebb,#a4aebe,#a1adc0,#a0acc1,#a0acc0,#a1adc0,#a3aebe,#a5aebd,#a5aebd,#a4aebe,#a1adc0,#9dabc2,#98a9c5,#93a6c7,#8fa4c9,#8da2ca,#8ea3c9,#90a4c8,#94a7c7,#99a9c4,#9eabc2,#a2adbf,#a5aebd,#a7aebb,#a7aebb)"></i>
<i style="top:48px;height:2px;background:linear-gradient(90deg,#c6957f,#c6947e,#c68f79,#c68a72,#c5836a,#c37b62,#c07058,#b95e4a,#ad4538,#a02e2b,#a4342e,#be6851,#c1a495,#b0b1b2,#8ea2c9,#5f7bc6,#4e67bb,#4f69bc,#536ebf,#546fbf,#546ebf,#546fbf,#5873c2,#617dc6,#6f8bcb,#839ccc,#97a8c5,#a5aebd,#acafb7,#abafb7,#a7aebb,#9eacc1,#95a7c6,#8da2ca,#89a0cb,#8ca1ca,#93a7c7,#9cabc3,#a3aebe,#a7aebb,#a7afbb,#a6aebc,#a2adbf,#9cabc3,#95a7c6,#8fa3c9,#8ba1ca,#8ba1ca,#8ea3c9,#94a7c7,#9baac3,#a2adbf,#a6aebc,#a9afb9,#a9afb9,#a7afbb,#a4aebe,#a0acc0,#9cabc3,#9baac3,#9baac3,#9eabc2,#a1adc0,#a3aebe,#a4aebd,#a4aebe,#a1adc0,#9dabc2,#99a9c4,#94a7c7,#90a4c8,#8fa3c9,#8fa3c9,#91a5c8,#95a7c6,#9aaac4,#9eacc1,#a2adbf,#a5aebd,#a7aebb,#a7afbb)"></i>
<i style="top:50px;height:2px;background:linear-gradient(90deg,#c6957f,#c6937d,#c68f78,#c68971,#c58169,#c37860,#bf6b54,#b55442,#a12f2c,#90031e,#90031e,#ad4437,#c6866d,#bda99d,#9cabc3,#748fcb,#5c78c4,#5570c0,#5570c0,#546ebf,#516bbd,#4f69bc,#5069bc,#546fbf,#617dc6,#7590cc,#8ba1ca,#9cabc3,#a6aebc,#a8afba,#a4aebd,#9dabc2,#93a6c7,#8aa0cb,#869ecb,#8aa0cb,#92a5c8,#9baac3,#a3aebf,#a7aebb,#a8afba,#a6aebc,#a2adbf,#9cabc3,#95a7c6,#8fa3c9,#8ba0cb,#8aa0cb,#8da2ca,#93a6c7,#9aaac4,#a1adc0,#a5aebc,#a8afba,#a7afbb,#a5aebd,#a0adc0,#9babc3,#97a9c5,#96a8c6,#97a8c5,#9aaac4,#9eabc2,#a1adbf,#a3aebe,#a4aebe,#a2adbf,#9eacc1,#9aaac4,#95a8c6,#92a6c8,#90a4c8,#91a5c8,#93a6c7,#96a8c6,#9baac3,#9facc1,#a3adbf,#a6aebc,#a7afbb,#a8afbb)"></i>
<i style="top:52px;height:2px;background:linear-gradient(90deg,#c6947f,#c6937d,#c68e77,#c68870,#c48067,#c2775e,#bd6751,#b04b3c,#951222,#90031e,#90031e,#9c2527,#c1735b,#c1a394,#a3aebe,#809acc,#6884c9,#5d78c4,#5873c2,#546ebf,#4f69bc,#4a63b8,#475fb5,#4860b6,#526cbe,#6581c8,#7e97cc,#93a6c7,#a0acc0,#a5aebd,#a3adbf,#9cabc3,#92a6c8,#89a0cb,#869dcb,#899fcb,#91a5c8,#9baac3,#a3aebe,#a7aebb,#a8afba,#a6aebc,#a2adbf,#9cabc3,#95a7c6,#8fa3c9,#8ba1ca,#8aa0cb,#8da2ca,#93a6c7,#9aaac4,#a0acc0,#a5aebd,#a6aebc,#a6aebc,#a2adbf,#9dabc2,#97a8c5,#93a6c7,#91a5c8,#92a6c8,#96a8c6,#9baac3,#a0acc0,#a3adbf,#a3aebe,#a2adbf,#9facc1,#9baac3,#97a8c5,#94a7c7,#93a6c7,#93a6c7,#95a7c6,#98a9c5,#9cabc3,#a0acc0,#a4aebe,#a6aebc,#a8afbb,#a8afba)"></i>
<i style="top:54px;height:2px;background:linear-gradient(90deg,#c6947e,#c6937d,#c68e77,#c6876f,#c48067,#c2755d,#bc654f,#ad4438,#90031e,#90031e,#90031e,#90031e,#be6952,#c39f8e,#a8afba,#889fcb,#708ccb,#627ec7,#5b76c3,#546fbf,#4e67bb,#465eb4,#3f54ad,#3c51aa,#435bb2,#5671c1,#718dcb,#8ba0ca,#9baac3,#a2adbf,#a2adbf,#9cabc3,#93a6c7,#8aa0cb,#879ecb,#8aa0cb,#92a6c8,#9cabc3,#a4aebe,#a8afba,#a9afba,#a7aebb,#a3aebe,#9dabc2,#96a8c6,#90a4c8,#8ca1ca,#8ba1ca,#8ea3c9,#93a6c7,#9aaac4,#a0acc0,#a4aebe,#a6aebc,#a4aebd,#a0acc0,#9aaac4,#93a7c7,#8ea3c9,#8ca2ca,#8ea3c9,#93a6c7,#99a9c4,#9eacc1,#a2adbf,#a4aebe,#a3adbf,#a0acc0,#9dabc2,#9aaac4,#97a8c5,#95a7c6,#96a8c6,#97a8c5,#9aaac4,#9eacc2,#a2adbf,#a4aebd,#a7aebb,#a8afba,#a8afba)"></i>
<i style="top:56px;height:2px;background:linear-gradient(90deg,#c6947e,#c6937d,#c68e77,#c6876f,#c47f67,#c2755d,#bc644e,#ac4236,#90031e,#90031e,#90031e,#90031e,#bd654f,#c39e8c,#aaafb8,#8ca1ca,#7490cc,#6682c8,#5d79c4,#5570c0,#4d66ba,#4259b1,#384ba5,#33439f,#384aa5,#4a62b7,#6682c8,#839bcc,#97a8c5,#a0acc0,#a1adc0,#9cabc3,#94a7c7,#8da2ca,#8aa0cb,#8da2ca,#94a7c7,#9eabc2,#a5aebd,#a9afba,#aaafb9,#a8afba,#a4aebe,#9facc1,#98a9c5,#92a6c8,#8ea3c9,#8da2ca,#90a4c9,#95a7c7,#9baac4,#a0acc0,#a4aebe,#a5aebd,#a3aebe,#9eacc1,#97a8c5,#90a4c8,#8ba0ca,#889fcb,#8ba0cb,#90a4c9,#97a8c5,#9dabc2,#a2adbf,#a4aebe,#a4aebe,#a2adbf,#9facc1,#9cabc3,#9aaac4,#98a9c5,#99a9c4,#9aaac4,#9dabc2,#a0acc0,#a3aebe,#a5aebc,#a7aebb,#a8afba,#a8afba)"></i>
<i style="top:58px;height:2px;background:linear-gradient(90deg,#c6947e,#c6937d,#c68e77,#c6876f,#c48067,#c2755d,#bc654f,#ad4538,#90031e,#90031e,#90031e,#90031e,#be6851,#c39e8c,#aaafb8,#8ca2ca,#7490cc,#6682c8,#5e7ac5,#5671c1,#4d67ba,#4057af,#3444a0,#2f3d9a,#2f3d9a,#4056ae,#5d79c5,#7d97cc,#93a7c7,#9facc1,#a1adbf,#9eabc2,#97a8c5,#90a4c8,#8ea3c9,#91a5c8,#98a9c5,#a0acc0,#a6aebc,#aaafb9,#abafb8,#a9afb9,#a6aebc,#a1adc0,#9aaac4,#95a7c6,#91a5c8,#90a4c8,#92a6c8,#96a8c6,#9cabc3,#a1adc0,#a4aebe,#a4aebd,#a2adbf,#9dabc2,#95a8c6,#8ea3c9,#889fcb,#859dcb,#889fcb,#8ea3c9,#95a7c6,#9cabc3,#a1adbf,#a4aebe,#a5aebd,#a4aebe,#a1adc0,#9facc1,#9dabc2,#9cabc3,#9cabc3,#9dabc2,#9facc1,#a2adbf,#a5aebd,#a6aebc,#a8afba,#a9afb9,#a9afb9)"></i>
<i style="top:60px;height:2px;background:linear-gradient(90deg,#c6947f,#c6937d,#c68e77,#c68870,#c48068,#c2775e,#bd6751,#b14b3c,#951322,#90031e,#90031e,#9b2327,#c17058,#c2a090,#a8afba,#899fcb,#718dcb,#6581c8,#5e7ac5,#5873c2,#4f68bb,#4057af,#32419d,#2f3d9a,#2f3d9a,#3a4ea8,#5873c2,#7994cc,#92a5c8,#9eacc1,#a2adbf,#a0acc1,#9aaac4,#95a7c6,#93a6c7,#95a7c6,#9baac3,#a3adbf,#a8afba,#abafb7,#acb0b7,#aaafb8,#a7afbb,#a3adbf,#9dabc2,#98a9c5,#94a7c7,#93a6c7,#95a7c6,#99a9c4,#9dabc2,#a2adbf,#a4aebe,#a4aebd,#a2adbf,#9cabc3,#94a7c7,#8ca2ca,#869dcb,#849ccc,#869ecb,#8da2ca,#95a7c7,#9cabc3,#a2adbf,#a5aebd,#a6aebc,#a5aebd,#a4aebe,#a2adbf,#a0acc0,#9facc1,#9facc1,#a0adc0,#a2adbf,#a4aebd,#a6aebc,#a7afbb,#a9afba,#a9afb9,#a9afb9)"></i>
<i style="top:62px;height:2px;background:linear-gradient(90deg,#c6957f,#c6947e,#c68f78,#c68971,#c58169,#c37960,#bf6b54,#b55443,#a1302c,#90031e,#90031e,#aa4035,#c47f66,#c0a597,#a4aebe,#819acc,#6a86c9,#617dc6,#5f7bc5,#5a75c3,#516bbd,#4259b1,#33439f,#2f3d9a,#2f3d9a,#394ca6,#5671c1,#7892cc,#91a5c8,#9eacc1,#a3aebf,#a2adbf,#9dabc2,#99a9c4,#98a9c5,#9aaac4,#9facc1,#a5aebc,#aaafb8,#acb0b6,#adb0b5,#acb0b6,#a9afb9,#a5aebd,#a0acc0,#9cabc3,#98a9c5,#97a8c5,#98a9c5,#9baac3,#9facc1,#a3adbf,#a5aebd,#a4aebd,#a1adc0,#9babc3,#94a7c7,#8ca1ca,#859dcb,#839ccc,#869dcb,#8da2ca,#94a7c7,#9cabc3,#a2adbf,#a5aebc,#a7aebb,#a7aebb,#a6aebc,#a5aebd,#a3aebe,#a3adbf,#a3adbf,#a4aebe,#a5aebd,#a6aebc,#a8afbb,#a9afba,#a9afb9,#aaafb9,#aaafb9)"></i>
<i style="top:64px;height:2px;background:linear-gradient(90deg,#c6957f,#c6947e,#c68f79,#c68a72,#c5836a,#c37b62,#c07058,#b95e4a,#ad4538,#a12e2b,#a3332d,#b95d49,#c59781,#b7ada7,#99a9c4,#718dcb,#5e7ac5,#5e7ac5,#5f7bc6,#5d79c4,#5570c0,#475fb5,#3749a4,#2f3d9a,#2f3d9a,#3c50a9,#5874c2,#7994cc,#92a5c8,#9facc1,#a4aebe,#a4aebe,#a1adc0,#9eabc2,#9dabc2,#9facc1,#a3aebe,#a8afba,#acb0b7,#aeb0b4,#aeb0b4,#adb0b5,#abafb7,#a8afba,#a4aebe,#9facc1,#9cabc3,#9baac3,#9cabc3,#9eacc1,#a1adc0,#a4aebe,#a5aebd,#a5aebd,#a2adbf,#9cabc3,#94a7c7,#8ca2ca,#869ecb,#849ccc,#879ecb,#8da2ca,#95a7c6,#9dabc2,#a3adbf,#a6aebc,#a8afba,#a8afba,#a8afba,#a7aebb,#a6aebc,#a6aebc,#a6aebc,#a7aebb,#a7afbb,#a8afba,#a9afb9,#aaafb9,#aaafb8,#aaafb8,#aaafb8)"></i>
<i style="top:66px;height:2px;background:linear-gradient(90deg,#c69680,#c6957f,#c6907a,#c68b73,#c6856c,#c47e65,#c2755c,#be6851,#b65845,#b14b3d,#b45241,#c37961,#b3afae,#9facc1,#8099cc,#536dbe,#4e67bb,#5c78c4,#617dc6,#617dc6,#5a76c3,#4f68bb,#3f55ad,#3445a0,#3445a0,#435ab1,#5e7ac5,#7d97cc,#94a7c7,#a0acc0,#a5aebd,#a6aebc,#a4aebe,#a2adbf,#a2adbf,#a4aebe,#a7aebb,#abafb8,#adb0b5,#afb0b3,#b0b1b2,#afb0b3,#adb0b5,#aaafb8,#a7aebb,#a3aebe,#a0acc0,#9facc1,#9facc1,#a1adc0,#a3aebe,#a5aebd,#a6aebc,#a5aebd,#a2adbf,#9cabc2,#95a7c6,#8ea3c9,#889fcb,#869ecb,#899fcb,#8fa3c9,#97a8c6,#9eabc2,#a4aebe,#a7afbb,#a9afb9,#aaafb8,#aaafb8,#aaafb9,#a9afb9,#a9afb9,#a9afb9,#a9afb9,#aaafb9,#aaafb8,#abafb8,#abafb8,#abafb8,#abafb8,#abafb8)"></i>
<i style="top:68px;height:2px;background:linear-gradient(90deg,#c59681,#c69580,#c6917b,#c68d75,#c6876e,#c58068,#c37961,#c17159,#bd6751,#bb624c,#be6952,#c68d76,#98a9c5,#7b95cc,#5570c0,#31409c,#3e53ac,#5d79c4,#6581c8,#6682c8,#627ec6,#5773c1,#4a63b8,#4056ae,#4056ae,#4e68bb,#6783c8,#829bcc,#96a8c6,#a2adbf,#a6aebc,#a7afbb,#a6aebc,#a5aebc,#a5aebc,#a7aebb,#aaafb9,#adb0b6,#afb0b3,#b0b1b1,#b1b1b0,#b0b1b1,#afb0b3,#adb0b5,#aaafb9,#a7aebb,#a4aebe,#a3adbf,#a2adbf,#a4aebe,#a5aebd,#a6aebc,#a7aebb,#a6aebc,#a3adbf,#9eabc2,#97a8c5,#90a4c8,#8ba1ca,#8aa0cb,#8ca1ca,#91a5c8,#98a9c5,#9facc1,#a5aebd,#a9afba,#abafb8,#acafb7,#acb0b6,#acb0b6,#acb0b6,#acb0b6,#acb0b6,#acb0b6,#acb0b6,#acb0b6,#acb0b6,#acb0b7,#abafb7,#abafb7,#abafb7)"></i>
<i style="top:70px;height:2px;background:linear-gradient(90deg,#c59782,#c69681,#c6927c,#c68e77,#c68971,#c5836b,#c47e65,#c2785f,#c1735b,#c1725a,#c37961,#c6947e,#9baac3,#6985c9,#3b4fa8,#2f3d9a,#3e54ac,#6480c7,#6c88ca,#6d89ca,#6a86c9,#627ec7,#5772c1,#4f69bc,#4f69bc,#5c77c4,#728dcb,#899fcb,#99aac4,#a3aebe,#a8afbb,#a9afba,#a8afba,#a8afba,#a8afba,#aaafb8,#acb0b6,#aeb0b4,#b0b1b1,#b2b0af,#b2b0ae,#b2b0af,#b1b1b1,#afb0b3,#acb0b6,#aaafb9,#a7aebb,#a6aebc,#a5aebd,#a6aebc,#a7aebb,#a7afbb,#a7afbb,#a6aebc,#a4aebe,#9facc1,#99a9c4,#93a6c7,#8fa3c9,#8da2ca,#8fa4c9,#94a7c7,#9baac3,#a1adc0,#a6aebc,#aaafb9,#acb0b6,#adb0b5,#aeb0b4,#aeb0b4,#aeb0b4,#aeb0b4,#aeb0b4,#aeb0b4,#aeb0b4,#aeb0b4,#adb0b5,#adb0b6,#acb0b6,#abafb7,#abafb7)"></i>
<i style="top:72px;height:2px;background:linear-gradient(90deg,#c59783,#c59782,#c6947d,#c69079,#c68b73,#c6866e,#c58269,#c47e65,#c37c63,#c47d64,#c5846b,#c69580,#b1b1b0,#7c96cc,#4a63b8,#435ab1,#5570c0,#6f8bcb,#748fcb,#7590cc,#738fcb,#6e8aca,#6682c8,#5f7bc6,#607cc6,#6b87ca,#7d97cc,#8fa4c9,#9dabc2,#a5aebd,#a9afba,#aaafb9,#aaafb8,#aaafb8,#abafb8,#acb0b6,#aeb0b4,#b0b1b2,#b2b0af,#b3afad,#b4afac,#b4afad,#b3b0ae,#b1b1b1,#afb0b3,#acb0b6,#aaafb8,#a8afba,#a8afba,#a8afba,#a8afba,#a8afba,#a8afba,#a7aebb,#a5aebd,#a1adc0,#9babc3,#96a8c6,#93a6c7,#91a5c8,#93a6c7,#98a9c5,#9dabc2,#a3aebf,#a7afbb,#abafb8,#adb0b5,#aeb0b4,#afb0b3,#b0b1b2,#b0b1b1,#b0b1b1,#b0b1b1,#b0b1b2,#b0b1b2,#afb0b3,#aeb0b4,#adb0b5,#adb0b6,#acb0b6,#acb0b7)"></i>
<i style="top:74px;height:2px;background:linear-gradient(90deg,#c59884,#c59783,#c6957f,#c6917b,#c68d76,#c68971,#c6866d,#c5836a,#c58269,#c6856c,#c68b73,#c59681,#bea79b,#9dabc2,#7994cc,#728ecb,#7490cc,#7c96cc,#7d97cc,#7e97cc,#7d97cc,#7a94cc,#7490cc,#708ccb,#718dcb,#7a94cc,#889fcb,#96a8c6,#a0acc0,#a6aebb,#a9afb9,#aaafb8,#abafb7,#abafb7,#acb0b6,#adb0b5,#afb0b3,#b1b1b0,#b3afae,#b4afac,#b5aeab,#b5aeab,#b4afac,#b3b0ae,#b1b1b1,#aeb0b4,#acb0b6,#abafb8,#aaafb9,#a9afb9,#a9afb9,#a9afb9,#a9afb9,#a8afba,#a6aebc,#a2adbf,#9eacc2,#9aaac4,#96a8c6,#96a8c6,#97a8c5,#9baac3,#a0acc0,#a5aebd,#a9afb9,#acb0b6,#aeb0b4,#afb0b2,#b1b1b1,#b2b0b0,#b2b0af,#b2b0ae,#b2b0af,#b2b0af,#b1b1b0,#b0b1b1,#afb0b3,#aeb0b4,#adb0b5,#acb0b6,#acb0b6)"></i>
<i style="top:76px;height:2px;background:linear-gradient(90deg,#c59985,#c59884,#c69680,#c6937d,#c68f79,#c68c74,#c68971,#c6876f,#c6876f,#c68a72,#c69079,#c59984,#c0a495,#b1b1b0,#9eacc1,#94a7c7,#8ca1ca,#889fcb,#879ecb,#869ecb,#869dcb,#849dcc,#829acc,#7f98cc,#8099cc,#879ecb,#91a5c8,#9baac3,#a3aebe,#a8afba,#aaafb8,#abafb7,#acafb7,#acb0b6,#adb0b5,#afb0b3,#b0b1b1,#b2b0af,#b4afac,#b5aeaa,#b6ada9,#b6ada9,#b6aeaa,#b4afac,#b2b0ae,#b0b1b1,#aeb0b4,#adb0b6,#abafb7,#abafb8,#aaafb8,#aaafb8,#a9afb9,#a8afba,#a7aebb,#a4aebe,#a0acc0,#9dabc2,#9aaac4,#9aaac4,#9baac3,#9eacc1,#a2adbf,#a6aebc,#aaafb8,#adb0b5,#afb0b3,#b1b1b1,#b2b0af,#b3afad,#b4afac,#b4afac,#b4afac,#b4afad,#b3b0ae,#b2b0b0,#b0b1b1,#afb0b3,#aeb0b4,#acb0b6,#acb0b6)"></i>
<i style="top:78px;height:2px;background:linear-gradient(90deg,#c59986,#c59985,#c59782,#c6947e,#c6917b,#c68f78,#c68c75,#c68b73,#c68c74,#c68f78,#c6947e,#c49b88,#c0a495,#b8aca5,#adb0b5,#a2adbf,#98a9c5,#92a6c8,#8fa4c9,#8ea3c9,#8ea3c9,#8ea3c9,#8da2ca,#8ca1ca,#8da2ca,#92a5c8,#99a9c4,#a0acc0,#a6aebc,#a9afb9,#abafb8,#abafb7,#acb0b6,#adb0b5,#aeb0b4,#afb0b2,#b1b1b0,#b3afad,#b5aeab,#b6ada9,#b7ada7,#b7ada7,#b7ada8,#b6aea9,#b4afac,#b2b0af,#b0b1b2,#aeb0b4,#adb0b5,#acb0b7,#abafb7,#abafb8,#aaafb8,#a9afb9,#a7afbb,#a5aebd,#a3adbf,#a0acc0,#9eabc2,#9dabc2,#9facc1,#a1adc0,#a5aebd,#a8afba,#abafb7,#aeb0b5,#b0b1b2,#b2b0b0,#b3afad,#b4afab,#b5aeaa,#b6aea9,#b6aeaa,#b5aeab,#b4afac,#b3b0ae,#b1b1b0,#afb0b2,#aeb0b4,#adb0b5,#adb0b6)"></i>
<i style="top:80px;height:2px;background:linear-gradient(90deg,#c59a86,#c59a86,#c59883,#c69680,#c6937d,#c6917a,#c68f78,#c68e77,#c68f78,#c6927c,#c59782,#c49d8b,#c0a596,#baaba3,#b1b1b0,#a8afba,#a0acc0,#9aaac4,#96a8c6,#95a7c6,#95a7c6,#96a8c6,#95a7c6,#95a7c6,#96a8c6,#9aaac4,#9facc1,#a4aebe,#a7afbb,#aaafb9,#abafb7,#acb0b7,#acb0b6,#adb0b5,#afb0b3,#b0b1b2,#b2b0af,#b4afac,#b6aeaa,#b7ada7,#b8aca6,#b8aca5,#b8aca6,#b7ada8,#b5aeaa,#b3afad,#b1b1b0,#afb0b3,#aeb0b4,#adb0b6,#acb0b7,#abafb7,#aaafb8,#a9afb9,#a8afba,#a7aebb,#a4aebd,#a2adbf,#a1adc0,#a1adc0,#a2adbf,#a4aebe,#a6aebc,#a9afb9,#acb0b6,#aeb0b4,#b0b1b1,#b2b0ae,#b4afac,#b6aeaa,#b7ada8,#b7ada7,#b7ada8,#b6ada9,#b5aeaa,#b3afad,#b2b0af,#b0b1b2,#aeb0b3,#adb0b5,#adb0b5)"></i>
<i style="top:82px;height:2px;background:linear-gradient(90deg,#c49b87,#c59a87,#c59985,#c59782,#c6957f,#c6937d,#c6927b,#c6917b,#c6927c,#c6957f,#c59a86,#c39f8e,#bfa698,#baaba3,#b3b0ae,#acb0b7,#a5aebd,#9facc1,#9cabc3,#9baac3,#9baac3,#9cabc3,#9cabc3,#9cabc2,#9dabc2,#a0acc0,#a3aebe,#a6aebc,#a9afba,#aaafb8,#abafb7,#acb0b6,#adb0b5,#aeb0b4,#afb0b3,#b1b1b1,#b2b0ae,#b4afab,#b6ada9,#b8aca6,#b9aca5,#b9aba4,#b9aca4,#b8aca6,#b6ada9,#b4afac,#b2b0af,#b0b1b2,#aeb0b3,#adb0b5,#acb0b6,#abafb7,#abafb8,#aaafb8,#a9afb9,#a8afbb,#a6aebc,#a5aebd,#a4aebe,#a3aebe,#a4aebe,#a6aebc,#a8afba,#aaafb8,#adb0b5,#afb0b3,#b1b1b1,#b3afad,#b5aeab,#b6ada8,#b8ada7,#b8aca6,#b8aca6,#b7ada7,#b6aea9,#b4afac,#b2b0ae,#b0b1b1,#afb0b3,#adb0b5,#adb0b5)"></i>
<i style="top:84px;height:2px;background:linear-gradient(90deg,#c49b88,#c49b88,#c59a86,#c59884,#c59781,#c6957f,#c6947e,#c6947e,#c6957f,#c59883,#c49c89,#c2a191,#bea79a,#b9aba3,#b3afad,#adb0b5,#a8afba,#a4aebe,#a1adc0,#9facc1,#a0acc0,#a0adc0,#a1adc0,#a2adbf,#a3adbf,#a4aebe,#a6aebc,#a8afba,#aaafb9,#abafb8,#abafb7,#acb0b6,#adb0b5,#aeb0b4,#afb0b3,#b1b1b1,#b3b0ae,#b5aeab,#b7ada8,#b8aca5,#b9aba4,#baaba3,#b9aba3,#b9aca5,#b7ada7,#b5aeaa,#b3afae,#b1b1b1,#afb0b3,#aeb0b4,#acb0b6,#acb0b7,#abafb7,#aaafb8,#a9afb9,#a8afba,#a7aebb,#a6aebc,#a5aebc,#a5aebc,#a6aebc,#a7afbb,#a9afb9,#abafb7,#adb0b5,#afb0b2,#b1b0b0,#b4afad,#b6aeaa,#b7ada7,#b8aca5,#b9aca5,#b9aca5,#b8aca6,#b7ada8,#b5aeab,#b3b0ae,#b1b1b1,#afb0b3,#adb0b5,#adb0b5)"></i>
<i style="top:86px;height:2px;background:linear-gradient(90deg,#c49c89,#c49b88,#c59a87,#c59985,#c59883,#c59782,#c59681,#c59681,#c59782,#c59a86,#c49e8c,#c1a393,#bea89b,#b9aca4,#b4afac,#afb0b3,#aaafb8,#a7aebb,#a4aebd,#a3aebe,#a3aebe,#a4aebe,#a5aebd,#a5aebd,#a6aebc,#a7aebb,#a8afba,#a9afb9,#aaafb8,#abafb7,#acafb7,#acb0b6,#adb0b5,#aeb0b4,#afb0b2,#b1b1b0,#b3afad,#b5aeaa,#b7ada7,#b9aca5,#baaba3,#baaba2,#baaba3,#b9aca4,#b8ada7,#b6aeaa,#b3afad,#b1b0b0,#afb0b2,#aeb0b4,#adb0b5,#acb0b6,#abafb7,#aaafb8,#aaafb9,#a9afb9,#a8afba,#a7afbb,#a7aebb,#a7aebb,#a8afbb,#a9afba,#aaafb8,#acb0b6,#aeb0b4,#b0b1b2,#b2b0af,#b4afac,#b6aea9,#b8aca6,#b9aca5,#b9aba4,#b9aba4,#b8aca5,#b7ada7,#b5aeaa,#b3afad,#b1b1b0,#afb0b3,#aeb0b4,#adb0b5)"></i>
<i style="top:88px;height:2px;background:linear-gradient(90deg,#c49c89,#c49c89,#c49b88,#c59a86,#c59985,#c59884,#c59883,#c59884,#c59985,#c49c89,#c39f8e,#c0a495,#bda89d,#b9aca5,#b4afac,#afb0b2,#acb0b7,#a9afb9,#a7aebb,#a6aebc,#a6aebc,#a6aebc,#a7aebb,#a7afbb,#a8afba,#a9afba,#a9afb9,#aaafb8,#abafb8,#abafb7,#acb0b7,#acb0b6,#adb0b5,#aeb0b4,#afb0b2,#b1b1b0,#b3afad,#b5aeaa,#b7ada7,#b9aca4,#baaba2,#baaba2,#baaba2,#b9aba4,#b8aca6,#b6aea9,#b4afac,#b2b0b0,#b0b1b2,#aeb0b4,#adb0b5,#acb0b6,#abafb7,#abafb8,#aaafb8,#a9afb9,#a9afb9,#a8afba,#a8afba,#a8afba,#a9afba,#aaafb9,#abafb8,#acb0b6,#aeb0b4,#b0b1b2,#b2b0af,#b4afac,#b6ada9,#b8aca6,#b9aba4,#baaba3,#b9aba3,#b9aca5,#b7ada7,#b5aeaa,#b3afad,#b1b1b0,#afb0b2,#aeb0b4,#adb0b5)"></i>
<i style="top:90px;height:2px;background:linear-gradient(90deg,#c49c8a,#c49c8a,#c49c89,#c49b88,#c59a87,#c59a86,#c59985,#c59a86,#c49b88,#c49d8b,#c2a190,#c0a597,#bca99e,#b8aca6,#b4afad,#b0b1b2,#adb0b5,#aaafb8,#a9afba,#a8afba,#a8afba,#a8afba,#a8afba,#a9afb9,#a9afb9,#aaafb9,#aaafb8,#abafb8,#abafb7,#abafb7,#acb0b7,#acb0b6,#adb0b5,#aeb0b4,#afb0b2,#b1b1b0,#b3afad,#b5aeaa,#b7ada7,#b9aca4,#baaba2,#baaaa2,#baaba2,#b9aba3,#b8aca6,#b6ada9,#b4afac,#b2b0af,#b0b1b2,#aeb0b4,#adb0b5,#acb0b6,#abafb7,#abafb8,#aaafb8,#aaafb9,#a9afb9,#a9afb9,#a9afb9,#a9afb9,#a9afb9,#aaafb8,#abafb7,#adb0b6,#aeb0b4,#b0b1b2,#b2b0af,#b4afac,#b6ada8,#b8aca6,#b9aba4,#baaba3,#baaba3,#b9aca5,#b7ada7,#b6aeaa,#b3afad,#b1b0b0,#afb0b2,#aeb0b4,#adb0b5)"></i>
<i style="top:92px;height:2px;background:linear-gradient(90deg,#c49d8a,#c49d8a,#c49c89,#c49c89,#c49b88,#c49b87,#c49b87,#c49b88,#c49d8a,#c39f8d,#c1a292,#bfa699,#bcaaa0,#b8ada7,#b3afad,#b0b1b2,#adb0b5,#abafb7,#aaafb8,#a9afb9,#a9afb9,#a9afb9,#a9afb9,#aaafb9,#aaafb8,#aaafb8,#abafb8,#abafb8,#abafb7,#abafb7,#acb0b7,#acb0b6,#adb0b5,#aeb0b4,#afb0b2,#b1b1b0,#b3afad,#b5aeaa,#b7ada7,#b9aca4,#baaba3,#baaba2,#baaba2,#b9aba4,#b8aca6,#b6aea9,#b4afac,#b2b0af,#b0b1b2,#aeb0b4,#adb0b5,#acb0b6,#abafb7,#abafb8,#aaafb8,#aaafb8,#aaafb9,#aaafb9,#a9afb9,#aaafb9,#aaafb8,#abafb8,#acafb7,#adb0b5,#aeb0b4,#b0b1b2,#b2b0af,#b4afac,#b6ada9,#b8aca6,#b9aba4,#baaba3,#b9aba3,#b9aca5,#b7ada7,#b5aeaa,#b3afad,#b1b1b0,#afb0b3,#aeb0b4,#adb0b5)"></i>
<i style="top:94px;height:2px;background:linear-gradient(90deg,#c49d8b,#c49d8b,#c49d8a,#c49c89,#c49c89,#c49c89,#c49c89,#c49c8a,#c49e8c,#c2a08f,#c1a394,#bea79a,#bbaaa1,#b7ada7,#b3afad,#b0b1b2,#aeb0b4,#acb0b6,#abafb7,#aaafb8,#aaafb8,#aaafb8,#aaafb8,#aaafb8,#aaafb8,#abafb8,#abafb8,#abafb7,#abafb7,#abafb7,#acb0b7,#acb0b6,#adb0b5,#aeb0b4,#afb0b2,#b1b1b0,#b3afae,#b5aeaa,#b7ada7,#b9aca5,#baaba3,#baaba2,#baaba3,#b9aba4,#b8aca6,#b6aea9,#b4afac,#b2b0b0,#b0b1b2,#aeb0b4,#adb0b5,#acb0b6,#abafb7,#abafb8,#aaafb8,#aaafb8,#aaafb8,#aaafb8,#aaafb9,#aaafb8,#aaafb8,#abafb7,#acb0b7,#adb0b5,#aeb0b4,#b0b1b2,#b2b0af,#b4afac,#b6aea9,#b8aca6,#b9aca4,#b9aba4,#b9aba4,#b8aca5,#b7ada7,#b5aeaa,#b3afad,#b1b1b0,#afb0b3,#aeb0b4,#adb0b5)"></i>
<i style="top:96px;height:2px;background:linear-gradient(90deg,#c49d8b,#c49d8b,#c49d8b,#c49d8a,#c49c8a,#c49c8a,#c49d8a,#c49d8b,#c39f8d,#c2a191,#c0a495,#bea79b,#baaaa2,#b7ada8,#b3afad,#b0b1b2,#aeb0b4,#acb0b6,#abafb7,#abafb7,#abafb8,#abafb8,#abafb8,#abafb8,#abafb8,#abafb8,#abafb7,#abafb7,#abafb7,#abafb7,#acb0b7,#acb0b6,#adb0b5,#aeb0b4,#afb0b3,#b1b1b1,#b3b0ae,#b5aeab,#b7ada8,#b8aca6,#b9aba4,#baaba3,#b9aba3,#b9aca5,#b7ada7,#b5aeaa,#b3afad,#b1b0b0,#b0b1b2,#aeb0b4,#adb0b5,#acb0b6,#abafb7,#abafb7,#abafb8,#aaafb8,#aaafb8,#aaafb8,#aaafb8,#aaafb8,#abafb8,#abafb7,#acb0b6,#adb0b5,#aeb0b4,#b0b1b2,#b2b0af,#b4afac,#b6aeaa,#b7ada7,#b8aca5,#b9aca4,#b9aca5,#b8aca6,#b7ada8,#b5aeab,#b3b0ae,#b1b1b1,#afb0b3,#adb0b5,#adb0b5)"></i>
<i style="top:98px;height:2px;background:linear-gradient(90deg,#c49d8b,#c49d8b,#c49d8b,#c49d8b,#c49d8b,#c49d8b,#c49d8b,#c39e8c,#c3a08e,#c2a292,#c0a596,#bda89c,#baaba2,#b6ada8,#b3b0ae,#b0b1b2,#aeb0b4,#adb0b5,#acb0b6,#abafb7,#abafb7,#abafb7,#abafb8,#abafb8,#abafb7,#abafb7,#abafb7,#abafb7,#abafb7,#abafb7,#acb0b7,#acb0b6,#adb0b5,#aeb0b4,#afb0b3,#b1b1b1,#b2b0ae,#b4afac,#b6ada9,#b8ada6,#b9aca5,#b9aca4,#b9aca4,#b8aca6,#b7ada8,#b5aeaa,#b3afad,#b1b1b0,#afb0b2,#aeb0b4,#adb0b5,#acb0b6,#abafb7,#abafb8,#abafb8,#aaafb8,#aaafb8,#aaafb8,#aaafb8,#aaafb8,#abafb8,#abafb7,#acb0b6,#adb0b5,#aeb0b4,#b0b0b2,#b1b0b0,#b3afad,#b5aeaa,#b7ada8,#b8aca6,#b8aca5,#b8aca6,#b7ada7,#b6ada9,#b4afab,#b2b0ae,#b1b1b1,#afb0b3,#adb0b5,#adb0b5)"></i>
<i style="top:100px;height:2px;background:linear-gradient(90deg,#c49d8b,#c49d8b,#c49d8b,#c49d8b,#c49d8b,#c49d8b,#c39e8c,#c39f8d,#c2a08f,#c1a293,#bfa597,#bda89d,#baaba3,#b6aea9,#b3b0ae,#b0b1b2,#aeb0b4,#adb0b5,#acb0b6,#abafb7,#abafb7,#abafb7,#abafb7,#abafb7,#abafb7,#abafb7,#abafb7,#abafb7,#abafb7,#abafb7,#acafb7,#acb0b6,#adb0b5,#aeb0b4,#afb0b3,#b0b1b1,#b2b0af,#b4afac,#b5aeaa,#b7ada8,#b8aca6,#b8aca5,#b8aca6,#b7ada7,#b6ada9,#b4afab,#b3b0ae,#b1b1b1,#afb0b3,#aeb0b4,#adb0b5,#acb0b6,#abafb7,#abafb8,#abafb8,#aaafb8,#aaafb8,#aaafb8,#aaafb8,#aaafb8,#abafb8,#abafb7,#acb0b6,#adb0b5,#aeb0b4,#afb0b2,#b1b1b1,#b3b0ae,#b5aeab,#b6aea9,#b7ada7,#b8ada7,#b7ada7,#b7ada8,#b5aeaa,#b4afac,#b2b0af,#b0b1b2,#aeb0b3,#adb0b5,#adb0b5)"></i>
<i style="top:102px;height:2px;background:linear-gradient(90deg,#c49e8c,#c49e8c,#c49e8c,#c49e8c,#c49e8c,#c39e8c,#c39e8d,#c39f8e,#c2a190,#c1a394,#bfa698,#bda99e,#b9aba4,#b6aea9,#b2b0ae,#b0b1b2,#aeb0b4,#adb0b5,#acb0b6,#acb0b7,#abafb7,#abafb7,#abafb7,#abafb7,#abafb7,#abafb7,#abafb7,#abafb7,#abafb7,#abafb7,#acafb7,#acb0b6,#adb0b6,#adb0b5,#aeb0b3,#b0b1b2,#b1b0b0,#b3afad,#b5aeab,#b6ada9,#b7ada7,#b7ada7,#b7ada7,#b7ada8,#b5aeaa,#b4afac,#b2b0af,#b0b1b1,#afb0b3,#aeb0b5,#acb0b6,#acb0b7,#abafb7,#abafb8,#abafb8,#aaafb8,#aaafb8,#aaafb8,#aaafb8,#aaafb8,#abafb8,#abafb7,#acb0b7,#acb0b6,#aeb0b4,#afb0b3,#b1b1b1,#b2b0af,#b4afac,#b5aeaa,#b6ada9,#b7ada8,#b7ada8,#b6aea9,#b5aeab,#b3afad,#b1b0b0,#b0b1b2,#aeb0b4,#adb0b5,#adb0b6)"></i>
<i style="top:104px;height:2px;background:linear-gradient(90deg,#c49e8c,#c49e8c,#c49e8c,#c49e8c,#c39e8c,#c39e8c,#c39f8d,#c3a08f,#c2a191,#c1a394,#bfa699,#bca99e,#b9aca4,#b6aeaa,#b2b0ae,#b0b1b2,#aeb0b4,#adb0b5,#acb0b6,#acb0b7,#abafb7,#abafb7,#abafb7,#abafb7,#abafb7,#abafb7,#abafb7,#abafb7,#abafb7,#abafb7,#abafb7,#acb0b6,#acb0b6,#adb0b5,#aeb0b4,#afb0b2,#b1b1b1,#b2b0ae,#b4afac,#b5aeaa,#b6ada9,#b6ada8,#b6ada9,#b6aeaa,#b4aeab,#b3afad,#b1b0b0,#b0b1b2,#aeb0b3,#adb0b5,#acb0b6,#acb0b7,#abafb7,#abafb8,#abafb8,#aaafb8,#aaafb8,#aaafb8,#aaafb8,#aaafb8,#abafb8,#abafb7,#acafb7,#acb0b6,#adb0b5,#afb0b3,#b0b1b2,#b2b0b0,#b3afad,#b4afac,#b5aeaa,#b6aea9,#b6aeaa,#b5aeab,#b4afac,#b2b0ae,#b1b1b1,#afb0b3,#aeb0b4,#adb0b6,#acb0b6)"></i>
<i style="top:106px;height:2px;background:linear-gradient(90deg,#c49e8c,#c49e8c,#c49e8c,#c39e8c,#c39e8c,#c39e8d,#c39f8e,#c2a08f,#c2a191,#c1a495,#bfa699,#bca99f,#b9aca4,#b5aeaa,#b2b0af,#b0b1b2,#aeb0b4,#adb0b5,#acb0b6,#acb0b6,#abafb7,#abafb7,#abafb7,#abafb7,#abafb7,#abafb7,#abafb7,#abafb7,#abafb7,#abafb7,#abafb7,#acb0b6,#acb0b6,#adb0b5,#aeb0b4,#afb0b3,#b0b1b1,#b2b0af,#b3afad,#b4afac,#b5aeaa,#b5aeaa,#b5aeaa,#b5aeab,#b4afad,#b2b0af,#b1b1b1,#afb0b2,#aeb0b4,#adb0b5,#acb0b6,#abafb7,#abafb7,#abafb8,#abafb8,#aaafb8,#aaafb8,#aaafb8,#aaafb8,#aaafb8,#abafb8,#abafb7,#abafb7,#acb0b6,#adb0b5,#aeb0b4,#afb0b2,#b1b1b1,#b2b0af,#b3afad,#b4afac,#b5aeab,#b5aeab,#b4afac,#b3afae,#b2b0b0,#b0b1b2,#afb0b3,#adb0b5,#acb0b6,#acb0b6)"></i>
<i style="top:108px;height:2px;background:linear-gradient(90deg,#c49e8c,#c39e8c,#c39e8c,#c39e8c,#c39e8c,#c39e8d,#c39f8e,#c2a08f,#c2a292,#c0a495,#bfa699,#bca99f,#b9aca5,#b5aeaa,#b2b0af,#b0b1b2,#aeb0b4,#adb0b5,#acb0b6,#acb0b6,#acafb7,#abafb7,#abafb7,#abafb7,#abafb7,#abafb7,#abafb7,#abafb7,#abafb7,#abafb7,#abafb7,#acb0b7,#acb0b6,#adb0b5,#aeb0b4,#afb0b3,#b0b1b2,#b1b1b0,#b2b0ae,#b4afad,#b4afac,#b5aeab,#b4afab,#b4afac,#b3b0ae,#b2b0b0,#b0b1b1,#afb0b3,#aeb0b4,#adb0b5,#acb0b6,#abafb7,#abafb7,#abafb8,#abafb8,#aaafb8,#aaafb8,#aaafb8,#aaafb8,#aaafb8,#abafb8,#abafb7,#abafb7,#acb0b6,#adb0b5,#aeb0b4,#afb0b3,#b0b1b1,#b2b0b0,#b3b0ae,#b3afad,#b4afac,#b4afac,#b3afad,#b2b0af,#b1b1b1,#b0b1b2,#aeb0b4,#adb0b5,#acb0b6,#acb0b6)"></i>
<i style="top:110px;height:2px;background:linear-gradient(90deg,#c49e8c,#c39e8c,#c39e8c,#c39e8c,#c39e8c,#c39e8d,#c39f8e,#c2a08f,#c2a292,#c0a495,#bfa699,#bca99f,#b9aca5,#b5aeaa,#b2b0af,#b0b1b2,#aeb0b4,#adb0b5,#acb0b6,#acb0b6,#acafb7,#abafb7,#abafb7,#abafb7,#abafb7,#abafb7,#abafb7,#abafb7,#abafb7,#abafb7,#abafb7,#acb0b7,#acb0b6,#adb0b5,#aeb0b4,#afb0b3,#b0b1b2,#b1b1b0,#b2b0ae,#b3afad,#b4afac,#b5aeab,#b4afab,#b4afac,#b3b0ae,#b2b0b0,#b0b1b1,#afb0b3,#aeb0b4,#adb0b5,#acb0b6,#abafb7,#abafb7,#abafb8,#abafb8,#aaafb8,#aaafb8,#aaafb8,#aaafb8,#aaafb8,#abafb8,#abafb7,#abafb7,#acb0b6,#adb0b5,#aeb0b4,#afb0b3,#b0b1b1,#b2b0b0,#b3b0ae,#b3afad,#b4afac,#b4afad,#b3afad,#b2b0af,#b1b1b1,#b0b1b2,#aeb0b4,#adb0b5,#acb0b6,#acb0b6)"></i>
</div></div>
<div class="fw" style="left:13px;top:405px;width:311px;height:106px">
<div class="fi" style="left:-3px;top:-3px;width:317px;height:112px;filter:blur(0.9px)">
<i style="top:0px;height:2px;background:linear-gradient(90deg,#c59681,#c59681,#c59782,#c59782,#c59883,#c59985,#c59a87,#c49d8a,#c39f8e,#c1a394,#bea79b,#baaba2,#b5aeaa,#b1b1b1,#acb0b6,#a9afb9,#a6aebc,#a4aebe,#a2adbf,#a1adc0,#a0acc1,#9facc1,#9eacc1,#9eacc2,#9eabc2,#9eabc2,#9eacc1,#9eacc1,#9facc1,#9facc1,#9facc1,#a0acc0,#a0acc0,#a1adc0,#a1adc0,#a1adc0,#a2adbf,#a2adbf,#a2adbf,#a2adbf,#a2adbf,#a2adbf,#a2adbf,#a2adbf,#a2adbf,#a2adbf,#a2adbf,#a2adbf,#a2adbf,#a2adbf,#a3adbf,#a3aebe,#a4aebe,#a5aebd,#a6aebc,#a6aebc,#a7aebb,#a8afbb,#a8afba,#a9afba,#a9afb9,#aaafb9,#aaafb8,#aaafb8,#aaafb8,#aaafb8,#aaafb8,#aaafb8,#aaafb9,#a9afb9,#a9afb9,#a8afba,#a8afba,#a7afbb,#a7aebb,#a6aebc,#a6aebc,#a5aebc,#a5aebd,#a5aebd,#a4aebd)"></i>
<i style="top:2px;height:2px;background:linear-gradient(90deg,#c59681,#c59681,#c59782,#c59782,#c59883,#c59985,#c59a87,#c49d8a,#c39f8e,#c1a394,#bea79b,#baaba2,#b5aeaa,#b1b1b1,#acb0b6,#a9afb9,#a6aebc,#a4aebe,#a2adbf,#a0adc0,#9facc1,#9facc1,#9eacc1,#9eabc2,#9eabc2,#9eabc2,#9eacc1,#9eacc1,#9facc1,#9facc1,#9facc1,#a0acc0,#a0acc0,#a1adc0,#a1adc0,#a1adc0,#a2adbf,#a2adbf,#a2adbf,#a2adbf,#a2adbf,#a2adbf,#a2adbf,#a2adbf,#a2adbf,#a2adbf,#a2adbf,#a2adbf,#a2adbf,#a2adbf,#a3adbf,#a3aebe,#a4aebe,#a5aebd,#a6aebc,#a6aebc,#a7aebb,#a8afba,#a8afba,#a9afba,#a9afb9,#aaafb9,#aaafb8,#aaafb8,#aaafb8,#aaafb8,#aaafb8,#aaafb8,#aaafb9,#a9afb9,#a9afb9,#a8afba,#a8afba,#a7afbb,#a7aebb,#a6aebc,#a6aebc,#a5aebc,#a5aebd,#a5aebd,#a4aebd)"></i>
<i style="top:4px;height:2px;background:linear-gradient(90deg,#c59681,#c59681,#c59781,#c59782,#c59883,#c59984,#c59a87,#c49d8a,#c39f8e,#c1a394,#bea79a,#baaba2,#b5aeaa,#b1b1b1,#acb0b6,#a9afba,#a6aebc,#a3aebe,#a1adc0,#a0acc0,#9facc1,#9eacc2,#9dabc2,#9dabc2,#9dabc2,#9dabc2,#9dabc2,#9eabc2,#9eacc1,#9facc1,#9facc1,#9facc1,#a0acc0,#a0acc0,#a1adc0,#a1adc0,#a1adbf,#a2adbf,#a2adbf,#a2adbf,#a2adbf,#a2adbf,#a2adbf,#a2adbf,#a2adbf,#a2adbf,#a1adc0,#a1adc0,#a1adc0,#a2adbf,#a2adbf,#a3aebf,#a4aebe,#a5aebd,#a6aebc,#a6aebc,#a7aebb,#a8afba,#a8afba,#a9afb9,#a9afb9,#aaafb9,#aaafb8,#aaafb8,#aaafb8,#aaafb8,#aaafb8,#aaafb8,#aaafb8,#aaafb9,#a9afb9,#a9afba,#a8afba,#a8afbb,#a7aebb,#a6aebc,#a6aebc,#a5aebc,#a5aebd,#a5aebd,#a5aebd)"></i>
<i style="top:6px;height:2px;background:linear-gradient(90deg,#c59681,#c59681,#c59781,#c59782,#c59883,#c59984,#c59a86,#c49c8a,#c39f8e,#c1a393,#bea79a,#baaba2,#b6aeaa,#b1b1b1,#acb0b6,#a8afba,#a5aebd,#a3adbf,#a1adc0,#9facc1,#9eabc2,#9dabc2,#9cabc3,#9cabc3,#9cabc3,#9cabc3,#9cabc2,#9dabc2,#9dabc2,#9eacc2,#9facc1,#9facc1,#a0acc1,#a0acc0,#a0adc0,#a1adc0,#a1adc0,#a2adbf,#a2adbf,#a2adbf,#a2adbf,#a2adbf,#a2adbf,#a2adbf,#a2adbf,#a1adc0,#a1adc0,#a1adc0,#a1adc0,#a1adc0,#a2adbf,#a3adbf,#a4aebe,#a5aebd,#a6aebc,#a6aebc,#a7aebb,#a8afba,#a8afba,#a9afb9,#aaafb9,#aaafb8,#aaafb8,#abafb8,#abafb8,#abafb8,#abafb8,#aaafb8,#aaafb8,#aaafb9,#a9afb9,#a9afb9,#a8afba,#a8afba,#a7aebb,#a7aebb,#a6aebc,#a6aebc,#a5aebd,#a5aebd,#a5aebd)"></i>
<i style="top:8px;height:2px;background:linear-gradient(90deg,#c59681,#c59681,#c59681,#c59782,#c59783,#c59884,#c59a86,#c49c89,#c39f8e,#c1a393,#bea79a,#baaaa2,#b6aeaa,#b1b1b1,#acb0b6,#a8afba,#a5aebd,#a2adbf,#a0acc0,#9eacc2,#9dabc2,#9cabc3,#9baac3,#9baac3,#9baac3,#9baac3,#9baac3,#9cabc3,#9dabc2,#9dabc2,#9eabc2,#9facc1,#9facc1,#a0acc0,#a0acc0,#a1adc0,#a1adc0,#a1adbf,#a2adbf,#a2adbf,#a2adbf,#a2adbf,#a2adbf,#a2adbf,#a1adbf,#a1adc0,#a0acc0,#a0acc0,#a0acc0,#a0acc0,#a1adc0,#a2adbf,#a3aebe,#a5aebd,#a6aebc,#a6aebb,#a7afbb,#a8afba,#a9afba,#a9afb9,#aaafb9,#aaafb8,#abafb8,#abafb8,#abafb7,#abafb7,#abafb8,#abafb8,#aaafb8,#aaafb8,#aaafb9,#a9afb9,#a8afba,#a8afba,#a7afbb,#a7aebb,#a6aebc,#a6aebc,#a5aebd,#a5aebd,#a5aebd)"></i>
<i style="top:10px;height:2px;background:linear-gradient(90deg,#c59681,#c59681,#c59681,#c59781,#c59782,#c59883,#c59986,#c49c89,#c39f8d,#c1a293,#bea69a,#bbaaa1,#b6aeaa,#b0b1b1,#acb0b6,#a8afba,#a4aebd,#a1adc0,#9facc1,#9dabc2,#9baac3,#9aaac4,#99aac4,#99a9c4,#99a9c4,#99aac4,#9aaac4,#9baac3,#9cabc3,#9cabc2,#9dabc2,#9eacc1,#9facc1,#9facc1,#a0acc0,#a1adc0,#a1adc0,#a1adc0,#a2adbf,#a2adbf,#a2adbf,#a2adbf,#a2adbf,#a2adbf,#a1adc0,#a0adc0,#a0acc0,#9facc1,#9facc1,#a0acc0,#a1adc0,#a2adbf,#a3aebe,#a4aebd,#a5aebc,#a7aebb,#a7afbb,#a8afba,#a9afb9,#a9afb9,#aaafb8,#aaafb8,#abafb8,#abafb7,#abafb7,#abafb7,#abafb7,#abafb8,#abafb8,#aaafb8,#aaafb9,#a9afb9,#a9afba,#a8afba,#a7afbb,#a7aebb,#a6aebc,#a6aebc,#a5aebd,#a5aebd,#a5aebd)"></i>
<i style="top:12px;height:2px;background:linear-gradient(90deg,#c69681,#c69681,#c59681,#c59681,#c59782,#c59883,#c59985,#c49b88,#c39e8c,#c1a292,#bfa699,#bbaaa1,#b6aea9,#b0b1b1,#acb0b7,#a7afbb,#a4aebe,#a0acc0,#9eabc2,#9baac3,#9aaac4,#98a9c5,#98a9c5,#97a8c5,#97a8c5,#98a9c5,#99a9c5,#99aac4,#9baac4,#9cabc3,#9dabc2,#9eabc2,#9eacc1,#9facc1,#a0acc0,#a0acc0,#a1adc0,#a1adc0,#a1adbf,#a2adbf,#a2adbf,#a2adbf,#a2adbf,#a1adc0,#a1adc0,#a0acc0,#9facc1,#9facc1,#9facc1,#9facc1,#a0acc0,#a1adc0,#a3adbf,#a4aebe,#a5aebc,#a7aebb,#a7afbb,#a8afba,#a9afb9,#aaafb9,#aaafb8,#aaafb8,#abafb8,#abafb7,#abafb7,#abafb7,#abafb7,#abafb7,#abafb8,#aaafb8,#aaafb9,#a9afb9,#a9afb9,#a8afba,#a7afbb,#a7aebb,#a6aebc,#a6aebc,#a5aebd,#a5aebd,#a5aebd)"></i>
<i style="top:14px;height:2px;background:linear-gradient(90deg,#c69680,#c69680,#c69680,#c69681,#c59681,#c59782,#c59884,#c49b87,#c49e8c,#c2a191,#bfa698,#bbaaa0,#b6aea9,#b1b1b1,#acafb7,#a7aebb,#a3adbf,#9facc1,#9cabc3,#9aaac4,#98a9c5,#96a8c6,#95a7c6,#95a7c6,#95a7c6,#96a8c6,#97a8c5,#98a9c5,#99a9c4,#9baac4,#9cabc3,#9dabc2,#9eacc2,#9facc1,#a0acc0,#a0acc0,#a1adc0,#a1adc0,#a1adc0,#a2adbf,#a2adbf,#a2adbf,#a1adbf,#a1adc0,#a0adc0,#a0acc1,#9facc1,#9eacc1,#9eacc1,#9eacc1,#9facc1,#a1adc0,#a2adbf,#a4aebe,#a5aebc,#a7aebb,#a7afbb,#a8afba,#a9afb9,#aaafb9,#aaafb8,#abafb8,#abafb7,#abafb7,#abafb7,#abafb7,#abafb7,#abafb7,#abafb8,#aaafb8,#aaafb8,#a9afb9,#a9afb9,#a8afba,#a8afbb,#a7aebb,#a6aebc,#a6aebc,#a5aebd,#a5aebd,#a5aebd)"></i>
<i style="top:16px;height:2px;background:linear-gradient(90deg,#c69680,#c69680,#c69680,#c69680,#c69680,#c59781,#c59883,#c59a86,#c49d8b,#c2a190,#bfa597,#bcaaa0,#b6ada9,#b1b1b1,#abafb7,#a6aebc,#a2adbf,#9eabc2,#9baac4,#98a9c5,#95a8c6,#94a7c7,#93a6c7,#92a6c8,#93a6c7,#93a7c7,#95a7c6,#96a8c6,#98a9c5,#99aac4,#9baac3,#9cabc2,#9eabc2,#9facc1,#a0acc0,#a0acc0,#a1adc0,#a1adc0,#a1adc0,#a1adc0,#a1adbf,#a1adbf,#a1adc0,#a1adc0,#a0acc0,#9facc1,#9eacc1,#9eabc2,#9eabc2,#9eacc2,#9facc1,#a0adc0,#a2adbf,#a4aebe,#a5aebd,#a7aebb,#a8afbb,#a8afba,#a9afb9,#aaafb9,#aaafb8,#abafb8,#abafb7,#abafb7,#abafb7,#abafb7,#abafb7,#abafb7,#abafb8,#aaafb8,#aaafb8,#a9afb9,#a9afb9,#a8afba,#a8afba,#a7aebb,#a6aebc,#a6aebc,#a5aebd,#a5aebd,#a5aebd)"></i>
<i style="top:18px;height:2px;background:linear-gradient(90deg,#c69580,#c69580,#c69580,#c6957f,#c69580,#c69680,#c59782,#c59985,#c49c89,#c2a08f,#c0a596,#bca99f,#b7ada8,#b1b1b1,#abafb7,#a6aebc,#a1adc0,#9cabc2,#99a9c4,#95a8c6,#93a6c7,#91a5c8,#90a4c9,#8fa4c9,#90a4c9,#91a5c8,#92a6c8,#94a7c7,#96a8c6,#98a9c5,#9aaac4,#9cabc3,#9eabc2,#9facc1,#a0acc0,#a1adc0,#a1adc0,#a1adc0,#a1adc0,#a1adc0,#a1adc0,#a1adc0,#a1adc0,#a0adc0,#a0acc0,#9facc1,#9eacc2,#9dabc2,#9dabc2,#9eabc2,#9facc1,#a0acc0,#a2adbf,#a4aebe,#a5aebd,#a6aebb,#a8afbb,#a8afba,#a9afb9,#aaafb9,#aaafb8,#abafb8,#abafb7,#abafb7,#abafb7,#abafb7,#abafb7,#abafb7,#abafb8,#aaafb8,#aaafb8,#aaafb9,#a9afb9,#a8afba,#a8afba,#a7aebb,#a6aebc,#a6aebc,#a5aebc,#a5aebd,#a5aebd)"></i>
<i style="top:20px;height:2px;background:linear-gradient(90deg,#c6957f,#c6957f,#c6957f,#c6957f,#c6947f,#c6957f,#c69680,#c59883,#c49b87,#c39f8d,#c0a495,#bda99e,#b7ada7,#b1b1b1,#abafb7,#a5aebd,#a0acc0,#9baac3,#96a8c6,#93a6c7,#90a4c9,#8da2ca,#8ca1ca,#8ca1ca,#8ca2ca,#8ea2c9,#90a4c9,#92a6c8,#94a7c7,#97a8c5,#99a9c4,#9cabc3,#9eabc2,#a0acc1,#a1adc0,#a1adc0,#a1adc0,#a1adc0,#a1adc0,#a1adc0,#a1adc0,#a1adc0,#a1adc0,#a0acc0,#9facc1,#9facc1,#9eabc2,#9dabc2,#9dabc2,#9dabc2,#9eacc1,#a0acc0,#a2adbf,#a4aebe,#a5aebd,#a6aebc,#a7afbb,#a8afba,#a9afb9,#aaafb9,#aaafb8,#abafb8,#abafb7,#abafb7,#abafb7,#abafb7,#abafb7,#abafb7,#abafb8,#aaafb8,#aaafb8,#aaafb9,#a9afb9,#a8afba,#a8afba,#a7aebb,#a6aebb,#a6aebc,#a5aebc,#a5aebd,#a5aebd)"></i>
<i style="top:22px;height:2px;background:linear-gradient(90deg,#c6957f,#c6957f,#c6947e,#c6947e,#c6947e,#c6947e,#c6957f,#c59681,#c59985,#c49e8c,#c1a393,#bda89c,#b8aca6,#b1b1b0,#abafb7,#a5aebd,#9eacc1,#99a9c4,#94a7c7,#90a4c9,#8ca2ca,#89a0cb,#889fcb,#879ecb,#889fcb,#8aa0cb,#8da2ca,#90a4c9,#93a6c7,#96a8c6,#99a9c5,#9babc3,#9eacc1,#a0adc0,#a2adbf,#a2adbf,#a2adbf,#a1adc0,#a1adc0,#a1adc0,#a0acc0,#a0acc0,#a0acc0,#a0acc1,#9facc1,#9eacc1,#9dabc2,#9dabc2,#9dabc2,#9dabc2,#9eacc1,#a0acc0,#a2adbf,#a4aebe,#a5aebd,#a6aebc,#a7afbb,#a8afba,#a9afb9,#aaafb9,#aaafb8,#abafb8,#abafb8,#abafb7,#abafb7,#abafb7,#abafb7,#abafb8,#abafb8,#aaafb8,#aaafb8,#a9afb9,#a9afb9,#a8afba,#a8afba,#a7aebb,#a6aebb,#a6aebc,#a5aebc,#a5aebd,#a5aebd)"></i>
<i style="top:24px;height:2px;background:linear-gradient(90deg,#c6947f,#c6947e,#c6947e,#c6937d,#c6927c,#c6927c,#c6937d,#c6957f,#c59883,#c49c89,#c2a191,#bea79b,#b8aca5,#b2b0b0,#abafb8,#a4aebe,#9dabc2,#97a8c5,#91a5c8,#8ca2ca,#889fcb,#859dcc,#839bcc,#829bcc,#839ccc,#869dcb,#89a0cb,#8da2ca,#90a4c8,#94a7c7,#98a9c5,#9babc3,#9facc1,#a2adbf,#a3aebe,#a4aebe,#a3adbf,#a2adbf,#a1adc0,#a0acc0,#a0acc0,#a0acc1,#9facc1,#9facc1,#9eacc1,#9eabc2,#9dabc2,#9dabc2,#9dabc2,#9dabc2,#9eacc1,#a0acc0,#a2adbf,#a4aebe,#a5aebd,#a6aebc,#a7afbb,#a8afba,#a9afb9,#aaafb9,#aaafb8,#aaafb8,#abafb8,#abafb8,#abafb8,#abafb8,#abafb8,#abafb8,#aaafb8,#aaafb8,#aaafb9,#a9afb9,#a9afb9,#a8afba,#a8afba,#a7aebb,#a6aebb,#a6aebc,#a5aebc,#a5aebd,#a5aebd)"></i>
<i style="top:26px;height:2px;background:linear-gradient(90deg,#c6947e,#c6947e,#c6937d,#c6927c,#c6917b,#c6917a,#c6917b,#c6937d,#c69680,#c59a87,#c2a08f,#bfa699,#b9aba4,#b2b0af,#abafb8,#a3aebf,#9baac3,#94a7c7,#8ea3c9,#899fcb,#839ccc,#8099cc,#7d97cc,#7d97cc,#7e98cc,#819acc,#859dcb,#8aa0cb,#8ea3c9,#93a6c7,#97a8c5,#9cabc3,#a0acc0,#a4aebe,#a5aebd,#a5aebd,#a4aebe,#a2adbf,#a1adc0,#a0acc0,#9facc1,#9facc1,#9eacc1,#9eacc1,#9eabc2,#9eabc2,#9dabc2,#9dabc2,#9dabc2,#9dabc2,#9eacc1,#a0acc0,#a2adbf,#a3aebe,#a5aebd,#a6aebc,#a7aebb,#a8afba,#a9afb9,#a9afb9,#aaafb8,#aaafb8,#aaafb8,#aaafb8,#aaafb8,#aaafb8,#aaafb8,#aaafb8,#aaafb8,#aaafb8,#aaafb9,#a9afb9,#a9afb9,#a8afba,#a8afba,#a7aebb,#a6aebc,#a6aebc,#a5aebc,#a5aebd,#a5aebd)"></i>
<i style="top:28px;height:2px;background:linear-gradient(90deg,#c6937d,#c6937d,#c6927c,#c6917a,#c69079,#c68f78,#c68f78,#c6917a,#c6947d,#c59884,#c39e8d,#c0a597,#baaba2,#b2b0ae,#aaafb8,#a2adbf,#99a9c4,#92a5c8,#8ba1ca,#849ccc,#7e98cc,#7a94cc,#7892cc,#7792cc,#7993cc,#7c96cc,#819acc,#869ecb,#8ca1ca,#91a5c8,#97a8c6,#9cabc3,#a2adbf,#a6aebc,#a8afbb,#a7aebb,#a5aebd,#a3adbf,#a1adc0,#9facc1,#9eacc1,#9eabc2,#9dabc2,#9dabc2,#9dabc2,#9dabc2,#9dabc2,#9dabc2,#9dabc2,#9eabc2,#9facc1,#a0acc0,#a2adbf,#a3aebe,#a5aebd,#a6aebc,#a7aebb,#a8afba,#a9afba,#a9afb9,#aaafb9,#aaafb8,#aaafb8,#aaafb8,#aaafb8,#aaafb9,#aaafb9,#aaafb9,#aaafb9,#a9afb9,#a9afb9,#a9afb9,#a9afba,#a8afba,#a8afbb,#a7aebb,#a6aebc,#a6aebc,#a5aebc,#a5aebd,#a5aebd)"></i>
<i style="top:30px;height:2px;background:linear-gradient(90deg,#c6937d,#c6927c,#c6917b,#c69079,#c68e77,#c68d76,#c68d75,#c68e77,#c6917a,#c69680,#c49c8a,#c1a394,#bbaaa1,#b3b0ae,#aaafb8,#a0acc0,#97a8c6,#8ea3c9,#879ecb,#8099cc,#7994cc,#7490cc,#728dcb,#718dcb,#738fcb,#7792cc,#7d97cc,#839ccc,#89a0cb,#90a4c9,#96a8c6,#9dabc2,#a3aebe,#a8afba,#aaafb8,#a9afb9,#a7aebb,#a4aebe,#a1adc0,#9facc1,#9dabc2,#9cabc3,#9cabc3,#9cabc3,#9cabc2,#9dabc2,#9dabc2,#9dabc2,#9eabc2,#9eacc1,#9facc1,#a0acc0,#a2adbf,#a3aebe,#a4aebd,#a5aebc,#a6aebc,#a7afbb,#a8afba,#a9afb9,#a9afb9,#a9afb9,#a9afb9,#a9afb9,#a9afb9,#a9afb9,#a9afb9,#a9afb9,#a9afb9,#a9afb9,#a9afb9,#a9afb9,#a8afba,#a8afba,#a7afbb,#a7aebb,#a6aebc,#a6aebc,#a5aebd,#a5aebd,#a5aebd)"></i>
<i style="top:32px;height:2px;background:linear-gradient(90deg,#c6927c,#c6927b,#c69079,#c68e77,#c68c75,#c68b73,#c68a72,#c68b73,#c68e77,#c6937d,#c59a86,#c2a292,#bca99f,#b3afad,#a9afb9,#9dabc2,#93a6c7,#8aa0cb,#829bcc,#7b95cc,#748fcb,#6e8acb,#6b87ca,#6b87ca,#6e8aca,#728ecb,#7893cc,#7f99cc,#879ecb,#8ea3c9,#95a7c6,#9dabc2,#a5aebd,#aaafb8,#acb0b6,#abafb7,#a8afba,#a4aebe,#a0acc0,#9eabc2,#9cabc3,#9baac3,#9aaac4,#9baac3,#9baac3,#9cabc3,#9dabc2,#9dabc2,#9eacc2,#9facc1,#a0acc1,#a1adc0,#a2adbf,#a3adbf,#a4aebe,#a5aebd,#a6aebc,#a7aebb,#a8afba,#a8afba,#a9afb9,#a9afb9,#a9afb9,#a9afba,#a8afba,#a8afba,#a8afba,#a8afba,#a8afba,#a8afba,#a8afba,#a8afba,#a8afba,#a8afba,#a7afbb,#a7aebb,#a6aebc,#a6aebc,#a5aebd,#a5aebd,#a5aebd)"></i>
<i style="top:34px;height:2px;background:linear-gradient(90deg,#c6927b,#c6917a,#c68f78,#c68d75,#c68a72,#c68870,#c6876f,#c6886f,#c68a72,#c68f79,#c59782,#c3a08e,#bda89d,#b3afad,#a7aebb,#99a9c5,#8da2ca,#849ccc,#7d97cc,#7591cc,#6e8aca,#6884c9,#6581c8,#6581c8,#6884c9,#6d89ca,#7490cc,#7c96cc,#849ccc,#8ca2ca,#95a7c7,#9dabc2,#a6aebc,#acb0b6,#aeb0b4,#adb0b5,#a9afb9,#a5aebd,#a0acc0,#9dabc2,#9aaac4,#99a9c4,#99a9c4,#99a9c4,#9aaac4,#9cabc3,#9dabc2,#9eabc2,#9facc1,#9facc1,#a0acc0,#a1adc0,#a2adbf,#a2adbf,#a3aebe,#a4aebe,#a5aebd,#a6aebc,#a7aebb,#a8afba,#a8afba,#a8afba,#a8afba,#a8afba,#a7afbb,#a7aebb,#a7aebb,#a7aebb,#a7afbb,#a8afba,#a8afba,#a8afba,#a8afba,#a8afba,#a7aebb,#a7aebb,#a6aebc,#a6aebc,#a5aebd,#a5aebd,#a5aebd)"></i>
<i style="top:36px;height:2px;background:linear-gradient(90deg,#c6917a,#c6907a,#c68e77,#c68b73,#c68870,#c6866d,#c5846b,#c5846b,#c6866e,#c68b74,#c6937d,#c49d8b,#bea79a,#b3b0ae,#a1adc0,#8fa4c9,#849ccc,#7c96cc,#7792cc,#708ccb,#6985c9,#637fc7,#5f7bc6,#5f7bc6,#627ec7,#6884c9,#708ccb,#7993cc,#819acc,#8ba0cb,#94a7c7,#9dabc2,#a7aebb,#adb0b5,#b0b1b2,#aeb0b4,#aaafb8,#a5aebd,#a0acc1,#9cabc3,#99a9c4,#97a9c5,#97a8c5,#98a9c5,#99a9c4,#9baac3,#9dabc2,#9eacc1,#9facc1,#a0acc0,#a1adc0,#a1adc0,#a1adbf,#a2adbf,#a2adbf,#a3aebf,#a4aebe,#a5aebd,#a6aebc,#a7aebb,#a7afbb,#a7afbb,#a7aebb,#a7aebb,#a6aebc,#a6aebc,#a6aebc,#a6aebc,#a6aebc,#a7aebb,#a7afbb,#a8afbb,#a8afbb,#a7afbb,#a7aebb,#a7aebb,#a6aebc,#a6aebc,#a5aebd,#a5aebd,#a5aebd)"></i>
<i style="top:38px;height:2px;background:linear-gradient(90deg,#c69079,#c68f79,#c68d75,#c68971,#c6866d,#c5836a,#c48067,#c48067,#c58168,#c6866e,#c68f78,#c59a86,#bfa699,#adb0b5,#8fa3c9,#7a94cc,#7591cc,#728ecb,#708ccb,#6b87ca,#637fc7,#5d79c4,#5a75c3,#5a75c3,#5d79c5,#6480c7,#6c88ca,#7591cc,#7f98cc,#899fcb,#92a6c8,#9cabc2,#a6aebc,#adb0b5,#b0b1b2,#afb0b3,#aaafb8,#a5aebd,#9facc1,#9baac3,#98a9c5,#96a8c6,#95a7c6,#96a8c6,#98a9c5,#9aaac4,#9dabc2,#9eacc1,#a0acc1,#a0adc0,#a1adc0,#a1adc0,#a1adc0,#a1adc0,#a1adc0,#a2adbf,#a3adbf,#a4aebe,#a5aebd,#a6aebc,#a7aebb,#a7aebb,#a6aebc,#a5aebc,#a5aebd,#a4aebd,#a4aebd,#a5aebd,#a5aebd,#a6aebc,#a7aebb,#a7aebb,#a7aebb,#a7aebb,#a7aebb,#a6aebb,#a6aebc,#a6aebc,#a5aebd,#a5aebd,#a5aebd)"></i>
<i style="top:40px;height:2px;background:linear-gradient(90deg,#c68f79,#c68f78,#c68b74,#c6886f,#c5846b,#c48067,#c47c64,#c37b62,#c37b62,#c47f66,#c68870,#c6957f,#bfa699,#9aaac4,#6985c9,#5570c0,#5e79c5,#6682c8,#6985c9,#6682c8,#5e7ac5,#5873c2,#5570c0,#5570c0,#5974c2,#607cc6,#6985c9,#738ecb,#7c96cc,#869ecb,#90a4c8,#9baac3,#a5aebd,#acb0b6,#afb0b2,#aeb0b4,#aaafb8,#a4aebe,#9eacc1,#9aaac4,#96a8c6,#94a7c7,#94a7c7,#95a7c7,#97a8c5,#9aaac4,#9dabc2,#9facc1,#a0acc0,#a1adc0,#a1adc0,#a1adc0,#a0adc0,#a0acc0,#a0acc1,#a0acc0,#a1adc0,#a2adbf,#a4aebe,#a5aebd,#a6aebc,#a6aebc,#a5aebd,#a4aebe,#a3aebe,#a3adbf,#a3adbf,#a3aebe,#a4aebe,#a5aebd,#a6aebc,#a6aebc,#a7aebb,#a7aebb,#a7aebb,#a6aebc,#a6aebc,#a5aebc,#a5aebd,#a5aebd,#a5aebd)"></i>
<i style="top:42px;height:2px;background:linear-gradient(90deg,#c68f78,#c68e77,#c68a72,#c6866d,#c58168,#c47c64,#c37860,#c2755c,#c1735a,#c2755c,#c47e65,#c68e77,#bfa698,#7f98cc,#4b64b8,#3648a3,#3c51ab,#5873c1,#637fc7,#617dc6,#5a76c3,#546fbf,#516bbd,#516cbd,#5570c0,#5d78c4,#6682c8,#708ccb,#7a94cc,#849ccc,#8ea3c9,#98a9c5,#a3adbf,#aaafb8,#aeb0b4,#adb0b5,#a9afb9,#a3aebe,#9eabc2,#99a9c4,#95a7c6,#93a6c7,#92a6c8,#93a6c7,#96a8c6,#99aac4,#9dabc2,#9facc1,#a1adc0,#a1adbf,#a1adbf,#a1adc0,#a0acc0,#9facc1,#9eabc2,#9eacc2,#9facc1,#a1adc0,#a2adbf,#a4aebe,#a5aebd,#a4aebd,#a4aebe,#a3adbf,#a2adbf,#a1adc0,#a1adc0,#a1adbf,#a3adbf,#a4aebe,#a5aebd,#a6aebc,#a6aebc,#a6aebb,#a6aebc,#a6aebc,#a6aebc,#a5aebc,#a5aebd,#a5aebd,#a4aebd)"></i>
<i style="top:44px;height:2px;background:linear-gradient(90deg,#c68e77,#c68d76,#c68971,#c5846b,#c47f66,#c37961,#c1745b,#c06e56,#bd6751,#bd6650,#c06f58,#c5846b,#c2a191,#849ccc,#5671c0,#3444a0,#2f3d9a,#4d66ba,#5f7bc5,#5d79c5,#5672c1,#516bbd,#4e67bb,#4e68bb,#536dbe,#5a76c3,#6480c7,#6e8aca,#7892cc,#819acc,#8ba1ca,#95a7c6,#9facc1,#a7aebb,#abafb7,#abafb8,#a7afbb,#a3adbf,#9dabc2,#99a9c5,#95a7c6,#92a6c8,#91a5c8,#93a6c7,#96a8c6,#99a9c4,#9dabc2,#a0acc1,#a1adc0,#a2adbf,#a2adbf,#a1adc0,#9facc1,#9dabc2,#9cabc3,#9cabc3,#9dabc2,#9facc1,#a1adc0,#a3adbf,#a3aebe,#a3aebe,#a2adbf,#a1adc0,#a0acc0,#9facc1,#9facc1,#a0acc1,#a1adc0,#a3adbf,#a4aebe,#a5aebd,#a6aebc,#a6aebc,#a6aebc,#a6aebc,#a6aebc,#a5aebd,#a5aebd,#a4aebd,#a4aebd)"></i>
<i style="top:46px;height:2px;background:linear-gradient(90deg,#c68d76,#c68c75,#c68870,#c5836a,#c47d64,#c2765e,#c06f57,#bd654f,#b75946,#b45141,#b75a47,#c2755c,#c59783,#a4aebe,#7c96cc,#4b64b8,#2f3d9a,#4d66ba,#5d78c4,#5b76c3,#546fbf,#4e68bb,#4b64b8,#4c65b9,#516bbd,#5874c2,#627ec7,#6c88ca,#7590cc,#7e98cc,#879ecb,#91a5c8,#9aaac4,#a3adbf,#a7aebb,#a8afba,#a6aebc,#a2adbf,#9dabc2,#99a9c5,#95a7c6,#92a6c8,#91a5c8,#92a6c8,#95a7c6,#99a9c4,#9dabc2,#a0acc0,#a2adbf,#a2adbf,#a2adbf,#a0acc0,#9eacc1,#9cabc3,#9aaac4,#9aaac4,#9baac3,#9dabc2,#9facc1,#a1adc0,#a2adbf,#a2adbf,#a1adc0,#9facc1,#9eabc2,#9dabc2,#9dabc2,#9eabc2,#9facc1,#a1adc0,#a3aebe,#a4aebd,#a5aebd,#a6aebc,#a6aebc,#a6aebc,#a6aebc,#a5aebd,#a5aebd,#a4aebd,#a4aebd)"></i>
<i style="top:48px;height:2px;background:linear-gradient(90deg,#c68d75,#c68c74,#c6876f,#c58168,#c37b62,#c1735b,#be6a53,#b85b48,#ae473a,#a53730,#a93e34,#ba614c,#c68c74,#b8aca6,#96a8c6,#6884c9,#455db3,#5570c0,#5d78c4,#5974c2,#526cbe,#4c65b9,#4a62b7,#4b64b8,#506abc,#5772c1,#617dc6,#6a86c9,#738ecb,#7b95cc,#839bcc,#8ba1ca,#94a7c7,#9dabc2,#a2adbf,#a4aebd,#a3aebe,#a1adc0,#9dabc2,#99a9c4,#96a8c6,#93a6c7,#92a5c8,#93a6c7,#96a8c6,#9aaac4,#9eabc2,#a1adc0,#a2adbf,#a3adbf,#a2adbf,#a0acc0,#9dabc2,#9aaac4,#98a9c5,#98a9c5,#99a9c4,#9baac3,#9eabc2,#a0acc0,#a1adc0,#a1adc0,#a0acc1,#9eabc2,#9cabc3,#9baac3,#9baac3,#9cabc3,#9eabc2,#a0acc0,#a2adbf,#a4aebe,#a5aebd,#a5aebc,#a6aebc,#a6aebc,#a5aebc,#a5aebd,#a5aebd,#a4aebd,#a4aebd)"></i>
<i style="top:50px;height:2px;background:linear-gradient(90deg,#c68c75,#c68b73,#c6866e,#c48067,#c37960,#c17159,#bd654f,#b45141,#a3332e,#920a20,#951322,#af493b,#c48067,#bfa698,#a2adbf,#7d96cc,#617dc6,#5f7bc6,#5e7ac5,#5974c2,#516bbd,#4b64b9,#4962b7,#4b63b8,#506abc,#5772c1,#607cc6,#6985c9,#708ccb,#7792cc,#7d97cc,#859dcc,#8ea3c9,#96a8c6,#9dabc2,#a1adc0,#a1adbf,#a0acc0,#9eabc2,#9baac4,#97a8c5,#94a7c7,#93a6c7,#94a7c7,#97a8c5,#9aaac4,#9eacc1,#a1adc0,#a3adbf,#a3aebf,#a2adbf,#a0acc1,#9cabc2,#99a9c4,#97a8c5,#96a8c6,#97a8c5,#99a9c4,#9cabc3,#9facc1,#a0acc0,#a0acc1,#9eacc1,#9cabc3,#9baac4,#99aac4,#99aac4,#9baac4,#9dabc2,#9facc1,#a1adc0,#a3aebe,#a4aebd,#a5aebd,#a5aebc,#a5aebc,#a5aebd,#a5aebd,#a5aebd,#a4aebd,#a4aebe)"></i>
<i style="top:52px;height:2px;background:linear-gradient(90deg,#c68c74,#c68b73,#c6866d,#c47f66,#c2785f,#c06f57,#bb614c,#af483a,#971924,#90031e,#90031e,#a2302c,#c2755c,#c2a191,#a8afba,#899fcb,#718dcb,#6783c8,#617dc6,#5974c2,#516bbd,#4b65b9,#4962b7,#4b64b9,#506abd,#5773c1,#607cc6,#6884c9,#6e8aca,#738ecb,#7892cc,#7e98cc,#879ecb,#90a4c9,#97a8c5,#9dabc2,#9facc1,#a0acc0,#9facc1,#9dabc2,#99aac4,#97a8c6,#95a7c6,#96a8c6,#98a9c5,#9cabc3,#9facc1,#a2adbf,#a3aebe,#a3aebe,#a2adbf,#9facc1,#9cabc3,#98a9c5,#95a8c6,#94a7c7,#95a8c6,#98a9c5,#9baac3,#9eabc2,#9facc1,#9facc1,#9dabc2,#9baac3,#99a9c4,#98a9c5,#98a9c5,#99a9c4,#9baac3,#9eabc2,#a0acc0,#a3adbf,#a4aebe,#a5aebd,#a5aebd,#a5aebd,#a5aebd,#a5aebd,#a4aebd,#a4aebe,#a4aebe)"></i>
<i style="top:54px;height:2px;background:linear-gradient(90deg,#c68c74,#c68a73,#c6856c,#c47f66,#c2775e,#c06d56,#b95e4a,#ab4136,#90031e,#90031e,#90031e,#961523,#bf6c54,#c39e8d,#acafb7,#8fa4c9,#7994cc,#6c88ca,#637fc7,#5a75c3,#526cbe,#4c66ba,#4b64b8,#4d66ba,#526cbe,#5974c2,#607cc6,#6783c8,#6c88ca,#6e8acb,#718dcb,#7792cc,#7f98cc,#899fcb,#92a6c8,#99a9c4,#9eacc2,#a0acc0,#a1adc0,#9facc1,#9dabc2,#9aaac4,#98a9c5,#98a9c5,#9aaac4,#9dabc2,#a0acc0,#a3adbf,#a4aebe,#a4aebe,#a2adbf,#9facc1,#9cabc3,#98a9c5,#95a7c6,#94a7c7,#94a7c7,#97a8c5,#9aaac4,#9dabc2,#9eacc1,#9eabc2,#9cabc3,#9aaac4,#98a9c5,#97a8c5,#97a8c5,#98a9c5,#9aaac4,#9dabc2,#a0acc0,#a2adbf,#a4aebe,#a5aebd,#a5aebd,#a5aebd,#a5aebd,#a5aebd,#a4aebd,#a4aebe,#a4aebe)"></i>
<i style="top:56px;height:2px;background:linear-gradient(90deg,#c68c74,#c68a72,#c6856c,#c47e66,#c2775e,#bf6d55,#b95d49,#a93e34,#90031e,#90031e,#90031e,#91051f,#be6851,#c49d8a,#adb0b5,#92a6c8,#7d97cc,#6f8bcb,#6480c7,#5b76c3,#536ebe,#4e68bb,#4d66ba,#4f69bc,#546ebf,#5a76c3,#617dc6,#6682c8,#6985c9,#6a86c9,#6b87ca,#6f8bcb,#7792cc,#829bcc,#8da2ca,#96a8c6,#9dabc2,#a1adc0,#a3adbf,#a2adbf,#a0acc0,#9dabc2,#9baac3,#9baac4,#9cabc3,#9facc1,#a1adc0,#a4aebe,#a4aebd,#a4aebd,#a3adbf,#a0acc1,#9cabc3,#97a9c5,#94a7c7,#93a6c7,#94a7c7,#97a8c6,#9aaac4,#9cabc2,#9eabc2,#9dabc2,#9cabc3,#99a9c4,#97a8c5,#96a8c6,#96a8c6,#97a8c5,#9aaac4,#9cabc2,#9facc1,#a2adbf,#a3aebe,#a4aebd,#a5aebd,#a5aebd,#a5aebd,#a5aebd,#a4aebd,#a4aebe,#a4aebe)"></i>
<i style="top:58px;height:2px;background:linear-gradient(90deg,#c68c74,#c68a72,#c6856c,#c47e66,#c2775e,#bf6d56,#b95e49,#aa4035,#90031e,#90031e,#90031e,#930d21,#be6a53,#c49d8b,#acb0b6,#91a5c8,#7c96cc,#6e8acb,#6581c8,#5c78c4,#5570c0,#516bbd,#5069bc,#526cbe,#5671c1,#5d78c4,#637fc7,#6682c8,#6783c9,#6682c8,#6682c8,#6884c9,#708ccb,#7b95cc,#889fcb,#94a7c7,#9cabc3,#a2adbf,#a5aebd,#a5aebc,#a4aebe,#a1adc0,#9facc1,#9eabc2,#9eacc1,#a0acc0,#a3adbf,#a4aebd,#a5aebd,#a5aebd,#a3aebe,#a0acc0,#9cabc3,#98a9c5,#95a7c6,#93a6c7,#94a7c7,#97a8c5,#9aaac4,#9cabc3,#9dabc2,#9dabc2,#9baac3,#99a9c4,#97a8c5,#95a8c6,#95a8c6,#97a8c5,#99a9c4,#9cabc3,#9facc1,#a1adc0,#a3aebf,#a4aebe,#a5aebd,#a5aebd,#a5aebd,#a4aebd,#a4aebe,#a4aebe,#a4aebe)"></i>
<i style="top:60px;height:2px;background:linear-gradient(90deg,#c68c74,#c68a73,#c6856d,#c47f66,#c2775f,#c06e57,#ba604b,#ad4539,#940e21,#90031e,#90031e,#9d2729,#c17159,#c2a08f,#aaafb9,#8ca2ca,#7691cc,#6b87ca,#6581c8,#5e7ac5,#5773c1,#546ebf,#536dbe,#5570c0,#5a75c3,#5f7bc6,#6480c7,#6783c8,#6682c8,#637fc7,#607cc6,#627ec7,#6a86c9,#7691cc,#849dcc,#92a5c8,#9cabc3,#a3aebe,#a7aebb,#a8afba,#a7afbb,#a5aebd,#a2adbf,#a1adc0,#a1adc0,#a2adbf,#a4aebe,#a5aebd,#a6aebc,#a5aebd,#a4aebe,#a1adc0,#9dabc2,#99a9c5,#95a8c6,#94a7c7,#95a7c6,#97a8c5,#9aaac4,#9cabc3,#9dabc2,#9dabc2,#9baac3,#99a9c4,#97a8c5,#95a7c6,#95a7c6,#97a8c5,#99a9c4,#9cabc3,#9facc1,#a1adc0,#a3adbf,#a4aebe,#a4aebd,#a5aebd,#a4aebd,#a4aebd,#a4aebe,#a4aebe,#a4aebe)"></i>
<i style="top:62px;height:2px;background:linear-gradient(90deg,#c68c75,#c68b73,#c6866d,#c48067,#c37960,#c17058,#bc644e,#b24e3e,#9f2b2a,#90031e,#90031e,#ab4135,#c37c63,#c0a495,#a5aebd,#839bcc,#6985c9,#6581c8,#6480c7,#607cc6,#5b76c3,#5772c1,#5672c1,#5974c2,#5d79c5,#627ec7,#6682c8,#6783c9,#6581c8,#607cc6,#5d78c4,#5d79c5,#6581c8,#728ecb,#829acc,#90a4c8,#9cabc3,#a4aebd,#a9afb9,#abafb7,#aaafb8,#a8afba,#a5aebd,#a3aebe,#a3aebe,#a4aebe,#a5aebd,#a6aebc,#a6aebc,#a6aebc,#a4aebe,#a1adc0,#9eabc2,#9aaac4,#97a8c5,#95a7c6,#96a8c6,#98a9c5,#9baac3,#9dabc2,#9eabc2,#9dabc2,#9baac3,#99a9c4,#97a8c5,#96a8c6,#96a8c6,#97a8c5,#99a9c4,#9cabc3,#9facc1,#a1adc0,#a3adbf,#a4aebe,#a4aebd,#a4aebd,#a4aebd,#a4aebe,#a4aebe,#a4aebe,#a4aebe)"></i>
<i style="top:64px;height:2px;background:linear-gradient(90deg,#c68d75,#c68b74,#c6876e,#c58168,#c37a61,#c1735a,#be6852,#b65845,#ab4135,#9f2b2a,#a3332d,#b75946,#c6876f,#bcaaa0,#9cabc3,#728ecb,#526dbe,#5d79c4,#6480c7,#637fc7,#5e7ac5,#5b77c3,#5b76c3,#5d79c4,#617dc6,#6682c8,#6985c9,#6985c9,#6581c8,#5f7bc6,#5a76c3,#5a76c3,#627ec6,#6f8bcb,#8099cc,#90a4c9,#9cabc3,#a5aebc,#abafb7,#adb0b5,#adb0b5,#abafb8,#a8afba,#a6aebc,#a5aebd,#a5aebc,#a6aebc,#a7aebb,#a7aebb,#a6aebc,#a5aebd,#a2adbf,#9facc1,#9baac3,#98a9c5,#97a8c5,#98a9c5,#99a9c4,#9cabc3,#9dabc2,#9eacc1,#9dabc2,#9cabc3,#99a9c4,#97a9c5,#96a8c6,#96a8c6,#97a9c5,#9aaac4,#9cabc3,#9facc1,#a1adc0,#a3adbf,#a4aebe,#a4aebe,#a4aebd,#a4aebd,#a4aebe,#a4aebe,#a4aebe,#a4aebe)"></i>
<i style="top:66px;height:2px;background:linear-gradient(90deg,#c68d76,#c68c74,#c6886f,#c58269,#c37c63,#c2755d,#c06d56,#bb624c,#b45342,#af493b,#b35140,#c06e57,#c6937d,#adb0b5,#889fcb,#5772c1,#3445a1,#546ebf,#6480c7,#6581c8,#627ec7,#607cc6,#5f7bc6,#627ec7,#6682c8,#6a86c9,#6c88ca,#6b87ca,#6682c8,#5f7bc6,#5a75c3,#5a75c3,#617dc6,#6e8aca,#7f98cc,#8fa4c9,#9cabc2,#a6aebc,#acb0b6,#afb0b3,#afb0b3,#adb0b5,#aaafb8,#a8afba,#a7aebb,#a7aebb,#a7aebb,#a8afba,#a8afba,#a7aebb,#a6aebc,#a3aebe,#a0acc0,#9dabc2,#9aaac4,#99a9c4,#99aac4,#9baac3,#9dabc2,#9eacc1,#9facc1,#9eabc2,#9cabc3,#9aaac4,#98a9c5,#97a8c5,#97a8c5,#98a9c5,#9aaac4,#9dabc2,#9facc1,#a1adc0,#a3adbf,#a4aebe,#a4aebe,#a4aebe,#a4aebe,#a4aebe,#a4aebe,#a4aebe,#a4aebe)"></i>
<i style="top:68px;height:2px;background:linear-gradient(90deg,#c68e77,#c68d75,#c68970,#c5846b,#c47e65,#c37860,#c1725a,#bf6b54,#bc634d,#ba604b,#be6952,#c47f66,#c39e8d,#8fa3c9,#637fc7,#3b4fa9,#2f3d9a,#516bbd,#6783c8,#6985c9,#6783c8,#6480c7,#6480c7,#6682c8,#6a86c9,#6d89ca,#6f8bcb,#6e8aca,#6985c9,#617dc6,#5b77c4,#5b77c3,#627ec7,#6f8bcb,#8099cc,#90a4c9,#9dabc2,#a7aebb,#adb0b5,#b0b0b2,#b0b1b2,#aeb0b4,#acb0b7,#a9afb9,#a8afba,#a8afba,#a8afba,#a8afba,#a8afba,#a8afba,#a6aebc,#a4aebd,#a2adbf,#9facc1,#9cabc2,#9baac3,#9baac3,#9dabc2,#9eacc1,#9facc1,#9facc1,#9facc1,#9dabc2,#9baac3,#99a9c4,#98a9c5,#98a9c5,#99a9c4,#9baac3,#9dabc2,#9facc1,#a1adc0,#a3adbf,#a3aebe,#a4aebe,#a4aebe,#a4aebe,#a4aebe,#a4aebe,#a4aebe,#a4aebe)"></i>
<i style="top:70px;height:2px;background:linear-gradient(90deg,#c68e77,#c68e76,#c68a72,#c6856d,#c48068,#c37b63,#c2775e,#c1725a,#c06f57,#c17058,#c37a61,#c68b73,#c0a597,#7c96cc,#4a63b8,#3444a0,#3647a2,#5974c2,#6b87ca,#6d89ca,#6b87ca,#6985c9,#6985c9,#6b87ca,#6e8aca,#718dcb,#738ecb,#718dcb,#6c88ca,#6581c8,#5f7bc5,#5e7ac5,#6581c8,#718dcb,#819acc,#91a5c8,#9dabc2,#a7aebb,#adb0b5,#b0b1b2,#b0b1b1,#afb0b3,#adb0b6,#abafb8,#a9afb9,#a9afb9,#a9afb9,#a9afb9,#a9afb9,#a8afba,#a7aebb,#a5aebd,#a3aebf,#a0adc0,#9eacc1,#9dabc2,#9dabc2,#9eacc1,#9facc1,#a0acc0,#a0acc0,#9facc1,#9eabc2,#9cabc3,#9aaac4,#99aac4,#99aac4,#9aaac4,#9cabc3,#9eabc2,#a0acc0,#a1adbf,#a3adbf,#a3aebe,#a4aebe,#a4aebe,#a4aebe,#a4aebe,#a4aebe,#a3aebe,#a3aebe)"></i>
<i style="top:72px;height:2px;background:linear-gradient(90deg,#c68f78,#c68e77,#c68b73,#c6876f,#c5836a,#c47e66,#c37b62,#c37960,#c37860,#c37c63,#c6856c,#c6937d,#bfa699,#90a4c8,#5c78c4,#4a63b8,#5672c1,#6783c9,#718dcb,#728ecb,#708ccb,#6e8aca,#6e8aca,#708ccb,#738ecb,#7590cc,#7691cc,#7590cc,#708ccb,#6985c9,#6480c7,#6480c7,#6a86c9,#7590cc,#849ccc,#92a6c8,#9eabc2,#a7aebb,#adb0b6,#afb0b2,#b0b1b2,#afb0b3,#adb0b5,#abafb7,#aaafb8,#a9afb9,#a9afb9,#a9afb9,#a9afb9,#a9afba,#a8afba,#a6aebc,#a4aebe,#a2adbf,#a0acc0,#9facc1,#9facc1,#a0acc0,#a1adc0,#a1adc0,#a1adc0,#a0acc0,#9facc1,#9dabc2,#9cabc3,#9baac3,#9baac3,#9cabc3,#9dabc2,#9facc1,#a0acc0,#a2adbf,#a3adbf,#a3aebe,#a4aebe,#a4aebe,#a4aebe,#a4aebe,#a4aebe,#a3aebe,#a3aebe)"></i>
<i style="top:74px;height:2px;background:linear-gradient(90deg,#c69079,#c68f78,#c68c75,#c68971,#c6856c,#c58269,#c47f66,#c47e65,#c47f66,#c5846b,#c68d75,#c59884,#bfa698,#a9afb9,#859dcc,#718dcb,#728ecb,#7590cc,#7892cc,#7792cc,#7490cc,#738ecb,#738ecb,#7490cc,#7792cc,#7994cc,#7a95cc,#7993cc,#7590cc,#6f8bcb,#6a86c9,#6a86c9,#708ccb,#7a94cc,#879ecb,#94a7c7,#9eacc1,#a7aebb,#acb0b6,#afb0b3,#afb0b2,#afb0b3,#adb0b5,#abafb7,#aaafb8,#aaafb8,#aaafb8,#aaafb8,#aaafb9,#a9afb9,#a8afba,#a7aebb,#a5aebd,#a4aebe,#a2adbf,#a1adc0,#a1adc0,#a1adc0,#a2adbf,#a2adbf,#a2adbf,#a1adc0,#9facc1,#9eacc1,#9dabc2,#9cabc3,#9cabc3,#9dabc2,#9eabc2,#9facc1,#a1adc0,#a2adbf,#a3adbf,#a3aebe,#a4aebe,#a4aebe,#a4aebe,#a4aebe,#a3aebe,#a3aebe,#a3aebe)"></i>
<i style="top:76px;height:2px;background:linear-gradient(90deg,#c6917a,#c69079,#c68e76,#c68a73,#c6876f,#c6856c,#c5836a,#c5826a,#c6856c,#c68a72,#c6927b,#c49c89,#bfa699,#b2b0af,#9eabc2,#8ca1ca,#839ccc,#7f99cc,#7e98cc,#7c96cc,#7994cc,#7792cc,#7792cc,#7993cc,#7b95cc,#7d97cc,#7e98cc,#7d97cc,#7a94cc,#7590cc,#718dcb,#718dcb,#7691cc,#8099cc,#8ba1ca,#96a8c6,#9facc1,#a6aebc,#abafb7,#aeb0b4,#aeb0b3,#aeb0b4,#adb0b5,#abafb7,#abafb8,#aaafb8,#aaafb8,#aaafb8,#aaafb8,#aaafb9,#a9afba,#a8afbb,#a6aebc,#a5aebd,#a4aebe,#a3adbf,#a2adbf,#a2adbf,#a3adbf,#a3adbf,#a2adbf,#a1adbf,#a0acc0,#9facc1,#9eacc2,#9dabc2,#9dabc2,#9eabc2,#9facc1,#a0acc0,#a1adc0,#a2adbf,#a3aebf,#a3aebe,#a4aebe,#a4aebe,#a4aebe,#a4aebe,#a3aebe,#a3aebe,#a3aebe)"></i>
<i style="top:78px;height:2px;background:linear-gradient(90deg,#c6917b,#c6917a,#c68f78,#c68c75,#c68a72,#c6876f,#c6866d,#c6866e,#c68971,#c68e77,#c69680,#c39f8d,#bea89c,#b4afac,#a7aebb,#98a9c5,#8da2ca,#879ecb,#849ccc,#819acc,#7e97cc,#7c96cc,#7c96cc,#7d97cc,#7f98cc,#819acc,#829bcc,#819acc,#7f98cc,#7b95cc,#7993cc,#7993cc,#7d97cc,#859dcc,#8fa3c9,#98a9c5,#9facc1,#a6aebc,#aaafb8,#acb0b6,#adb0b5,#adb0b5,#acb0b6,#abafb7,#abafb8,#aaafb8,#aaafb8,#aaafb8,#aaafb8,#aaafb9,#a9afb9,#a8afba,#a7aebb,#a6aebc,#a5aebd,#a4aebe,#a3aebe,#a3aebe,#a3aebe,#a3aebe,#a3adbf,#a2adbf,#a1adc0,#a0acc0,#9facc1,#9facc1,#9facc1,#9facc1,#a0acc0,#a1adc0,#a2adbf,#a3adbf,#a3aebe,#a3aebe,#a4aebe,#a4aebe,#a4aebe,#a3aebe,#a3aebe,#a3aebe,#a3aebe)"></i>
<i style="top:80px;height:2px;background:linear-gradient(90deg,#c6927c,#c6927b,#c69079,#c68e77,#c68c74,#c68a72,#c68971,#c68a72,#c68d75,#c6927b,#c59985,#c2a191,#bda99e,#b4afac,#a9afb9,#9eabc2,#94a7c7,#8da2ca,#899fcb,#859dcc,#829bcc,#8099cc,#8099cc,#819acc,#839bcc,#849ccc,#869dcb,#859dcb,#849ccc,#819acc,#8099cc,#8099cc,#849ccc,#8aa0cb,#92a5c8,#99a9c4,#a0acc0,#a5aebd,#a9afb9,#abafb7,#acb0b6,#acb0b6,#acb0b7,#abafb7,#abafb8,#abafb8,#abafb8,#abafb8,#aaafb8,#aaafb8,#a9afb9,#a9afba,#a7afbb,#a6aebc,#a5aebc,#a5aebd,#a4aebd,#a4aebe,#a4aebe,#a4aebe,#a3aebe,#a3adbf,#a2adbf,#a1adc0,#a0acc0,#a0acc1,#a0acc1,#a0acc0,#a1adc0,#a1adc0,#a2adbf,#a3adbf,#a3aebe,#a3aebe,#a4aebe,#a4aebe,#a3aebe,#a3aebe,#a3aebe,#a3aebe,#a3aebe)"></i>
<i style="top:82px;height:2px;background:linear-gradient(90deg,#c6937c,#c6927c,#c6917a,#c68f78,#c68e76,#c68c75,#c68c74,#c68d76,#c69079,#c6957f,#c49b88,#c1a393,#bbaaa0,#b3afad,#aaafb8,#a1adc0,#98a9c5,#91a5c8,#8da2ca,#899fcb,#869dcb,#849ccc,#849ccc,#859dcc,#869ecb,#889fcb,#899fcb,#89a0cb,#889fcb,#879ecb,#869dcb,#879ecb,#8aa0cb,#8fa3c9,#95a7c6,#9baac3,#a0acc0,#a5aebd,#a8afba,#aaafb8,#abafb7,#abafb7,#abafb7,#abafb8,#abafb8,#abafb8,#abafb8,#abafb8,#abafb8,#aaafb8,#aaafb9,#a9afb9,#a8afba,#a7aebb,#a6aebc,#a5aebc,#a5aebd,#a5aebd,#a4aebd,#a4aebe,#a4aebe,#a3aebf,#a2adbf,#a2adbf,#a1adc0,#a1adc0,#a0adc0,#a1adc0,#a1adc0,#a2adbf,#a2adbf,#a3adbf,#a3aebe,#a3aebe,#a3aebe,#a3aebe,#a3aebe,#a3aebe,#a3aebe,#a3aebe,#a3aebe)"></i>
<i style="top:84px;height:2px;background:linear-gradient(90deg,#c6937d,#c6937d,#c6927b,#c6907a,#c68f78,#c68e77,#c68e77,#c69079,#c6937c,#c59783,#c49e8c,#c0a496,#baaaa2,#b3b0ae,#abafb8,#a3adbf,#9baac3,#94a7c7,#90a4c9,#8ca1ca,#89a0cb,#889fcb,#889ecb,#889fcb,#89a0cb,#8ba1ca,#8ca1ca,#8ca2ca,#8ca2ca,#8ca1ca,#8ba1ca,#8ca2ca,#8fa3c9,#93a6c7,#98a9c5,#9cabc3,#a1adc0,#a4aebd,#a7aebb,#a9afb9,#aaafb8,#aaafb8,#aaafb8,#aaafb8,#abafb8,#abafb8,#abafb8,#abafb8,#abafb8,#aaafb8,#aaafb9,#a9afb9,#a8afba,#a7afbb,#a7aebb,#a6aebc,#a5aebd,#a5aebd,#a5aebd,#a4aebd,#a4aebe,#a3aebe,#a3adbf,#a2adbf,#a2adbf,#a1adc0,#a1adc0,#a1adbf,#a2adbf,#a2adbf,#a3adbf,#a3aebf,#a3aebe,#a3aebe,#a3aebe,#a3aebe,#a3aebe,#a3aebe,#a3aebe,#a3aebe,#a3aebf)"></i>
<i style="top:86px;height:2px;background:linear-gradient(90deg,#c6947e,#c6937d,#c6937c,#c6927b,#c6917a,#c6907a,#c6917a,#c6927c,#c6957f,#c59a86,#c39f8e,#bfa698,#b9aba3,#b2b0af,#abafb7,#a4aebe,#9dabc2,#97a8c5,#92a6c8,#8fa3c9,#8da2ca,#8ba1ca,#8ba1ca,#8ba1ca,#8ca2ca,#8da2ca,#8ea3c9,#8fa4c9,#8fa4c9,#8fa4c9,#90a4c9,#91a5c8,#93a6c7,#96a8c6,#9aaac4,#9eabc2,#a1adc0,#a4aebe,#a6aebc,#a8afba,#a9afb9,#aaafb9,#aaafb8,#aaafb8,#aaafb8,#abafb8,#abafb8,#abafb8,#abafb8,#aaafb8,#aaafb9,#a9afb9,#a8afba,#a8afbb,#a7aebb,#a6aebc,#a6aebc,#a5aebd,#a5aebd,#a4aebd,#a4aebe,#a4aebe,#a3aebe,#a3adbf,#a2adbf,#a2adbf,#a2adbf,#a2adbf,#a2adbf,#a3adbf,#a3adbf,#a3aebe,#a3aebe,#a3aebe,#a3aebe,#a3aebe,#a3aebe,#a3aebe,#a3aebe,#a3aebf,#a3aebf)"></i>
<i style="top:88px;height:2px;background:linear-gradient(90deg,#c6947e,#c6947e,#c6937d,#c6937c,#c6927c,#c6927c,#c6927c,#c6947e,#c59782,#c49c89,#c2a191,#bea79a,#b9aca5,#b2b0af,#abafb7,#a4aebd,#9eacc1,#99a9c4,#95a7c6,#91a5c8,#8fa4c9,#8ea3c9,#8ea3c9,#8ea3c9,#8fa3c9,#90a4c9,#91a5c8,#92a5c8,#92a6c8,#92a6c8,#93a6c7,#94a7c7,#96a8c6,#99a9c4,#9cabc3,#9facc1,#a1adc0,#a4aebe,#a6aebc,#a7aebb,#a8afba,#a9afb9,#a9afb9,#aaafb8,#aaafb8,#aaafb8,#abafb8,#abafb8,#abafb8,#aaafb8,#aaafb9,#a9afb9,#a8afba,#a8afba,#a7aebb,#a6aebc,#a6aebc,#a5aebd,#a5aebd,#a4aebd,#a4aebe,#a4aebe,#a3aebe,#a3adbf,#a3adbf,#a2adbf,#a2adbf,#a2adbf,#a3adbf,#a3adbf,#a3aebf,#a3aebe,#a3aebe,#a3aebe,#a3aebe,#a3aebe,#a3aebe,#a3aebe,#a3aebf,#a3adbf,#a3adbf)"></i>
<i style="top:90px;height:2px;background:linear-gradient(90deg,#c6957f,#c6947f,#c6947e,#c6937d,#c6937d,#c6937d,#c6947e,#c69680,#c59985,#c49d8b,#c1a293,#bea89c,#b8aca6,#b1b0b0,#abafb7,#a5aebd,#9facc1,#9baac4,#97a8c5,#94a7c7,#92a5c8,#91a5c8,#90a4c8,#90a4c8,#91a5c8,#92a5c8,#93a6c7,#94a7c7,#94a7c7,#95a7c6,#96a8c6,#97a8c5,#99a9c5,#9baac3,#9dabc2,#9facc1,#a2adbf,#a4aebe,#a5aebd,#a7aebb,#a8afba,#a8afba,#a9afb9,#aaafb9,#aaafb8,#aaafb8,#abafb8,#abafb8,#aaafb8,#aaafb8,#aaafb9,#a9afb9,#a8afba,#a8afba,#a7aebb,#a6aebc,#a6aebc,#a5aebd,#a5aebd,#a5aebd,#a4aebe,#a4aebe,#a3aebe,#a3aebe,#a3adbf,#a3adbf,#a3adbf,#a3adbf,#a3adbf,#a3adbf,#a3aebe,#a3aebe,#a3aebe,#a3aebe,#a3aebe,#a3aebe,#a3aebe,#a3aebe,#a3aebf,#a3adbf,#a3adbf)"></i>
<i style="top:92px;height:2px;background:linear-gradient(90deg,#c6957f,#c6957f,#c6957f,#c6947e,#c6947e,#c6957f,#c69680,#c59783,#c59a87,#c39e8d,#c1a394,#bda99d,#b7ada7,#b1b1b0,#abafb7,#a6aebc,#a0acc0,#9cabc3,#99a9c5,#96a8c6,#94a7c7,#93a6c7,#93a6c7,#93a6c7,#93a6c7,#94a7c7,#95a7c6,#95a8c6,#96a8c6,#97a8c5,#98a9c5,#99a9c4,#9aaac4,#9cabc3,#9eacc1,#a0acc0,#a2adbf,#a4aebe,#a5aebd,#a6aebc,#a7aebb,#a8afba,#a9afb9,#a9afb9,#aaafb9,#aaafb8,#aaafb8,#aaafb8,#aaafb8,#aaafb8,#aaafb9,#a9afb9,#a8afba,#a8afba,#a7aebb,#a6aebc,#a6aebc,#a5aebd,#a5aebd,#a4aebd,#a4aebe,#a4aebe,#a4aebe,#a3aebe,#a3aebe,#a3adbf,#a3adbf,#a3adbf,#a3adbf,#a3aebf,#a3aebe,#a3aebe,#a3aebe,#a3aebe,#a3aebe,#a3aebe,#a3aebe,#a3aebf,#a3adbf,#a3adbf,#a3adbf)"></i>
<i style="top:94px;height:2px;background:linear-gradient(90deg,#c69580,#c69580,#c6957f,#c6957f,#c6957f,#c69680,#c59781,#c59984,#c49c89,#c3a08e,#c0a496,#bca99e,#b7ada8,#b1b1b1,#abafb7,#a6aebc,#a1adbf,#9dabc2,#9aaac4,#98a9c5,#96a8c6,#95a7c6,#95a7c6,#95a7c6,#95a7c6,#96a8c6,#96a8c6,#97a8c5,#98a9c5,#99a9c4,#9aaac4,#9baac4,#9cabc3,#9dabc2,#9facc1,#a1adc0,#a2adbf,#a3aebe,#a5aebd,#a6aebc,#a7aebb,#a8afba,#a8afba,#a9afb9,#aaafb9,#aaafb8,#aaafb8,#aaafb8,#aaafb8,#aaafb9,#a9afb9,#a9afb9,#a8afba,#a8afbb,#a7aebb,#a6aebc,#a6aebc,#a5aebd,#a5aebd,#a4aebd,#a4aebe,#a4aebe,#a4aebe,#a3aebe,#a3aebe,#a3aebe,#a3aebf,#a3aebf,#a3aebe,#a3aebe,#a3aebe,#a3aebe,#a3aebe,#a3aebe,#a3aebe,#a3aebe,#a3aebf,#a3adbf,#a3adbf,#a3adbf,#a3adbf)"></i>
<i style="top:96px;height:2px;background:linear-gradient(90deg,#c69680,#c69680,#c69580,#c69580,#c69680,#c59681,#c59883,#c59a86,#c49d8a,#c2a090,#c0a597,#bcaa9f,#b6ada8,#b1b1b1,#abafb7,#a7aebb,#a2adbf,#9facc1,#9cabc3,#9aaac4,#98a9c5,#97a8c5,#97a8c6,#96a8c6,#97a8c5,#97a8c5,#98a9c5,#98a9c5,#99a9c4,#9aaac4,#9baac3,#9cabc3,#9dabc2,#9eacc1,#a0acc1,#a1adc0,#a2adbf,#a4aebe,#a5aebd,#a6aebc,#a7aebb,#a7afbb,#a8afba,#a9afb9,#a9afb9,#aaafb9,#aaafb8,#aaafb8,#aaafb9,#aaafb9,#a9afb9,#a9afba,#a8afba,#a7afbb,#a7aebb,#a6aebc,#a6aebc,#a5aebd,#a5aebd,#a4aebd,#a4aebe,#a4aebe,#a4aebe,#a3aebe,#a3aebe,#a3aebe,#a3aebe,#a3aebe,#a3aebe,#a3aebe,#a3aebe,#a3aebe,#a3aebe,#a3aebe,#a3aebe,#a3aebf,#a3aebf,#a3adbf,#a3adbf,#a3adbf,#a3adbf)"></i>
<i style="top:98px;height:2px;background:linear-gradient(90deg,#c69680,#c69680,#c69680,#c69680,#c59681,#c59782,#c59884,#c59a87,#c49d8b,#c2a191,#bfa698,#bbaaa0,#b6ada9,#b1b1b1,#acafb7,#a7aebb,#a3aebe,#a0acc1,#9dabc2,#9baac3,#9aaac4,#99a9c4,#98a9c5,#98a9c5,#98a9c5,#98a9c5,#99a9c4,#9aaac4,#9aaac4,#9baac3,#9cabc3,#9dabc2,#9eabc2,#9facc1,#a0acc0,#a1adc0,#a2adbf,#a4aebe,#a5aebd,#a5aebc,#a6aebc,#a7aebb,#a8afba,#a9afba,#a9afb9,#a9afb9,#aaafb9,#aaafb9,#aaafb9,#a9afb9,#a9afb9,#a8afba,#a8afba,#a7aebb,#a7aebb,#a6aebc,#a5aebc,#a5aebd,#a5aebd,#a4aebd,#a4aebe,#a4aebe,#a4aebe,#a3aebe,#a3aebe,#a3aebe,#a3aebe,#a3aebe,#a3aebe,#a3aebe,#a3aebe,#a3aebe,#a3aebe,#a3aebe,#a3aebf,#a3aebf,#a3adbf,#a3adbf,#a3adbf,#a3adbf,#a3adbf)"></i>
<i style="top:100px;height:2px;background:linear-gradient(90deg,#c69680,#c69680,#c69681,#c59681,#c59782,#c59783,#c59985,#c49b88,#c39e8c,#c2a292,#bfa699,#bbaaa1,#b6aea9,#b1b1b1,#acb0b6,#a7afbb,#a4aebe,#a1adc0,#9eacc1,#9cabc3,#9baac3,#9aaac4,#9aaac4,#99aac4,#99aac4,#9aaac4,#9aaac4,#9baac3,#9baac3,#9cabc3,#9dabc2,#9eabc2,#9facc1,#9facc1,#a1adc0,#a2adbf,#a3adbf,#a4aebe,#a4aebd,#a5aebc,#a6aebc,#a7aebb,#a8afba,#a8afba,#a9afb9,#a9afb9,#a9afb9,#a9afb9,#a9afb9,#a9afb9,#a9afba,#a8afba,#a8afbb,#a7aebb,#a6aebc,#a6aebc,#a5aebd,#a5aebd,#a5aebd,#a4aebe,#a4aebe,#a4aebe,#a4aebe,#a3aebe,#a3aebe,#a3aebe,#a3aebe,#a3aebe,#a3aebe,#a3aebe,#a3aebe,#a3aebe,#a3aebf,#a3aebf,#a3aebf,#a3adbf,#a3adbf,#a3adbf,#a3adbf,#a3adbf,#a3adbf)"></i>
<i style="top:102px;height:2px;background:linear-gradient(90deg,#c69681,#c59681,#c59681,#c59681,#c59782,#c59883,#c59985,#c49c89,#c39e8d,#c1a292,#bfa699,#bbaaa1,#b6aea9,#b0b1b1,#acb0b6,#a8afba,#a4aebd,#a1adbf,#9facc1,#9dabc2,#9cabc3,#9baac3,#9baac3,#9baac3,#9baac3,#9baac3,#9baac3,#9cabc3,#9cabc3,#9dabc2,#9eabc2,#9eacc1,#9facc1,#a0acc0,#a1adc0,#a2adbf,#a3adbf,#a4aebe,#a4aebd,#a5aebd,#a6aebc,#a7aebb,#a7afbb,#a8afba,#a9afba,#a9afb9,#a9afb9,#a9afb9,#a9afb9,#a9afba,#a8afba,#a8afba,#a7afbb,#a7aebb,#a6aebc,#a6aebc,#a5aebd,#a5aebd,#a4aebd,#a4aebe,#a4aebe,#a4aebe,#a3aebe,#a3aebe,#a3aebe,#a3aebe,#a3aebe,#a3aebe,#a3aebe,#a3aebe,#a3aebf,#a3aebf,#a3aebf,#a3adbf,#a3adbf,#a3adbf,#a3adbf,#a3adbf,#a3adbf,#a3adbf,#a3adbf)"></i>
<i style="top:104px;height:2px;background:linear-gradient(90deg,#c59681,#c59681,#c59681,#c59782,#c59782,#c59884,#c59a86,#c49c89,#c39f8d,#c1a393,#bea79a,#baaaa2,#b6aeaa,#b1b1b1,#acb0b6,#a8afba,#a5aebd,#a2adbf,#a0acc0,#9eacc1,#9dabc2,#9cabc2,#9cabc3,#9cabc3,#9cabc3,#9cabc3,#9cabc3,#9dabc2,#9dabc2,#9eabc2,#9eacc1,#9facc1,#a0acc1,#a0acc0,#a1adc0,#a2adbf,#a3adbf,#a4aebe,#a4aebd,#a5aebd,#a6aebc,#a7aebb,#a7aebb,#a8afba,#a8afba,#a9afba,#a9afba,#a9afb9,#a9afba,#a8afba,#a8afba,#a8afbb,#a7aebb,#a7aebb,#a6aebc,#a5aebc,#a5aebd,#a5aebd,#a4aebd,#a4aebe,#a4aebe,#a4aebe,#a3aebe,#a3aebe,#a3aebe,#a3aebe,#a3aebe,#a3aebe,#a3aebf,#a3aebf,#a3aebf,#a3aebf,#a3adbf,#a3adbf,#a3adbf,#a3adbf,#a3adbf,#a3adbf,#a3adbf,#a3adbf,#a3adbf)"></i>
<i style="top:106px;height:2px;background:linear-gradient(90deg,#c59681,#c59681,#c59681,#c59782,#c59783,#c59884,#c59a86,#c49c8a,#c39f8e,#c1a393,#bea79a,#baaba2,#b6aeaa,#b1b1b1,#acb0b6,#a8afba,#a5aebd,#a3adbf,#a1adc0,#9facc1,#9eacc1,#9dabc2,#9dabc2,#9dabc2,#9dabc2,#9dabc2,#9dabc2,#9dabc2,#9eabc2,#9eacc1,#9facc1,#9facc1,#a0acc0,#a1adc0,#a1adc0,#a2adbf,#a3adbf,#a4aebe,#a4aebd,#a5aebd,#a6aebc,#a6aebc,#a7aebb,#a7afbb,#a8afba,#a8afba,#a8afba,#a8afba,#a8afba,#a8afba,#a8afba,#a7afbb,#a7aebb,#a6aebc,#a6aebc,#a5aebd,#a5aebd,#a4aebd,#a4aebe,#a4aebe,#a4aebe,#a3aebe,#a3aebe,#a3aebe,#a3aebe,#a3aebe,#a3aebe,#a3aebf,#a3aebf,#a3aebf,#a3adbf,#a3adbf,#a3adbf,#a3adbf,#a3adbf,#a3adbf,#a3adbf,#a3adbf,#a3adbf,#a3adbf,#a3adbf)"></i>
<i style="top:108px;height:2px;background:linear-gradient(90deg,#c59681,#c59681,#c59781,#c59782,#c59883,#c59984,#c59a87,#c49c8a,#c39f8e,#c1a394,#bea79a,#baaba2,#b5aeaa,#b1b1b1,#acb0b6,#a9afba,#a6aebc,#a3aebe,#a1adc0,#a0acc0,#9facc1,#9eacc1,#9eabc2,#9dabc2,#9dabc2,#9dabc2,#9eabc2,#9eabc2,#9eacc1,#9facc1,#9facc1,#a0acc1,#a0acc0,#a1adc0,#a2adbf,#a2adbf,#a3adbf,#a4aebe,#a4aebd,#a5aebd,#a6aebc,#a6aebc,#a7aebb,#a7aebb,#a8afbb,#a8afba,#a8afba,#a8afba,#a8afba,#a8afba,#a7afbb,#a7aebb,#a7aebb,#a6aebc,#a6aebc,#a5aebd,#a5aebd,#a4aebd,#a4aebe,#a4aebe,#a4aebe,#a3aebe,#a3aebe,#a3aebe,#a3aebe,#a3aebe,#a3aebf,#a3aebf,#a3adbf,#a3adbf,#a3adbf,#a3adbf,#a3adbf,#a3adbf,#a3adbf,#a3adbf,#a3adbf,#a3adbf,#a3adbf,#a3adbf,#a3adbf)"></i>
<i style="top:110px;height:2px;background:linear-gradient(90deg,#c59681,#c59681,#c59781,#c59782,#c59883,#c59984,#c59a87,#c49c8a,#c39f8e,#c1a394,#bea79a,#baaba2,#b5aeaa,#b1b1b1,#acb0b6,#a9afba,#a6aebc,#a3aebe,#a1adc0,#a0acc0,#9facc1,#9eacc1,#9eabc2,#9eabc2,#9dabc2,#9dabc2,#9eabc2,#9eabc2,#9eacc1,#9facc1,#9facc1,#a0acc0,#a0acc0,#a1adc0,#a2adbf,#a2adbf,#a3adbf,#a4aebe,#a4aebd,#a5aebd,#a6aebc,#a6aebc,#a7aebb,#a7aebb,#a8afbb,#a8afba,#a8afba,#a8afba,#a8afba,#a8afba,#a7afbb,#a7aebb,#a7aebb,#a6aebc,#a6aebc,#a5aebd,#a5aebd,#a4aebd,#a4aebe,#a4aebe,#a4aebe,#a3aebe,#a3aebe,#a3aebe,#a3aebe,#a3aebe,#a3aebf,#a3aebf,#a3adbf,#a3adbf,#a3adbf,#a3adbf,#a3adbf,#a3adbf,#a3adbf,#a3adbf,#a3adbf,#a3adbf,#a3adbf,#a3adbf,#a3adbf)"></i>
</div></div>
<div class="cyl" style="left:51.68px;top:331.98px;width:25.92px;height:25.92px"></div>
<div class="cyl" style="left:51.68px;top:446.38px;width:25.92px;height:25.92px"></div>
<div class="k" style="left:12.30px;top:288.50px;width:1px;height:2.2px;background:#c8c8c8"></div>
<div class="t" style="left:12.80px;top:287.00px;font-size:5.5px;line-height:5.5px;color:#333;transform:translate(-50%,-50%);">0</div>
<div class="k" style="left:64.13px;top:288.50px;width:1px;height:2.2px;background:#c8c8c8"></div>
<div class="t" style="left:64.63px;top:287.00px;font-size:5.5px;line-height:5.5px;color:#333;transform:translate(-50%,-50%);">2</div>
<div class="k" style="left:115.97px;top:288.50px;width:1px;height:2.2px;background:#c8c8c8"></div>
<div class="t" style="left:116.47px;top:287.00px;font-size:5.5px;line-height:5.5px;color:#333;transform:translate(-50%,-50%);">4</div>
<div class="k" style="left:167.80px;top:288.50px;width:1px;height:2.2px;background:#c8c8c8"></div>
<div class="t" style="left:168.30px;top:287.00px;font-size:5.5px;line-height:5.5px;color:#333;transform:translate(-50%,-50%);">6</div>
<div class="k" style="left:219.63px;top:288.50px;width:1px;height:2.2px;background:#c8c8c8"></div>
<div class="t" style="left:220.13px;top:287.00px;font-size:5.5px;line-height:5.5px;color:#333;transform:translate(-50%,-50%);">8</div>
<div class="k" style="left:271.47px;top:288.50px;width:1px;height:2.2px;background:#c8c8c8"></div>
<div class="t" style="left:271.97px;top:287.00px;font-size:5.5px;line-height:5.5px;color:#333;transform:translate(-50%,-50%);">10</div>
<div class="k" style="left:323.30px;top:288.50px;width:1px;height:2.2px;background:#c8c8c8"></div>
<div class="t" style="left:323.80px;top:287.00px;font-size:5.5px;line-height:5.5px;color:#333;transform:translate(-50%,-50%);">12</div>
<div class="t" style="left:168.30px;top:282.30px;font-size:5.5px;line-height:5.5px;color:#333;transform:translate(-50%,-50%);">X</div>
<div class="k" style="left:12.30px;top:403.00px;width:1px;height:2.2px;background:#c8c8c8"></div>
<div class="t" style="left:12.80px;top:401.90px;font-size:5.5px;line-height:5.5px;color:#333;transform:translate(-50%,-50%);">0</div>
<div class="k" style="left:64.13px;top:403.00px;width:1px;height:2.2px;background:#c8c8c8"></div>
<div class="t" style="left:64.63px;top:401.90px;font-size:5.5px;line-height:5.5px;color:#333;transform:translate(-50%,-50%);">2</div>
<div class="k" style="left:115.97px;top:403.00px;width:1px;height:2.2px;background:#c8c8c8"></div>
<div class="t" style="left:116.47px;top:401.90px;font-size:5.5px;line-height:5.5px;color:#333;transform:translate(-50%,-50%);">4</div>
<div class="k" style="left:167.80px;top:403.00px;width:1px;height:2.2px;background:#c8c8c8"></div>
<div class="t" style="left:168.30px;top:401.90px;font-size:5.5px;line-height:5.5px;color:#333;transform:translate(-50%,-50%);">6</div>
<div class="k" style="left:219.63px;top:403.00px;width:1px;height:2.2px;background:#c8c8c8"></div>
<div class="t" style="left:220.13px;top:401.90px;font-size:5.5px;line-height:5.5px;color:#333;transform:translate(-50%,-50%);">8</div>
<div class="k" style="left:271.47px;top:403.00px;width:1px;height:2.2px;background:#c8c8c8"></div>
<div class="t" style="left:271.97px;top:401.90px;font-size:5.5px;line-height:5.5px;color:#333;transform:translate(-50%,-50%);">10</div>
<div class="k" style="left:323.30px;top:403.00px;width:1px;height:2.2px;background:#c8c8c8"></div>
<div class="t" style="left:323.80px;top:401.90px;font-size:5.5px;line-height:5.5px;color:#333;transform:translate(-50%,-50%);">12</div>
<div class="k" style="left:12.30px;top:510.90px;width:1px;height:2.2px;background:#c8c8c8"></div>
<div class="t" style="left:12.80px;top:516.00px;font-size:5.5px;line-height:5.5px;color:#333;transform:translate(-50%,-50%);">0</div>
<div class="k" style="left:64.13px;top:510.90px;width:1px;height:2.2px;background:#c8c8c8"></div>
<div class="t" style="left:64.63px;top:516.00px;font-size:5.5px;line-height:5.5px;color:#333;transform:translate(-50%,-50%);">2</div>
<div class="k" style="left:115.97px;top:510.90px;width:1px;height:2.2px;background:#c8c8c8"></div>
<div class="t" style="left:116.47px;top:516.00px;font-size:5.5px;line-height:5.5px;color:#333;transform:translate(-50%,-50%);">4</div>
<div class="k" style="left:167.80px;top:510.90px;width:1px;height:2.2px;background:#c8c8c8"></div>
<div class="t" style="left:168.30px;top:516.00px;font-size:5.5px;line-height:5.5px;color:#333;transform:translate(-50%,-50%);">6</div>
<div class="k" style="left:219.63px;top:510.90px;width:1px;height:2.2px;background:#c8c8c8"></div>
<div class="t" style="left:220.13px;top:516.00px;font-size:5.5px;line-height:5.5px;color:#333;transform:translate(-50%,-50%);">8</div>
<div class="k" style="left:271.47px;top:510.90px;width:1px;height:2.2px;background:#c8c8c8"></div>
<div class="t" style="left:271.97px;top:516.00px;font-size:5.5px;line-height:5.5px;color:#333;transform:translate(-50%,-50%);">10</div>
<div class="k" style="left:323.30px;top:510.90px;width:1px;height:2.2px;background:#c8c8c8"></div>
<div class="t" style="left:323.80px;top:516.00px;font-size:5.5px;line-height:5.5px;color:#333;transform:translate(-50%,-50%);">12</div>
<div class="t" style="left:168.30px;top:520.10px;font-size:5.5px;line-height:5.5px;color:#333;transform:translate(-50%,-50%);">X</div>
<div class="t" style="left:12.40px;top:294.28px;font-size:5.5px;line-height:5.5px;color:#333;transform:translate(-100%,-50%);">4</div>
<div class="t" style="left:11.80px;top:345.24px;font-size:5.5px;line-height:5.5px;color:#333;transform:translate(-100%,-50%);">2</div>
<div class="t" style="left:7.80px;top:343.24px;font-size:6.5px;line-height:6.5px;color:#333;transform:translate(-100%,-50%);">Y</div>
<div class="t" style="left:11.80px;top:397.70px;font-size:5.5px;line-height:5.5px;color:#333;transform:translate(-100%,-50%);">0</div>
<div class="t" style="left:326.30px;top:293.58px;font-size:5.5px;line-height:5.5px;color:#333;transform:translate(0,-50%);">4</div>
<div class="t" style="left:326.00px;top:345.34px;font-size:5.5px;line-height:5.5px;color:#333;transform:translate(0,-50%);">2</div>
<div class="t" style="left:329.00px;top:343.54px;font-size:6.5px;line-height:6.5px;color:#333;transform:translate(0,-50%);">Y</div>
<div class="t" style="left:326.00px;top:396.90px;font-size:5.5px;line-height:5.5px;color:#333;transform:translate(0,-50%);">0</div>
<div class="t" style="left:12.40px;top:408.78px;font-size:5.5px;line-height:5.5px;color:#333;transform:translate(-100%,-50%);">4</div>
<div class="t" style="left:11.80px;top:459.64px;font-size:5.5px;line-height:5.5px;color:#333;transform:translate(-100%,-50%);">2</div>
<div class="t" style="left:7.80px;top:457.64px;font-size:6.5px;line-height:6.5px;color:#333;transform:translate(-100%,-50%);">Y</div>
<div class="t" style="left:11.80px;top:512.00px;font-size:5.5px;line-height:5.5px;color:#333;transform:translate(-100%,-50%);">0</div>
<div class="t" style="left:326.30px;top:408.08px;font-size:5.5px;line-height:5.5px;color:#333;transform:translate(0,-50%);">4</div>
<div class="t" style="left:326.00px;top:459.74px;font-size:5.5px;line-height:5.5px;color:#333;transform:translate(0,-50%);">2</div>
<div class="t" style="left:329.00px;top:457.94px;font-size:6.5px;line-height:6.5px;color:#333;transform:translate(0,-50%);">Y</div>
<div class="t" style="left:326.00px;top:511.20px;font-size:5.5px;line-height:5.5px;color:#333;transform:translate(0,-50%);">0</div>
<div class="k" style="left:346px;top:338.6px;width:7px;height:108.29999999999995px;background:linear-gradient(180deg,#b40426,#ba162b,#c0282f,#c63434,#cb3f38,#d0483d,#d55143,#da5948,#de614e,#e26953,#e67159,#e9795e,#ec8064,#ef876a,#f18e70,#f39576,#f49c7d,#f6a283,#f7a889,#f7ad8f,#f7b396,#f7b89c,#f7bda2,#f6c1a9,#f4c6af,#f2cab5,#f0cdbb,#edd1c2,#ead4c8,#e7d7ce,#e3d9d4,#dfdcda,#dbdcdf,#d7dbe4,#d3dae8,#ced9ec,#c9d8f0,#c4d6f3,#bfd3f6,#bad1f8,#b5cefa,#b0cafc,#aac7fe,#a5c3ff,#9fbfff,#9abaff,#94b6ff,#8eb1fe,#89acfd,#83a6fb,#7ea1f9,#789bf7,#7295f5,#6d8ff1,#6889ee,#6383ea,#5d7ce6,#5876e1,#526fdc,#4d68d7,#4961d2,#445acc,#4053c6,#3b4cc0)"></div>
<div class="k" style="left:351.00px;top:338.10px;width:5.5px;height:1px;background:#bbb"></div>
<div class="t" style="left:357.50px;top:337.30px;font-size:7.0px;line-height:7.0px;color:#444;transform:translate(0,-50%);">1.5</div>
<div class="k" style="left:351.00px;top:351.10px;width:5.5px;height:1px;background:#bbb"></div>
<div class="t" style="left:357.50px;top:350.30px;font-size:7.0px;line-height:7.0px;color:#444;transform:translate(0,-50%);">1.2</div>
<div class="k" style="left:351.00px;top:359.76px;width:5.5px;height:1px;background:#bbb"></div>
<div class="t" style="left:357.50px;top:358.96px;font-size:7.0px;line-height:7.0px;color:#444;transform:translate(0,-50%);">1</div>
<div class="k" style="left:351.00px;top:368.42px;width:5.5px;height:1px;background:#bbb"></div>
<div class="t" style="left:357.50px;top:367.62px;font-size:7.0px;line-height:7.0px;color:#444;transform:translate(0,-50%);">0.8</div>
<div class="k" style="left:351.00px;top:377.09px;width:5.5px;height:1px;background:#bbb"></div>
<div class="t" style="left:357.50px;top:376.29px;font-size:7.0px;line-height:7.0px;color:#444;transform:translate(0,-50%);">0.6</div>
<div class="k" style="left:351.00px;top:385.75px;width:5.5px;height:1px;background:#bbb"></div>
<div class="t" style="left:357.50px;top:384.95px;font-size:7.0px;line-height:7.0px;color:#444;transform:translate(0,-50%);">0.4</div>
<div class="k" style="left:351.00px;top:394.42px;width:5.5px;height:1px;background:#bbb"></div>
<div class="t" style="left:357.50px;top:393.62px;font-size:7.0px;line-height:7.0px;color:#444;transform:translate(0,-50%);">0.2</div>
<div class="k" style="left:351.00px;top:403.08px;width:5.5px;height:1px;background:#bbb"></div>
<div class="t" style="left:357.50px;top:402.28px;font-size:7.0px;line-height:7.0px;color:#444;transform:translate(0,-50%);">0</div>
<div class="k" style="left:351.00px;top:411.74px;width:5.5px;height:1px;background:#bbb"></div>
<div class="t" style="left:357.50px;top:410.94px;font-size:7.0px;line-height:7.0px;color:#444;transform:translate(0,-50%);">&minus;0.2</div>
<div class="k" style="left:351.00px;top:420.41px;width:5.5px;height:1px;background:#bbb"></div>
<div class="t" style="left:357.50px;top:419.61px;font-size:7.0px;line-height:7.0px;color:#444;transform:translate(0,-50%);">&minus;0.4</div>
<div class="k" style="left:351.00px;top:429.07px;width:5.5px;height:1px;background:#bbb"></div>
<div class="t" style="left:357.50px;top:428.27px;font-size:7.0px;line-height:7.0px;color:#444;transform:translate(0,-50%);">&minus;0.6</div>
<div class="k" style="left:351.00px;top:437.74px;width:5.5px;height:1px;background:#bbb"></div>
<div class="t" style="left:357.50px;top:436.94px;font-size:7.0px;line-height:7.0px;color:#444;transform:translate(0,-50%);">&minus;0.8</div>
<div class="k" style="left:351.00px;top:446.40px;width:5.5px;height:1px;background:#bbb"></div>
<div class="t" style="left:357.50px;top:445.60px;font-size:7.0px;line-height:7.0px;color:#444;transform:translate(0,-50%);">&minus;1.0</div>
<div class="cap" style="left:188px;top:537.5px"><span class="p">(</span><b>b</b><span class="p">)</span></div>
</body></html>
